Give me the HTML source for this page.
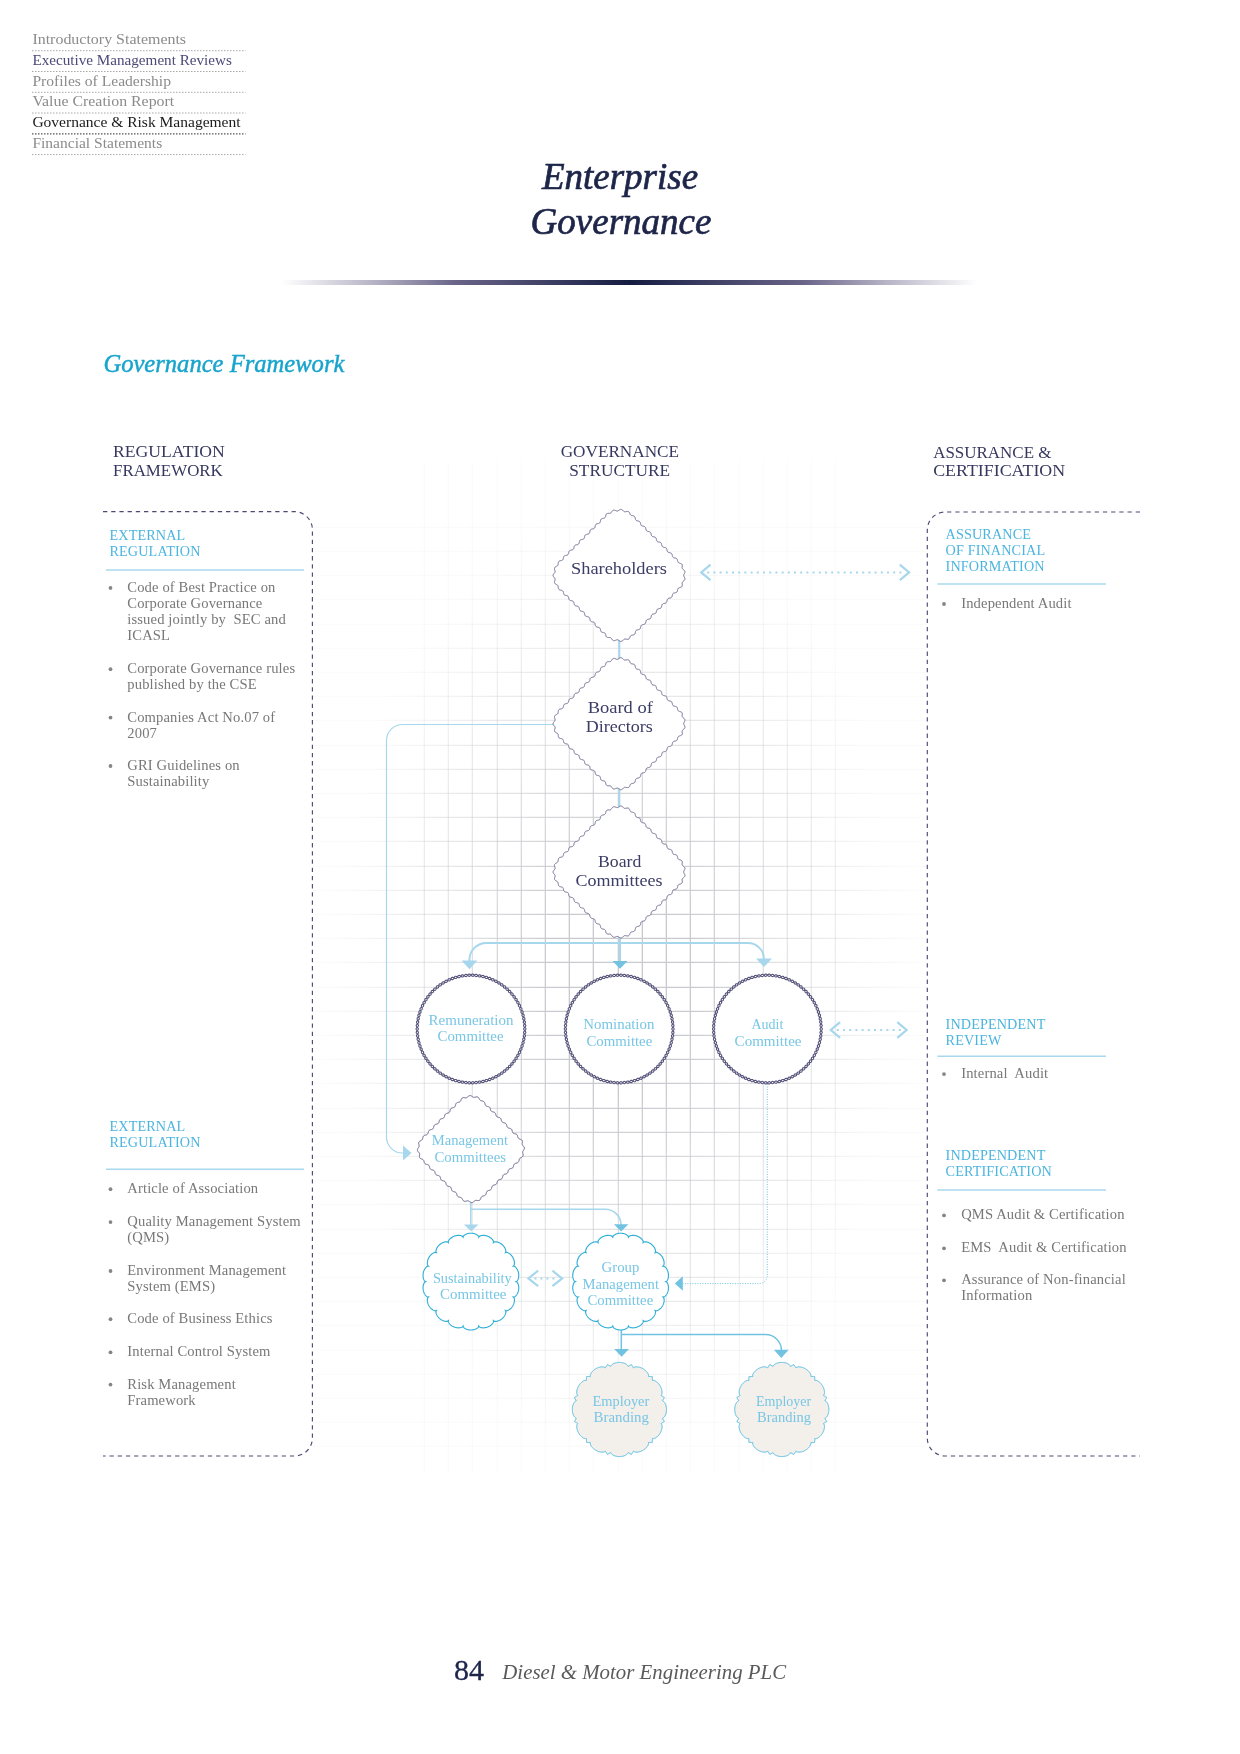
<!DOCTYPE html>
<html><head><meta charset="utf-8"><title>Enterprise Governance</title>
<style>
html,body{margin:0;padding:0;background:#fff;}
body{width:1240px;height:1754px;overflow:hidden;position:relative;}
svg{position:absolute;left:0;top:0;display:block;will-change:transform;}
text{font-family:"Liberation Serif",serif;white-space:pre;}
</style></head><body>
<svg width="1240" height="1754" viewBox="0 0 1240 1754">
<text x="32.4" y="44.4" textLength="153.7" lengthAdjust="spacingAndGlyphs" style="font-size:15px;fill:#8b8b8b;">Introductory Statements</text>
<line x1="32" y1="50.7" x2="245.5" y2="50.7" stroke="#a8a8a8" stroke-width="1" stroke-dasharray="1.5 1.5"/>
<text x="32.4" y="65" textLength="199.5" lengthAdjust="spacingAndGlyphs" style="font-size:15px;fill:#4b4a78;">Executive Management Reviews</text>
<line x1="32" y1="71.5" x2="245.5" y2="71.5" stroke="#a8a8a8" stroke-width="1" stroke-dasharray="1.5 1.5"/>
<text x="32.4" y="85.6" textLength="138.6" lengthAdjust="spacingAndGlyphs" style="font-size:15px;fill:#8b8b8b;">Profiles of Leadership</text>
<line x1="32" y1="92.3" x2="245.5" y2="92.3" stroke="#a8a8a8" stroke-width="1" stroke-dasharray="1.5 1.5"/>
<text x="32.4" y="106.2" textLength="141.8" lengthAdjust="spacingAndGlyphs" style="font-size:15px;fill:#8b8b8b;">Value Creation Report</text>
<line x1="32" y1="113" x2="245.5" y2="113" stroke="#a8a8a8" stroke-width="1" stroke-dasharray="1.5 1.5"/>
<text x="32.4" y="127" textLength="208.2" lengthAdjust="spacingAndGlyphs" style="font-size:15px;fill:#1b1b1b;">Governance &amp; Risk Management</text>
<line x1="32" y1="133.9" x2="245.5" y2="133.9" stroke="#2a2a2a" stroke-width="1" stroke-dasharray="1.5 1.5"/>
<text x="32.4" y="147.8" textLength="129.8" lengthAdjust="spacingAndGlyphs" style="font-size:15px;fill:#8b8b8b;">Financial Statements</text>
<line x1="32" y1="154.6" x2="245.5" y2="154.6" stroke="#a8a8a8" stroke-width="1" stroke-dasharray="1.5 1.5"/>
<text x="620" y="188.7" text-anchor="middle" style="font-size:37px;fill:#1d2549;font-style:italic;" stroke="#1d2549" stroke-width="0.7">Enterprise</text>
<text x="621" y="233.9" text-anchor="middle" style="font-size:37px;fill:#1d2549;font-style:italic;" stroke="#1d2549" stroke-width="0.7">Governance</text>
<defs><linearGradient id="rule" x1="282" x2="977" y1="0" y2="0" gradientUnits="userSpaceOnUse"><stop offset="0" stop-color="#4a4470" stop-opacity="0"/><stop offset="0.13" stop-color="#4a4470" stop-opacity="0.4"/><stop offset="0.25" stop-color="#433d6a" stop-opacity="0.8"/><stop offset="0.5" stop-color="#141c40" stop-opacity="1"/><stop offset="0.75" stop-color="#433d6a" stop-opacity="0.8"/><stop offset="0.87" stop-color="#4a4470" stop-opacity="0.4"/><stop offset="1" stop-color="#4a4470" stop-opacity="0"/></linearGradient></defs>
<rect x="282" y="280" width="695" height="5" fill="url(#rule)"/>
<text x="103.4" y="372" textLength="241" lengthAdjust="spacingAndGlyphs" style="font-size:24.6px;fill:#17a4cd;font-style:italic;" stroke="#17a4cd" stroke-width="0.45">Governance Framework</text>
<text x="113" y="457" textLength="111.8" lengthAdjust="spacingAndGlyphs" style="font-size:17.3px;fill:#36395f;">REGULATION</text>
<text x="113" y="475.6" textLength="109.8" lengthAdjust="spacingAndGlyphs" style="font-size:17.3px;fill:#36395f;">FRAMEWORK</text>
<text x="560.7" y="457" textLength="118.3" lengthAdjust="spacingAndGlyphs" style="font-size:17.3px;fill:#36395f;">GOVERNANCE</text>
<text x="569.2" y="475.6" textLength="101" lengthAdjust="spacingAndGlyphs" style="font-size:17.3px;fill:#36395f;">STRUCTURE</text>
<text x="933.2" y="457.5" textLength="118.3" lengthAdjust="spacingAndGlyphs" style="font-size:17.3px;fill:#36395f;">ASSURANCE &amp;</text>
<text x="933.2" y="476" textLength="132" lengthAdjust="spacingAndGlyphs" style="font-size:17.3px;fill:#36395f;">CERTIFICATION</text>
<defs>
<radialGradient id="gmh" cx="620" cy="980" r="1" gradientUnits="userSpaceOnUse" gradientTransform="translate(620 980) scale(300 480) translate(-620 -980)"><stop offset="0" stop-color="#fff" stop-opacity="1"/><stop offset="0.24" stop-color="#fff" stop-opacity="1"/><stop offset="0.37" stop-color="#fff" stop-opacity="0.8"/><stop offset="0.57" stop-color="#fff" stop-opacity="0.47"/><stop offset="0.68" stop-color="#fff" stop-opacity="0.4"/><stop offset="0.8" stop-color="#fff" stop-opacity="0.24"/><stop offset="0.9" stop-color="#fff" stop-opacity="0.14"/><stop offset="1.0" stop-color="#fff" stop-opacity="0.07"/></radialGradient>
<radialGradient id="gmv" cx="620" cy="980" r="1" gradientUnits="userSpaceOnUse" gradientTransform="translate(620 980) scale(300 480) translate(-620 -980)"><stop offset="0" stop-color="#fff" stop-opacity="1"/><stop offset="0.24" stop-color="#fff" stop-opacity="1"/><stop offset="0.37" stop-color="#fff" stop-opacity="0.8"/><stop offset="0.57" stop-color="#fff" stop-opacity="0.47"/><stop offset="0.68" stop-color="#fff" stop-opacity="0.4"/><stop offset="0.8" stop-color="#fff" stop-opacity="0.24"/><stop offset="0.9" stop-color="#fff" stop-opacity="0.14"/><stop offset="1.0" stop-color="#fff" stop-opacity="0.07"/></radialGradient>
<mask id="mh" maskUnits="userSpaceOnUse" x="0" y="0" width="1240" height="1754"><rect x="0" y="0" width="1240" height="1754" fill="url(#gmh)"/></mask>
<mask id="mv" maskUnits="userSpaceOnUse" x="0" y="0" width="1240" height="1754"><rect x="0" y="0" width="1240" height="1754" fill="url(#gmv)"/></mask>
</defs>
<path d="M313,527.4 H927 M313,551.4 H927 M313,575.4 H927 M313,599.4 H927 M313,624.4 H927 M313,648.4 H927 M313,672.4 H927 M313,696.4 H927 M313,720.4 H927 M313,745.4 H927 M313,769.4 H927 M313,793.4 H927 M313,817.4 H927 M313,841.4 H927 M313,866.4 H927 M313,890.4 H927 M313,914.4 H927 M313,938.4 H927 M313,962.4 H927 M313,987.4 H927 M313,1011.4 H927 M313,1035.4 H927 M313,1059.4 H927 M313,1083.4 H927 M313,1108.4 H927 M313,1132.4 H927 M313,1156.4 H927 M313,1180.4 H927 M313,1204.4 H927 M313,1229.4 H927 M313,1253.4 H927 M313,1277.4 H927 M313,1301.4 H927 M313,1325.4 H927 M313,1350.4 H927 M313,1374.4 H927 M313,1398.4 H927 M313,1422.4 H927 M313,1446.4 H927" stroke="#c9cacf" stroke-width="1.3" fill="none" mask="url(#mh)"/>
<path d="M424.35,462 V1472 M448.35,462 V1472 M472.35,462 V1472 M497.35,462 V1472 M521.35,462 V1472 M545.35,462 V1472 M569.35,462 V1472 M593.35,462 V1472 M618.35,462 V1472 M642.35,462 V1472 M666.35,462 V1472 M690.35,462 V1472 M714.35,462 V1472 M739.35,462 V1472 M763.35,462 V1472 M787.35,462 V1472 M811.35,462 V1472 M835.35,462 V1472" stroke="#c9cacf" stroke-width="1.3" fill="none" mask="url(#mv)"/>
<path d="M103,511.6 H294.4 A18,18 0 0 1 312.4,529.6 V1438 A18,18 0 0 1 294.4,1456 H103" fill="none" stroke="#4c4a72" stroke-width="1.15" stroke-dasharray="4.3 3.9"/>
<path d="M1140,512 H945.3 A18,18 0 0 0 927.3,530 V1438 A18,18 0 0 0 945.3,1456 H1140" fill="none" stroke="#4c4a72" stroke-width="1.15" stroke-dasharray="4.3 3.9"/>
<text x="109.5" y="539.7" style="font-size:14.2px;fill:#4cb5df;letter-spacing:0.12px;">EXTERNAL</text>
<text x="109.5" y="555.7" style="font-size:14.2px;fill:#4cb5df;letter-spacing:0.12px;">REGULATION</text>
<line x1="106" y1="570" x2="304" y2="570" stroke="#a9d9ee" stroke-width="1.6"/>
<circle cx="110.5" cy="587.9" r="1.9" fill="#858585"/>
<text x="127.3" y="591.9" style="font-size:14.6px;fill:#787878;letter-spacing:0.13px;">Code of Best Practice on</text>
<text x="127.3" y="607.9" style="font-size:14.6px;fill:#787878;letter-spacing:0.13px;">Corporate Governance</text>
<text x="127.3" y="623.9" style="font-size:14.6px;fill:#787878;letter-spacing:0.13px;">issued jointly by  SEC and</text>
<text x="127.3" y="639.9" style="font-size:14.6px;fill:#787878;letter-spacing:0.13px;">ICASL</text>
<circle cx="110.5" cy="669.2" r="1.9" fill="#858585"/>
<text x="127.3" y="673.2" style="font-size:14.6px;fill:#787878;letter-spacing:0.13px;">Corporate Governance rules</text>
<text x="127.3" y="689.2" style="font-size:14.6px;fill:#787878;letter-spacing:0.13px;">published by the CSE</text>
<circle cx="110.5" cy="717.6" r="1.9" fill="#858585"/>
<text x="127.3" y="721.6" style="font-size:14.6px;fill:#787878;letter-spacing:0.13px;">Companies Act No.07 of</text>
<text x="127.3" y="737.6" style="font-size:14.6px;fill:#787878;letter-spacing:0.13px;">2007</text>
<circle cx="110.5" cy="766" r="1.9" fill="#858585"/>
<text x="127.3" y="770" style="font-size:14.6px;fill:#787878;letter-spacing:0.13px;">GRI Guidelines on</text>
<text x="127.3" y="786" style="font-size:14.6px;fill:#787878;letter-spacing:0.13px;">Sustainability</text>
<text x="109.5" y="1131.4" style="font-size:14.2px;fill:#4cb5df;letter-spacing:0.12px;">EXTERNAL</text>
<text x="109.5" y="1147.4" style="font-size:14.2px;fill:#4cb5df;letter-spacing:0.12px;">REGULATION</text>
<line x1="106" y1="1169.3" x2="304" y2="1169.3" stroke="#a9d9ee" stroke-width="1.6"/>
<circle cx="110.5" cy="1189.2" r="1.9" fill="#858585"/>
<text x="127.3" y="1193.2" style="font-size:14.6px;fill:#787878;letter-spacing:0.13px;">Article of Association</text>
<circle cx="110.5" cy="1222.1" r="1.9" fill="#858585"/>
<text x="127.3" y="1226.1" style="font-size:14.6px;fill:#787878;letter-spacing:0.13px;">Quality Management System</text>
<text x="127.3" y="1242.1" style="font-size:14.6px;fill:#787878;letter-spacing:0.13px;">(QMS)</text>
<circle cx="110.5" cy="1271" r="1.9" fill="#858585"/>
<text x="127.3" y="1275" style="font-size:14.6px;fill:#787878;letter-spacing:0.13px;">Environment Management</text>
<text x="127.3" y="1291" style="font-size:14.6px;fill:#787878;letter-spacing:0.13px;">System (EMS)</text>
<circle cx="110.5" cy="1319.2" r="1.9" fill="#858585"/>
<text x="127.3" y="1323.2" style="font-size:14.6px;fill:#787878;letter-spacing:0.13px;">Code of Business Ethics</text>
<circle cx="110.5" cy="1352.3" r="1.9" fill="#858585"/>
<text x="127.3" y="1356.3" style="font-size:14.6px;fill:#787878;letter-spacing:0.13px;">Internal Control System</text>
<circle cx="110.5" cy="1384.6" r="1.9" fill="#858585"/>
<text x="127.3" y="1388.6" style="font-size:14.6px;fill:#787878;letter-spacing:0.13px;">Risk Management</text>
<text x="127.3" y="1404.6" style="font-size:14.6px;fill:#787878;letter-spacing:0.13px;">Framework</text>
<text x="945.6" y="538.8" style="font-size:14.2px;fill:#4cb5df;letter-spacing:0.12px;">ASSURANCE</text>
<text x="945.6" y="554.8" style="font-size:14.2px;fill:#4cb5df;letter-spacing:0.12px;">OF FINANCIAL</text>
<text x="945.6" y="570.8" style="font-size:14.2px;fill:#4cb5df;letter-spacing:0.12px;">INFORMATION</text>
<line x1="937.3" y1="584" x2="1106" y2="584" stroke="#a9d9ee" stroke-width="1.6"/>
<circle cx="944" cy="604" r="1.9" fill="#858585"/>
<text x="961.2" y="608" style="font-size:14.6px;fill:#787878;letter-spacing:0.13px;">Independent Audit</text>
<text x="945.6" y="1029.3" style="font-size:14.2px;fill:#4cb5df;letter-spacing:0.12px;">INDEPENDENT</text>
<text x="945.6" y="1045.3" style="font-size:14.2px;fill:#4cb5df;letter-spacing:0.12px;">REVIEW</text>
<line x1="937.3" y1="1056.2" x2="1106" y2="1056.2" stroke="#a9d9ee" stroke-width="1.6"/>
<circle cx="944" cy="1074.1" r="1.9" fill="#858585"/>
<text x="961.2" y="1078.1" style="font-size:14.6px;fill:#787878;letter-spacing:0.13px;">Internal  Audit</text>
<text x="945.6" y="1160.4" style="font-size:14.2px;fill:#4cb5df;letter-spacing:0.12px;">INDEPENDENT</text>
<text x="945.6" y="1176.4" style="font-size:14.2px;fill:#4cb5df;letter-spacing:0.12px;">CERTIFICATION</text>
<line x1="937.3" y1="1190" x2="1106" y2="1190" stroke="#a9d9ee" stroke-width="1.6"/>
<circle cx="944" cy="1215.4" r="1.9" fill="#858585"/>
<text x="961.2" y="1219.4" style="font-size:14.6px;fill:#787878;letter-spacing:0.13px;">QMS Audit &amp; Certification</text>
<circle cx="944" cy="1248.3" r="1.9" fill="#858585"/>
<text x="961.2" y="1252.3" style="font-size:14.6px;fill:#787878;letter-spacing:0.13px;">EMS  Audit &amp; Certification</text>
<circle cx="944" cy="1280.3" r="1.9" fill="#858585"/>
<text x="961.2" y="1284.3" style="font-size:14.6px;fill:#787878;letter-spacing:0.13px;">Assurance of Non-financial</text>
<text x="961.2" y="1300.3" style="font-size:14.6px;fill:#787878;letter-spacing:0.13px;">Information</text>
<path d="M619.3,640 V660 M619.3,788 V807" stroke="#a6d7ec" stroke-width="2" fill="none"/>
<path d="M553.5,724.5 H402.5 A16,16 0 0 0 386.5,740.5 V1137 A16,16 0 0 0 402.5,1153 H404" stroke="#a6d7ec" stroke-width="1.2" fill="none"/>
<polygon points="403,1145.6 411.5,1153 403,1160.5" fill="#a6d7ec"/>
<path d="M620,937 V961 M469.4,961 V959.9 A17,17 0 0 1 486.4,942.9 H747.9 A16,16 0 0 1 763.9,958.9 V961" stroke="#a6d7ec" stroke-width="2" fill="none"/>
<polygon points="461.6,960.5 477.4,960.5 469.5,969.2" fill="#a6d7ec"/>
<polygon points="612.5,961 627.5,961 620,968.8" fill="#72c3e1"/>
<polygon points="756,958.5 772,958.5 764,966.9" fill="#a6d7ec"/>
<path d="M470.8,1202 V1225 M470.8,1209.2 H605 A16,16 0 0 1 621.1,1225.2" stroke="#a6d7ec" stroke-width="1.5" fill="none"/>
<polygon points="463.9,1224.4 478.4,1224.4 471.1,1231.3" fill="#a6d7ec"/>
<polygon points="613.9,1224.2 628.4,1224.2 621.1,1231.5" fill="#72c3e1"/>
<path d="M621.3,1330 V1350 M621.3,1334.5 H765.5 A16,16 0 0 1 781.5,1350.5" stroke="#72c3e1" stroke-width="1.5" fill="none"/>
<polygon points="614.2,1349 629,1349 621.6,1356.8" fill="#72c3e1"/>
<polygon points="773.9,1349.8 788.7,1349.8 781.3,1357.9" fill="#72c3e1"/>
<path d="M767.3,1084 V1275.6 A8,8 0 0 1 759.3,1283.6 H682.6" stroke="#72c3e1" stroke-width="1" stroke-dasharray="1 1.5" fill="none"/>
<polygon points="682.8,1276.3 682.8,1290.8 674.8,1283.6" fill="#72c3e1"/>
<path d="M710.5,564.6 L701.2,572.4 L710.5,580.2 M899.8,564.6 L909.1,572.4 L899.8,580.2" stroke="#a6d7ec" stroke-width="2.2" fill="none"/>
<path d="M707.2,572.4 H904.1" stroke="#a6d7ec" stroke-width="2" stroke-dasharray="2 4.2" fill="none"/>
<path d="M840.1,1022.2 L830.8,1030 L840.1,1037.8 M897.3,1022.2 L906.6,1030 L897.3,1037.8" stroke="#a6d7ec" stroke-width="2.2" fill="none"/>
<path d="M836.8,1030 H901.6" stroke="#a6d7ec" stroke-width="2" stroke-dasharray="2 4.2" fill="none"/>
<path d="M538.1,1270.7 L528.4,1278.4 L538.1,1286.1 M552.4,1270.7 L562.1,1278.4 L552.4,1286.1" stroke="#a6d7ec" stroke-width="2.2" fill="none"/>
<path d="M534.4,1278.4 H557.1" stroke="#a6d7ec" stroke-width="2" stroke-dasharray="2 4" fill="none"/>
<path d="M632.64,515.67 L632.81,515.7 L632.98,515.74 L633.15,515.78 L633.32,515.82 L633.48,515.86 L633.64,515.91 L633.79,515.97 L633.94,516.03 L634.07,516.1 L634.21,516.17 L634.33,516.26 L634.44,516.35 L634.55,516.45 L634.65,516.56 L634.73,516.68 L634.81,516.81 L634.89,516.94 L634.95,517.08 L635.01,517.23 L635.06,517.39 L635.11,517.55 L635.15,517.71 L635.19,517.88 L635.23,518.05 L635.26,518.23 L635.3,518.4 L635.33,518.57 L635.37,518.74 L635.4,518.91 L635.45,519.08 L635.49,519.24 L635.55,519.39 L635.6,519.54 L635.67,519.68 L635.74,519.82 L635.82,519.95 L635.91,520.06 L636.01,520.17 L636.12,520.28 L636.23,520.37 L636.35,520.45 L636.48,520.53 L636.62,520.6 L636.77,520.66 L636.92,520.72 L637.08,520.76 L637.24,520.81 L637.41,520.85 L637.58,520.89 L637.75,520.92 L637.92,520.96 L638.1,520.99 L638.27,521.03 L638.44,521.06 L638.61,521.1 L638.77,521.15 L638.93,521.2 L639.08,521.25 L639.23,521.31 L639.36,521.38 L639.49,521.46 L639.62,521.54 L639.73,521.64 L639.84,521.74 L639.93,521.85 L640.02,521.97 L640.1,522.1 L640.18,522.23 L640.24,522.37 L640.3,522.52 L640.35,522.68 L640.4,522.84 L640.44,523 L640.48,523.17 L640.51,523.34 L640.55,523.52 L640.58,523.69 L640.62,523.86 L640.65,524.03 L640.69,524.2 L640.73,524.37 L640.78,524.53 L640.83,524.68 L640.89,524.83 L640.96,524.97 L641.03,525.11 L641.11,525.23 L641.2,525.35 L641.3,525.46 L641.4,525.56 L641.52,525.66 L641.64,525.74 L641.77,525.82 L641.91,525.89 L642.06,525.95 L642.21,526 L642.37,526.05 L642.53,526.1 L642.7,526.14 L642.87,526.17 L643.04,526.21 L643.21,526.24 L643.39,526.28 L643.56,526.31 L643.73,526.35 L643.9,526.39 L644.06,526.43 L644.22,526.48 L644.37,526.54 L644.51,526.6 L644.65,526.67 L644.78,526.75 L644.91,526.83 L645.02,526.93 L645.12,527.03 L645.22,527.14 L645.31,527.26 L645.39,527.38 L645.46,527.52 L645.53,527.66 L645.59,527.81 L645.64,527.97 L645.68,528.13 L645.73,528.29 L645.76,528.46 L645.8,528.63 L645.84,528.81 L645.87,528.98 L645.9,529.15 L645.94,529.32 L645.98,529.49 L646.02,529.66 L646.07,529.82 L646.12,529.97 L646.18,530.12 L646.25,530.26 L646.32,530.4 L646.4,530.52 L646.49,530.64 L646.59,530.75 L646.69,530.85 L646.81,530.95 L646.93,531.03 L647.06,531.11 L647.2,531.17 L647.35,531.24 L647.5,531.29 L647.66,531.34 L647.82,531.38 L647.99,531.42 L648.16,531.46 L648.33,531.5 L648.5,531.53 L648.68,531.56 L648.85,531.6 L649.02,531.64 L649.19,531.68 L649.35,531.72 L649.51,531.77 L649.66,531.83 L649.8,531.89 L649.94,531.96 L650.07,532.04 L650.19,532.12 L650.31,532.21 L650.41,532.32 L650.51,532.43 L650.6,532.55 L650.68,532.67 L650.75,532.81 L650.81,532.95 L650.87,533.1 L650.92,533.26 L650.97,533.42 L651.01,533.58 L651.05,533.75 L651.09,533.92 L651.12,534.1 L651.16,534.27 L651.19,534.44 L651.23,534.61 L651.27,534.78 L651.31,534.95 L651.36,535.11 L651.41,535.26 L651.47,535.41 L651.53,535.55 L651.61,535.69 L651.69,535.81 L651.78,535.93 L651.87,536.04 L651.98,536.14 L652.1,536.23 L652.22,536.32 L652.35,536.39 L652.49,536.46 L652.64,536.52 L652.79,536.58 L652.95,536.63 L653.11,536.67 L653.28,536.71 L653.45,536.75 L653.62,536.78 L653.79,536.82 L653.97,536.85 L654.14,536.89 L654.31,536.92 L654.48,536.96 L654.64,537.01 L654.8,537.06 L654.95,537.11 L655.09,537.18 L655.23,537.25 L655.36,537.32 L655.48,537.41 L655.6,537.5 L655.7,537.6 L655.8,537.72 L655.89,537.84 L655.97,537.96 L656.04,538.1 L656.1,538.24 L656.16,538.39 L656.21,538.55 L656.26,538.71 L656.3,538.87 L656.34,539.04 L656.37,539.21 L656.41,539.39 L656.44,539.56 L656.48,539.73 L656.51,539.9 L656.55,540.07 L656.6,540.24 L656.64,540.4 L656.7,540.55 L656.75,540.7 L656.82,540.84 L656.89,540.97 L656.98,541.1 L657.06,541.22 L657.16,541.33 L657.27,541.43 L657.38,541.52 L657.51,541.6 L657.64,541.68 L657.78,541.75 L657.93,541.81 L658.08,541.86 L658.24,541.91 L658.4,541.96 L658.57,542 L658.74,542.03 L658.91,542.07 L659.08,542.1 L659.26,542.14 L659.43,542.17 L659.6,542.21 L659.76,542.25 L659.93,542.3 L660.08,542.35 L660.24,542.4 L660.38,542.46 L660.52,542.53 L660.65,542.61 L660.77,542.7 L660.88,542.79 L660.99,542.89 L661.09,543 L661.17,543.12 L661.25,543.25 L661.33,543.39 L661.39,543.53 L661.45,543.68 L661.5,543.84 L661.55,544 L661.59,544.16 L661.63,544.33 L661.66,544.5 L661.7,544.68 L661.73,544.85 L661.76,545.02 L661.8,545.19 L661.84,545.36 L661.88,545.53 L661.93,545.69 L661.98,545.84 L662.04,545.99 L662.11,546.13 L662.18,546.26 L662.26,546.39 L662.35,546.51 L662.45,546.62 L662.56,546.72 L662.67,546.81 L662.8,546.89 L662.93,546.97 L663.07,547.04 L663.21,547.1 L663.37,547.15 L663.53,547.2 L663.69,547.24 L663.86,547.28 L664.03,547.32 L664.2,547.36 L664.37,547.39 L664.55,547.42 L664.72,547.46 L664.89,547.5 L665.05,547.54 L665.22,547.58 L665.37,547.63 L665.53,547.69 L665.67,547.75 L665.81,547.82 L665.94,547.9 L666.06,547.98 L666.17,548.08 L666.28,548.18 L666.37,548.29 L666.46,548.41 L666.54,548.54 L666.61,548.68 L666.68,548.82 L666.73,548.97 L666.79,549.12 L666.83,549.29 L666.87,549.45 L666.91,549.62 L666.95,549.79 L666.98,549.97 L667.02,550.14 L667.05,550.31 L667.09,550.48 L667.13,550.65 L667.17,550.81 L667.22,550.97 L667.27,551.13 L667.33,551.28 L667.4,551.42 L667.47,551.55 L667.55,551.68 L667.64,551.8 L667.74,551.9 L667.85,552.01 L667.96,552.1 L668.09,552.18 L668.22,552.26 L668.36,552.32 L668.5,552.38 L668.66,552.44 L668.82,552.49 L668.98,552.53 L669.15,552.57 L669.32,552.61 L669.49,552.64 L669.66,552.68 L669.84,552.71 L670.01,552.75 L670.18,552.78 L670.34,552.83 L670.51,552.87 L670.66,552.92 L670.81,552.98 L670.96,553.04 L671.1,553.11 L671.23,553.19 L671.35,553.27 L671.46,553.37 L671.57,553.47 L671.66,553.58 L671.75,553.7 L671.83,553.83 L671.9,553.96 L671.96,554.11 L672.02,554.26 L672.07,554.41 L672.12,554.58 L672.16,554.74 L672.2,554.91 L672.24,555.08 L672.27,555.25 L672.3,555.43 L672.34,555.6 L672.38,555.77 L672.41,555.94 L672.46,556.1 L672.5,556.26 L672.56,556.42 L672.62,556.57 L672.68,556.71 L672.76,556.84 L672.84,556.97 L672.93,557.08 L673.03,557.19 L673.13,557.29 L673.25,557.38 L673.37,557.47 L673.51,557.54 L673.65,557.61 L673.79,557.67 L673.95,557.73 L674.1,557.77 L674.27,557.82 L674.44,557.86 L674.61,557.9 L674.78,557.93 L674.95,557.96 L675.13,558 L675.3,558.03 L675.47,558.07 L675.63,558.11 L675.8,558.16 L675.95,558.21 L676.1,558.26 L676.25,558.33 L676.39,558.4 L676.52,558.48 L676.64,558.56 L676.75,558.66 L676.85,558.76 L676.95,558.87 L677.04,558.99 L677.12,559.12 L677.19,559.25 L677.25,559.4 L677.31,559.55 L677.36,559.7 L677.41,559.86 L677.45,560.03 L677.49,560.2 L677.52,560.37 L677.56,560.54 L677.59,560.72 L677.63,560.89 L677.66,561.06 L677.7,561.23 L677.74,561.39 L677.79,561.55 L677.85,561.71 L677.9,561.86 L677.97,562 L678.05,562.13 L678.13,562.26 L678.22,562.37 L678.32,562.48 L678.42,562.58 L678.53,562.67 L678.65,562.75 L678.78,562.82 L678.91,562.89 L679.05,562.95 L679.2,563.01 L679.35,563.07 L679.51,563.12 L679.67,563.17 L679.84,563.21 L680.01,563.26 L680.18,563.31 L680.35,563.37 L680.52,563.42 L680.68,563.48 L680.84,563.54 L681,563.61 L681.15,563.69 L681.29,563.77 L681.43,563.86 L681.56,563.95 L681.67,564.05 L681.78,564.17 L681.88,564.28 L681.97,564.41 L682.04,564.54 L682.1,564.69 L682.16,564.83 L682.2,564.99 L682.23,565.14 L682.25,565.31 L682.27,565.47 L682.27,565.65 L682.27,565.82 L682.26,565.99 L682.25,566.17 L682.24,566.35 L682.22,566.52 L682.2,566.7 L682.18,566.87 L682.17,567.04 L682.15,567.21 L682.14,567.37 L682.14,567.53 L682.14,567.68 L682.16,567.83 L682.18,567.98 L682.2,568.12 L682.24,568.26 L682.29,568.39 L682.35,568.52 L682.42,568.64 L682.5,568.76 L682.59,568.88 L682.68,568.99 L682.79,569.1 L682.9,569.21 L683.03,569.32 L683.15,569.43 L683.28,569.54 L683.42,569.65 L683.56,569.76 L683.69,569.87 L683.83,569.98 L683.96,570.1 L684.09,570.21 L684.22,570.33 L684.34,570.46 L684.45,570.58 L684.55,570.72 L684.64,570.85 L684.72,570.99 L684.79,571.13 L684.85,571.27 L684.89,571.42 L684.92,571.57 L684.94,571.72 L684.94,571.87 L684.93,572.03 L684.91,572.19 L684.88,572.35 L684.84,572.51 L684.79,572.67 L684.73,572.83 L684.66,572.99 L684.59,573.14 L684.51,573.3 L684.43,573.46 L684.34,573.61 L684.26,573.77 L684.18,573.92 L684.1,574.07 L684.02,574.22 L683.95,574.37 L683.89,574.51 L683.83,574.66 L683.78,574.8 L683.75,574.94 L683.72,575.09 L683.7,575.23 L683.7,575.37 L683.7,575.51 L683.72,575.65 L683.74,575.79 L683.78,575.93 L683.83,576.07 L683.88,576.22 L683.95,576.36 L684.02,576.51 L684.09,576.66 L684.17,576.81 L684.26,576.96 L684.34,577.12 L684.43,577.27 L684.51,577.43 L684.59,577.58 L684.66,577.74 L684.73,577.9 L684.79,578.06 L684.85,578.22 L684.89,578.38 L684.92,578.54 L684.94,578.7 L684.95,578.85 L684.95,579.01 L684.93,579.16 L684.9,579.31 L684.86,579.46 L684.81,579.6 L684.74,579.74 L684.66,579.88 L684.57,580.02 L684.47,580.15 L684.36,580.27 L684.24,580.4 L684.12,580.52 L683.99,580.64 L683.86,580.75 L683.72,580.87 L683.58,580.98 L683.45,581.09 L683.31,581.2 L683.18,581.31 L683.05,581.41 L682.93,581.52 L682.82,581.63 L682.71,581.75 L682.61,581.86 L682.52,581.98 L682.45,582.1 L682.38,582.22 L682.32,582.35 L682.27,582.48 L682.23,582.62 L682.2,582.76 L682.18,582.9 L682.17,583.05 L682.17,583.21 L682.17,583.37 L682.18,583.53 L682.19,583.7 L682.21,583.87 L682.22,584.04 L682.24,584.21 L682.26,584.39 L682.28,584.56 L682.29,584.74 L682.3,584.92 L682.3,585.09 L682.3,585.26 L682.29,585.43 L682.26,585.59 L682.23,585.75 L682.19,585.9 L682.14,586.05 L682.08,586.19 L682.01,586.33 L681.92,586.46 L681.82,586.58 L681.72,586.69 L681.6,586.79 L681.48,586.89 L681.34,586.98 L681.2,587.06 L681.05,587.14 L680.89,587.21 L680.73,587.27 L680.57,587.33 L680.4,587.39 L680.23,587.44 L680.06,587.49 L679.89,587.54 L679.73,587.59 L679.56,587.64 L679.4,587.69 L679.25,587.74 L679.1,587.8 L678.96,587.86 L678.83,587.93 L678.7,588.01 L678.58,588.09 L678.47,588.17 L678.37,588.27 L678.27,588.38 L678.18,588.49 L678.09,588.62 L678.02,588.75 L677.95,588.89 L677.89,589.04 L677.84,589.19 L677.79,589.35 L677.75,589.52 L677.71,589.68 L677.67,589.85 L677.63,590.03 L677.6,590.2 L677.57,590.37 L677.53,590.55 L677.49,590.71 L677.45,590.88 L677.41,591.04 L677.35,591.2 L677.3,591.35 L677.23,591.49 L677.16,591.63 L677.09,591.76 L677,591.88 L676.9,591.99 L676.8,592.1 L676.69,592.19 L676.57,592.28 L676.44,592.36 L676.3,592.43 L676.16,592.49 L676.01,592.55 L675.85,592.6 L675.69,592.64 L675.52,592.68 L675.35,592.72 L675.18,592.76 L675.01,592.79 L674.83,592.83 L674.66,592.86 L674.49,592.9 L674.32,592.94 L674.16,592.98 L674,593.03 L673.85,593.08 L673.7,593.14 L673.56,593.21 L673.43,593.28 L673.3,593.37 L673.18,593.46 L673.08,593.56 L672.98,593.67 L672.89,593.78 L672.8,593.91 L672.73,594.04 L672.66,594.18 L672.6,594.33 L672.55,594.48 L672.5,594.64 L672.46,594.81 L672.42,594.97 L672.38,595.14 L672.35,595.32 L672.31,595.49 L672.28,595.66 L672.24,595.84 L672.21,596 L672.16,596.17 L672.12,596.33 L672.07,596.49 L672.01,596.64 L671.95,596.78 L671.88,596.92 L671.8,597.05 L671.71,597.17 L671.62,597.28 L671.51,597.38 L671.4,597.48 L671.28,597.57 L671.15,597.64 L671.01,597.71 L670.87,597.78 L670.72,597.83 L670.56,597.88 L670.4,597.93 L670.23,597.97 L670.06,598.01 L669.89,598.04 L669.72,598.08 L669.54,598.11 L669.37,598.15 L669.2,598.18 L669.03,598.22 L668.87,598.27 L668.71,598.32 L668.56,598.37 L668.41,598.43 L668.27,598.5 L668.14,598.57 L668.01,598.65 L667.9,598.75 L667.79,598.85 L667.69,598.95 L667.6,599.07 L667.52,599.2 L667.44,599.33 L667.38,599.47 L667.32,599.62 L667.26,599.77 L667.21,599.93 L667.17,600.1 L667.13,600.26 L667.1,600.43 L667.06,600.61 L667.03,600.78 L666.99,600.95 L666.96,601.12 L666.92,601.29 L666.88,601.46 L666.83,601.62 L666.78,601.78 L666.72,601.93 L666.66,602.07 L666.59,602.21 L666.51,602.34 L666.42,602.46 L666.33,602.57 L666.22,602.67 L666.11,602.77 L665.99,602.85 L665.86,602.93 L665.72,603 L665.58,603.06 L665.43,603.12 L665.27,603.17 L665.11,603.22 L664.94,603.26 L664.77,603.3 L664.6,603.33 L664.43,603.37 L664.25,603.4 L664.08,603.43 L663.91,603.47 L663.74,603.51 L663.58,603.55 L663.42,603.6 L663.27,603.66 L663.12,603.72 L662.98,603.78 L662.85,603.86 L662.72,603.94 L662.61,604.03 L662.5,604.13 L662.4,604.24 L662.31,604.36 L662.23,604.48 L662.15,604.62 L662.09,604.76 L662.03,604.91 L661.98,605.06 L661.93,605.22 L661.88,605.38 L661.85,605.55 L661.81,605.72 L661.77,605.9 L661.74,606.07 L661.71,606.24 L661.67,606.41 L661.63,606.58 L661.59,606.75 L661.54,606.91 L661.49,607.07 L661.44,607.22 L661.37,607.36 L661.3,607.5 L661.22,607.63 L661.13,607.75 L661.04,607.86 L660.93,607.96 L660.82,608.05 L660.7,608.14 L660.57,608.22 L660.43,608.29 L660.29,608.35 L660.14,608.41 L659.98,608.46 L659.82,608.5 L659.65,608.54 L659.48,608.58 L659.31,608.62 L659.14,608.65 L658.96,608.69 L658.79,608.72 L658.62,608.76 L658.45,608.8 L658.29,608.84 L658.13,608.89 L657.98,608.94 L657.83,609 L657.69,609.07 L657.56,609.15 L657.44,609.23 L657.32,609.32 L657.21,609.42 L657.11,609.53 L657.02,609.65 L656.94,609.77 L656.87,609.91 L656.8,610.05 L656.74,610.2 L656.69,610.35 L656.64,610.51 L656.6,610.67 L656.56,610.84 L656.52,611.01 L656.49,611.19 L656.45,611.36 L656.42,611.53 L656.38,611.7 L656.34,611.87 L656.3,612.04 L656.26,612.2 L656.21,612.36 L656.15,612.51 L656.08,612.65 L656.01,612.79 L655.93,612.91 L655.85,613.03 L655.75,613.15 L655.65,613.25 L655.53,613.34 L655.41,613.43 L655.28,613.51 L655.14,613.58 L655,613.64 L654.85,613.7 L654.69,613.75 L654.53,613.79 L654.36,613.83 L654.19,613.87 L654.02,613.91 L653.85,613.94 L653.68,613.97 L653.5,614.01 L653.33,614.05 L653.16,614.09 L653,614.13 L652.84,614.18 L652.69,614.23 L652.54,614.29 L652.4,614.36 L652.27,614.44 L652.15,614.52 L652.03,614.61 L651.92,614.71 L651.83,614.82 L651.74,614.94 L651.65,615.06 L651.58,615.2 L651.51,615.34 L651.45,615.49 L651.4,615.64 L651.35,615.8 L651.31,615.96 L651.27,616.13 L651.23,616.3 L651.2,616.48 L651.17,616.65 L651.13,616.82 L651.1,616.99 L651.06,617.16 L651.02,617.33 L650.97,617.49 L650.92,617.65 L650.86,617.8 L650.8,617.94 L650.73,618.07 L650.65,618.2 L650.56,618.32 L650.46,618.43 L650.36,618.54 L650.24,618.63 L650.12,618.72 L649.99,618.79 L649.86,618.86 L649.71,618.93 L649.56,618.98 L649.4,619.03 L649.24,619.08 L649.07,619.12 L648.9,619.16 L648.73,619.19 L648.56,619.23 L648.39,619.26 L648.21,619.3 L648.04,619.33 L647.88,619.37 L647.71,619.42 L647.55,619.46 L647.4,619.52 L647.25,619.58 L647.11,619.65 L646.98,619.72 L646.86,619.81 L646.74,619.9 L646.64,620 L646.54,620.11 L646.45,620.23 L646.37,620.35 L646.29,620.49 L646.23,620.63 L646.17,620.77 L646.11,620.93 L646.07,621.09 L646.02,621.25 L645.98,621.42 L645.95,621.59 L645.91,621.77 L645.88,621.94 L645.84,622.11 L645.81,622.28 L645.77,622.45 L645.73,622.62 L645.68,622.78 L645.63,622.93 L645.57,623.08 L645.51,623.23 L645.44,623.36 L645.36,623.49 L645.27,623.61 L645.17,623.72 L645.07,623.82 L644.96,623.92 L644.83,624 L644.7,624.08 L644.57,624.15 L644.42,624.21 L644.27,624.27 L644.11,624.32 L643.95,624.37 L643.78,624.41 L643.61,624.44 L643.44,624.48 L643.27,624.51 L643.1,624.55 L642.92,624.58 L642.75,624.62 L642.59,624.66 L642.42,624.7 L642.26,624.75 L642.11,624.81 L641.96,624.87 L641.83,624.94 L641.69,625.01 L641.57,625.09 L641.45,625.19 L641.35,625.29 L641.25,625.4 L641.16,625.51 L641.08,625.64 L641,625.77 L640.94,625.92 L640.88,626.06 L640.83,626.22 L640.78,626.38 L640.74,626.54 L640.7,626.71 L640.66,626.88 L640.63,627.05 L640.59,627.23 L640.56,627.4 L640.52,627.57 L640.48,627.74 L640.44,627.91 L640.4,628.07 L640.34,628.22 L640.29,628.37 L640.22,628.52 L640.15,628.65 L640.07,628.78 L639.98,628.9 L639.89,629.01 L639.78,629.11 L639.67,629.21 L639.55,629.29 L639.42,629.37 L639.28,629.44 L639.13,629.5 L638.98,629.56 L638.82,629.61 L638.66,629.65 L638.49,629.69 L638.32,629.73 L638.15,629.77 L637.98,629.8 L637.81,629.83 L637.63,629.87 L637.46,629.91 L637.3,629.95 L637.13,629.99 L636.97,630.04 L636.82,630.09 L636.68,630.15 L636.54,630.22 L636.4,630.3 L636.28,630.38 L636.17,630.47 L636.06,630.58 L635.96,630.69 L635.87,630.8 L635.79,630.93 L635.72,631.06 L635.65,631.2 L635.59,631.35 L635.54,631.51 L635.49,631.67 L635.45,631.83 L635.41,632 L635.37,632.17 L635.34,632.34 L635.31,632.52 L635.27,632.69 L635.24,632.86 L635.2,633.03 L635.15,633.2 L635.11,633.36 L635.06,633.51 L635,633.66 L634.93,633.81 L634.86,633.94 L634.78,634.07 L634.69,634.19 L634.6,634.3 L634.49,634.4 L634.38,634.49 L634.26,634.58 L634.13,634.66 L633.99,634.73 L633.84,634.79 L633.69,634.84 L633.53,634.89 L633.37,634.94 L633.21,634.98 L633.04,635.02 L632.86,635.05 L632.69,635.09 L632.52,635.12 L632.34,635.15 L632.18,635.19 L632.01,635.22 L631.85,635.26 L631.69,635.3 L631.54,635.34 L631.39,635.39 L631.25,635.45 L631.12,635.51 L631,635.58 L630.88,635.66 L630.77,635.75 L630.66,635.84 L630.57,635.95 L630.48,636.06 L630.39,636.18 L630.31,636.31 L630.24,636.44 L630.17,636.59 L630.1,636.74 L630.03,636.89 L629.97,637.05 L629.9,637.21 L629.84,637.37 L629.77,637.54 L629.7,637.7 L629.63,637.86 L629.55,638.02 L629.47,638.17 L629.39,638.32 L629.3,638.46 L629.2,638.59 L629.1,638.72 L628.99,638.83 L628.87,638.94 L628.75,639.03 L628.62,639.11 L628.48,639.18 L628.34,639.24 L628.19,639.29 L628.04,639.32 L627.88,639.35 L627.72,639.36 L627.56,639.36 L627.39,639.36 L627.22,639.34 L627.04,639.32 L626.87,639.3 L626.7,639.27 L626.52,639.23 L626.35,639.2 L626.18,639.16 L626.01,639.13 L625.84,639.1 L625.68,639.07 L625.52,639.05 L625.36,639.03 L625.21,639.02 L625.06,639.02 L624.91,639.03 L624.77,639.04 L624.63,639.07 L624.49,639.11 L624.36,639.16 L624.23,639.22 L624.11,639.29 L623.98,639.37 L623.86,639.45 L623.74,639.55 L623.62,639.66 L623.5,639.77 L623.38,639.88 L623.25,640.01 L623.13,640.13 L623.01,640.25 L622.89,640.38 L622.76,640.5 L622.63,640.63 L622.5,640.74 L622.37,640.85 L622.23,640.96 L622.1,641.05 L621.95,641.14 L621.81,641.21 L621.67,641.28 L621.52,641.33 L621.37,641.37 L621.22,641.39 L621.07,641.4 L620.91,641.4 L620.76,641.39 L620.6,641.36 L620.45,641.33 L620.29,641.28 L620.14,641.22 L619.99,641.15 L619.83,641.07 L619.68,640.98 L619.53,640.89 L619.38,640.8 L619.23,640.7 L619.09,640.6 L618.94,640.5 L618.8,640.41 L618.66,640.31 L618.52,640.22 L618.38,640.14 L618.24,640.07 L618.1,640 L617.96,639.94 L617.83,639.89 L617.69,639.85 L617.55,639.82 L617.41,639.81 L617.27,639.8 L617.13,639.81 L616.98,639.82 L616.84,639.85 L616.69,639.88 L616.54,639.93 L616.39,639.98 L616.24,640.03 L616.08,640.1 L615.92,640.16 L615.76,640.23 L615.6,640.3 L615.44,640.37 L615.27,640.43 L615.11,640.5 L614.94,640.55 L614.78,640.6 L614.61,640.65 L614.45,640.68 L614.29,640.71 L614.13,640.72 L613.97,640.73 L613.81,640.72 L613.66,640.69 L613.51,640.66 L613.37,640.61 L613.22,640.55 L613.09,640.48 L612.95,640.4 L612.83,640.3 L612.7,640.2 L612.58,640.08 L612.47,639.96 L612.36,639.83 L612.25,639.69 L612.14,639.55 L612.04,639.4 L611.94,639.26 L611.85,639.11 L611.75,638.96 L611.66,638.82 L611.56,638.68 L611.47,638.54 L611.37,638.41 L611.27,638.29 L611.17,638.18 L611.06,638.07 L610.95,637.97 L610.84,637.88 L610.72,637.81 L610.6,637.74 L610.47,637.68 L610.34,637.63 L610.2,637.59 L610.06,637.56 L609.91,637.53 L609.75,637.51 L609.59,637.5 L609.43,637.5 L609.26,637.49 L609.09,637.49 L608.92,637.5 L608.74,637.5 L608.56,637.5 L608.39,637.5 L608.21,637.49 L608.04,637.48 L607.86,637.46 L607.69,637.44 L607.53,637.41 L607.37,637.37 L607.22,637.32 L607.07,637.26 L606.93,637.2 L606.8,637.12 L606.67,637.03 L606.56,636.93 L606.45,636.82 L606.35,636.7 L606.26,636.57 L606.18,636.43 L606.1,636.29 L606.04,636.14 L605.98,635.98 L605.93,635.82 L605.88,635.65 L605.84,635.48 L605.8,635.3 L605.76,635.13 L605.73,634.96 L605.7,634.79 L605.66,634.62 L605.62,634.45 L605.57,634.29 L605.52,634.13 L605.47,633.98 L605.41,633.83 L605.34,633.69 L605.26,633.56 L605.18,633.44 L605.08,633.32 L604.98,633.22 L604.87,633.12 L604.75,633.03 L604.63,632.95 L604.49,632.88 L604.35,632.81 L604.2,632.76 L604.05,632.7 L603.88,632.66 L603.72,632.61 L603.55,632.58 L603.38,632.54 L603.21,632.5 L603.03,632.47 L602.86,632.44 L602.69,632.4 L602.52,632.36 L602.36,632.32 L602.2,632.27 L602.04,632.22 L601.89,632.16 L601.75,632.1 L601.61,632.02 L601.49,631.94 L601.37,631.85 L601.26,631.76 L601.16,631.65 L601.06,631.54 L600.98,631.41 L600.9,631.28 L600.84,631.14 L600.77,631 L600.72,630.85 L600.67,630.69 L600.62,630.52 L600.58,630.36 L600.55,630.19 L600.51,630.01 L600.48,629.84 L600.44,629.67 L600.41,629.5 L600.37,629.33 L600.33,629.16 L600.29,629 L600.24,628.84 L600.18,628.69 L600.12,628.54 L600.05,628.4 L599.97,628.27 L599.89,628.15 L599.8,628.03 L599.69,627.93 L599.58,627.83 L599.46,627.74 L599.34,627.66 L599.2,627.59 L599.06,627.53 L598.91,627.47 L598.76,627.42 L598.6,627.37 L598.43,627.33 L598.26,627.29 L598.09,627.25 L597.92,627.22 L597.74,627.18 L597.57,627.15 L597.4,627.11 L597.23,627.07 L597.07,627.03 L596.91,626.98 L596.75,626.93 L596.6,626.87 L596.46,626.81 L596.33,626.74 L596.2,626.65 L596.08,626.57 L595.97,626.47 L595.87,626.36 L595.78,626.25 L595.69,626.12 L595.62,625.99 L595.55,625.85 L595.49,625.71 L595.43,625.56 L595.38,625.4 L595.34,625.23 L595.3,625.07 L595.26,624.9 L595.23,624.72 L595.19,624.55 L595.16,624.38 L595.12,624.21 L595.08,624.04 L595.04,623.87 L595,623.71 L594.95,623.55 L594.89,623.4 L594.83,623.25 L594.76,623.11 L594.69,622.98 L594.6,622.86 L594.51,622.75 L594.41,622.64 L594.3,622.54 L594.18,622.46 L594.05,622.38 L593.91,622.3 L593.77,622.24 L593.62,622.18 L593.47,622.13 L593.31,622.08 L593.14,622.04 L592.97,622 L592.8,621.97 L592.63,621.93 L592.45,621.9 L592.28,621.86 L592.11,621.83 L591.94,621.79 L591.78,621.74 L591.62,621.7 L591.46,621.64 L591.31,621.59 L591.17,621.52 L591.04,621.45 L590.91,621.37 L590.79,621.28 L590.68,621.18 L590.58,621.07 L590.49,620.96 L590.4,620.84 L590.33,620.7 L590.26,620.57 L590.2,620.42 L590.14,620.27 L590.1,620.11 L590.05,619.94 L590.01,619.78 L589.97,619.61 L589.94,619.44 L589.9,619.26 L589.87,619.09 L589.83,618.92 L589.8,618.75 L589.76,618.58 L589.71,618.42 L589.66,618.26 L589.61,618.11 L589.54,617.96 L589.48,617.82 L589.4,617.69 L589.31,617.57 L589.22,617.46 L589.12,617.35 L589.01,617.26 L588.89,617.17 L588.76,617.09 L588.62,617.02 L588.48,616.95 L588.33,616.89 L588.18,616.84 L588.02,616.79 L587.85,616.75 L587.68,616.71 L587.51,616.68 L587.34,616.64 L587.16,616.61 L586.99,616.58 L586.82,616.54 L586.65,616.5 L586.49,616.46 L586.33,616.41 L586.17,616.36 L586.02,616.3 L585.88,616.23 L585.75,616.16 L585.62,616.08 L585.5,615.99 L585.39,615.89 L585.29,615.78 L585.2,615.67 L585.12,615.55 L585.04,615.42 L584.97,615.28 L584.91,615.13 L584.86,614.98 L584.81,614.82 L584.76,614.66 L584.72,614.49 L584.69,614.32 L584.65,614.15 L584.62,613.97 L584.58,613.8 L584.55,613.63 L584.51,613.46 L584.47,613.29 L584.42,613.13 L584.37,612.97 L584.32,612.82 L584.26,612.67 L584.19,612.54 L584.11,612.41 L584.03,612.28 L583.93,612.17 L583.83,612.06 L583.72,611.97 L583.6,611.88 L583.47,611.8 L583.34,611.73 L583.19,611.66 L583.04,611.61 L582.89,611.55 L582.73,611.51 L582.56,611.47 L582.39,611.43 L582.22,611.39 L582.05,611.36 L581.87,611.32 L581.7,611.29 L581.53,611.25 L581.36,611.21 L581.2,611.17 L581.04,611.12 L580.88,611.07 L580.73,611.01 L580.59,610.95 L580.46,610.87 L580.33,610.79 L580.22,610.7 L580.11,610.6 L580.01,610.5 L579.91,610.38 L579.83,610.26 L579.75,610.13 L579.69,609.99 L579.62,609.84 L579.57,609.69 L579.52,609.53 L579.48,609.37 L579.44,609.2 L579.4,609.03 L579.36,608.86 L579.33,608.68 L579.3,608.51 L579.26,608.34 L579.22,608.17 L579.18,608 L579.14,607.84 L579.09,607.68 L579.03,607.53 L578.97,607.38 L578.9,607.25 L578.82,607.12 L578.74,606.99 L578.64,606.88 L578.54,606.78 L578.43,606.68 L578.31,606.59 L578.18,606.51 L578.05,606.44 L577.9,606.38 L577.75,606.32 L577.6,606.27 L577.44,606.22 L577.27,606.18 L577.1,606.14 L576.93,606.1 L576.76,606.07 L576.59,606.04 L576.41,606 L576.24,605.96 L576.07,605.93 L575.91,605.88 L575.75,605.84 L575.59,605.78 L575.45,605.72 L575.3,605.66 L575.17,605.58 L575.04,605.5 L574.93,605.41 L574.82,605.31 L574.72,605.21 L574.63,605.09 L574.54,604.97 L574.47,604.84 L574.4,604.7 L574.34,604.55 L574.28,604.4 L574.23,604.24 L574.19,604.08 L574.15,603.91 L574.11,603.74 L574.08,603.57 L574.04,603.39 L574.01,603.22 L573.97,603.05 L573.94,602.88 L573.9,602.71 L573.85,602.55 L573.8,602.39 L573.74,602.24 L573.68,602.1 L573.61,601.96 L573.53,601.83 L573.45,601.71 L573.35,601.59 L573.25,601.49 L573.14,601.39 L573.02,601.3 L572.89,601.22 L572.76,601.15 L572.61,601.09 L572.47,601.03 L572.31,600.98 L572.15,600.93 L571.98,600.89 L571.81,600.85 L571.64,600.82 L571.47,600.78 L571.3,600.75 L571.12,600.71 L570.95,600.68 L570.78,600.64 L570.62,600.6 L570.46,600.55 L570.3,600.5 L570.16,600.44 L570.02,600.37 L569.88,600.3 L569.76,600.21 L569.64,600.13 L569.53,600.03 L569.43,599.92 L569.34,599.8 L569.25,599.68 L569.18,599.55 L569.11,599.41 L569.05,599.26 L569,599.11 L568.95,598.95 L568.9,598.79 L568.86,598.62 L568.83,598.45 L568.79,598.28 L568.76,598.1 L568.72,597.93 L568.69,597.76 L568.65,597.59 L568.61,597.42 L568.56,597.26 L568.51,597.1 L568.46,596.95 L568.39,596.81 L568.32,596.67 L568.25,596.54 L568.16,596.42 L568.07,596.3 L567.96,596.2 L567.85,596.1 L567.73,596.02 L567.6,595.94 L567.47,595.87 L567.33,595.8 L567.18,595.74 L567.02,595.69 L566.86,595.65 L566.69,595.6 L566.52,595.57 L566.35,595.53 L566.18,595.5 L566.01,595.46 L565.83,595.43 L565.66,595.39 L565.49,595.35 L565.33,595.31 L565.17,595.26 L565.02,595.21 L564.87,595.15 L564.73,595.08 L564.59,595.01 L564.47,594.93 L564.35,594.84 L564.24,594.74 L564.14,594.63 L564.05,594.52 L563.97,594.39 L563.89,594.26 L563.82,594.12 L563.76,593.97 L563.71,593.82 L563.66,593.66 L563.62,593.5 L563.58,593.33 L563.54,593.16 L563.5,592.99 L563.47,592.81 L563.44,592.64 L563.4,592.47 L563.36,592.3 L563.32,592.13 L563.28,591.97 L563.23,591.81 L563.17,591.66 L563.11,591.52 L563.04,591.38 L562.96,591.25 L562.87,591.13 L562.78,591.02 L562.68,590.91 L562.56,590.82 L562.44,590.73 L562.32,590.65 L562.18,590.58 L562.04,590.51 L561.89,590.46 L561.73,590.41 L561.57,590.36 L561.4,590.32 L561.23,590.28 L561.06,590.24 L560.89,590.21 L560.72,590.18 L560.54,590.14 L560.37,590.1 L560.2,590.06 L560.04,590.02 L559.88,589.97 L559.73,589.92 L559.58,589.86 L559.44,589.79 L559.3,589.72 L559.18,589.64 L559.06,589.55 L558.95,589.45 L558.85,589.34 L558.76,589.22 L558.67,589.09 L558.59,588.95 L558.53,588.81 L558.47,588.65 L558.42,588.49 L558.38,588.33 L558.34,588.16 L558.31,587.99 L558.29,587.82 L558.27,587.64 L558.25,587.46 L558.23,587.29 L558.22,587.12 L558.2,586.94 L558.18,586.78 L558.16,586.61 L558.13,586.45 L558.1,586.3 L558.07,586.15 L558.02,586.01 L557.97,585.87 L557.91,585.74 L557.84,585.62 L557.76,585.5 L557.68,585.39 L557.58,585.29 L557.48,585.19 L557.36,585.09 L557.24,585 L557.11,584.91 L556.97,584.83 L556.83,584.75 L556.68,584.67 L556.53,584.59 L556.38,584.51 L556.22,584.42 L556.06,584.34 L555.91,584.26 L555.76,584.17 L555.61,584.08 L555.46,583.98 L555.33,583.88 L555.2,583.77 L555.08,583.66 L554.97,583.55 L554.87,583.43 L554.78,583.3 L554.7,583.17 L554.63,583.03 L554.58,582.88 L554.54,582.74 L554.51,582.58 L554.49,582.43 L554.49,582.27 L554.49,582.1 L554.51,581.94 L554.53,581.77 L554.56,581.6 L554.6,581.43 L554.65,581.26 L554.69,581.09 L554.74,580.92 L554.8,580.75 L554.85,580.59 L554.9,580.42 L554.95,580.26 L554.99,580.1 L555.03,579.94 L555.06,579.79 L555.08,579.64 L555.09,579.49 L555.1,579.34 L555.09,579.2 L555.07,579.06 L555.05,578.92 L555.01,578.79 L554.96,578.65 L554.9,578.52 L554.83,578.39 L554.75,578.26 L554.67,578.13 L554.57,578 L554.47,577.87 L554.37,577.74 L554.26,577.6 L554.14,577.47 L554.03,577.33 L553.92,577.2 L553.81,577.06 L553.7,576.92 L553.6,576.78 L553.5,576.64 L553.42,576.49 L553.34,576.34 L553.27,576.19 L553.21,576.04 L553.17,575.89 L553.13,575.74 L553.11,575.59 L553.1,575.44 L553.11,575.28 L553.13,575.13 L553.16,574.98 L553.21,574.83 L553.26,574.68 L553.33,574.53 L553.41,574.38 L553.49,574.24 L553.59,574.09 L553.69,573.95 L553.8,573.81 L553.91,573.67 L554.02,573.53 L554.13,573.4 L554.24,573.26 L554.35,573.13 L554.46,573 L554.56,572.87 L554.65,572.74 L554.74,572.61 L554.82,572.48 L554.89,572.35 L554.95,572.21 L555,572.08 L555.03,571.94 L555.06,571.8 L555.08,571.66 L555.08,571.52 L555.08,571.38 L555.07,571.23 L555.04,571.08 L555.01,570.92 L554.98,570.77 L554.93,570.61 L554.89,570.45 L554.84,570.28 L554.78,570.12 L554.73,569.95 L554.68,569.78 L554.63,569.61 L554.59,569.44 L554.55,569.27 L554.51,569.1 L554.49,568.93 L554.47,568.77 L554.47,568.6 L554.47,568.44 L554.49,568.29 L554.51,568.13 L554.55,567.98 L554.6,567.84 L554.67,567.7 L554.74,567.57 L554.83,567.44 L554.93,567.32 L555.04,567.2 L555.16,567.09 L555.29,566.98 L555.43,566.88 L555.57,566.78 L555.72,566.69 L555.87,566.6 L556.02,566.52 L556.18,566.43 L556.33,566.35 L556.49,566.27 L556.64,566.19 L556.79,566.11 L556.93,566.03 L557.07,565.94 L557.2,565.85 L557.32,565.76 L557.44,565.67 L557.54,565.57 L557.64,565.46 L557.73,565.35 L557.8,565.24 L557.87,565.11 L557.93,564.98 L557.99,564.85 L558.03,564.71 L558.07,564.56 L558.1,564.4 L558.12,564.25 L558.14,564.08 L558.16,563.91 L558.18,563.74 L558.19,563.57 L558.21,563.39 L558.23,563.22 L558.25,563.04 L558.27,562.87 L558.3,562.7 L558.33,562.53 L558.38,562.36 L558.42,562.2 L558.48,562.05 L558.55,561.9 L558.62,561.76 L558.71,561.63 L558.8,561.51 L558.9,561.4 L559.01,561.3 L559.13,561.21 L559.25,561.13 L559.39,561.05 L559.53,560.98 L559.67,560.92 L559.83,560.87 L559.99,560.82 L560.15,560.78 L560.32,560.74 L560.49,560.7 L560.66,560.67 L560.83,560.63 L561.01,560.6 L561.18,560.56 L561.35,560.53 L561.52,560.49 L561.68,560.44 L561.83,560.39 L561.98,560.33 L562.13,560.27 L562.26,560.2 L562.39,560.12 L562.51,560.03 L562.63,559.94 L562.73,559.83 L562.82,559.72 L562.91,559.6 L562.99,559.47 L563.06,559.33 L563.12,559.19 L563.18,559.04 L563.23,558.88 L563.28,558.72 L563.32,558.56 L563.36,558.39 L563.39,558.21 L563.43,558.04 L563.46,557.87 L563.49,557.7 L563.53,557.52 L563.57,557.36 L563.61,557.19 L563.66,557.03 L563.72,556.88 L563.78,556.73 L563.84,556.59 L563.92,556.46 L564,556.34 L564.09,556.22 L564.19,556.11 L564.3,556.01 L564.42,555.92 L564.54,555.84 L564.67,555.76 L564.81,555.7 L564.96,555.64 L565.12,555.58 L565.28,555.54 L565.44,555.49 L565.61,555.45 L565.78,555.42 L565.95,555.38 L566.12,555.35 L566.3,555.31 L566.47,555.28 L566.64,555.24 L566.8,555.2 L566.97,555.15 L567.12,555.1 L567.27,555.04 L567.42,554.98 L567.55,554.91 L567.68,554.83 L567.8,554.74 L567.91,554.65 L568.02,554.55 L568.11,554.43 L568.2,554.31 L568.28,554.18 L568.35,554.05 L568.41,553.9 L568.47,553.75 L568.52,553.59 L568.56,553.43 L568.6,553.27 L568.64,553.1 L568.68,552.92 L568.71,552.75 L568.75,552.58 L568.78,552.41 L568.82,552.23 L568.86,552.07 L568.9,551.9 L568.95,551.74 L569,551.59 L569.06,551.44 L569.13,551.3 L569.21,551.17 L569.29,551.05 L569.38,550.93 L569.48,550.82 L569.59,550.72 L569.71,550.63 L569.83,550.55 L569.96,550.48 L570.1,550.41 L570.25,550.35 L570.41,550.3 L570.57,550.25 L570.73,550.21 L570.9,550.17 L571.07,550.13 L571.24,550.09 L571.41,550.06 L571.59,550.03 L571.76,549.99 L571.93,549.95 L572.09,549.91 L572.26,549.87 L572.41,549.81 L572.56,549.76 L572.71,549.69 L572.84,549.62 L572.97,549.54 L573.09,549.46 L573.2,549.36 L573.31,549.26 L573.4,549.14 L573.49,549.02 L573.57,548.89 L573.64,548.76 L573.7,548.61 L573.75,548.46 L573.81,548.3 L573.85,548.14 L573.89,547.98 L573.93,547.81 L573.97,547.63 L574,547.46 L574.03,547.29 L574.07,547.12 L574.11,546.95 L574.15,546.78 L574.19,546.61 L574.24,546.45 L574.29,546.3 L574.35,546.15 L574.42,546.01 L574.49,545.88 L574.58,545.76 L574.67,545.64 L574.77,545.53 L574.88,545.44 L574.99,545.35 L575.12,545.26 L575.25,545.19 L575.39,545.12 L575.54,545.06 L575.69,545.01 L575.85,544.96 L576.02,544.92 L576.19,544.88 L576.36,544.84 L576.53,544.81 L576.7,544.77 L576.88,544.74 L577.05,544.7 L577.22,544.67 L577.38,544.62 L577.54,544.58 L577.7,544.53 L577.85,544.47 L577.99,544.41 L578.13,544.33 L578.26,544.26 L578.38,544.17 L578.49,544.07 L578.59,543.97 L578.69,543.86 L578.77,543.73 L578.85,543.6 L578.92,543.47 L578.99,543.32 L579.04,543.17 L579.09,543.02 L579.14,542.85 L579.18,542.69 L579.22,542.52 L579.25,542.35 L579.29,542.17 L579.32,542 L579.36,541.83 L579.39,541.66 L579.43,541.49 L579.48,541.32 L579.52,541.17 L579.58,541.01 L579.64,540.87 L579.71,540.73 L579.78,540.59 L579.86,540.47 L579.96,540.35 L580.06,540.25 L580.17,540.15 L580.28,540.06 L580.41,539.98 L580.54,539.9 L580.68,539.83 L580.83,539.78 L580.98,539.72 L581.14,539.67 L581.31,539.63 L581.48,539.59 L581.65,539.56 L581.82,539.52 L581.99,539.49 L582.17,539.45 L582.34,539.42 L582.51,539.38 L582.67,539.34 L582.83,539.29 L582.99,539.24 L583.14,539.18 L583.28,539.12 L583.42,539.05 L583.55,538.97 L583.67,538.88 L583.78,538.78 L583.88,538.68 L583.98,538.57 L584.06,538.45 L584.14,538.32 L584.21,538.18 L584.27,538.03 L584.33,537.88 L584.38,537.73 L584.42,537.56 L584.47,537.4 L584.5,537.23 L584.54,537.06 L584.57,536.88 L584.61,536.71 L584.64,536.54 L584.68,536.37 L584.72,536.2 L584.76,536.04 L584.81,535.88 L584.87,535.72 L584.93,535.58 L584.99,535.44 L585.07,535.3 L585.15,535.18 L585.24,535.07 L585.34,534.96 L585.45,534.86 L585.57,534.77 L585.7,534.69 L585.83,534.61 L585.97,534.55 L586.12,534.49 L586.27,534.44 L586.43,534.39 L586.6,534.34 L586.77,534.31 L586.94,534.27 L587.11,534.23 L587.28,534.2 L587.46,534.17 L587.63,534.13 L587.8,534.09 L587.96,534.05 L588.12,534 L588.28,533.95 L588.43,533.9 L588.57,533.83 L588.71,533.76 L588.84,533.68 L588.96,533.59 L589.07,533.5 L589.17,533.39 L589.26,533.28 L589.35,533.16 L589.43,533.03 L589.5,532.89 L589.56,532.74 L589.62,532.59 L589.67,532.44 L589.71,532.27 L589.75,532.11 L589.79,531.94 L589.83,531.77 L589.86,531.59 L589.89,531.42 L589.93,531.25 L589.97,531.08 L590.01,530.91 L590.05,530.75 L590.1,530.59 L590.15,530.43 L590.21,530.29 L590.28,530.15 L590.36,530.02 L590.44,529.89 L590.53,529.78 L590.63,529.67 L590.74,529.57 L590.86,529.48 L590.99,529.4 L591.12,529.33 L591.26,529.26 L591.41,529.2 L591.56,529.15 L591.72,529.1 L591.89,529.06 L592.06,529.02 L592.23,528.98 L592.4,528.95 L592.57,528.91 L592.75,528.88 L592.92,528.84 L593.09,528.8 L593.25,528.76 L593.41,528.72 L593.57,528.67 L593.72,528.61 L593.86,528.54 L594,528.47 L594.13,528.39 L594.24,528.3 L594.36,528.21 L594.46,528.1 L594.55,527.99 L594.64,527.87 L594.72,527.74 L594.79,527.6 L594.85,527.46 L594.9,527.3 L594.95,527.15 L595,526.98 L595.04,526.82 L595.08,526.65 L595.11,526.48 L595.15,526.3 L595.18,526.13 L595.22,525.96 L595.25,525.79 L595.29,525.62 L595.34,525.46 L595.39,525.3 L595.44,525.14 L595.5,525 L595.57,524.86 L595.65,524.73 L595.73,524.6 L595.82,524.49 L595.92,524.38 L596.03,524.28 L596.15,524.19 L596.27,524.11 L596.41,524.04 L596.55,523.97 L596.7,523.91 L596.85,523.86 L597.01,523.81 L597.18,523.77 L597.35,523.73 L597.52,523.7 L597.69,523.66 L597.86,523.63 L598.04,523.59 L598.21,523.56 L598.38,523.52 L598.54,523.48 L598.7,523.43 L598.86,523.38 L599.01,523.32 L599.15,523.26 L599.29,523.18 L599.41,523.1 L599.53,523.02 L599.64,522.92 L599.75,522.81 L599.84,522.7 L599.93,522.58 L600,522.45 L600.07,522.31 L600.14,522.17 L600.19,522.02 L600.24,521.86 L600.29,521.7 L600.33,521.53 L600.36,521.36 L600.4,521.19 L600.43,521.01 L600.47,520.84 L600.5,520.67 L600.54,520.5 L600.58,520.33 L600.62,520.17 L600.67,520.01 L600.73,519.86 L600.79,519.71 L600.86,519.57 L600.93,519.44 L601.02,519.31 L601.11,519.2 L601.21,519.09 L601.32,519 L601.44,518.91 L601.56,518.82 L601.7,518.75 L601.84,518.69 L601.99,518.63 L602.14,518.57 L602.3,518.53 L602.47,518.48 L602.63,518.44 L602.81,518.41 L602.98,518.37 L603.15,518.34 L603.32,518.3 L603.5,518.27 L603.67,518.23 L603.83,518.19 L603.99,518.14 L604.15,518.09 L604.3,518.03 L604.44,517.97 L604.58,517.9 L604.7,517.82 L604.82,517.73 L604.93,517.63 L605.04,517.53 L605.13,517.41 L605.21,517.29 L605.29,517.16 L605.36,517.02 L605.42,516.88 L605.48,516.73 L605.53,516.57 L605.57,516.41 L605.61,516.24 L605.65,516.07 L605.69,515.9 L605.72,515.72 L605.76,515.55 L605.79,515.38 L605.83,515.21 L605.88,515.04 L605.93,514.87 L605.99,514.72 L606.05,514.56 L606.13,514.42 L606.21,514.28 L606.3,514.15 L606.39,514.03 L606.5,513.92 L606.62,513.82 L606.74,513.73 L606.87,513.65 L607.01,513.58 L607.16,513.52 L607.31,513.47 L607.47,513.43 L607.63,513.4 L607.8,513.37 L607.97,513.36 L608.15,513.34 L608.32,513.34 L608.5,513.33 L608.68,513.33 L608.85,513.34 L609.03,513.34 L609.2,513.34 L609.37,513.33 L609.53,513.33 L609.69,513.32 L609.85,513.3 L610,513.27 L610.14,513.24 L610.28,513.2 L610.41,513.15 L610.54,513.09 L610.66,513.03 L610.78,512.95 L610.89,512.86 L611,512.76 L611.11,512.66 L611.21,512.54 L611.31,512.42 L611.41,512.29 L611.5,512.15 L611.6,512.01 L611.69,511.87 L611.79,511.72 L611.88,511.58 L611.98,511.43 L612.08,511.28 L612.19,511.14 L612.29,511 L612.4,510.87 L612.52,510.75 L612.64,510.63 L612.76,510.53 L612.89,510.43 L613.02,510.34 L613.16,510.27 L613.3,510.21 L613.44,510.16 L613.59,510.12 L613.74,510.1 L613.9,510.09 L614.06,510.09 L614.22,510.11 L614.38,510.13 L614.54,510.16 L614.71,510.21 L614.87,510.26 L615.04,510.31 L615.2,510.37 L615.37,510.44 L615.53,510.51 L615.69,510.58 L615.85,510.64 L616.01,510.71 L616.17,510.77 L616.32,510.83 L616.47,510.88 L616.62,510.92 L616.77,510.96 L616.92,510.98 L617.06,511 L617.2,511 L617.34,511 L617.48,510.98 L617.62,510.95 L617.76,510.92 L617.9,510.87 L618.04,510.81 L618.17,510.74 L618.31,510.67 L618.45,510.58 L618.59,510.5 L618.73,510.4 L618.88,510.31 L619.02,510.21 L619.17,510.11 L619.31,510.01 L619.46,509.91 L619.61,509.82 L619.76,509.74 L619.91,509.66 L620.07,509.59 L620.22,509.53 L620.38,509.47 L620.53,509.43 L620.69,509.41 L620.84,509.39 L620.99,509.39 L621.15,509.4 L621.3,509.42 L621.45,509.46 L621.6,509.51 L621.74,509.57 L621.88,509.65 L622.02,509.73 L622.16,509.83 L622.3,509.93 L622.43,510.04 L622.56,510.15 L622.69,510.28 L622.82,510.4 L622.94,510.52 L623.07,510.65 L623.19,510.77 L623.31,510.89 L623.43,511.01 L623.55,511.12 L623.67,511.23 L623.79,511.32 L623.92,511.41 L624.04,511.49 L624.17,511.56 L624.3,511.62 L624.43,511.67 L624.56,511.71 L624.7,511.74 L624.85,511.75 L624.99,511.76 L625.14,511.76 L625.29,511.75 L625.45,511.74 L625.61,511.71 L625.78,511.68 L625.94,511.65 L626.11,511.62 L626.28,511.58 L626.45,511.55 L626.63,511.51 L626.8,511.48 L626.98,511.45 L627.15,511.43 L627.32,511.42 L627.49,511.41 L627.65,511.41 L627.82,511.43 L627.97,511.45 L628.13,511.48 L628.28,511.53 L628.42,511.59 L628.56,511.65 L628.69,511.73 L628.81,511.83 L628.93,511.93 L629.04,512.04 L629.14,512.17 L629.24,512.3 L629.33,512.44 L629.42,512.59 L629.5,512.74 L629.57,512.9 L629.65,513.06 L629.72,513.22 L629.78,513.38 L629.85,513.55 L629.91,513.71 L629.98,513.86 L630.05,514.02 L630.11,514.17 L630.19,514.31 L630.26,514.45 L630.34,514.58 L630.43,514.7 L630.52,514.81 L630.61,514.91 L630.72,515.01 L630.83,515.1 L630.94,515.18 L631.07,515.25 L631.2,515.31 L631.34,515.37 L631.48,515.42 L631.64,515.46 L631.79,515.5 L631.95,515.54 L632.12,515.57 L632.29,515.6 L632.46,515.64Z" fill="#fff" stroke="#626088" stroke-width="1"/>
<path d="M632.64,663.97 L632.81,664 L632.98,664.04 L633.15,664.08 L633.32,664.12 L633.48,664.16 L633.64,664.21 L633.79,664.27 L633.94,664.33 L634.07,664.4 L634.21,664.47 L634.33,664.56 L634.44,664.65 L634.55,664.75 L634.65,664.86 L634.73,664.98 L634.81,665.11 L634.89,665.24 L634.95,665.38 L635.01,665.53 L635.06,665.69 L635.11,665.85 L635.15,666.01 L635.19,666.18 L635.23,666.35 L635.26,666.53 L635.3,666.7 L635.33,666.87 L635.37,667.04 L635.4,667.21 L635.45,667.38 L635.49,667.54 L635.55,667.69 L635.6,667.84 L635.67,667.98 L635.74,668.12 L635.82,668.25 L635.91,668.36 L636.01,668.47 L636.12,668.58 L636.23,668.67 L636.35,668.75 L636.48,668.83 L636.62,668.9 L636.77,668.96 L636.92,669.02 L637.08,669.06 L637.24,669.11 L637.41,669.15 L637.58,669.19 L637.75,669.22 L637.92,669.26 L638.1,669.29 L638.27,669.33 L638.44,669.36 L638.61,669.4 L638.77,669.45 L638.93,669.5 L639.08,669.55 L639.23,669.61 L639.36,669.68 L639.49,669.76 L639.62,669.84 L639.73,669.94 L639.84,670.04 L639.93,670.15 L640.02,670.27 L640.1,670.4 L640.18,670.53 L640.24,670.67 L640.3,670.82 L640.35,670.98 L640.4,671.14 L640.44,671.3 L640.48,671.47 L640.51,671.64 L640.55,671.82 L640.58,671.99 L640.62,672.16 L640.65,672.33 L640.69,672.5 L640.73,672.67 L640.78,672.83 L640.83,672.98 L640.89,673.13 L640.96,673.27 L641.03,673.41 L641.11,673.53 L641.2,673.65 L641.3,673.76 L641.4,673.86 L641.52,673.96 L641.64,674.04 L641.77,674.12 L641.91,674.19 L642.06,674.25 L642.21,674.3 L642.37,674.35 L642.53,674.4 L642.7,674.44 L642.87,674.47 L643.04,674.51 L643.21,674.54 L643.39,674.58 L643.56,674.61 L643.73,674.65 L643.9,674.69 L644.06,674.73 L644.22,674.78 L644.37,674.84 L644.51,674.9 L644.65,674.97 L644.78,675.05 L644.91,675.13 L645.02,675.23 L645.12,675.33 L645.22,675.44 L645.31,675.56 L645.39,675.68 L645.46,675.82 L645.53,675.96 L645.59,676.11 L645.64,676.27 L645.68,676.43 L645.73,676.59 L645.76,676.76 L645.8,676.93 L645.84,677.11 L645.87,677.28 L645.9,677.45 L645.94,677.62 L645.98,677.79 L646.02,677.96 L646.07,678.12 L646.12,678.27 L646.18,678.42 L646.25,678.56 L646.32,678.7 L646.4,678.82 L646.49,678.94 L646.59,679.05 L646.69,679.15 L646.81,679.25 L646.93,679.33 L647.06,679.41 L647.2,679.47 L647.35,679.54 L647.5,679.59 L647.66,679.64 L647.82,679.68 L647.99,679.72 L648.16,679.76 L648.33,679.8 L648.5,679.83 L648.68,679.86 L648.85,679.9 L649.02,679.94 L649.19,679.98 L649.35,680.02 L649.51,680.07 L649.66,680.13 L649.8,680.19 L649.94,680.26 L650.07,680.34 L650.19,680.42 L650.31,680.51 L650.41,680.62 L650.51,680.73 L650.6,680.85 L650.68,680.97 L650.75,681.11 L650.81,681.25 L650.87,681.4 L650.92,681.56 L650.97,681.72 L651.01,681.88 L651.05,682.05 L651.09,682.22 L651.12,682.4 L651.16,682.57 L651.19,682.74 L651.23,682.91 L651.27,683.08 L651.31,683.25 L651.36,683.41 L651.41,683.56 L651.47,683.71 L651.53,683.85 L651.61,683.99 L651.69,684.11 L651.78,684.23 L651.87,684.34 L651.98,684.44 L652.1,684.53 L652.22,684.62 L652.35,684.69 L652.49,684.76 L652.64,684.82 L652.79,684.88 L652.95,684.93 L653.11,684.97 L653.28,685.01 L653.45,685.05 L653.62,685.08 L653.79,685.12 L653.97,685.15 L654.14,685.19 L654.31,685.22 L654.48,685.26 L654.64,685.31 L654.8,685.36 L654.95,685.41 L655.09,685.48 L655.23,685.55 L655.36,685.62 L655.48,685.71 L655.6,685.8 L655.7,685.9 L655.8,686.02 L655.89,686.14 L655.97,686.26 L656.04,686.4 L656.1,686.54 L656.16,686.69 L656.21,686.85 L656.26,687.01 L656.3,687.17 L656.34,687.34 L656.37,687.51 L656.41,687.69 L656.44,687.86 L656.48,688.03 L656.51,688.2 L656.55,688.37 L656.6,688.54 L656.64,688.7 L656.7,688.85 L656.75,689 L656.82,689.14 L656.89,689.27 L656.98,689.4 L657.06,689.52 L657.16,689.63 L657.27,689.73 L657.38,689.82 L657.51,689.9 L657.64,689.98 L657.78,690.05 L657.93,690.11 L658.08,690.16 L658.24,690.21 L658.4,690.26 L658.57,690.3 L658.74,690.33 L658.91,690.37 L659.08,690.4 L659.26,690.44 L659.43,690.47 L659.6,690.51 L659.76,690.55 L659.93,690.6 L660.08,690.65 L660.24,690.7 L660.38,690.76 L660.52,690.83 L660.65,690.91 L660.77,691 L660.88,691.09 L660.99,691.19 L661.09,691.3 L661.17,691.42 L661.25,691.55 L661.33,691.69 L661.39,691.83 L661.45,691.98 L661.5,692.14 L661.55,692.3 L661.59,692.46 L661.63,692.63 L661.66,692.8 L661.7,692.98 L661.73,693.15 L661.76,693.32 L661.8,693.49 L661.84,693.66 L661.88,693.83 L661.93,693.99 L661.98,694.14 L662.04,694.29 L662.11,694.43 L662.18,694.56 L662.26,694.69 L662.35,694.81 L662.45,694.92 L662.56,695.02 L662.67,695.11 L662.8,695.19 L662.93,695.27 L663.07,695.34 L663.21,695.4 L663.37,695.45 L663.53,695.5 L663.69,695.54 L663.86,695.58 L664.03,695.62 L664.2,695.66 L664.37,695.69 L664.55,695.72 L664.72,695.76 L664.89,695.8 L665.05,695.84 L665.22,695.88 L665.37,695.93 L665.53,695.99 L665.67,696.05 L665.81,696.12 L665.94,696.2 L666.06,696.28 L666.17,696.38 L666.28,696.48 L666.37,696.59 L666.46,696.71 L666.54,696.84 L666.61,696.98 L666.68,697.12 L666.73,697.27 L666.79,697.42 L666.83,697.59 L666.87,697.75 L666.91,697.92 L666.95,698.09 L666.98,698.27 L667.02,698.44 L667.05,698.61 L667.09,698.78 L667.13,698.95 L667.17,699.11 L667.22,699.27 L667.27,699.43 L667.33,699.58 L667.4,699.72 L667.47,699.85 L667.55,699.98 L667.64,700.1 L667.74,700.2 L667.85,700.31 L667.96,700.4 L668.09,700.48 L668.22,700.56 L668.36,700.62 L668.5,700.68 L668.66,700.74 L668.82,700.79 L668.98,700.83 L669.15,700.87 L669.32,700.91 L669.49,700.94 L669.66,700.98 L669.84,701.01 L670.01,701.05 L670.18,701.08 L670.34,701.13 L670.51,701.17 L670.66,701.22 L670.81,701.28 L670.96,701.34 L671.1,701.41 L671.23,701.49 L671.35,701.57 L671.46,701.67 L671.57,701.77 L671.66,701.88 L671.75,702 L671.83,702.13 L671.9,702.26 L671.96,702.41 L672.02,702.56 L672.07,702.71 L672.12,702.88 L672.16,703.04 L672.2,703.21 L672.24,703.38 L672.27,703.55 L672.3,703.73 L672.34,703.9 L672.38,704.07 L672.41,704.24 L672.46,704.4 L672.5,704.56 L672.56,704.72 L672.62,704.87 L672.68,705.01 L672.76,705.14 L672.84,705.27 L672.93,705.38 L673.03,705.49 L673.13,705.59 L673.25,705.68 L673.37,705.77 L673.51,705.84 L673.65,705.91 L673.79,705.97 L673.95,706.03 L674.1,706.07 L674.27,706.12 L674.44,706.16 L674.61,706.2 L674.78,706.23 L674.95,706.26 L675.13,706.3 L675.3,706.33 L675.47,706.37 L675.63,706.41 L675.8,706.46 L675.95,706.51 L676.1,706.56 L676.25,706.63 L676.39,706.7 L676.52,706.78 L676.64,706.86 L676.75,706.96 L676.85,707.06 L676.95,707.17 L677.04,707.29 L677.12,707.42 L677.19,707.55 L677.25,707.7 L677.31,707.85 L677.36,708 L677.41,708.16 L677.45,708.33 L677.49,708.5 L677.52,708.67 L677.56,708.84 L677.59,709.02 L677.63,709.19 L677.66,709.36 L677.7,709.53 L677.74,709.69 L677.79,709.85 L677.85,710.01 L677.9,710.16 L677.97,710.3 L678.05,710.43 L678.13,710.56 L678.22,710.67 L678.32,710.78 L678.42,710.88 L678.53,710.97 L678.65,711.05 L678.78,711.12 L678.91,711.19 L679.05,711.25 L679.2,711.31 L679.35,711.37 L679.51,711.42 L679.67,711.47 L679.84,711.51 L680.01,711.56 L680.18,711.61 L680.35,711.67 L680.52,711.72 L680.68,711.78 L680.84,711.84 L681,711.91 L681.15,711.99 L681.29,712.07 L681.43,712.16 L681.56,712.25 L681.67,712.35 L681.78,712.47 L681.88,712.58 L681.97,712.71 L682.04,712.84 L682.1,712.99 L682.16,713.13 L682.2,713.29 L682.23,713.44 L682.25,713.61 L682.27,713.77 L682.27,713.95 L682.27,714.12 L682.26,714.29 L682.25,714.47 L682.24,714.65 L682.22,714.82 L682.2,715 L682.18,715.17 L682.17,715.34 L682.15,715.51 L682.14,715.67 L682.14,715.83 L682.14,715.98 L682.16,716.13 L682.18,716.28 L682.2,716.42 L682.24,716.56 L682.29,716.69 L682.35,716.82 L682.42,716.94 L682.5,717.06 L682.59,717.18 L682.68,717.29 L682.79,717.4 L682.9,717.51 L683.03,717.62 L683.15,717.73 L683.28,717.84 L683.42,717.95 L683.56,718.06 L683.69,718.17 L683.83,718.28 L683.96,718.4 L684.09,718.51 L684.22,718.63 L684.34,718.76 L684.45,718.88 L684.55,719.02 L684.64,719.15 L684.72,719.29 L684.79,719.43 L684.85,719.57 L684.89,719.72 L684.92,719.87 L684.94,720.02 L684.94,720.17 L684.93,720.33 L684.91,720.49 L684.88,720.65 L684.84,720.81 L684.79,720.97 L684.73,721.13 L684.66,721.29 L684.59,721.44 L684.51,721.6 L684.43,721.76 L684.34,721.91 L684.26,722.07 L684.18,722.22 L684.1,722.37 L684.02,722.52 L683.95,722.67 L683.89,722.81 L683.83,722.96 L683.78,723.1 L683.75,723.24 L683.72,723.39 L683.7,723.53 L683.7,723.67 L683.7,723.81 L683.72,723.95 L683.74,724.09 L683.78,724.23 L683.83,724.37 L683.88,724.52 L683.95,724.66 L684.02,724.81 L684.09,724.96 L684.17,725.11 L684.26,725.26 L684.34,725.42 L684.43,725.57 L684.51,725.73 L684.59,725.88 L684.66,726.04 L684.73,726.2 L684.79,726.36 L684.85,726.52 L684.89,726.68 L684.92,726.84 L684.94,727 L684.95,727.15 L684.95,727.31 L684.93,727.46 L684.9,727.61 L684.86,727.76 L684.81,727.9 L684.74,728.04 L684.66,728.18 L684.57,728.32 L684.47,728.45 L684.36,728.57 L684.24,728.7 L684.12,728.82 L683.99,728.94 L683.86,729.05 L683.72,729.17 L683.58,729.28 L683.45,729.39 L683.31,729.5 L683.18,729.61 L683.05,729.71 L682.93,729.82 L682.82,729.93 L682.71,730.05 L682.61,730.16 L682.52,730.28 L682.45,730.4 L682.38,730.52 L682.32,730.65 L682.27,730.78 L682.23,730.92 L682.2,731.06 L682.18,731.2 L682.17,731.35 L682.17,731.51 L682.17,731.67 L682.18,731.83 L682.19,732 L682.21,732.17 L682.22,732.34 L682.24,732.51 L682.26,732.69 L682.28,732.86 L682.29,733.04 L682.3,733.22 L682.3,733.39 L682.3,733.56 L682.29,733.73 L682.26,733.89 L682.23,734.05 L682.19,734.2 L682.14,734.35 L682.08,734.49 L682.01,734.63 L681.92,734.76 L681.82,734.88 L681.72,734.99 L681.6,735.09 L681.48,735.19 L681.34,735.28 L681.2,735.36 L681.05,735.44 L680.89,735.51 L680.73,735.57 L680.57,735.63 L680.4,735.69 L680.23,735.74 L680.06,735.79 L679.89,735.84 L679.73,735.89 L679.56,735.94 L679.4,735.99 L679.25,736.04 L679.1,736.1 L678.96,736.16 L678.83,736.23 L678.7,736.31 L678.58,736.39 L678.47,736.47 L678.37,736.57 L678.27,736.68 L678.18,736.79 L678.09,736.92 L678.02,737.05 L677.95,737.19 L677.89,737.34 L677.84,737.49 L677.79,737.65 L677.75,737.82 L677.71,737.98 L677.67,738.15 L677.63,738.33 L677.6,738.5 L677.57,738.67 L677.53,738.85 L677.49,739.01 L677.45,739.18 L677.41,739.34 L677.35,739.5 L677.3,739.65 L677.23,739.79 L677.16,739.93 L677.09,740.06 L677,740.18 L676.9,740.29 L676.8,740.4 L676.69,740.49 L676.57,740.58 L676.44,740.66 L676.3,740.73 L676.16,740.79 L676.01,740.85 L675.85,740.9 L675.69,740.94 L675.52,740.98 L675.35,741.02 L675.18,741.06 L675.01,741.09 L674.83,741.13 L674.66,741.16 L674.49,741.2 L674.32,741.24 L674.16,741.28 L674,741.33 L673.85,741.38 L673.7,741.44 L673.56,741.51 L673.43,741.58 L673.3,741.67 L673.18,741.76 L673.08,741.86 L672.98,741.97 L672.89,742.08 L672.8,742.21 L672.73,742.34 L672.66,742.48 L672.6,742.63 L672.55,742.78 L672.5,742.94 L672.46,743.11 L672.42,743.27 L672.38,743.44 L672.35,743.62 L672.31,743.79 L672.28,743.96 L672.24,744.14 L672.21,744.3 L672.16,744.47 L672.12,744.63 L672.07,744.79 L672.01,744.94 L671.95,745.08 L671.88,745.22 L671.8,745.35 L671.71,745.47 L671.62,745.58 L671.51,745.68 L671.4,745.78 L671.28,745.87 L671.15,745.94 L671.01,746.01 L670.87,746.08 L670.72,746.13 L670.56,746.18 L670.4,746.23 L670.23,746.27 L670.06,746.31 L669.89,746.34 L669.72,746.38 L669.54,746.41 L669.37,746.45 L669.2,746.48 L669.03,746.52 L668.87,746.57 L668.71,746.62 L668.56,746.67 L668.41,746.73 L668.27,746.8 L668.14,746.87 L668.01,746.95 L667.9,747.05 L667.79,747.15 L667.69,747.25 L667.6,747.37 L667.52,747.5 L667.44,747.63 L667.38,747.77 L667.32,747.92 L667.26,748.07 L667.21,748.23 L667.17,748.4 L667.13,748.56 L667.1,748.73 L667.06,748.91 L667.03,749.08 L666.99,749.25 L666.96,749.42 L666.92,749.59 L666.88,749.76 L666.83,749.92 L666.78,750.08 L666.72,750.23 L666.66,750.37 L666.59,750.51 L666.51,750.64 L666.42,750.76 L666.33,750.87 L666.22,750.97 L666.11,751.07 L665.99,751.15 L665.86,751.23 L665.72,751.3 L665.58,751.36 L665.43,751.42 L665.27,751.47 L665.11,751.52 L664.94,751.56 L664.77,751.6 L664.6,751.63 L664.43,751.67 L664.25,751.7 L664.08,751.73 L663.91,751.77 L663.74,751.81 L663.58,751.85 L663.42,751.9 L663.27,751.96 L663.12,752.02 L662.98,752.08 L662.85,752.16 L662.72,752.24 L662.61,752.33 L662.5,752.43 L662.4,752.54 L662.31,752.66 L662.23,752.78 L662.15,752.92 L662.09,753.06 L662.03,753.21 L661.98,753.36 L661.93,753.52 L661.88,753.68 L661.85,753.85 L661.81,754.02 L661.77,754.2 L661.74,754.37 L661.71,754.54 L661.67,754.71 L661.63,754.88 L661.59,755.05 L661.54,755.21 L661.49,755.37 L661.44,755.52 L661.37,755.66 L661.3,755.8 L661.22,755.93 L661.13,756.05 L661.04,756.16 L660.93,756.26 L660.82,756.35 L660.7,756.44 L660.57,756.52 L660.43,756.59 L660.29,756.65 L660.14,756.71 L659.98,756.76 L659.82,756.8 L659.65,756.84 L659.48,756.88 L659.31,756.92 L659.14,756.95 L658.96,756.99 L658.79,757.02 L658.62,757.06 L658.45,757.1 L658.29,757.14 L658.13,757.19 L657.98,757.24 L657.83,757.3 L657.69,757.37 L657.56,757.45 L657.44,757.53 L657.32,757.62 L657.21,757.72 L657.11,757.83 L657.02,757.95 L656.94,758.07 L656.87,758.21 L656.8,758.35 L656.74,758.5 L656.69,758.65 L656.64,758.81 L656.6,758.97 L656.56,759.14 L656.52,759.31 L656.49,759.49 L656.45,759.66 L656.42,759.83 L656.38,760 L656.34,760.17 L656.3,760.34 L656.26,760.5 L656.21,760.66 L656.15,760.81 L656.08,760.95 L656.01,761.09 L655.93,761.21 L655.85,761.33 L655.75,761.45 L655.65,761.55 L655.53,761.64 L655.41,761.73 L655.28,761.81 L655.14,761.88 L655,761.94 L654.85,762 L654.69,762.05 L654.53,762.09 L654.36,762.13 L654.19,762.17 L654.02,762.21 L653.85,762.24 L653.68,762.27 L653.5,762.31 L653.33,762.35 L653.16,762.39 L653,762.43 L652.84,762.48 L652.69,762.53 L652.54,762.59 L652.4,762.66 L652.27,762.74 L652.15,762.82 L652.03,762.91 L651.92,763.01 L651.83,763.12 L651.74,763.24 L651.65,763.36 L651.58,763.5 L651.51,763.64 L651.45,763.79 L651.4,763.94 L651.35,764.1 L651.31,764.26 L651.27,764.43 L651.23,764.6 L651.2,764.78 L651.17,764.95 L651.13,765.12 L651.1,765.29 L651.06,765.46 L651.02,765.63 L650.97,765.79 L650.92,765.95 L650.86,766.1 L650.8,766.24 L650.73,766.37 L650.65,766.5 L650.56,766.62 L650.46,766.73 L650.36,766.84 L650.24,766.93 L650.12,767.02 L649.99,767.09 L649.86,767.16 L649.71,767.23 L649.56,767.28 L649.4,767.33 L649.24,767.38 L649.07,767.42 L648.9,767.46 L648.73,767.49 L648.56,767.53 L648.39,767.56 L648.21,767.6 L648.04,767.63 L647.88,767.67 L647.71,767.72 L647.55,767.76 L647.4,767.82 L647.25,767.88 L647.11,767.95 L646.98,768.02 L646.86,768.11 L646.74,768.2 L646.64,768.3 L646.54,768.41 L646.45,768.53 L646.37,768.65 L646.29,768.79 L646.23,768.93 L646.17,769.07 L646.11,769.23 L646.07,769.39 L646.02,769.55 L645.98,769.72 L645.95,769.89 L645.91,770.07 L645.88,770.24 L645.84,770.41 L645.81,770.58 L645.77,770.75 L645.73,770.92 L645.68,771.08 L645.63,771.23 L645.57,771.38 L645.51,771.53 L645.44,771.66 L645.36,771.79 L645.27,771.91 L645.17,772.02 L645.07,772.12 L644.96,772.22 L644.83,772.3 L644.7,772.38 L644.57,772.45 L644.42,772.51 L644.27,772.57 L644.11,772.62 L643.95,772.67 L643.78,772.71 L643.61,772.74 L643.44,772.78 L643.27,772.81 L643.1,772.85 L642.92,772.88 L642.75,772.92 L642.59,772.96 L642.42,773 L642.26,773.05 L642.11,773.11 L641.96,773.17 L641.83,773.24 L641.69,773.31 L641.57,773.39 L641.45,773.49 L641.35,773.59 L641.25,773.7 L641.16,773.81 L641.08,773.94 L641,774.07 L640.94,774.22 L640.88,774.36 L640.83,774.52 L640.78,774.68 L640.74,774.84 L640.7,775.01 L640.66,775.18 L640.63,775.35 L640.59,775.53 L640.56,775.7 L640.52,775.87 L640.48,776.04 L640.44,776.21 L640.4,776.37 L640.34,776.52 L640.29,776.67 L640.22,776.82 L640.15,776.95 L640.07,777.08 L639.98,777.2 L639.89,777.31 L639.78,777.41 L639.67,777.51 L639.55,777.59 L639.42,777.67 L639.28,777.74 L639.13,777.8 L638.98,777.86 L638.82,777.91 L638.66,777.95 L638.49,777.99 L638.32,778.03 L638.15,778.07 L637.98,778.1 L637.81,778.13 L637.63,778.17 L637.46,778.21 L637.3,778.25 L637.13,778.29 L636.97,778.34 L636.82,778.39 L636.68,778.45 L636.54,778.52 L636.4,778.6 L636.28,778.68 L636.17,778.77 L636.06,778.88 L635.96,778.99 L635.87,779.1 L635.79,779.23 L635.72,779.36 L635.65,779.5 L635.59,779.65 L635.54,779.81 L635.49,779.97 L635.45,780.13 L635.41,780.3 L635.37,780.47 L635.34,780.64 L635.31,780.82 L635.27,780.99 L635.24,781.16 L635.2,781.33 L635.15,781.5 L635.11,781.66 L635.06,781.81 L635,781.96 L634.93,782.11 L634.86,782.24 L634.78,782.37 L634.69,782.49 L634.6,782.6 L634.49,782.7 L634.38,782.79 L634.26,782.88 L634.13,782.96 L633.99,783.03 L633.84,783.09 L633.69,783.14 L633.53,783.19 L633.37,783.24 L633.21,783.28 L633.04,783.32 L632.86,783.35 L632.69,783.39 L632.52,783.42 L632.34,783.45 L632.18,783.49 L632.01,783.52 L631.85,783.56 L631.69,783.6 L631.54,783.64 L631.39,783.69 L631.25,783.75 L631.12,783.81 L631,783.88 L630.88,783.96 L630.77,784.05 L630.66,784.14 L630.57,784.25 L630.48,784.36 L630.39,784.48 L630.31,784.61 L630.24,784.74 L630.17,784.89 L630.1,785.04 L630.03,785.19 L629.97,785.35 L629.9,785.51 L629.84,785.67 L629.77,785.84 L629.7,786 L629.63,786.16 L629.55,786.32 L629.47,786.47 L629.39,786.62 L629.3,786.76 L629.2,786.89 L629.1,787.02 L628.99,787.13 L628.87,787.24 L628.75,787.33 L628.62,787.41 L628.48,787.48 L628.34,787.54 L628.19,787.59 L628.04,787.62 L627.88,787.65 L627.72,787.66 L627.56,787.66 L627.39,787.66 L627.22,787.64 L627.04,787.62 L626.87,787.6 L626.7,787.57 L626.52,787.53 L626.35,787.5 L626.18,787.46 L626.01,787.43 L625.84,787.4 L625.68,787.37 L625.52,787.35 L625.36,787.33 L625.21,787.32 L625.06,787.32 L624.91,787.33 L624.77,787.34 L624.63,787.37 L624.49,787.41 L624.36,787.46 L624.23,787.52 L624.11,787.59 L623.98,787.67 L623.86,787.75 L623.74,787.85 L623.62,787.96 L623.5,788.07 L623.38,788.18 L623.25,788.31 L623.13,788.43 L623.01,788.55 L622.89,788.68 L622.76,788.8 L622.63,788.93 L622.5,789.04 L622.37,789.15 L622.23,789.26 L622.1,789.35 L621.95,789.44 L621.81,789.51 L621.67,789.58 L621.52,789.63 L621.37,789.67 L621.22,789.69 L621.07,789.7 L620.91,789.7 L620.76,789.69 L620.6,789.66 L620.45,789.63 L620.29,789.58 L620.14,789.52 L619.99,789.45 L619.83,789.37 L619.68,789.28 L619.53,789.19 L619.38,789.1 L619.23,789 L619.09,788.9 L618.94,788.8 L618.8,788.71 L618.66,788.61 L618.52,788.52 L618.38,788.44 L618.24,788.37 L618.1,788.3 L617.96,788.24 L617.83,788.19 L617.69,788.15 L617.55,788.12 L617.41,788.11 L617.27,788.1 L617.13,788.11 L616.98,788.12 L616.84,788.15 L616.69,788.18 L616.54,788.23 L616.39,788.28 L616.24,788.33 L616.08,788.4 L615.92,788.46 L615.76,788.53 L615.6,788.6 L615.44,788.67 L615.27,788.73 L615.11,788.8 L614.94,788.85 L614.78,788.9 L614.61,788.95 L614.45,788.98 L614.29,789.01 L614.13,789.02 L613.97,789.03 L613.81,789.02 L613.66,788.99 L613.51,788.96 L613.37,788.91 L613.22,788.85 L613.09,788.78 L612.95,788.7 L612.83,788.6 L612.7,788.5 L612.58,788.38 L612.47,788.26 L612.36,788.13 L612.25,787.99 L612.14,787.85 L612.04,787.7 L611.94,787.56 L611.85,787.41 L611.75,787.26 L611.66,787.12 L611.56,786.98 L611.47,786.84 L611.37,786.71 L611.27,786.59 L611.17,786.48 L611.06,786.37 L610.95,786.27 L610.84,786.18 L610.72,786.11 L610.6,786.04 L610.47,785.98 L610.34,785.93 L610.2,785.89 L610.06,785.86 L609.91,785.83 L609.75,785.81 L609.59,785.8 L609.43,785.8 L609.26,785.79 L609.09,785.79 L608.92,785.8 L608.74,785.8 L608.56,785.8 L608.39,785.8 L608.21,785.79 L608.04,785.78 L607.86,785.76 L607.69,785.74 L607.53,785.71 L607.37,785.67 L607.22,785.62 L607.07,785.56 L606.93,785.5 L606.8,785.42 L606.67,785.33 L606.56,785.23 L606.45,785.12 L606.35,785 L606.26,784.87 L606.18,784.73 L606.1,784.59 L606.04,784.44 L605.98,784.28 L605.93,784.12 L605.88,783.95 L605.84,783.78 L605.8,783.6 L605.76,783.43 L605.73,783.26 L605.7,783.09 L605.66,782.92 L605.62,782.75 L605.57,782.59 L605.52,782.43 L605.47,782.28 L605.41,782.13 L605.34,781.99 L605.26,781.86 L605.18,781.74 L605.08,781.62 L604.98,781.52 L604.87,781.42 L604.75,781.33 L604.63,781.25 L604.49,781.18 L604.35,781.11 L604.2,781.06 L604.05,781 L603.88,780.96 L603.72,780.91 L603.55,780.88 L603.38,780.84 L603.21,780.8 L603.03,780.77 L602.86,780.74 L602.69,780.7 L602.52,780.66 L602.36,780.62 L602.2,780.57 L602.04,780.52 L601.89,780.46 L601.75,780.4 L601.61,780.32 L601.49,780.24 L601.37,780.15 L601.26,780.06 L601.16,779.95 L601.06,779.84 L600.98,779.71 L600.9,779.58 L600.84,779.44 L600.77,779.3 L600.72,779.15 L600.67,778.99 L600.62,778.82 L600.58,778.66 L600.55,778.49 L600.51,778.31 L600.48,778.14 L600.44,777.97 L600.41,777.8 L600.37,777.63 L600.33,777.46 L600.29,777.3 L600.24,777.14 L600.18,776.99 L600.12,776.84 L600.05,776.7 L599.97,776.57 L599.89,776.45 L599.8,776.33 L599.69,776.23 L599.58,776.13 L599.46,776.04 L599.34,775.96 L599.2,775.89 L599.06,775.83 L598.91,775.77 L598.76,775.72 L598.6,775.67 L598.43,775.63 L598.26,775.59 L598.09,775.55 L597.92,775.52 L597.74,775.48 L597.57,775.45 L597.4,775.41 L597.23,775.37 L597.07,775.33 L596.91,775.28 L596.75,775.23 L596.6,775.17 L596.46,775.11 L596.33,775.04 L596.2,774.95 L596.08,774.87 L595.97,774.77 L595.87,774.66 L595.78,774.55 L595.69,774.42 L595.62,774.29 L595.55,774.15 L595.49,774.01 L595.43,773.86 L595.38,773.7 L595.34,773.53 L595.3,773.37 L595.26,773.2 L595.23,773.02 L595.19,772.85 L595.16,772.68 L595.12,772.51 L595.08,772.34 L595.04,772.17 L595,772.01 L594.95,771.85 L594.89,771.7 L594.83,771.55 L594.76,771.41 L594.69,771.28 L594.6,771.16 L594.51,771.05 L594.41,770.94 L594.3,770.84 L594.18,770.76 L594.05,770.68 L593.91,770.6 L593.77,770.54 L593.62,770.48 L593.47,770.43 L593.31,770.38 L593.14,770.34 L592.97,770.3 L592.8,770.27 L592.63,770.23 L592.45,770.2 L592.28,770.16 L592.11,770.13 L591.94,770.09 L591.78,770.04 L591.62,770 L591.46,769.94 L591.31,769.89 L591.17,769.82 L591.04,769.75 L590.91,769.67 L590.79,769.58 L590.68,769.48 L590.58,769.37 L590.49,769.26 L590.4,769.14 L590.33,769 L590.26,768.87 L590.2,768.72 L590.14,768.57 L590.1,768.41 L590.05,768.24 L590.01,768.08 L589.97,767.91 L589.94,767.74 L589.9,767.56 L589.87,767.39 L589.83,767.22 L589.8,767.05 L589.76,766.88 L589.71,766.72 L589.66,766.56 L589.61,766.41 L589.54,766.26 L589.48,766.12 L589.4,765.99 L589.31,765.87 L589.22,765.76 L589.12,765.65 L589.01,765.56 L588.89,765.47 L588.76,765.39 L588.62,765.32 L588.48,765.25 L588.33,765.19 L588.18,765.14 L588.02,765.09 L587.85,765.05 L587.68,765.01 L587.51,764.98 L587.34,764.94 L587.16,764.91 L586.99,764.88 L586.82,764.84 L586.65,764.8 L586.49,764.76 L586.33,764.71 L586.17,764.66 L586.02,764.6 L585.88,764.53 L585.75,764.46 L585.62,764.38 L585.5,764.29 L585.39,764.19 L585.29,764.08 L585.2,763.97 L585.12,763.85 L585.04,763.72 L584.97,763.58 L584.91,763.43 L584.86,763.28 L584.81,763.12 L584.76,762.96 L584.72,762.79 L584.69,762.62 L584.65,762.45 L584.62,762.27 L584.58,762.1 L584.55,761.93 L584.51,761.76 L584.47,761.59 L584.42,761.43 L584.37,761.27 L584.32,761.12 L584.26,760.97 L584.19,760.84 L584.11,760.71 L584.03,760.58 L583.93,760.47 L583.83,760.36 L583.72,760.27 L583.6,760.18 L583.47,760.1 L583.34,760.03 L583.19,759.96 L583.04,759.91 L582.89,759.85 L582.73,759.81 L582.56,759.77 L582.39,759.73 L582.22,759.69 L582.05,759.66 L581.87,759.62 L581.7,759.59 L581.53,759.55 L581.36,759.51 L581.2,759.47 L581.04,759.42 L580.88,759.37 L580.73,759.31 L580.59,759.25 L580.46,759.17 L580.33,759.09 L580.22,759 L580.11,758.9 L580.01,758.8 L579.91,758.68 L579.83,758.56 L579.75,758.43 L579.69,758.29 L579.62,758.14 L579.57,757.99 L579.52,757.83 L579.48,757.67 L579.44,757.5 L579.4,757.33 L579.36,757.16 L579.33,756.98 L579.3,756.81 L579.26,756.64 L579.22,756.47 L579.18,756.3 L579.14,756.14 L579.09,755.98 L579.03,755.83 L578.97,755.68 L578.9,755.55 L578.82,755.42 L578.74,755.29 L578.64,755.18 L578.54,755.08 L578.43,754.98 L578.31,754.89 L578.18,754.81 L578.05,754.74 L577.9,754.68 L577.75,754.62 L577.6,754.57 L577.44,754.52 L577.27,754.48 L577.1,754.44 L576.93,754.4 L576.76,754.37 L576.59,754.34 L576.41,754.3 L576.24,754.26 L576.07,754.23 L575.91,754.18 L575.75,754.14 L575.59,754.08 L575.45,754.02 L575.3,753.96 L575.17,753.88 L575.04,753.8 L574.93,753.71 L574.82,753.61 L574.72,753.51 L574.63,753.39 L574.54,753.27 L574.47,753.14 L574.4,753 L574.34,752.85 L574.28,752.7 L574.23,752.54 L574.19,752.38 L574.15,752.21 L574.11,752.04 L574.08,751.87 L574.04,751.69 L574.01,751.52 L573.97,751.35 L573.94,751.18 L573.9,751.01 L573.85,750.85 L573.8,750.69 L573.74,750.54 L573.68,750.4 L573.61,750.26 L573.53,750.13 L573.45,750.01 L573.35,749.89 L573.25,749.79 L573.14,749.69 L573.02,749.6 L572.89,749.52 L572.76,749.45 L572.61,749.39 L572.47,749.33 L572.31,749.28 L572.15,749.23 L571.98,749.19 L571.81,749.15 L571.64,749.12 L571.47,749.08 L571.3,749.05 L571.12,749.01 L570.95,748.98 L570.78,748.94 L570.62,748.9 L570.46,748.85 L570.3,748.8 L570.16,748.74 L570.02,748.67 L569.88,748.6 L569.76,748.51 L569.64,748.43 L569.53,748.33 L569.43,748.22 L569.34,748.1 L569.25,747.98 L569.18,747.85 L569.11,747.71 L569.05,747.56 L569,747.41 L568.95,747.25 L568.9,747.09 L568.86,746.92 L568.83,746.75 L568.79,746.58 L568.76,746.4 L568.72,746.23 L568.69,746.06 L568.65,745.89 L568.61,745.72 L568.56,745.56 L568.51,745.4 L568.46,745.25 L568.39,745.11 L568.32,744.97 L568.25,744.84 L568.16,744.72 L568.07,744.6 L567.96,744.5 L567.85,744.4 L567.73,744.32 L567.6,744.24 L567.47,744.17 L567.33,744.1 L567.18,744.04 L567.02,743.99 L566.86,743.95 L566.69,743.9 L566.52,743.87 L566.35,743.83 L566.18,743.8 L566.01,743.76 L565.83,743.73 L565.66,743.69 L565.49,743.65 L565.33,743.61 L565.17,743.56 L565.02,743.51 L564.87,743.45 L564.73,743.38 L564.59,743.31 L564.47,743.23 L564.35,743.14 L564.24,743.04 L564.14,742.93 L564.05,742.82 L563.97,742.69 L563.89,742.56 L563.82,742.42 L563.76,742.27 L563.71,742.12 L563.66,741.96 L563.62,741.8 L563.58,741.63 L563.54,741.46 L563.5,741.29 L563.47,741.11 L563.44,740.94 L563.4,740.77 L563.36,740.6 L563.32,740.43 L563.28,740.27 L563.23,740.11 L563.17,739.96 L563.11,739.82 L563.04,739.68 L562.96,739.55 L562.87,739.43 L562.78,739.32 L562.68,739.21 L562.56,739.12 L562.44,739.03 L562.32,738.95 L562.18,738.88 L562.04,738.81 L561.89,738.76 L561.73,738.71 L561.57,738.66 L561.4,738.62 L561.23,738.58 L561.06,738.54 L560.89,738.51 L560.72,738.48 L560.54,738.44 L560.37,738.4 L560.2,738.36 L560.04,738.32 L559.88,738.27 L559.73,738.22 L559.58,738.16 L559.44,738.09 L559.3,738.02 L559.18,737.94 L559.06,737.85 L558.95,737.75 L558.85,737.64 L558.76,737.52 L558.67,737.39 L558.59,737.25 L558.53,737.11 L558.47,736.95 L558.42,736.79 L558.38,736.63 L558.34,736.46 L558.31,736.29 L558.29,736.12 L558.27,735.94 L558.25,735.76 L558.23,735.59 L558.22,735.42 L558.2,735.24 L558.18,735.08 L558.16,734.91 L558.13,734.75 L558.1,734.6 L558.07,734.45 L558.02,734.31 L557.97,734.17 L557.91,734.04 L557.84,733.92 L557.76,733.8 L557.68,733.69 L557.58,733.59 L557.48,733.49 L557.36,733.39 L557.24,733.3 L557.11,733.21 L556.97,733.13 L556.83,733.05 L556.68,732.97 L556.53,732.89 L556.38,732.81 L556.22,732.72 L556.06,732.64 L555.91,732.56 L555.76,732.47 L555.61,732.38 L555.46,732.28 L555.33,732.18 L555.2,732.07 L555.08,731.96 L554.97,731.85 L554.87,731.73 L554.78,731.6 L554.7,731.47 L554.63,731.33 L554.58,731.18 L554.54,731.04 L554.51,730.88 L554.49,730.73 L554.49,730.57 L554.49,730.4 L554.51,730.24 L554.53,730.07 L554.56,729.9 L554.6,729.73 L554.65,729.56 L554.69,729.39 L554.74,729.22 L554.8,729.05 L554.85,728.89 L554.9,728.72 L554.95,728.56 L554.99,728.4 L555.03,728.24 L555.06,728.09 L555.08,727.94 L555.09,727.79 L555.1,727.64 L555.09,727.5 L555.07,727.36 L555.05,727.22 L555.01,727.09 L554.96,726.95 L554.9,726.82 L554.83,726.69 L554.75,726.56 L554.67,726.43 L554.57,726.3 L554.47,726.17 L554.37,726.04 L554.26,725.9 L554.14,725.77 L554.03,725.63 L553.92,725.5 L553.81,725.36 L553.7,725.22 L553.6,725.08 L553.5,724.94 L553.42,724.79 L553.34,724.64 L553.27,724.49 L553.21,724.34 L553.17,724.19 L553.13,724.04 L553.11,723.89 L553.1,723.74 L553.11,723.58 L553.13,723.43 L553.16,723.28 L553.21,723.13 L553.26,722.98 L553.33,722.83 L553.41,722.68 L553.49,722.54 L553.59,722.39 L553.69,722.25 L553.8,722.11 L553.91,721.97 L554.02,721.83 L554.13,721.7 L554.24,721.56 L554.35,721.43 L554.46,721.3 L554.56,721.17 L554.65,721.04 L554.74,720.91 L554.82,720.78 L554.89,720.65 L554.95,720.51 L555,720.38 L555.03,720.24 L555.06,720.1 L555.08,719.96 L555.08,719.82 L555.08,719.68 L555.07,719.53 L555.04,719.38 L555.01,719.22 L554.98,719.07 L554.93,718.91 L554.89,718.75 L554.84,718.58 L554.78,718.42 L554.73,718.25 L554.68,718.08 L554.63,717.91 L554.59,717.74 L554.55,717.57 L554.51,717.4 L554.49,717.23 L554.47,717.07 L554.47,716.9 L554.47,716.74 L554.49,716.59 L554.51,716.43 L554.55,716.28 L554.6,716.14 L554.67,716 L554.74,715.87 L554.83,715.74 L554.93,715.62 L555.04,715.5 L555.16,715.39 L555.29,715.28 L555.43,715.18 L555.57,715.08 L555.72,714.99 L555.87,714.9 L556.02,714.82 L556.18,714.73 L556.33,714.65 L556.49,714.57 L556.64,714.49 L556.79,714.41 L556.93,714.33 L557.07,714.24 L557.2,714.15 L557.32,714.06 L557.44,713.97 L557.54,713.87 L557.64,713.76 L557.73,713.65 L557.8,713.54 L557.87,713.41 L557.93,713.28 L557.99,713.15 L558.03,713.01 L558.07,712.86 L558.1,712.7 L558.12,712.55 L558.14,712.38 L558.16,712.21 L558.18,712.04 L558.19,711.87 L558.21,711.69 L558.23,711.52 L558.25,711.34 L558.27,711.17 L558.3,711 L558.33,710.83 L558.38,710.66 L558.42,710.5 L558.48,710.35 L558.55,710.2 L558.62,710.06 L558.71,709.93 L558.8,709.81 L558.9,709.7 L559.01,709.6 L559.13,709.51 L559.25,709.43 L559.39,709.35 L559.53,709.28 L559.67,709.22 L559.83,709.17 L559.99,709.12 L560.15,709.08 L560.32,709.04 L560.49,709 L560.66,708.97 L560.83,708.93 L561.01,708.9 L561.18,708.86 L561.35,708.83 L561.52,708.79 L561.68,708.74 L561.83,708.69 L561.98,708.63 L562.13,708.57 L562.26,708.5 L562.39,708.42 L562.51,708.33 L562.63,708.24 L562.73,708.13 L562.82,708.02 L562.91,707.9 L562.99,707.77 L563.06,707.63 L563.12,707.49 L563.18,707.34 L563.23,707.18 L563.28,707.02 L563.32,706.86 L563.36,706.69 L563.39,706.51 L563.43,706.34 L563.46,706.17 L563.49,706 L563.53,705.82 L563.57,705.66 L563.61,705.49 L563.66,705.33 L563.72,705.18 L563.78,705.03 L563.84,704.89 L563.92,704.76 L564,704.64 L564.09,704.52 L564.19,704.41 L564.3,704.31 L564.42,704.22 L564.54,704.14 L564.67,704.06 L564.81,704 L564.96,703.94 L565.12,703.88 L565.28,703.84 L565.44,703.79 L565.61,703.75 L565.78,703.72 L565.95,703.68 L566.12,703.65 L566.3,703.61 L566.47,703.58 L566.64,703.54 L566.8,703.5 L566.97,703.45 L567.12,703.4 L567.27,703.34 L567.42,703.28 L567.55,703.21 L567.68,703.13 L567.8,703.04 L567.91,702.95 L568.02,702.85 L568.11,702.73 L568.2,702.61 L568.28,702.48 L568.35,702.35 L568.41,702.2 L568.47,702.05 L568.52,701.89 L568.56,701.73 L568.6,701.57 L568.64,701.4 L568.68,701.22 L568.71,701.05 L568.75,700.88 L568.78,700.71 L568.82,700.53 L568.86,700.37 L568.9,700.2 L568.95,700.04 L569,699.89 L569.06,699.74 L569.13,699.6 L569.21,699.47 L569.29,699.35 L569.38,699.23 L569.48,699.12 L569.59,699.02 L569.71,698.93 L569.83,698.85 L569.96,698.78 L570.1,698.71 L570.25,698.65 L570.41,698.6 L570.57,698.55 L570.73,698.51 L570.9,698.47 L571.07,698.43 L571.24,698.39 L571.41,698.36 L571.59,698.33 L571.76,698.29 L571.93,698.25 L572.09,698.21 L572.26,698.17 L572.41,698.11 L572.56,698.06 L572.71,697.99 L572.84,697.92 L572.97,697.84 L573.09,697.76 L573.2,697.66 L573.31,697.56 L573.4,697.44 L573.49,697.32 L573.57,697.19 L573.64,697.06 L573.7,696.91 L573.75,696.76 L573.81,696.6 L573.85,696.44 L573.89,696.28 L573.93,696.11 L573.97,695.93 L574,695.76 L574.03,695.59 L574.07,695.42 L574.11,695.25 L574.15,695.08 L574.19,694.91 L574.24,694.75 L574.29,694.6 L574.35,694.45 L574.42,694.31 L574.49,694.18 L574.58,694.06 L574.67,693.94 L574.77,693.83 L574.88,693.74 L574.99,693.65 L575.12,693.56 L575.25,693.49 L575.39,693.42 L575.54,693.36 L575.69,693.31 L575.85,693.26 L576.02,693.22 L576.19,693.18 L576.36,693.14 L576.53,693.11 L576.7,693.07 L576.88,693.04 L577.05,693 L577.22,692.97 L577.38,692.92 L577.54,692.88 L577.7,692.83 L577.85,692.77 L577.99,692.71 L578.13,692.63 L578.26,692.56 L578.38,692.47 L578.49,692.37 L578.59,692.27 L578.69,692.16 L578.77,692.03 L578.85,691.9 L578.92,691.77 L578.99,691.62 L579.04,691.47 L579.09,691.32 L579.14,691.15 L579.18,690.99 L579.22,690.82 L579.25,690.65 L579.29,690.47 L579.32,690.3 L579.36,690.13 L579.39,689.96 L579.43,689.79 L579.48,689.62 L579.52,689.47 L579.58,689.31 L579.64,689.17 L579.71,689.03 L579.78,688.89 L579.86,688.77 L579.96,688.65 L580.06,688.55 L580.17,688.45 L580.28,688.36 L580.41,688.28 L580.54,688.2 L580.68,688.13 L580.83,688.08 L580.98,688.02 L581.14,687.97 L581.31,687.93 L581.48,687.89 L581.65,687.86 L581.82,687.82 L581.99,687.79 L582.17,687.75 L582.34,687.72 L582.51,687.68 L582.67,687.64 L582.83,687.59 L582.99,687.54 L583.14,687.48 L583.28,687.42 L583.42,687.35 L583.55,687.27 L583.67,687.18 L583.78,687.08 L583.88,686.98 L583.98,686.87 L584.06,686.75 L584.14,686.62 L584.21,686.48 L584.27,686.33 L584.33,686.18 L584.38,686.03 L584.42,685.86 L584.47,685.7 L584.5,685.53 L584.54,685.36 L584.57,685.18 L584.61,685.01 L584.64,684.84 L584.68,684.67 L584.72,684.5 L584.76,684.34 L584.81,684.18 L584.87,684.02 L584.93,683.88 L584.99,683.74 L585.07,683.6 L585.15,683.48 L585.24,683.37 L585.34,683.26 L585.45,683.16 L585.57,683.07 L585.7,682.99 L585.83,682.91 L585.97,682.85 L586.12,682.79 L586.27,682.74 L586.43,682.69 L586.6,682.64 L586.77,682.61 L586.94,682.57 L587.11,682.53 L587.28,682.5 L587.46,682.47 L587.63,682.43 L587.8,682.39 L587.96,682.35 L588.12,682.3 L588.28,682.25 L588.43,682.2 L588.57,682.13 L588.71,682.06 L588.84,681.98 L588.96,681.89 L589.07,681.8 L589.17,681.69 L589.26,681.58 L589.35,681.46 L589.43,681.33 L589.5,681.19 L589.56,681.04 L589.62,680.89 L589.67,680.74 L589.71,680.57 L589.75,680.41 L589.79,680.24 L589.83,680.07 L589.86,679.89 L589.89,679.72 L589.93,679.55 L589.97,679.38 L590.01,679.21 L590.05,679.05 L590.1,678.89 L590.15,678.73 L590.21,678.59 L590.28,678.45 L590.36,678.32 L590.44,678.19 L590.53,678.08 L590.63,677.97 L590.74,677.87 L590.86,677.78 L590.99,677.7 L591.12,677.63 L591.26,677.56 L591.41,677.5 L591.56,677.45 L591.72,677.4 L591.89,677.36 L592.06,677.32 L592.23,677.28 L592.4,677.25 L592.57,677.21 L592.75,677.18 L592.92,677.14 L593.09,677.1 L593.25,677.06 L593.41,677.02 L593.57,676.97 L593.72,676.91 L593.86,676.84 L594,676.77 L594.13,676.69 L594.24,676.6 L594.36,676.51 L594.46,676.4 L594.55,676.29 L594.64,676.17 L594.72,676.04 L594.79,675.9 L594.85,675.76 L594.9,675.6 L594.95,675.45 L595,675.28 L595.04,675.12 L595.08,674.95 L595.11,674.78 L595.15,674.6 L595.18,674.43 L595.22,674.26 L595.25,674.09 L595.29,673.92 L595.34,673.76 L595.39,673.6 L595.44,673.44 L595.5,673.3 L595.57,673.16 L595.65,673.03 L595.73,672.9 L595.82,672.79 L595.92,672.68 L596.03,672.58 L596.15,672.49 L596.27,672.41 L596.41,672.34 L596.55,672.27 L596.7,672.21 L596.85,672.16 L597.01,672.11 L597.18,672.07 L597.35,672.03 L597.52,672 L597.69,671.96 L597.86,671.93 L598.04,671.89 L598.21,671.86 L598.38,671.82 L598.54,671.78 L598.7,671.73 L598.86,671.68 L599.01,671.62 L599.15,671.56 L599.29,671.48 L599.41,671.4 L599.53,671.32 L599.64,671.22 L599.75,671.11 L599.84,671 L599.93,670.88 L600,670.75 L600.07,670.61 L600.14,670.47 L600.19,670.32 L600.24,670.16 L600.29,670 L600.33,669.83 L600.36,669.66 L600.4,669.49 L600.43,669.31 L600.47,669.14 L600.5,668.97 L600.54,668.8 L600.58,668.63 L600.62,668.47 L600.67,668.31 L600.73,668.16 L600.79,668.01 L600.86,667.87 L600.93,667.74 L601.02,667.61 L601.11,667.5 L601.21,667.39 L601.32,667.3 L601.44,667.21 L601.56,667.12 L601.7,667.05 L601.84,666.99 L601.99,666.93 L602.14,666.87 L602.3,666.83 L602.47,666.78 L602.63,666.74 L602.81,666.71 L602.98,666.67 L603.15,666.64 L603.32,666.6 L603.5,666.57 L603.67,666.53 L603.83,666.49 L603.99,666.44 L604.15,666.39 L604.3,666.33 L604.44,666.27 L604.58,666.2 L604.7,666.12 L604.82,666.03 L604.93,665.93 L605.04,665.83 L605.13,665.71 L605.21,665.59 L605.29,665.46 L605.36,665.32 L605.42,665.18 L605.48,665.03 L605.53,664.87 L605.57,664.71 L605.61,664.54 L605.65,664.37 L605.69,664.2 L605.72,664.02 L605.76,663.85 L605.79,663.68 L605.83,663.51 L605.88,663.34 L605.93,663.17 L605.99,663.02 L606.05,662.86 L606.13,662.72 L606.21,662.58 L606.3,662.45 L606.39,662.33 L606.5,662.22 L606.62,662.12 L606.74,662.03 L606.87,661.95 L607.01,661.88 L607.16,661.82 L607.31,661.77 L607.47,661.73 L607.63,661.7 L607.8,661.67 L607.97,661.66 L608.15,661.64 L608.32,661.64 L608.5,661.63 L608.68,661.63 L608.85,661.64 L609.03,661.64 L609.2,661.64 L609.37,661.63 L609.53,661.63 L609.69,661.62 L609.85,661.6 L610,661.57 L610.14,661.54 L610.28,661.5 L610.41,661.45 L610.54,661.39 L610.66,661.33 L610.78,661.25 L610.89,661.16 L611,661.06 L611.11,660.96 L611.21,660.84 L611.31,660.72 L611.41,660.59 L611.5,660.45 L611.6,660.31 L611.69,660.17 L611.79,660.02 L611.88,659.88 L611.98,659.73 L612.08,659.58 L612.19,659.44 L612.29,659.3 L612.4,659.17 L612.52,659.05 L612.64,658.93 L612.76,658.83 L612.89,658.73 L613.02,658.64 L613.16,658.57 L613.3,658.51 L613.44,658.46 L613.59,658.42 L613.74,658.4 L613.9,658.39 L614.06,658.39 L614.22,658.41 L614.38,658.43 L614.54,658.46 L614.71,658.51 L614.87,658.56 L615.04,658.61 L615.2,658.67 L615.37,658.74 L615.53,658.81 L615.69,658.88 L615.85,658.94 L616.01,659.01 L616.17,659.07 L616.32,659.13 L616.47,659.18 L616.62,659.22 L616.77,659.26 L616.92,659.28 L617.06,659.3 L617.2,659.3 L617.34,659.3 L617.48,659.28 L617.62,659.25 L617.76,659.22 L617.9,659.17 L618.04,659.11 L618.17,659.04 L618.31,658.97 L618.45,658.88 L618.59,658.8 L618.73,658.7 L618.88,658.61 L619.02,658.51 L619.17,658.41 L619.31,658.31 L619.46,658.21 L619.61,658.12 L619.76,658.04 L619.91,657.96 L620.07,657.89 L620.22,657.83 L620.38,657.77 L620.53,657.73 L620.69,657.71 L620.84,657.69 L620.99,657.69 L621.15,657.7 L621.3,657.72 L621.45,657.76 L621.6,657.81 L621.74,657.87 L621.88,657.95 L622.02,658.03 L622.16,658.13 L622.3,658.23 L622.43,658.34 L622.56,658.45 L622.69,658.58 L622.82,658.7 L622.94,658.82 L623.07,658.95 L623.19,659.07 L623.31,659.19 L623.43,659.31 L623.55,659.42 L623.67,659.53 L623.79,659.62 L623.92,659.71 L624.04,659.79 L624.17,659.86 L624.3,659.92 L624.43,659.97 L624.56,660.01 L624.7,660.04 L624.85,660.05 L624.99,660.06 L625.14,660.06 L625.29,660.05 L625.45,660.04 L625.61,660.01 L625.78,659.98 L625.94,659.95 L626.11,659.92 L626.28,659.88 L626.45,659.85 L626.63,659.81 L626.8,659.78 L626.98,659.75 L627.15,659.73 L627.32,659.72 L627.49,659.71 L627.65,659.71 L627.82,659.73 L627.97,659.75 L628.13,659.78 L628.28,659.83 L628.42,659.89 L628.56,659.95 L628.69,660.03 L628.81,660.13 L628.93,660.23 L629.04,660.34 L629.14,660.47 L629.24,660.6 L629.33,660.74 L629.42,660.89 L629.5,661.04 L629.57,661.2 L629.65,661.36 L629.72,661.52 L629.78,661.68 L629.85,661.85 L629.91,662.01 L629.98,662.16 L630.05,662.32 L630.11,662.47 L630.19,662.61 L630.26,662.75 L630.34,662.88 L630.43,663 L630.52,663.11 L630.61,663.21 L630.72,663.31 L630.83,663.4 L630.94,663.48 L631.07,663.55 L631.2,663.61 L631.34,663.67 L631.48,663.72 L631.64,663.76 L631.79,663.8 L631.95,663.84 L632.12,663.87 L632.29,663.9 L632.46,663.94Z" fill="#fff" stroke="#626088" stroke-width="1"/>
<path d="M632.64,812.27 L632.81,812.3 L632.98,812.34 L633.15,812.38 L633.32,812.42 L633.48,812.46 L633.64,812.51 L633.79,812.57 L633.94,812.63 L634.07,812.7 L634.21,812.77 L634.33,812.86 L634.44,812.95 L634.55,813.05 L634.65,813.16 L634.73,813.28 L634.81,813.41 L634.89,813.54 L634.95,813.68 L635.01,813.83 L635.06,813.99 L635.11,814.15 L635.15,814.31 L635.19,814.48 L635.23,814.65 L635.26,814.83 L635.3,815 L635.33,815.17 L635.37,815.34 L635.4,815.51 L635.45,815.68 L635.49,815.84 L635.55,815.99 L635.6,816.14 L635.67,816.28 L635.74,816.42 L635.82,816.55 L635.91,816.66 L636.01,816.77 L636.12,816.88 L636.23,816.97 L636.35,817.05 L636.48,817.13 L636.62,817.2 L636.77,817.26 L636.92,817.32 L637.08,817.36 L637.24,817.41 L637.41,817.45 L637.58,817.49 L637.75,817.52 L637.92,817.56 L638.1,817.59 L638.27,817.63 L638.44,817.66 L638.61,817.7 L638.77,817.75 L638.93,817.8 L639.08,817.85 L639.23,817.91 L639.36,817.98 L639.49,818.06 L639.62,818.14 L639.73,818.24 L639.84,818.34 L639.93,818.45 L640.02,818.57 L640.1,818.7 L640.18,818.83 L640.24,818.97 L640.3,819.12 L640.35,819.28 L640.4,819.44 L640.44,819.6 L640.48,819.77 L640.51,819.94 L640.55,820.12 L640.58,820.29 L640.62,820.46 L640.65,820.63 L640.69,820.8 L640.73,820.97 L640.78,821.13 L640.83,821.28 L640.89,821.43 L640.96,821.57 L641.03,821.71 L641.11,821.83 L641.2,821.95 L641.3,822.06 L641.4,822.16 L641.52,822.26 L641.64,822.34 L641.77,822.42 L641.91,822.49 L642.06,822.55 L642.21,822.6 L642.37,822.65 L642.53,822.7 L642.7,822.74 L642.87,822.77 L643.04,822.81 L643.21,822.84 L643.39,822.88 L643.56,822.91 L643.73,822.95 L643.9,822.99 L644.06,823.03 L644.22,823.08 L644.37,823.14 L644.51,823.2 L644.65,823.27 L644.78,823.35 L644.91,823.43 L645.02,823.53 L645.12,823.63 L645.22,823.74 L645.31,823.86 L645.39,823.98 L645.46,824.12 L645.53,824.26 L645.59,824.41 L645.64,824.57 L645.68,824.73 L645.73,824.89 L645.76,825.06 L645.8,825.23 L645.84,825.41 L645.87,825.58 L645.9,825.75 L645.94,825.92 L645.98,826.09 L646.02,826.26 L646.07,826.42 L646.12,826.57 L646.18,826.72 L646.25,826.86 L646.32,827 L646.4,827.12 L646.49,827.24 L646.59,827.35 L646.69,827.45 L646.81,827.55 L646.93,827.63 L647.06,827.71 L647.2,827.77 L647.35,827.84 L647.5,827.89 L647.66,827.94 L647.82,827.98 L647.99,828.02 L648.16,828.06 L648.33,828.1 L648.5,828.13 L648.68,828.16 L648.85,828.2 L649.02,828.24 L649.19,828.28 L649.35,828.32 L649.51,828.37 L649.66,828.43 L649.8,828.49 L649.94,828.56 L650.07,828.64 L650.19,828.72 L650.31,828.81 L650.41,828.92 L650.51,829.03 L650.6,829.15 L650.68,829.27 L650.75,829.41 L650.81,829.55 L650.87,829.7 L650.92,829.86 L650.97,830.02 L651.01,830.18 L651.05,830.35 L651.09,830.52 L651.12,830.7 L651.16,830.87 L651.19,831.04 L651.23,831.21 L651.27,831.38 L651.31,831.55 L651.36,831.71 L651.41,831.86 L651.47,832.01 L651.53,832.15 L651.61,832.29 L651.69,832.41 L651.78,832.53 L651.87,832.64 L651.98,832.74 L652.1,832.83 L652.22,832.92 L652.35,832.99 L652.49,833.06 L652.64,833.12 L652.79,833.18 L652.95,833.23 L653.11,833.27 L653.28,833.31 L653.45,833.35 L653.62,833.38 L653.79,833.42 L653.97,833.45 L654.14,833.49 L654.31,833.52 L654.48,833.56 L654.64,833.61 L654.8,833.66 L654.95,833.71 L655.09,833.78 L655.23,833.85 L655.36,833.92 L655.48,834.01 L655.6,834.1 L655.7,834.2 L655.8,834.32 L655.89,834.44 L655.97,834.56 L656.04,834.7 L656.1,834.84 L656.16,834.99 L656.21,835.15 L656.26,835.31 L656.3,835.47 L656.34,835.64 L656.37,835.81 L656.41,835.99 L656.44,836.16 L656.48,836.33 L656.51,836.5 L656.55,836.67 L656.6,836.84 L656.64,837 L656.7,837.15 L656.75,837.3 L656.82,837.44 L656.89,837.57 L656.98,837.7 L657.06,837.82 L657.16,837.93 L657.27,838.03 L657.38,838.12 L657.51,838.2 L657.64,838.28 L657.78,838.35 L657.93,838.41 L658.08,838.46 L658.24,838.51 L658.4,838.56 L658.57,838.6 L658.74,838.63 L658.91,838.67 L659.08,838.7 L659.26,838.74 L659.43,838.77 L659.6,838.81 L659.76,838.85 L659.93,838.9 L660.08,838.95 L660.24,839 L660.38,839.06 L660.52,839.13 L660.65,839.21 L660.77,839.3 L660.88,839.39 L660.99,839.49 L661.09,839.6 L661.17,839.72 L661.25,839.85 L661.33,839.99 L661.39,840.13 L661.45,840.28 L661.5,840.44 L661.55,840.6 L661.59,840.76 L661.63,840.93 L661.66,841.1 L661.7,841.28 L661.73,841.45 L661.76,841.62 L661.8,841.79 L661.84,841.96 L661.88,842.13 L661.93,842.29 L661.98,842.44 L662.04,842.59 L662.11,842.73 L662.18,842.86 L662.26,842.99 L662.35,843.11 L662.45,843.22 L662.56,843.32 L662.67,843.41 L662.8,843.49 L662.93,843.57 L663.07,843.64 L663.21,843.7 L663.37,843.75 L663.53,843.8 L663.69,843.84 L663.86,843.88 L664.03,843.92 L664.2,843.96 L664.37,843.99 L664.55,844.02 L664.72,844.06 L664.89,844.1 L665.05,844.14 L665.22,844.18 L665.37,844.23 L665.53,844.29 L665.67,844.35 L665.81,844.42 L665.94,844.5 L666.06,844.58 L666.17,844.68 L666.28,844.78 L666.37,844.89 L666.46,845.01 L666.54,845.14 L666.61,845.28 L666.68,845.42 L666.73,845.57 L666.79,845.72 L666.83,845.89 L666.87,846.05 L666.91,846.22 L666.95,846.39 L666.98,846.57 L667.02,846.74 L667.05,846.91 L667.09,847.08 L667.13,847.25 L667.17,847.41 L667.22,847.57 L667.27,847.73 L667.33,847.88 L667.4,848.02 L667.47,848.15 L667.55,848.28 L667.64,848.4 L667.74,848.5 L667.85,848.61 L667.96,848.7 L668.09,848.78 L668.22,848.86 L668.36,848.92 L668.5,848.98 L668.66,849.04 L668.82,849.09 L668.98,849.13 L669.15,849.17 L669.32,849.21 L669.49,849.24 L669.66,849.28 L669.84,849.31 L670.01,849.35 L670.18,849.38 L670.34,849.43 L670.51,849.47 L670.66,849.52 L670.81,849.58 L670.96,849.64 L671.1,849.71 L671.23,849.79 L671.35,849.87 L671.46,849.97 L671.57,850.07 L671.66,850.18 L671.75,850.3 L671.83,850.43 L671.9,850.56 L671.96,850.71 L672.02,850.86 L672.07,851.01 L672.12,851.18 L672.16,851.34 L672.2,851.51 L672.24,851.68 L672.27,851.85 L672.3,852.03 L672.34,852.2 L672.38,852.37 L672.41,852.54 L672.46,852.7 L672.5,852.86 L672.56,853.02 L672.62,853.17 L672.68,853.31 L672.76,853.44 L672.84,853.57 L672.93,853.68 L673.03,853.79 L673.13,853.89 L673.25,853.98 L673.37,854.07 L673.51,854.14 L673.65,854.21 L673.79,854.27 L673.95,854.33 L674.1,854.37 L674.27,854.42 L674.44,854.46 L674.61,854.5 L674.78,854.53 L674.95,854.56 L675.13,854.6 L675.3,854.63 L675.47,854.67 L675.63,854.71 L675.8,854.76 L675.95,854.81 L676.1,854.86 L676.25,854.93 L676.39,855 L676.52,855.08 L676.64,855.16 L676.75,855.26 L676.85,855.36 L676.95,855.47 L677.04,855.59 L677.12,855.72 L677.19,855.85 L677.25,856 L677.31,856.15 L677.36,856.3 L677.41,856.46 L677.45,856.63 L677.49,856.8 L677.52,856.97 L677.56,857.14 L677.59,857.32 L677.63,857.49 L677.66,857.66 L677.7,857.83 L677.74,857.99 L677.79,858.15 L677.85,858.31 L677.9,858.46 L677.97,858.6 L678.05,858.73 L678.13,858.86 L678.22,858.97 L678.32,859.08 L678.42,859.18 L678.53,859.27 L678.65,859.35 L678.78,859.42 L678.91,859.49 L679.05,859.55 L679.2,859.61 L679.35,859.67 L679.51,859.72 L679.67,859.77 L679.84,859.81 L680.01,859.86 L680.18,859.91 L680.35,859.97 L680.52,860.02 L680.68,860.08 L680.84,860.14 L681,860.21 L681.15,860.29 L681.29,860.37 L681.43,860.46 L681.56,860.55 L681.67,860.65 L681.78,860.77 L681.88,860.88 L681.97,861.01 L682.04,861.14 L682.1,861.29 L682.16,861.43 L682.2,861.59 L682.23,861.74 L682.25,861.91 L682.27,862.07 L682.27,862.25 L682.27,862.42 L682.26,862.59 L682.25,862.77 L682.24,862.95 L682.22,863.12 L682.2,863.3 L682.18,863.47 L682.17,863.64 L682.15,863.81 L682.14,863.97 L682.14,864.13 L682.14,864.28 L682.16,864.43 L682.18,864.58 L682.2,864.72 L682.24,864.86 L682.29,864.99 L682.35,865.12 L682.42,865.24 L682.5,865.36 L682.59,865.48 L682.68,865.59 L682.79,865.7 L682.9,865.81 L683.03,865.92 L683.15,866.03 L683.28,866.14 L683.42,866.25 L683.56,866.36 L683.69,866.47 L683.83,866.58 L683.96,866.7 L684.09,866.81 L684.22,866.93 L684.34,867.06 L684.45,867.18 L684.55,867.32 L684.64,867.45 L684.72,867.59 L684.79,867.73 L684.85,867.87 L684.89,868.02 L684.92,868.17 L684.94,868.32 L684.94,868.47 L684.93,868.63 L684.91,868.79 L684.88,868.95 L684.84,869.11 L684.79,869.27 L684.73,869.43 L684.66,869.59 L684.59,869.74 L684.51,869.9 L684.43,870.06 L684.34,870.21 L684.26,870.37 L684.18,870.52 L684.1,870.67 L684.02,870.82 L683.95,870.97 L683.89,871.11 L683.83,871.26 L683.78,871.4 L683.75,871.54 L683.72,871.69 L683.7,871.83 L683.7,871.97 L683.7,872.11 L683.72,872.25 L683.74,872.39 L683.78,872.53 L683.83,872.67 L683.88,872.82 L683.95,872.96 L684.02,873.11 L684.09,873.26 L684.17,873.41 L684.26,873.56 L684.34,873.72 L684.43,873.87 L684.51,874.03 L684.59,874.18 L684.66,874.34 L684.73,874.5 L684.79,874.66 L684.85,874.82 L684.89,874.98 L684.92,875.14 L684.94,875.3 L684.95,875.45 L684.95,875.61 L684.93,875.76 L684.9,875.91 L684.86,876.06 L684.81,876.2 L684.74,876.34 L684.66,876.48 L684.57,876.62 L684.47,876.75 L684.36,876.87 L684.24,877 L684.12,877.12 L683.99,877.24 L683.86,877.35 L683.72,877.47 L683.58,877.58 L683.45,877.69 L683.31,877.8 L683.18,877.91 L683.05,878.01 L682.93,878.12 L682.82,878.23 L682.71,878.35 L682.61,878.46 L682.52,878.58 L682.45,878.7 L682.38,878.82 L682.32,878.95 L682.27,879.08 L682.23,879.22 L682.2,879.36 L682.18,879.5 L682.17,879.65 L682.17,879.81 L682.17,879.97 L682.18,880.13 L682.19,880.3 L682.21,880.47 L682.22,880.64 L682.24,880.81 L682.26,880.99 L682.28,881.16 L682.29,881.34 L682.3,881.52 L682.3,881.69 L682.3,881.86 L682.29,882.03 L682.26,882.19 L682.23,882.35 L682.19,882.5 L682.14,882.65 L682.08,882.79 L682.01,882.93 L681.92,883.06 L681.82,883.18 L681.72,883.29 L681.6,883.39 L681.48,883.49 L681.34,883.58 L681.2,883.66 L681.05,883.74 L680.89,883.81 L680.73,883.87 L680.57,883.93 L680.4,883.99 L680.23,884.04 L680.06,884.09 L679.89,884.14 L679.73,884.19 L679.56,884.24 L679.4,884.29 L679.25,884.34 L679.1,884.4 L678.96,884.46 L678.83,884.53 L678.7,884.61 L678.58,884.69 L678.47,884.77 L678.37,884.87 L678.27,884.98 L678.18,885.09 L678.09,885.22 L678.02,885.35 L677.95,885.49 L677.89,885.64 L677.84,885.79 L677.79,885.95 L677.75,886.12 L677.71,886.28 L677.67,886.45 L677.63,886.63 L677.6,886.8 L677.57,886.97 L677.53,887.15 L677.49,887.31 L677.45,887.48 L677.41,887.64 L677.35,887.8 L677.3,887.95 L677.23,888.09 L677.16,888.23 L677.09,888.36 L677,888.48 L676.9,888.59 L676.8,888.7 L676.69,888.79 L676.57,888.88 L676.44,888.96 L676.3,889.03 L676.16,889.09 L676.01,889.15 L675.85,889.2 L675.69,889.24 L675.52,889.28 L675.35,889.32 L675.18,889.36 L675.01,889.39 L674.83,889.43 L674.66,889.46 L674.49,889.5 L674.32,889.54 L674.16,889.58 L674,889.63 L673.85,889.68 L673.7,889.74 L673.56,889.81 L673.43,889.88 L673.3,889.97 L673.18,890.06 L673.08,890.16 L672.98,890.27 L672.89,890.38 L672.8,890.51 L672.73,890.64 L672.66,890.78 L672.6,890.93 L672.55,891.08 L672.5,891.24 L672.46,891.41 L672.42,891.57 L672.38,891.74 L672.35,891.92 L672.31,892.09 L672.28,892.26 L672.24,892.44 L672.21,892.6 L672.16,892.77 L672.12,892.93 L672.07,893.09 L672.01,893.24 L671.95,893.38 L671.88,893.52 L671.8,893.65 L671.71,893.77 L671.62,893.88 L671.51,893.98 L671.4,894.08 L671.28,894.17 L671.15,894.24 L671.01,894.31 L670.87,894.38 L670.72,894.43 L670.56,894.48 L670.4,894.53 L670.23,894.57 L670.06,894.61 L669.89,894.64 L669.72,894.68 L669.54,894.71 L669.37,894.75 L669.2,894.78 L669.03,894.82 L668.87,894.87 L668.71,894.92 L668.56,894.97 L668.41,895.03 L668.27,895.1 L668.14,895.17 L668.01,895.25 L667.9,895.35 L667.79,895.45 L667.69,895.55 L667.6,895.67 L667.52,895.8 L667.44,895.93 L667.38,896.07 L667.32,896.22 L667.26,896.37 L667.21,896.53 L667.17,896.7 L667.13,896.86 L667.1,897.03 L667.06,897.21 L667.03,897.38 L666.99,897.55 L666.96,897.72 L666.92,897.89 L666.88,898.06 L666.83,898.22 L666.78,898.38 L666.72,898.53 L666.66,898.67 L666.59,898.81 L666.51,898.94 L666.42,899.06 L666.33,899.17 L666.22,899.27 L666.11,899.37 L665.99,899.45 L665.86,899.53 L665.72,899.6 L665.58,899.66 L665.43,899.72 L665.27,899.77 L665.11,899.82 L664.94,899.86 L664.77,899.9 L664.6,899.93 L664.43,899.97 L664.25,900 L664.08,900.03 L663.91,900.07 L663.74,900.11 L663.58,900.15 L663.42,900.2 L663.27,900.26 L663.12,900.32 L662.98,900.38 L662.85,900.46 L662.72,900.54 L662.61,900.63 L662.5,900.73 L662.4,900.84 L662.31,900.96 L662.23,901.08 L662.15,901.22 L662.09,901.36 L662.03,901.51 L661.98,901.66 L661.93,901.82 L661.88,901.98 L661.85,902.15 L661.81,902.32 L661.77,902.5 L661.74,902.67 L661.71,902.84 L661.67,903.01 L661.63,903.18 L661.59,903.35 L661.54,903.51 L661.49,903.67 L661.44,903.82 L661.37,903.96 L661.3,904.1 L661.22,904.23 L661.13,904.35 L661.04,904.46 L660.93,904.56 L660.82,904.65 L660.7,904.74 L660.57,904.82 L660.43,904.89 L660.29,904.95 L660.14,905.01 L659.98,905.06 L659.82,905.1 L659.65,905.14 L659.48,905.18 L659.31,905.22 L659.14,905.25 L658.96,905.29 L658.79,905.32 L658.62,905.36 L658.45,905.4 L658.29,905.44 L658.13,905.49 L657.98,905.54 L657.83,905.6 L657.69,905.67 L657.56,905.75 L657.44,905.83 L657.32,905.92 L657.21,906.02 L657.11,906.13 L657.02,906.25 L656.94,906.37 L656.87,906.51 L656.8,906.65 L656.74,906.8 L656.69,906.95 L656.64,907.11 L656.6,907.27 L656.56,907.44 L656.52,907.61 L656.49,907.79 L656.45,907.96 L656.42,908.13 L656.38,908.3 L656.34,908.47 L656.3,908.64 L656.26,908.8 L656.21,908.96 L656.15,909.11 L656.08,909.25 L656.01,909.39 L655.93,909.51 L655.85,909.63 L655.75,909.75 L655.65,909.85 L655.53,909.94 L655.41,910.03 L655.28,910.11 L655.14,910.18 L655,910.24 L654.85,910.3 L654.69,910.35 L654.53,910.39 L654.36,910.43 L654.19,910.47 L654.02,910.51 L653.85,910.54 L653.68,910.57 L653.5,910.61 L653.33,910.65 L653.16,910.69 L653,910.73 L652.84,910.78 L652.69,910.83 L652.54,910.89 L652.4,910.96 L652.27,911.04 L652.15,911.12 L652.03,911.21 L651.92,911.31 L651.83,911.42 L651.74,911.54 L651.65,911.66 L651.58,911.8 L651.51,911.94 L651.45,912.09 L651.4,912.24 L651.35,912.4 L651.31,912.56 L651.27,912.73 L651.23,912.9 L651.2,913.08 L651.17,913.25 L651.13,913.42 L651.1,913.59 L651.06,913.76 L651.02,913.93 L650.97,914.09 L650.92,914.25 L650.86,914.4 L650.8,914.54 L650.73,914.67 L650.65,914.8 L650.56,914.92 L650.46,915.03 L650.36,915.14 L650.24,915.23 L650.12,915.32 L649.99,915.39 L649.86,915.46 L649.71,915.53 L649.56,915.58 L649.4,915.63 L649.24,915.68 L649.07,915.72 L648.9,915.76 L648.73,915.79 L648.56,915.83 L648.39,915.86 L648.21,915.9 L648.04,915.93 L647.88,915.97 L647.71,916.02 L647.55,916.06 L647.4,916.12 L647.25,916.18 L647.11,916.25 L646.98,916.32 L646.86,916.41 L646.74,916.5 L646.64,916.6 L646.54,916.71 L646.45,916.83 L646.37,916.95 L646.29,917.09 L646.23,917.23 L646.17,917.37 L646.11,917.53 L646.07,917.69 L646.02,917.85 L645.98,918.02 L645.95,918.19 L645.91,918.37 L645.88,918.54 L645.84,918.71 L645.81,918.88 L645.77,919.05 L645.73,919.22 L645.68,919.38 L645.63,919.53 L645.57,919.68 L645.51,919.83 L645.44,919.96 L645.36,920.09 L645.27,920.21 L645.17,920.32 L645.07,920.42 L644.96,920.52 L644.83,920.6 L644.7,920.68 L644.57,920.75 L644.42,920.81 L644.27,920.87 L644.11,920.92 L643.95,920.97 L643.78,921.01 L643.61,921.04 L643.44,921.08 L643.27,921.11 L643.1,921.15 L642.92,921.18 L642.75,921.22 L642.59,921.26 L642.42,921.3 L642.26,921.35 L642.11,921.41 L641.96,921.47 L641.83,921.54 L641.69,921.61 L641.57,921.69 L641.45,921.79 L641.35,921.89 L641.25,922 L641.16,922.11 L641.08,922.24 L641,922.37 L640.94,922.52 L640.88,922.66 L640.83,922.82 L640.78,922.98 L640.74,923.14 L640.7,923.31 L640.66,923.48 L640.63,923.65 L640.59,923.83 L640.56,924 L640.52,924.17 L640.48,924.34 L640.44,924.51 L640.4,924.67 L640.34,924.82 L640.29,924.97 L640.22,925.12 L640.15,925.25 L640.07,925.38 L639.98,925.5 L639.89,925.61 L639.78,925.71 L639.67,925.81 L639.55,925.89 L639.42,925.97 L639.28,926.04 L639.13,926.1 L638.98,926.16 L638.82,926.21 L638.66,926.25 L638.49,926.29 L638.32,926.33 L638.15,926.37 L637.98,926.4 L637.81,926.43 L637.63,926.47 L637.46,926.51 L637.3,926.55 L637.13,926.59 L636.97,926.64 L636.82,926.69 L636.68,926.75 L636.54,926.82 L636.4,926.9 L636.28,926.98 L636.17,927.07 L636.06,927.18 L635.96,927.29 L635.87,927.4 L635.79,927.53 L635.72,927.66 L635.65,927.8 L635.59,927.95 L635.54,928.11 L635.49,928.27 L635.45,928.43 L635.41,928.6 L635.37,928.77 L635.34,928.94 L635.31,929.12 L635.27,929.29 L635.24,929.46 L635.2,929.63 L635.15,929.8 L635.11,929.96 L635.06,930.11 L635,930.26 L634.93,930.41 L634.86,930.54 L634.78,930.67 L634.69,930.79 L634.6,930.9 L634.49,931 L634.38,931.09 L634.26,931.18 L634.13,931.26 L633.99,931.33 L633.84,931.39 L633.69,931.44 L633.53,931.49 L633.37,931.54 L633.21,931.58 L633.04,931.62 L632.86,931.65 L632.69,931.69 L632.52,931.72 L632.34,931.75 L632.18,931.79 L632.01,931.82 L631.85,931.86 L631.69,931.9 L631.54,931.94 L631.39,931.99 L631.25,932.05 L631.12,932.11 L631,932.18 L630.88,932.26 L630.77,932.35 L630.66,932.44 L630.57,932.55 L630.48,932.66 L630.39,932.78 L630.31,932.91 L630.24,933.04 L630.17,933.19 L630.1,933.34 L630.03,933.49 L629.97,933.65 L629.9,933.81 L629.84,933.97 L629.77,934.14 L629.7,934.3 L629.63,934.46 L629.55,934.62 L629.47,934.77 L629.39,934.92 L629.3,935.06 L629.2,935.19 L629.1,935.32 L628.99,935.43 L628.87,935.54 L628.75,935.63 L628.62,935.71 L628.48,935.78 L628.34,935.84 L628.19,935.89 L628.04,935.92 L627.88,935.95 L627.72,935.96 L627.56,935.96 L627.39,935.96 L627.22,935.94 L627.04,935.92 L626.87,935.9 L626.7,935.87 L626.52,935.83 L626.35,935.8 L626.18,935.76 L626.01,935.73 L625.84,935.7 L625.68,935.67 L625.52,935.65 L625.36,935.63 L625.21,935.62 L625.06,935.62 L624.91,935.63 L624.77,935.64 L624.63,935.67 L624.49,935.71 L624.36,935.76 L624.23,935.82 L624.11,935.89 L623.98,935.97 L623.86,936.05 L623.74,936.15 L623.62,936.26 L623.5,936.37 L623.38,936.48 L623.25,936.61 L623.13,936.73 L623.01,936.85 L622.89,936.98 L622.76,937.1 L622.63,937.23 L622.5,937.34 L622.37,937.45 L622.23,937.56 L622.1,937.65 L621.95,937.74 L621.81,937.81 L621.67,937.88 L621.52,937.93 L621.37,937.97 L621.22,937.99 L621.07,938 L620.91,938 L620.76,937.99 L620.6,937.96 L620.45,937.93 L620.29,937.88 L620.14,937.82 L619.99,937.75 L619.83,937.67 L619.68,937.58 L619.53,937.49 L619.38,937.4 L619.23,937.3 L619.09,937.2 L618.94,937.1 L618.8,937.01 L618.66,936.91 L618.52,936.82 L618.38,936.74 L618.24,936.67 L618.1,936.6 L617.96,936.54 L617.83,936.49 L617.69,936.45 L617.55,936.42 L617.41,936.41 L617.27,936.4 L617.13,936.41 L616.98,936.42 L616.84,936.45 L616.69,936.48 L616.54,936.53 L616.39,936.58 L616.24,936.63 L616.08,936.7 L615.92,936.76 L615.76,936.83 L615.6,936.9 L615.44,936.97 L615.27,937.03 L615.11,937.1 L614.94,937.15 L614.78,937.2 L614.61,937.25 L614.45,937.28 L614.29,937.31 L614.13,937.32 L613.97,937.33 L613.81,937.32 L613.66,937.29 L613.51,937.26 L613.37,937.21 L613.22,937.15 L613.09,937.08 L612.95,937 L612.83,936.9 L612.7,936.8 L612.58,936.68 L612.47,936.56 L612.36,936.43 L612.25,936.29 L612.14,936.15 L612.04,936 L611.94,935.86 L611.85,935.71 L611.75,935.56 L611.66,935.42 L611.56,935.28 L611.47,935.14 L611.37,935.01 L611.27,934.89 L611.17,934.78 L611.06,934.67 L610.95,934.57 L610.84,934.48 L610.72,934.41 L610.6,934.34 L610.47,934.28 L610.34,934.23 L610.2,934.19 L610.06,934.16 L609.91,934.13 L609.75,934.11 L609.59,934.1 L609.43,934.1 L609.26,934.09 L609.09,934.09 L608.92,934.1 L608.74,934.1 L608.56,934.1 L608.39,934.1 L608.21,934.09 L608.04,934.08 L607.86,934.06 L607.69,934.04 L607.53,934.01 L607.37,933.97 L607.22,933.92 L607.07,933.86 L606.93,933.8 L606.8,933.72 L606.67,933.63 L606.56,933.53 L606.45,933.42 L606.35,933.3 L606.26,933.17 L606.18,933.03 L606.1,932.89 L606.04,932.74 L605.98,932.58 L605.93,932.42 L605.88,932.25 L605.84,932.08 L605.8,931.9 L605.76,931.73 L605.73,931.56 L605.7,931.39 L605.66,931.22 L605.62,931.05 L605.57,930.89 L605.52,930.73 L605.47,930.58 L605.41,930.43 L605.34,930.29 L605.26,930.16 L605.18,930.04 L605.08,929.92 L604.98,929.82 L604.87,929.72 L604.75,929.63 L604.63,929.55 L604.49,929.48 L604.35,929.41 L604.2,929.36 L604.05,929.3 L603.88,929.26 L603.72,929.21 L603.55,929.18 L603.38,929.14 L603.21,929.1 L603.03,929.07 L602.86,929.04 L602.69,929 L602.52,928.96 L602.36,928.92 L602.2,928.87 L602.04,928.82 L601.89,928.76 L601.75,928.7 L601.61,928.62 L601.49,928.54 L601.37,928.45 L601.26,928.36 L601.16,928.25 L601.06,928.14 L600.98,928.01 L600.9,927.88 L600.84,927.74 L600.77,927.6 L600.72,927.45 L600.67,927.29 L600.62,927.12 L600.58,926.96 L600.55,926.79 L600.51,926.61 L600.48,926.44 L600.44,926.27 L600.41,926.1 L600.37,925.93 L600.33,925.76 L600.29,925.6 L600.24,925.44 L600.18,925.29 L600.12,925.14 L600.05,925 L599.97,924.87 L599.89,924.75 L599.8,924.63 L599.69,924.53 L599.58,924.43 L599.46,924.34 L599.34,924.26 L599.2,924.19 L599.06,924.13 L598.91,924.07 L598.76,924.02 L598.6,923.97 L598.43,923.93 L598.26,923.89 L598.09,923.85 L597.92,923.82 L597.74,923.78 L597.57,923.75 L597.4,923.71 L597.23,923.67 L597.07,923.63 L596.91,923.58 L596.75,923.53 L596.6,923.47 L596.46,923.41 L596.33,923.34 L596.2,923.25 L596.08,923.17 L595.97,923.07 L595.87,922.96 L595.78,922.85 L595.69,922.72 L595.62,922.59 L595.55,922.45 L595.49,922.31 L595.43,922.16 L595.38,922 L595.34,921.83 L595.3,921.67 L595.26,921.5 L595.23,921.32 L595.19,921.15 L595.16,920.98 L595.12,920.81 L595.08,920.64 L595.04,920.47 L595,920.31 L594.95,920.15 L594.89,920 L594.83,919.85 L594.76,919.71 L594.69,919.58 L594.6,919.46 L594.51,919.35 L594.41,919.24 L594.3,919.14 L594.18,919.06 L594.05,918.98 L593.91,918.9 L593.77,918.84 L593.62,918.78 L593.47,918.73 L593.31,918.68 L593.14,918.64 L592.97,918.6 L592.8,918.57 L592.63,918.53 L592.45,918.5 L592.28,918.46 L592.11,918.43 L591.94,918.39 L591.78,918.34 L591.62,918.3 L591.46,918.24 L591.31,918.19 L591.17,918.12 L591.04,918.05 L590.91,917.97 L590.79,917.88 L590.68,917.78 L590.58,917.67 L590.49,917.56 L590.4,917.44 L590.33,917.3 L590.26,917.17 L590.2,917.02 L590.14,916.87 L590.1,916.71 L590.05,916.54 L590.01,916.38 L589.97,916.21 L589.94,916.04 L589.9,915.86 L589.87,915.69 L589.83,915.52 L589.8,915.35 L589.76,915.18 L589.71,915.02 L589.66,914.86 L589.61,914.71 L589.54,914.56 L589.48,914.42 L589.4,914.29 L589.31,914.17 L589.22,914.06 L589.12,913.95 L589.01,913.86 L588.89,913.77 L588.76,913.69 L588.62,913.62 L588.48,913.55 L588.33,913.49 L588.18,913.44 L588.02,913.39 L587.85,913.35 L587.68,913.31 L587.51,913.28 L587.34,913.24 L587.16,913.21 L586.99,913.18 L586.82,913.14 L586.65,913.1 L586.49,913.06 L586.33,913.01 L586.17,912.96 L586.02,912.9 L585.88,912.83 L585.75,912.76 L585.62,912.68 L585.5,912.59 L585.39,912.49 L585.29,912.38 L585.2,912.27 L585.12,912.15 L585.04,912.02 L584.97,911.88 L584.91,911.73 L584.86,911.58 L584.81,911.42 L584.76,911.26 L584.72,911.09 L584.69,910.92 L584.65,910.75 L584.62,910.57 L584.58,910.4 L584.55,910.23 L584.51,910.06 L584.47,909.89 L584.42,909.73 L584.37,909.57 L584.32,909.42 L584.26,909.27 L584.19,909.14 L584.11,909.01 L584.03,908.88 L583.93,908.77 L583.83,908.66 L583.72,908.57 L583.6,908.48 L583.47,908.4 L583.34,908.33 L583.19,908.26 L583.04,908.21 L582.89,908.15 L582.73,908.11 L582.56,908.07 L582.39,908.03 L582.22,907.99 L582.05,907.96 L581.87,907.92 L581.7,907.89 L581.53,907.85 L581.36,907.81 L581.2,907.77 L581.04,907.72 L580.88,907.67 L580.73,907.61 L580.59,907.55 L580.46,907.47 L580.33,907.39 L580.22,907.3 L580.11,907.2 L580.01,907.1 L579.91,906.98 L579.83,906.86 L579.75,906.73 L579.69,906.59 L579.62,906.44 L579.57,906.29 L579.52,906.13 L579.48,905.97 L579.44,905.8 L579.4,905.63 L579.36,905.46 L579.33,905.28 L579.3,905.11 L579.26,904.94 L579.22,904.77 L579.18,904.6 L579.14,904.44 L579.09,904.28 L579.03,904.13 L578.97,903.98 L578.9,903.85 L578.82,903.72 L578.74,903.59 L578.64,903.48 L578.54,903.38 L578.43,903.28 L578.31,903.19 L578.18,903.11 L578.05,903.04 L577.9,902.98 L577.75,902.92 L577.6,902.87 L577.44,902.82 L577.27,902.78 L577.1,902.74 L576.93,902.7 L576.76,902.67 L576.59,902.64 L576.41,902.6 L576.24,902.56 L576.07,902.53 L575.91,902.48 L575.75,902.44 L575.59,902.38 L575.45,902.32 L575.3,902.26 L575.17,902.18 L575.04,902.1 L574.93,902.01 L574.82,901.91 L574.72,901.81 L574.63,901.69 L574.54,901.57 L574.47,901.44 L574.4,901.3 L574.34,901.15 L574.28,901 L574.23,900.84 L574.19,900.68 L574.15,900.51 L574.11,900.34 L574.08,900.17 L574.04,899.99 L574.01,899.82 L573.97,899.65 L573.94,899.48 L573.9,899.31 L573.85,899.15 L573.8,898.99 L573.74,898.84 L573.68,898.7 L573.61,898.56 L573.53,898.43 L573.45,898.31 L573.35,898.19 L573.25,898.09 L573.14,897.99 L573.02,897.9 L572.89,897.82 L572.76,897.75 L572.61,897.69 L572.47,897.63 L572.31,897.58 L572.15,897.53 L571.98,897.49 L571.81,897.45 L571.64,897.42 L571.47,897.38 L571.3,897.35 L571.12,897.31 L570.95,897.28 L570.78,897.24 L570.62,897.2 L570.46,897.15 L570.3,897.1 L570.16,897.04 L570.02,896.97 L569.88,896.9 L569.76,896.81 L569.64,896.73 L569.53,896.63 L569.43,896.52 L569.34,896.4 L569.25,896.28 L569.18,896.15 L569.11,896.01 L569.05,895.86 L569,895.71 L568.95,895.55 L568.9,895.39 L568.86,895.22 L568.83,895.05 L568.79,894.88 L568.76,894.7 L568.72,894.53 L568.69,894.36 L568.65,894.19 L568.61,894.02 L568.56,893.86 L568.51,893.7 L568.46,893.55 L568.39,893.41 L568.32,893.27 L568.25,893.14 L568.16,893.02 L568.07,892.9 L567.96,892.8 L567.85,892.7 L567.73,892.62 L567.6,892.54 L567.47,892.47 L567.33,892.4 L567.18,892.34 L567.02,892.29 L566.86,892.25 L566.69,892.2 L566.52,892.17 L566.35,892.13 L566.18,892.1 L566.01,892.06 L565.83,892.03 L565.66,891.99 L565.49,891.95 L565.33,891.91 L565.17,891.86 L565.02,891.81 L564.87,891.75 L564.73,891.68 L564.59,891.61 L564.47,891.53 L564.35,891.44 L564.24,891.34 L564.14,891.23 L564.05,891.12 L563.97,890.99 L563.89,890.86 L563.82,890.72 L563.76,890.57 L563.71,890.42 L563.66,890.26 L563.62,890.1 L563.58,889.93 L563.54,889.76 L563.5,889.59 L563.47,889.41 L563.44,889.24 L563.4,889.07 L563.36,888.9 L563.32,888.73 L563.28,888.57 L563.23,888.41 L563.17,888.26 L563.11,888.12 L563.04,887.98 L562.96,887.85 L562.87,887.73 L562.78,887.62 L562.68,887.51 L562.56,887.42 L562.44,887.33 L562.32,887.25 L562.18,887.18 L562.04,887.11 L561.89,887.06 L561.73,887.01 L561.57,886.96 L561.4,886.92 L561.23,886.88 L561.06,886.84 L560.89,886.81 L560.72,886.78 L560.54,886.74 L560.37,886.7 L560.2,886.66 L560.04,886.62 L559.88,886.57 L559.73,886.52 L559.58,886.46 L559.44,886.39 L559.3,886.32 L559.18,886.24 L559.06,886.15 L558.95,886.05 L558.85,885.94 L558.76,885.82 L558.67,885.69 L558.59,885.55 L558.53,885.41 L558.47,885.25 L558.42,885.09 L558.38,884.93 L558.34,884.76 L558.31,884.59 L558.29,884.42 L558.27,884.24 L558.25,884.06 L558.23,883.89 L558.22,883.72 L558.2,883.54 L558.18,883.38 L558.16,883.21 L558.13,883.05 L558.1,882.9 L558.07,882.75 L558.02,882.61 L557.97,882.47 L557.91,882.34 L557.84,882.22 L557.76,882.1 L557.68,881.99 L557.58,881.89 L557.48,881.79 L557.36,881.69 L557.24,881.6 L557.11,881.51 L556.97,881.43 L556.83,881.35 L556.68,881.27 L556.53,881.19 L556.38,881.11 L556.22,881.02 L556.06,880.94 L555.91,880.86 L555.76,880.77 L555.61,880.68 L555.46,880.58 L555.33,880.48 L555.2,880.37 L555.08,880.26 L554.97,880.15 L554.87,880.03 L554.78,879.9 L554.7,879.77 L554.63,879.63 L554.58,879.48 L554.54,879.34 L554.51,879.18 L554.49,879.03 L554.49,878.87 L554.49,878.7 L554.51,878.54 L554.53,878.37 L554.56,878.2 L554.6,878.03 L554.65,877.86 L554.69,877.69 L554.74,877.52 L554.8,877.35 L554.85,877.19 L554.9,877.02 L554.95,876.86 L554.99,876.7 L555.03,876.54 L555.06,876.39 L555.08,876.24 L555.09,876.09 L555.1,875.94 L555.09,875.8 L555.07,875.66 L555.05,875.52 L555.01,875.39 L554.96,875.25 L554.9,875.12 L554.83,874.99 L554.75,874.86 L554.67,874.73 L554.57,874.6 L554.47,874.47 L554.37,874.34 L554.26,874.2 L554.14,874.07 L554.03,873.93 L553.92,873.8 L553.81,873.66 L553.7,873.52 L553.6,873.38 L553.5,873.24 L553.42,873.09 L553.34,872.94 L553.27,872.79 L553.21,872.64 L553.17,872.49 L553.13,872.34 L553.11,872.19 L553.1,872.04 L553.11,871.88 L553.13,871.73 L553.16,871.58 L553.21,871.43 L553.26,871.28 L553.33,871.13 L553.41,870.98 L553.49,870.84 L553.59,870.69 L553.69,870.55 L553.8,870.41 L553.91,870.27 L554.02,870.13 L554.13,870 L554.24,869.86 L554.35,869.73 L554.46,869.6 L554.56,869.47 L554.65,869.34 L554.74,869.21 L554.82,869.08 L554.89,868.95 L554.95,868.81 L555,868.68 L555.03,868.54 L555.06,868.4 L555.08,868.26 L555.08,868.12 L555.08,867.98 L555.07,867.83 L555.04,867.68 L555.01,867.52 L554.98,867.37 L554.93,867.21 L554.89,867.05 L554.84,866.88 L554.78,866.72 L554.73,866.55 L554.68,866.38 L554.63,866.21 L554.59,866.04 L554.55,865.87 L554.51,865.7 L554.49,865.53 L554.47,865.37 L554.47,865.2 L554.47,865.04 L554.49,864.89 L554.51,864.73 L554.55,864.58 L554.6,864.44 L554.67,864.3 L554.74,864.17 L554.83,864.04 L554.93,863.92 L555.04,863.8 L555.16,863.69 L555.29,863.58 L555.43,863.48 L555.57,863.38 L555.72,863.29 L555.87,863.2 L556.02,863.12 L556.18,863.03 L556.33,862.95 L556.49,862.87 L556.64,862.79 L556.79,862.71 L556.93,862.63 L557.07,862.54 L557.2,862.45 L557.32,862.36 L557.44,862.27 L557.54,862.17 L557.64,862.06 L557.73,861.95 L557.8,861.84 L557.87,861.71 L557.93,861.58 L557.99,861.45 L558.03,861.31 L558.07,861.16 L558.1,861 L558.12,860.85 L558.14,860.68 L558.16,860.51 L558.18,860.34 L558.19,860.17 L558.21,859.99 L558.23,859.82 L558.25,859.64 L558.27,859.47 L558.3,859.3 L558.33,859.13 L558.38,858.96 L558.42,858.8 L558.48,858.65 L558.55,858.5 L558.62,858.36 L558.71,858.23 L558.8,858.11 L558.9,858 L559.01,857.9 L559.13,857.81 L559.25,857.73 L559.39,857.65 L559.53,857.58 L559.67,857.52 L559.83,857.47 L559.99,857.42 L560.15,857.38 L560.32,857.34 L560.49,857.3 L560.66,857.27 L560.83,857.23 L561.01,857.2 L561.18,857.16 L561.35,857.13 L561.52,857.09 L561.68,857.04 L561.83,856.99 L561.98,856.93 L562.13,856.87 L562.26,856.8 L562.39,856.72 L562.51,856.63 L562.63,856.54 L562.73,856.43 L562.82,856.32 L562.91,856.2 L562.99,856.07 L563.06,855.93 L563.12,855.79 L563.18,855.64 L563.23,855.48 L563.28,855.32 L563.32,855.16 L563.36,854.99 L563.39,854.81 L563.43,854.64 L563.46,854.47 L563.49,854.3 L563.53,854.12 L563.57,853.96 L563.61,853.79 L563.66,853.63 L563.72,853.48 L563.78,853.33 L563.84,853.19 L563.92,853.06 L564,852.94 L564.09,852.82 L564.19,852.71 L564.3,852.61 L564.42,852.52 L564.54,852.44 L564.67,852.36 L564.81,852.3 L564.96,852.24 L565.12,852.18 L565.28,852.14 L565.44,852.09 L565.61,852.05 L565.78,852.02 L565.95,851.98 L566.12,851.95 L566.3,851.91 L566.47,851.88 L566.64,851.84 L566.8,851.8 L566.97,851.75 L567.12,851.7 L567.27,851.64 L567.42,851.58 L567.55,851.51 L567.68,851.43 L567.8,851.34 L567.91,851.25 L568.02,851.15 L568.11,851.03 L568.2,850.91 L568.28,850.78 L568.35,850.65 L568.41,850.5 L568.47,850.35 L568.52,850.19 L568.56,850.03 L568.6,849.87 L568.64,849.7 L568.68,849.52 L568.71,849.35 L568.75,849.18 L568.78,849.01 L568.82,848.83 L568.86,848.67 L568.9,848.5 L568.95,848.34 L569,848.19 L569.06,848.04 L569.13,847.9 L569.21,847.77 L569.29,847.65 L569.38,847.53 L569.48,847.42 L569.59,847.32 L569.71,847.23 L569.83,847.15 L569.96,847.08 L570.1,847.01 L570.25,846.95 L570.41,846.9 L570.57,846.85 L570.73,846.81 L570.9,846.77 L571.07,846.73 L571.24,846.69 L571.41,846.66 L571.59,846.63 L571.76,846.59 L571.93,846.55 L572.09,846.51 L572.26,846.47 L572.41,846.41 L572.56,846.36 L572.71,846.29 L572.84,846.22 L572.97,846.14 L573.09,846.06 L573.2,845.96 L573.31,845.86 L573.4,845.74 L573.49,845.62 L573.57,845.49 L573.64,845.36 L573.7,845.21 L573.75,845.06 L573.81,844.9 L573.85,844.74 L573.89,844.58 L573.93,844.41 L573.97,844.23 L574,844.06 L574.03,843.89 L574.07,843.72 L574.11,843.55 L574.15,843.38 L574.19,843.21 L574.24,843.05 L574.29,842.9 L574.35,842.75 L574.42,842.61 L574.49,842.48 L574.58,842.36 L574.67,842.24 L574.77,842.13 L574.88,842.04 L574.99,841.95 L575.12,841.86 L575.25,841.79 L575.39,841.72 L575.54,841.66 L575.69,841.61 L575.85,841.56 L576.02,841.52 L576.19,841.48 L576.36,841.44 L576.53,841.41 L576.7,841.37 L576.88,841.34 L577.05,841.3 L577.22,841.27 L577.38,841.22 L577.54,841.18 L577.7,841.13 L577.85,841.07 L577.99,841.01 L578.13,840.93 L578.26,840.86 L578.38,840.77 L578.49,840.67 L578.59,840.57 L578.69,840.46 L578.77,840.33 L578.85,840.2 L578.92,840.07 L578.99,839.92 L579.04,839.77 L579.09,839.62 L579.14,839.45 L579.18,839.29 L579.22,839.12 L579.25,838.95 L579.29,838.77 L579.32,838.6 L579.36,838.43 L579.39,838.26 L579.43,838.09 L579.48,837.92 L579.52,837.77 L579.58,837.61 L579.64,837.47 L579.71,837.33 L579.78,837.19 L579.86,837.07 L579.96,836.95 L580.06,836.85 L580.17,836.75 L580.28,836.66 L580.41,836.58 L580.54,836.5 L580.68,836.43 L580.83,836.38 L580.98,836.32 L581.14,836.27 L581.31,836.23 L581.48,836.19 L581.65,836.16 L581.82,836.12 L581.99,836.09 L582.17,836.05 L582.34,836.02 L582.51,835.98 L582.67,835.94 L582.83,835.89 L582.99,835.84 L583.14,835.78 L583.28,835.72 L583.42,835.65 L583.55,835.57 L583.67,835.48 L583.78,835.38 L583.88,835.28 L583.98,835.17 L584.06,835.05 L584.14,834.92 L584.21,834.78 L584.27,834.63 L584.33,834.48 L584.38,834.33 L584.42,834.16 L584.47,834 L584.5,833.83 L584.54,833.66 L584.57,833.48 L584.61,833.31 L584.64,833.14 L584.68,832.97 L584.72,832.8 L584.76,832.64 L584.81,832.48 L584.87,832.32 L584.93,832.18 L584.99,832.04 L585.07,831.9 L585.15,831.78 L585.24,831.67 L585.34,831.56 L585.45,831.46 L585.57,831.37 L585.7,831.29 L585.83,831.21 L585.97,831.15 L586.12,831.09 L586.27,831.04 L586.43,830.99 L586.6,830.94 L586.77,830.91 L586.94,830.87 L587.11,830.83 L587.28,830.8 L587.46,830.77 L587.63,830.73 L587.8,830.69 L587.96,830.65 L588.12,830.6 L588.28,830.55 L588.43,830.5 L588.57,830.43 L588.71,830.36 L588.84,830.28 L588.96,830.19 L589.07,830.1 L589.17,829.99 L589.26,829.88 L589.35,829.76 L589.43,829.63 L589.5,829.49 L589.56,829.34 L589.62,829.19 L589.67,829.04 L589.71,828.87 L589.75,828.71 L589.79,828.54 L589.83,828.37 L589.86,828.19 L589.89,828.02 L589.93,827.85 L589.97,827.68 L590.01,827.51 L590.05,827.35 L590.1,827.19 L590.15,827.03 L590.21,826.89 L590.28,826.75 L590.36,826.62 L590.44,826.49 L590.53,826.38 L590.63,826.27 L590.74,826.17 L590.86,826.08 L590.99,826 L591.12,825.93 L591.26,825.86 L591.41,825.8 L591.56,825.75 L591.72,825.7 L591.89,825.66 L592.06,825.62 L592.23,825.58 L592.4,825.55 L592.57,825.51 L592.75,825.48 L592.92,825.44 L593.09,825.4 L593.25,825.36 L593.41,825.32 L593.57,825.27 L593.72,825.21 L593.86,825.14 L594,825.07 L594.13,824.99 L594.24,824.9 L594.36,824.81 L594.46,824.7 L594.55,824.59 L594.64,824.47 L594.72,824.34 L594.79,824.2 L594.85,824.06 L594.9,823.9 L594.95,823.75 L595,823.58 L595.04,823.42 L595.08,823.25 L595.11,823.08 L595.15,822.9 L595.18,822.73 L595.22,822.56 L595.25,822.39 L595.29,822.22 L595.34,822.06 L595.39,821.9 L595.44,821.74 L595.5,821.6 L595.57,821.46 L595.65,821.33 L595.73,821.2 L595.82,821.09 L595.92,820.98 L596.03,820.88 L596.15,820.79 L596.27,820.71 L596.41,820.64 L596.55,820.57 L596.7,820.51 L596.85,820.46 L597.01,820.41 L597.18,820.37 L597.35,820.33 L597.52,820.3 L597.69,820.26 L597.86,820.23 L598.04,820.19 L598.21,820.16 L598.38,820.12 L598.54,820.08 L598.7,820.03 L598.86,819.98 L599.01,819.92 L599.15,819.86 L599.29,819.78 L599.41,819.7 L599.53,819.62 L599.64,819.52 L599.75,819.41 L599.84,819.3 L599.93,819.18 L600,819.05 L600.07,818.91 L600.14,818.77 L600.19,818.62 L600.24,818.46 L600.29,818.3 L600.33,818.13 L600.36,817.96 L600.4,817.79 L600.43,817.61 L600.47,817.44 L600.5,817.27 L600.54,817.1 L600.58,816.93 L600.62,816.77 L600.67,816.61 L600.73,816.46 L600.79,816.31 L600.86,816.17 L600.93,816.04 L601.02,815.91 L601.11,815.8 L601.21,815.69 L601.32,815.6 L601.44,815.51 L601.56,815.42 L601.7,815.35 L601.84,815.29 L601.99,815.23 L602.14,815.17 L602.3,815.13 L602.47,815.08 L602.63,815.04 L602.81,815.01 L602.98,814.97 L603.15,814.94 L603.32,814.9 L603.5,814.87 L603.67,814.83 L603.83,814.79 L603.99,814.74 L604.15,814.69 L604.3,814.63 L604.44,814.57 L604.58,814.5 L604.7,814.42 L604.82,814.33 L604.93,814.23 L605.04,814.13 L605.13,814.01 L605.21,813.89 L605.29,813.76 L605.36,813.62 L605.42,813.48 L605.48,813.33 L605.53,813.17 L605.57,813.01 L605.61,812.84 L605.65,812.67 L605.69,812.5 L605.72,812.32 L605.76,812.15 L605.79,811.98 L605.83,811.81 L605.88,811.64 L605.93,811.47 L605.99,811.32 L606.05,811.16 L606.13,811.02 L606.21,810.88 L606.3,810.75 L606.39,810.63 L606.5,810.52 L606.62,810.42 L606.74,810.33 L606.87,810.25 L607.01,810.18 L607.16,810.12 L607.31,810.07 L607.47,810.03 L607.63,810 L607.8,809.97 L607.97,809.96 L608.15,809.94 L608.32,809.94 L608.5,809.93 L608.68,809.93 L608.85,809.94 L609.03,809.94 L609.2,809.94 L609.37,809.93 L609.53,809.93 L609.69,809.92 L609.85,809.9 L610,809.87 L610.14,809.84 L610.28,809.8 L610.41,809.75 L610.54,809.69 L610.66,809.63 L610.78,809.55 L610.89,809.46 L611,809.36 L611.11,809.26 L611.21,809.14 L611.31,809.02 L611.41,808.89 L611.5,808.75 L611.6,808.61 L611.69,808.47 L611.79,808.32 L611.88,808.18 L611.98,808.03 L612.08,807.88 L612.19,807.74 L612.29,807.6 L612.4,807.47 L612.52,807.35 L612.64,807.23 L612.76,807.13 L612.89,807.03 L613.02,806.94 L613.16,806.87 L613.3,806.81 L613.44,806.76 L613.59,806.72 L613.74,806.7 L613.9,806.69 L614.06,806.69 L614.22,806.71 L614.38,806.73 L614.54,806.76 L614.71,806.81 L614.87,806.86 L615.04,806.91 L615.2,806.97 L615.37,807.04 L615.53,807.11 L615.69,807.18 L615.85,807.24 L616.01,807.31 L616.17,807.37 L616.32,807.43 L616.47,807.48 L616.62,807.52 L616.77,807.56 L616.92,807.58 L617.06,807.6 L617.2,807.6 L617.34,807.6 L617.48,807.58 L617.62,807.55 L617.76,807.52 L617.9,807.47 L618.04,807.41 L618.17,807.34 L618.31,807.27 L618.45,807.18 L618.59,807.1 L618.73,807 L618.88,806.91 L619.02,806.81 L619.17,806.71 L619.31,806.61 L619.46,806.51 L619.61,806.42 L619.76,806.34 L619.91,806.26 L620.07,806.19 L620.22,806.13 L620.38,806.07 L620.53,806.03 L620.69,806.01 L620.84,805.99 L620.99,805.99 L621.15,806 L621.3,806.02 L621.45,806.06 L621.6,806.11 L621.74,806.17 L621.88,806.25 L622.02,806.33 L622.16,806.43 L622.3,806.53 L622.43,806.64 L622.56,806.75 L622.69,806.88 L622.82,807 L622.94,807.12 L623.07,807.25 L623.19,807.37 L623.31,807.49 L623.43,807.61 L623.55,807.72 L623.67,807.83 L623.79,807.92 L623.92,808.01 L624.04,808.09 L624.17,808.16 L624.3,808.22 L624.43,808.27 L624.56,808.31 L624.7,808.34 L624.85,808.35 L624.99,808.36 L625.14,808.36 L625.29,808.35 L625.45,808.34 L625.61,808.31 L625.78,808.28 L625.94,808.25 L626.11,808.22 L626.28,808.18 L626.45,808.15 L626.63,808.11 L626.8,808.08 L626.98,808.05 L627.15,808.03 L627.32,808.02 L627.49,808.01 L627.65,808.01 L627.82,808.03 L627.97,808.05 L628.13,808.08 L628.28,808.13 L628.42,808.19 L628.56,808.25 L628.69,808.33 L628.81,808.43 L628.93,808.53 L629.04,808.64 L629.14,808.77 L629.24,808.9 L629.33,809.04 L629.42,809.19 L629.5,809.34 L629.57,809.5 L629.65,809.66 L629.72,809.82 L629.78,809.98 L629.85,810.15 L629.91,810.31 L629.98,810.46 L630.05,810.62 L630.11,810.77 L630.19,810.91 L630.26,811.05 L630.34,811.18 L630.43,811.3 L630.52,811.41 L630.61,811.51 L630.72,811.61 L630.83,811.7 L630.94,811.78 L631.07,811.85 L631.2,811.91 L631.34,811.97 L631.48,812.02 L631.64,812.06 L631.79,812.1 L631.95,812.14 L632.12,812.17 L632.29,812.2 L632.46,812.24Z" fill="#fff" stroke="#626088" stroke-width="1"/>
<path d="M482.21,1100.99 L482.37,1101.03 L482.53,1101.07 L482.69,1101.11 L482.84,1101.15 L483,1101.2 L483.14,1101.25 L483.29,1101.3 L483.43,1101.36 L483.56,1101.43 L483.69,1101.5 L483.81,1101.58 L483.92,1101.66 L484.03,1101.75 L484.13,1101.85 L484.23,1101.95 L484.31,1102.06 L484.39,1102.18 L484.47,1102.31 L484.54,1102.44 L484.6,1102.57 L484.66,1102.71 L484.71,1102.86 L484.76,1103.01 L484.8,1103.16 L484.84,1103.32 L484.88,1103.48 L484.92,1103.64 L484.96,1103.8 L485,1103.96 L485.04,1104.12 L485.08,1104.27 L485.13,1104.43 L485.18,1104.58 L485.23,1104.72 L485.29,1104.86 L485.35,1105 L485.42,1105.13 L485.49,1105.25 L485.57,1105.37 L485.66,1105.48 L485.75,1105.59 L485.85,1105.69 L485.96,1105.78 L486.07,1105.86 L486.2,1105.94 L486.32,1106.01 L486.46,1106.07 L486.6,1106.13 L486.74,1106.19 L486.89,1106.24 L487.04,1106.28 L487.19,1106.33 L487.35,1106.37 L487.51,1106.41 L487.67,1106.45 L487.83,1106.49 L487.99,1106.52 L488.15,1106.57 L488.3,1106.61 L488.45,1106.66 L488.6,1106.71 L488.75,1106.76 L488.88,1106.82 L489.02,1106.89 L489.15,1106.96 L489.27,1107.03 L489.38,1107.12 L489.49,1107.21 L489.59,1107.31 L489.68,1107.41 L489.77,1107.52 L489.85,1107.64 L489.93,1107.76 L489.99,1107.89 L490.06,1108.03 L490.11,1108.17 L490.16,1108.32 L490.21,1108.47 L490.26,1108.62 L490.3,1108.78 L490.34,1108.94 L490.38,1109.1 L490.42,1109.25 L490.46,1109.41 L490.5,1109.57 L490.54,1109.73 L490.58,1109.88 L490.63,1110.03 L490.69,1110.18 L490.74,1110.32 L490.8,1110.46 L490.87,1110.59 L490.95,1110.71 L491.03,1110.83 L491.11,1110.94 L491.21,1111.04 L491.31,1111.14 L491.42,1111.23 L491.53,1111.32 L491.65,1111.39 L491.78,1111.46 L491.91,1111.53 L492.05,1111.59 L492.2,1111.64 L492.34,1111.69 L492.5,1111.74 L492.65,1111.78 L492.81,1111.83 L492.97,1111.86 L493.13,1111.9 L493.29,1111.94 L493.45,1111.98 L493.6,1112.02 L493.76,1112.07 L493.91,1112.11 L494.06,1112.16 L494.2,1112.22 L494.34,1112.28 L494.47,1112.34 L494.6,1112.41 L494.72,1112.49 L494.84,1112.57 L494.95,1112.66 L495.05,1112.76 L495.14,1112.87 L495.23,1112.98 L495.31,1113.1 L495.38,1113.22 L495.45,1113.35 L495.51,1113.49 L495.57,1113.63 L495.62,1113.77 L495.67,1113.92 L495.71,1114.08 L495.76,1114.23 L495.8,1114.39 L495.84,1114.55 L495.88,1114.71 L495.91,1114.87 L495.95,1115.03 L496,1115.19 L496.04,1115.34 L496.09,1115.49 L496.14,1115.64 L496.2,1115.78 L496.26,1115.91 L496.33,1116.04 L496.4,1116.17 L496.48,1116.29 L496.57,1116.4 L496.67,1116.5 L496.77,1116.6 L496.87,1116.69 L496.99,1116.77 L497.11,1116.85 L497.24,1116.92 L497.37,1116.99 L497.51,1117.05 L497.65,1117.1 L497.8,1117.15 L497.95,1117.2 L498.11,1117.24 L498.27,1117.28 L498.42,1117.32 L498.58,1117.36 L498.74,1117.4 L498.9,1117.44 L499.06,1117.48 L499.21,1117.52 L499.37,1117.57 L499.52,1117.62 L499.66,1117.67 L499.8,1117.73 L499.93,1117.8 L500.06,1117.87 L500.18,1117.95 L500.29,1118.03 L500.4,1118.12 L500.5,1118.22 L500.6,1118.32 L500.68,1118.43 L500.76,1118.55 L500.84,1118.68 L500.91,1118.81 L500.97,1118.94 L501.03,1119.09 L501.08,1119.23 L501.13,1119.38 L501.17,1119.53 L501.21,1119.69 L501.25,1119.85 L501.29,1120.01 L501.33,1120.17 L501.37,1120.33 L501.41,1120.49 L501.45,1120.64 L501.5,1120.8 L501.55,1120.95 L501.6,1121.09 L501.66,1121.23 L501.72,1121.37 L501.79,1121.5 L501.86,1121.62 L501.94,1121.74 L502.03,1121.85 L502.12,1121.96 L502.22,1122.06 L502.33,1122.15 L502.45,1122.23 L502.57,1122.31 L502.69,1122.38 L502.83,1122.44 L502.97,1122.5 L503.11,1122.56 L503.26,1122.61 L503.41,1122.65 L503.57,1122.7 L503.72,1122.74 L503.88,1122.78 L504.04,1122.82 L504.2,1122.86 L504.36,1122.9 L504.52,1122.94 L504.67,1122.98 L504.82,1123.03 L504.97,1123.08 L505.12,1123.13 L505.25,1123.19 L505.39,1123.26 L505.52,1123.33 L505.64,1123.4 L505.75,1123.49 L505.86,1123.58 L505.96,1123.68 L506.05,1123.78 L506.14,1123.89 L506.22,1124.01 L506.3,1124.13 L506.36,1124.26 L506.43,1124.4 L506.48,1124.54 L506.54,1124.69 L506.58,1124.84 L506.63,1124.99 L506.67,1125.15 L506.71,1125.31 L506.75,1125.47 L506.79,1125.63 L506.83,1125.78 L506.87,1125.94 L506.91,1126.1 L506.96,1126.25 L507,1126.4 L507.06,1126.55 L507.11,1126.69 L507.17,1126.83 L507.24,1126.96 L507.32,1127.08 L507.4,1127.2 L507.48,1127.31 L507.58,1127.41 L507.68,1127.51 L507.79,1127.6 L507.9,1127.69 L508.02,1127.76 L508.15,1127.83 L508.28,1127.9 L508.42,1127.96 L508.57,1128.01 L508.71,1128.06 L508.87,1128.11 L509.02,1128.15 L509.18,1128.2 L509.34,1128.24 L509.5,1128.27 L509.66,1128.31 L509.82,1128.35 L509.97,1128.39 L510.13,1128.44 L510.28,1128.48 L510.43,1128.53 L510.57,1128.59 L510.71,1128.65 L510.84,1128.71 L510.97,1128.78 L511.09,1128.86 L511.21,1128.94 L511.32,1129.04 L511.42,1129.13 L511.51,1129.24 L511.6,1129.35 L511.68,1129.47 L511.75,1129.59 L511.82,1129.72 L511.88,1129.86 L511.94,1130 L511.99,1130.14 L512.04,1130.29 L512.09,1130.45 L512.13,1130.6 L512.17,1130.76 L512.21,1130.92 L512.25,1131.08 L512.28,1131.24 L512.32,1131.4 L512.37,1131.56 L512.41,1131.71 L512.46,1131.86 L512.51,1132.01 L512.57,1132.15 L512.63,1132.28 L512.7,1132.41 L512.77,1132.54 L512.85,1132.66 L512.94,1132.77 L513.04,1132.87 L513.14,1132.97 L513.24,1133.06 L513.36,1133.14 L513.48,1133.22 L513.61,1133.29 L513.74,1133.36 L513.88,1133.42 L514.02,1133.47 L514.17,1133.52 L514.32,1133.57 L514.48,1133.61 L514.64,1133.65 L514.79,1133.69 L514.95,1133.73 L515.11,1133.77 L515.27,1133.81 L515.43,1133.85 L515.59,1133.89 L515.74,1133.94 L515.89,1133.99 L516.03,1134.04 L516.17,1134.1 L516.3,1134.17 L516.43,1134.24 L516.55,1134.32 L516.66,1134.4 L516.77,1134.49 L516.87,1134.59 L516.97,1134.69 L517.05,1134.81 L517.14,1134.92 L517.21,1135.05 L517.28,1135.18 L517.34,1135.31 L517.4,1135.46 L517.45,1135.6 L517.5,1135.75 L517.54,1135.91 L517.58,1136.06 L517.62,1136.22 L517.66,1136.38 L517.7,1136.54 L517.74,1136.7 L517.78,1136.86 L517.82,1137.01 L517.87,1137.17 L517.92,1137.32 L517.97,1137.46 L518.03,1137.6 L518.09,1137.74 L518.16,1137.87 L518.23,1137.99 L518.31,1138.11 L518.4,1138.22 L518.49,1138.33 L518.59,1138.42 L518.69,1138.51 L518.8,1138.59 L518.91,1138.67 L519.03,1138.74 L519.16,1138.81 L519.29,1138.87 L519.43,1138.93 L519.57,1138.99 L519.71,1139.05 L519.86,1139.1 L520.01,1139.16 L520.17,1139.21 L520.32,1139.27 L520.47,1139.33 L520.63,1139.39 L520.78,1139.46 L520.93,1139.53 L521.07,1139.6 L521.21,1139.68 L521.34,1139.76 L521.47,1139.85 L521.59,1139.94 L521.71,1140.04 L521.81,1140.15 L521.91,1140.26 L522,1140.38 L522.07,1140.51 L522.14,1140.64 L522.2,1140.77 L522.25,1140.91 L522.29,1141.06 L522.32,1141.21 L522.34,1141.36 L522.36,1141.52 L522.36,1141.67 L522.36,1141.84 L522.36,1142 L522.35,1142.16 L522.33,1142.32 L522.31,1142.49 L522.29,1142.65 L522.27,1142.81 L522.25,1142.97 L522.23,1143.13 L522.21,1143.29 L522.19,1143.44 L522.18,1143.59 L522.17,1143.74 L522.17,1143.89 L522.17,1144.03 L522.18,1144.17 L522.2,1144.3 L522.22,1144.43 L522.26,1144.56 L522.3,1144.69 L522.35,1144.82 L522.41,1144.94 L522.47,1145.06 L522.55,1145.18 L522.63,1145.3 L522.71,1145.42 L522.81,1145.53 L522.9,1145.65 L523.01,1145.77 L523.11,1145.89 L523.22,1146.01 L523.33,1146.13 L523.44,1146.25 L523.55,1146.37 L523.66,1146.5 L523.76,1146.62 L523.86,1146.75 L523.95,1146.89 L524.04,1147.02 L524.12,1147.16 L524.19,1147.29 L524.26,1147.43 L524.31,1147.57 L524.35,1147.72 L524.39,1147.86 L524.41,1148.01 L524.42,1148.15 L524.42,1148.3 L524.41,1148.45 L524.39,1148.6 L524.36,1148.74 L524.31,1148.89 L524.26,1149.04 L524.2,1149.18 L524.14,1149.33 L524.06,1149.47 L523.98,1149.61 L523.89,1149.75 L523.81,1149.89 L523.71,1150.02 L523.62,1150.16 L523.52,1150.29 L523.43,1150.42 L523.34,1150.55 L523.25,1150.68 L523.16,1150.81 L523.08,1150.94 L523,1151.07 L522.93,1151.19 L522.87,1151.32 L522.82,1151.45 L522.77,1151.58 L522.73,1151.7 L522.7,1151.83 L522.68,1151.97 L522.66,1152.1 L522.66,1152.24 L522.66,1152.37 L522.67,1152.51 L522.69,1152.66 L522.71,1152.8 L522.74,1152.95 L522.77,1153.1 L522.81,1153.25 L522.85,1153.4 L522.89,1153.56 L522.93,1153.72 L522.97,1153.88 L523.01,1154.04 L523.04,1154.2 L523.07,1154.36 L523.1,1154.52 L523.12,1154.68 L523.14,1154.84 L523.15,1154.99 L523.15,1155.15 L523.14,1155.3 L523.12,1155.45 L523.09,1155.6 L523.06,1155.74 L523.01,1155.88 L522.95,1156.02 L522.88,1156.15 L522.8,1156.28 L522.72,1156.4 L522.62,1156.51 L522.52,1156.62 L522.4,1156.73 L522.28,1156.83 L522.16,1156.92 L522.02,1157.02 L521.89,1157.1 L521.75,1157.19 L521.6,1157.27 L521.46,1157.35 L521.31,1157.42 L521.17,1157.5 L521.02,1157.57 L520.88,1157.64 L520.74,1157.71 L520.6,1157.79 L520.47,1157.86 L520.35,1157.94 L520.23,1158.02 L520.11,1158.11 L520,1158.19 L519.9,1158.28 L519.81,1158.38 L519.72,1158.48 L519.64,1158.59 L519.56,1158.7 L519.5,1158.82 L519.43,1158.94 L519.38,1159.07 L519.33,1159.2 L519.28,1159.34 L519.24,1159.49 L519.2,1159.63 L519.16,1159.78 L519.12,1159.94 L519.08,1160.1 L519.05,1160.25 L519.01,1160.41 L518.97,1160.57 L518.93,1160.73 L518.89,1160.89 L518.85,1161.04 L518.8,1161.2 L518.75,1161.34 L518.7,1161.49 L518.64,1161.63 L518.57,1161.76 L518.5,1161.89 L518.42,1162.01 L518.34,1162.12 L518.25,1162.23 L518.15,1162.33 L518.05,1162.43 L517.94,1162.51 L517.82,1162.59 L517.69,1162.67 L517.56,1162.74 L517.43,1162.8 L517.29,1162.86 L517.14,1162.91 L516.99,1162.96 L516.84,1163 L516.68,1163.04 L516.52,1163.08 L516.36,1163.12 L516.2,1163.16 L516.04,1163.2 L515.88,1163.24 L515.73,1163.28 L515.57,1163.33 L515.42,1163.38 L515.28,1163.43 L515.14,1163.49 L515,1163.55 L514.87,1163.62 L514.75,1163.69 L514.63,1163.77 L514.52,1163.86 L514.41,1163.95 L514.31,1164.05 L514.22,1164.16 L514.14,1164.27 L514.06,1164.4 L513.99,1164.52 L513.93,1164.66 L513.87,1164.8 L513.81,1164.94 L513.76,1165.09 L513.72,1165.24 L513.67,1165.39 L513.63,1165.55 L513.59,1165.71 L513.55,1165.87 L513.51,1166.03 L513.48,1166.19 L513.43,1166.35 L513.39,1166.5 L513.34,1166.65 L513.29,1166.8 L513.24,1166.95 L513.18,1167.08 L513.11,1167.22 L513.04,1167.35 L512.97,1167.47 L512.88,1167.58 L512.79,1167.69 L512.69,1167.79 L512.59,1167.88 L512.48,1167.97 L512.36,1168.05 L512.24,1168.13 L512.11,1168.19 L511.97,1168.26 L511.83,1168.31 L511.68,1168.36 L511.53,1168.41 L511.38,1168.46 L511.22,1168.5 L511.06,1168.54 L510.9,1168.58 L510.75,1168.62 L510.59,1168.66 L510.43,1168.7 L510.27,1168.74 L510.12,1168.78 L509.97,1168.83 L509.82,1168.89 L509.68,1168.94 L509.54,1169 L509.41,1169.07 L509.29,1169.15 L509.17,1169.23 L509.06,1169.31 L508.96,1169.41 L508.86,1169.51 L508.77,1169.62 L508.68,1169.73 L508.61,1169.85 L508.54,1169.98 L508.47,1170.11 L508.41,1170.25 L508.36,1170.4 L508.31,1170.54 L508.26,1170.7 L508.22,1170.85 L508.17,1171.01 L508.14,1171.17 L508.1,1171.33 L508.06,1171.49 L508.02,1171.65 L507.98,1171.8 L507.93,1171.96 L507.89,1172.11 L507.84,1172.26 L507.78,1172.4 L507.72,1172.54 L507.66,1172.67 L507.59,1172.8 L507.51,1172.92 L507.43,1173.04 L507.34,1173.15 L507.24,1173.25 L507.13,1173.34 L507.02,1173.43 L506.9,1173.51 L506.78,1173.58 L506.65,1173.65 L506.51,1173.71 L506.37,1173.77 L506.23,1173.82 L506.08,1173.87 L505.92,1173.91 L505.77,1173.96 L505.61,1174 L505.45,1174.04 L505.29,1174.08 L505.13,1174.11 L504.97,1174.15 L504.81,1174.2 L504.66,1174.24 L504.51,1174.29 L504.36,1174.34 L504.22,1174.4 L504.09,1174.46 L503.96,1174.53 L503.83,1174.6 L503.71,1174.68 L503.6,1174.77 L503.5,1174.87 L503.4,1174.97 L503.31,1175.07 L503.23,1175.19 L503.15,1175.31 L503.08,1175.44 L503.01,1175.57 L502.95,1175.71 L502.9,1175.85 L502.85,1176 L502.8,1176.15 L502.76,1176.31 L502.72,1176.47 L502.68,1176.62 L502.64,1176.78 L502.6,1176.94 L502.56,1177.1 L502.52,1177.26 L502.48,1177.41 L502.43,1177.57 L502.38,1177.72 L502.33,1177.86 L502.27,1178 L502.2,1178.13 L502.13,1178.26 L502.05,1178.38 L501.97,1178.49 L501.88,1178.6 L501.78,1178.7 L501.68,1178.8 L501.57,1178.88 L501.45,1178.96 L501.32,1179.04 L501.19,1179.11 L501.06,1179.17 L500.91,1179.23 L500.77,1179.28 L500.62,1179.33 L500.47,1179.37 L500.31,1179.41 L500.15,1179.45 L499.99,1179.49 L499.83,1179.53 L499.67,1179.57 L499.51,1179.61 L499.36,1179.65 L499.2,1179.7 L499.05,1179.75 L498.91,1179.8 L498.77,1179.86 L498.63,1179.92 L498.5,1179.99 L498.38,1180.06 L498.26,1180.14 L498.15,1180.23 L498.04,1180.32 L497.94,1180.42 L497.85,1180.53 L497.77,1180.65 L497.69,1180.77 L497.62,1180.89 L497.56,1181.03 L497.5,1181.17 L497.44,1181.31 L497.39,1181.46 L497.35,1181.61 L497.3,1181.77 L497.26,1181.92 L497.22,1182.08 L497.18,1182.24 L497.14,1182.4 L497.1,1182.56 L497.06,1182.72 L497.02,1182.87 L496.97,1183.02 L496.92,1183.17 L496.87,1183.32 L496.81,1183.45 L496.74,1183.59 L496.67,1183.72 L496.6,1183.84 L496.51,1183.95 L496.42,1184.06 L496.32,1184.16 L496.22,1184.25 L496.11,1184.34 L495.99,1184.42 L495.87,1184.5 L495.74,1184.56 L495.6,1184.63 L495.46,1184.68 L495.31,1184.74 L495.16,1184.78 L495.01,1184.83 L494.85,1184.87 L494.69,1184.91 L494.53,1184.95 L494.37,1184.99 L494.22,1185.03 L494.06,1185.07 L493.9,1185.11 L493.75,1185.16 L493.6,1185.2 L493.45,1185.26 L493.31,1185.31 L493.17,1185.37 L493.04,1185.44 L492.92,1185.52 L492.8,1185.6 L492.69,1185.68 L492.59,1185.78 L492.49,1185.88 L492.4,1185.99 L492.31,1186.1 L492.24,1186.22 L492.17,1186.35 L492.1,1186.48 L492.04,1186.62 L491.99,1186.77 L491.94,1186.91 L491.89,1187.07 L491.85,1187.22 L491.8,1187.38 L491.76,1187.54 L491.73,1187.7 L491.69,1187.86 L491.65,1188.02 L491.61,1188.17 L491.56,1188.33 L491.52,1188.48 L491.47,1188.63 L491.41,1188.77 L491.35,1188.91 L491.29,1189.04 L491.22,1189.17 L491.14,1189.29 L491.06,1189.41 L490.96,1189.52 L490.87,1189.62 L490.76,1189.71 L490.65,1189.8 L490.53,1189.88 L490.41,1189.95 L490.28,1190.02 L490.14,1190.08 L490,1190.14 L489.86,1190.19 L489.71,1190.24 L489.55,1190.29 L489.4,1190.33 L489.24,1190.37 L489.08,1190.41 L488.92,1190.45 L488.76,1190.48 L488.6,1190.52 L488.44,1190.57 L488.29,1190.61 L488.14,1190.66 L487.99,1190.71 L487.85,1190.77 L487.72,1190.83 L487.59,1190.9 L487.46,1190.97 L487.34,1191.05 L487.23,1191.14 L487.13,1191.24 L487.03,1191.34 L486.94,1191.44 L486.86,1191.56 L486.78,1191.68 L486.71,1191.81 L486.64,1191.94 L486.58,1192.08 L486.53,1192.22 L486.48,1192.37 L486.43,1192.52 L486.39,1192.68 L486.35,1192.84 L486.31,1192.99 L486.27,1193.15 L486.23,1193.31 L486.19,1193.47 L486.15,1193.63 L486.11,1193.79 L486.06,1193.94 L486.01,1194.09 L485.96,1194.23 L485.9,1194.37 L485.83,1194.5 L485.76,1194.63 L485.68,1194.75 L485.6,1194.86 L485.51,1194.97 L485.41,1195.07 L485.31,1195.17 L485.19,1195.25 L485.08,1195.34 L484.95,1195.41 L484.82,1195.48 L484.69,1195.54 L484.54,1195.6 L484.4,1195.65 L484.25,1195.7 L484.09,1195.74 L483.94,1195.78 L483.78,1195.82 L483.62,1195.86 L483.46,1195.9 L483.3,1195.94 L483.14,1195.98 L482.99,1196.02 L482.83,1196.07 L482.68,1196.12 L482.54,1196.17 L482.4,1196.23 L482.26,1196.29 L482.13,1196.36 L482.01,1196.43 L481.89,1196.51 L481.78,1196.6 L481.67,1196.69 L481.58,1196.79 L481.49,1196.89 L481.41,1197 L481.33,1197.11 L481.26,1197.23 L481.19,1197.36 L481.13,1197.49 L481.07,1197.63 L481.01,1197.77 L480.95,1197.91 L480.9,1198.06 L480.84,1198.21 L480.79,1198.37 L480.73,1198.52 L480.67,1198.67 L480.61,1198.83 L480.54,1198.98 L480.47,1199.13 L480.4,1199.27 L480.32,1199.41 L480.24,1199.54 L480.15,1199.67 L480.06,1199.79 L479.96,1199.91 L479.85,1200.01 L479.74,1200.11 L479.62,1200.2 L479.49,1200.27 L479.36,1200.34 L479.23,1200.4 L479.09,1200.45 L478.94,1200.49 L478.79,1200.52 L478.64,1200.54 L478.48,1200.56 L478.33,1200.56 L478.16,1200.56 L478,1200.56 L477.84,1200.55 L477.68,1200.53 L477.51,1200.51 L477.35,1200.49 L477.19,1200.47 L477.03,1200.45 L476.87,1200.43 L476.71,1200.41 L476.56,1200.39 L476.41,1200.38 L476.26,1200.37 L476.11,1200.37 L475.97,1200.37 L475.83,1200.38 L475.7,1200.4 L475.57,1200.42 L475.44,1200.46 L475.31,1200.5 L475.18,1200.55 L475.06,1200.61 L474.94,1200.67 L474.82,1200.75 L474.7,1200.83 L474.58,1200.91 L474.47,1201.01 L474.35,1201.1 L474.23,1201.21 L474.11,1201.31 L473.99,1201.42 L473.87,1201.53 L473.75,1201.64 L473.63,1201.75 L473.5,1201.86 L473.38,1201.96 L473.25,1202.06 L473.11,1202.15 L472.98,1202.24 L472.84,1202.32 L472.71,1202.39 L472.57,1202.46 L472.43,1202.51 L472.28,1202.55 L472.14,1202.59 L471.99,1202.61 L471.85,1202.62 L471.7,1202.62 L471.55,1202.61 L471.4,1202.59 L471.26,1202.56 L471.11,1202.51 L470.96,1202.46 L470.82,1202.4 L470.67,1202.34 L470.53,1202.26 L470.39,1202.18 L470.25,1202.09 L470.11,1202.01 L469.98,1201.91 L469.84,1201.82 L469.71,1201.72 L469.58,1201.63 L469.45,1201.54 L469.32,1201.45 L469.19,1201.36 L469.06,1201.28 L468.93,1201.2 L468.81,1201.13 L468.68,1201.07 L468.55,1201.02 L468.42,1200.97 L468.3,1200.93 L468.17,1200.9 L468.03,1200.88 L467.9,1200.86 L467.76,1200.86 L467.63,1200.86 L467.49,1200.87 L467.34,1200.89 L467.2,1200.91 L467.05,1200.94 L466.9,1200.97 L466.75,1201.01 L466.6,1201.05 L466.44,1201.09 L466.28,1201.13 L466.12,1201.17 L465.96,1201.21 L465.8,1201.24 L465.64,1201.27 L465.48,1201.3 L465.32,1201.32 L465.16,1201.34 L465.01,1201.35 L464.85,1201.35 L464.7,1201.34 L464.55,1201.32 L464.4,1201.29 L464.26,1201.26 L464.12,1201.21 L463.98,1201.15 L463.85,1201.08 L463.72,1201 L463.6,1200.92 L463.49,1200.82 L463.38,1200.72 L463.27,1200.6 L463.17,1200.48 L463.08,1200.36 L462.98,1200.22 L462.9,1200.09 L462.81,1199.95 L462.73,1199.8 L462.65,1199.66 L462.58,1199.51 L462.5,1199.37 L462.43,1199.22 L462.36,1199.08 L462.29,1198.94 L462.21,1198.8 L462.14,1198.67 L462.06,1198.55 L461.98,1198.43 L461.89,1198.31 L461.81,1198.2 L461.72,1198.1 L461.62,1198.01 L461.52,1197.92 L461.41,1197.84 L461.3,1197.76 L461.18,1197.7 L461.06,1197.63 L460.93,1197.58 L460.8,1197.53 L460.66,1197.48 L460.51,1197.44 L460.37,1197.4 L460.22,1197.36 L460.06,1197.32 L459.9,1197.28 L459.75,1197.25 L459.59,1197.21 L459.43,1197.17 L459.27,1197.13 L459.11,1197.09 L458.96,1197.05 L458.8,1197 L458.66,1196.95 L458.51,1196.9 L458.37,1196.84 L458.24,1196.77 L458.11,1196.7 L457.99,1196.62 L457.88,1196.54 L457.77,1196.45 L457.67,1196.35 L457.57,1196.25 L457.49,1196.14 L457.41,1196.02 L457.33,1195.89 L457.26,1195.76 L457.2,1195.63 L457.14,1195.49 L457.09,1195.34 L457.04,1195.19 L457,1195.04 L456.96,1194.88 L456.92,1194.72 L456.88,1194.56 L456.84,1194.4 L456.8,1194.24 L456.76,1194.08 L456.72,1193.93 L456.67,1193.77 L456.62,1193.62 L456.57,1193.48 L456.51,1193.34 L456.45,1193.2 L456.38,1193.07 L456.31,1192.95 L456.23,1192.83 L456.14,1192.72 L456.05,1192.61 L455.95,1192.51 L455.84,1192.42 L455.73,1192.34 L455.6,1192.26 L455.48,1192.19 L455.34,1192.13 L455.2,1192.07 L455.06,1192.01 L454.91,1191.96 L454.76,1191.92 L454.61,1191.87 L454.45,1191.83 L454.29,1191.79 L454.13,1191.75 L453.97,1191.71 L453.81,1191.68 L453.65,1191.63 L453.5,1191.59 L453.35,1191.54 L453.2,1191.49 L453.05,1191.44 L452.92,1191.38 L452.78,1191.31 L452.65,1191.24 L452.53,1191.17 L452.42,1191.08 L452.31,1190.99 L452.21,1190.89 L452.12,1190.79 L452.03,1190.68 L451.95,1190.56 L451.87,1190.44 L451.81,1190.31 L451.74,1190.17 L451.69,1190.03 L451.64,1189.88 L451.59,1189.73 L451.54,1189.58 L451.5,1189.42 L451.46,1189.26 L451.42,1189.1 L451.38,1188.95 L451.34,1188.79 L451.3,1188.63 L451.26,1188.47 L451.22,1188.32 L451.17,1188.17 L451.11,1188.02 L451.06,1187.88 L451,1187.74 L450.93,1187.61 L450.85,1187.49 L450.77,1187.37 L450.69,1187.26 L450.59,1187.16 L450.49,1187.06 L450.38,1186.97 L450.27,1186.88 L450.15,1186.81 L450.02,1186.74 L449.89,1186.67 L449.75,1186.61 L449.6,1186.56 L449.46,1186.51 L449.3,1186.46 L449.15,1186.42 L448.99,1186.37 L448.83,1186.34 L448.67,1186.3 L448.51,1186.26 L448.35,1186.22 L448.2,1186.18 L448.04,1186.13 L447.89,1186.09 L447.74,1186.04 L447.6,1185.98 L447.46,1185.92 L447.33,1185.86 L447.2,1185.79 L447.08,1185.71 L446.96,1185.63 L446.85,1185.54 L446.75,1185.44 L446.66,1185.33 L446.57,1185.22 L446.49,1185.1 L446.42,1184.98 L446.35,1184.85 L446.29,1184.71 L446.23,1184.57 L446.18,1184.43 L446.13,1184.28 L446.09,1184.12 L446.04,1183.97 L446,1183.81 L445.96,1183.65 L445.92,1183.49 L445.89,1183.33 L445.85,1183.17 L445.8,1183.01 L445.76,1182.86 L445.71,1182.71 L445.66,1182.56 L445.6,1182.42 L445.54,1182.29 L445.47,1182.16 L445.4,1182.03 L445.32,1181.91 L445.23,1181.8 L445.13,1181.7 L445.03,1181.6 L444.93,1181.51 L444.81,1181.43 L444.69,1181.35 L444.56,1181.28 L444.43,1181.21 L444.29,1181.15 L444.15,1181.1 L444,1181.05 L443.85,1181 L443.69,1180.96 L443.53,1180.92 L443.38,1180.88 L443.22,1180.84 L443.06,1180.8 L442.9,1180.76 L442.74,1180.72 L442.59,1180.68 L442.43,1180.63 L442.28,1180.58 L442.14,1180.53 L442,1180.47 L441.87,1180.4 L441.74,1180.33 L441.62,1180.25 L441.51,1180.17 L441.4,1180.08 L441.3,1179.98 L441.2,1179.88 L441.12,1179.77 L441.04,1179.65 L440.96,1179.52 L440.89,1179.39 L440.83,1179.26 L440.77,1179.11 L440.72,1178.97 L440.67,1178.82 L440.63,1178.67 L440.59,1178.51 L440.55,1178.35 L440.51,1178.19 L440.47,1178.03 L440.43,1177.87 L440.39,1177.71 L440.35,1177.56 L440.3,1177.4 L440.25,1177.25 L440.2,1177.11 L440.14,1176.97 L440.08,1176.83 L440.01,1176.7 L439.94,1176.58 L439.86,1176.46 L439.77,1176.35 L439.68,1176.24 L439.58,1176.14 L439.47,1176.05 L439.35,1175.97 L439.23,1175.89 L439.11,1175.82 L438.97,1175.76 L438.83,1175.7 L438.69,1175.64 L438.54,1175.59 L438.39,1175.55 L438.23,1175.5 L438.08,1175.46 L437.92,1175.42 L437.76,1175.38 L437.6,1175.34 L437.44,1175.3 L437.28,1175.26 L437.13,1175.22 L436.98,1175.17 L436.83,1175.12 L436.68,1175.07 L436.55,1175.01 L436.41,1174.94 L436.28,1174.87 L436.16,1174.8 L436.05,1174.71 L435.94,1174.62 L435.84,1174.52 L435.75,1174.42 L435.66,1174.31 L435.58,1174.19 L435.5,1174.07 L435.44,1173.94 L435.37,1173.8 L435.32,1173.66 L435.26,1173.51 L435.22,1173.36 L435.17,1173.21 L435.13,1173.05 L435.09,1172.89 L435.05,1172.73 L435.01,1172.57 L434.97,1172.42 L434.93,1172.26 L434.89,1172.1 L434.84,1171.95 L434.8,1171.8 L434.74,1171.65 L434.69,1171.51 L434.63,1171.37 L434.56,1171.24 L434.48,1171.12 L434.4,1171 L434.32,1170.89 L434.22,1170.79 L434.12,1170.69 L434.01,1170.6 L433.9,1170.51 L433.78,1170.44 L433.65,1170.37 L433.52,1170.3 L433.38,1170.24 L433.23,1170.19 L433.09,1170.14 L432.93,1170.09 L432.78,1170.05 L432.62,1170 L432.46,1169.96 L432.3,1169.93 L432.14,1169.89 L431.98,1169.85 L431.83,1169.81 L431.67,1169.76 L431.52,1169.72 L431.37,1169.67 L431.23,1169.61 L431.09,1169.55 L430.96,1169.49 L430.83,1169.42 L430.71,1169.34 L430.59,1169.26 L430.48,1169.16 L430.38,1169.07 L430.29,1168.96 L430.2,1168.85 L430.12,1168.73 L430.05,1168.61 L429.98,1168.48 L429.92,1168.34 L429.86,1168.2 L429.81,1168.06 L429.76,1167.91 L429.71,1167.75 L429.67,1167.6 L429.63,1167.44 L429.59,1167.28 L429.55,1167.12 L429.52,1166.96 L429.48,1166.8 L429.43,1166.64 L429.39,1166.49 L429.34,1166.34 L429.29,1166.19 L429.23,1166.05 L429.17,1165.92 L429.1,1165.79 L429.03,1165.66 L428.95,1165.54 L428.86,1165.43 L428.76,1165.33 L428.66,1165.23 L428.56,1165.14 L428.44,1165.06 L428.32,1164.98 L428.19,1164.91 L428.06,1164.84 L427.92,1164.78 L427.78,1164.73 L427.63,1164.68 L427.48,1164.63 L427.32,1164.59 L427.16,1164.55 L427.01,1164.51 L426.85,1164.47 L426.69,1164.43 L426.53,1164.39 L426.37,1164.35 L426.21,1164.31 L426.06,1164.26 L425.91,1164.21 L425.77,1164.16 L425.63,1164.1 L425.5,1164.03 L425.37,1163.96 L425.25,1163.88 L425.14,1163.8 L425.03,1163.71 L424.93,1163.61 L424.83,1163.51 L424.75,1163.39 L424.66,1163.28 L424.59,1163.15 L424.52,1163.02 L424.46,1162.89 L424.4,1162.74 L424.35,1162.6 L424.3,1162.45 L424.26,1162.29 L424.22,1162.14 L424.18,1161.98 L424.14,1161.82 L424.1,1161.66 L424.06,1161.5 L424.02,1161.34 L423.98,1161.19 L423.93,1161.03 L423.88,1160.88 L423.83,1160.74 L423.77,1160.6 L423.71,1160.46 L423.64,1160.33 L423.57,1160.21 L423.49,1160.09 L423.4,1159.98 L423.31,1159.87 L423.21,1159.78 L423.11,1159.69 L423,1159.61 L422.89,1159.53 L422.77,1159.46 L422.64,1159.39 L422.51,1159.33 L422.37,1159.27 L422.23,1159.21 L422.09,1159.15 L421.94,1159.1 L421.79,1159.04 L421.63,1158.99 L421.48,1158.93 L421.33,1158.87 L421.17,1158.81 L421.02,1158.74 L420.87,1158.67 L420.73,1158.6 L420.59,1158.52 L420.46,1158.44 L420.33,1158.35 L420.21,1158.26 L420.09,1158.16 L419.99,1158.05 L419.89,1157.94 L419.8,1157.82 L419.73,1157.69 L419.66,1157.56 L419.6,1157.43 L419.55,1157.29 L419.51,1157.14 L419.48,1156.99 L419.46,1156.84 L419.44,1156.68 L419.44,1156.53 L419.44,1156.36 L419.44,1156.2 L419.45,1156.04 L419.47,1155.88 L419.49,1155.71 L419.51,1155.55 L419.53,1155.39 L419.55,1155.23 L419.57,1155.07 L419.59,1154.91 L419.61,1154.76 L419.62,1154.61 L419.63,1154.46 L419.63,1154.31 L419.63,1154.17 L419.62,1154.03 L419.6,1153.9 L419.58,1153.77 L419.54,1153.64 L419.5,1153.51 L419.45,1153.38 L419.39,1153.26 L419.33,1153.14 L419.25,1153.02 L419.17,1152.9 L419.09,1152.78 L418.99,1152.67 L418.9,1152.55 L418.79,1152.43 L418.69,1152.31 L418.58,1152.19 L418.47,1152.07 L418.36,1151.95 L418.25,1151.83 L418.14,1151.7 L418.04,1151.58 L417.94,1151.45 L417.85,1151.31 L417.76,1151.18 L417.68,1151.04 L417.61,1150.91 L417.54,1150.77 L417.49,1150.63 L417.45,1150.48 L417.41,1150.34 L417.39,1150.19 L417.38,1150.05 L417.38,1149.9 L417.39,1149.75 L417.41,1149.6 L417.44,1149.46 L417.49,1149.31 L417.54,1149.16 L417.6,1149.02 L417.66,1148.87 L417.74,1148.73 L417.82,1148.59 L417.91,1148.45 L417.99,1148.31 L418.09,1148.18 L418.18,1148.04 L418.28,1147.91 L418.37,1147.78 L418.46,1147.65 L418.55,1147.52 L418.64,1147.39 L418.72,1147.26 L418.8,1147.13 L418.87,1147.01 L418.93,1146.88 L418.98,1146.75 L419.03,1146.62 L419.07,1146.5 L419.1,1146.37 L419.12,1146.23 L419.14,1146.1 L419.14,1145.96 L419.14,1145.83 L419.13,1145.69 L419.11,1145.54 L419.09,1145.4 L419.06,1145.25 L419.03,1145.1 L418.99,1144.95 L418.95,1144.8 L418.91,1144.64 L418.87,1144.48 L418.83,1144.32 L418.79,1144.16 L418.76,1144 L418.73,1143.84 L418.7,1143.68 L418.68,1143.52 L418.66,1143.36 L418.65,1143.21 L418.65,1143.05 L418.66,1142.9 L418.68,1142.75 L418.71,1142.6 L418.74,1142.46 L418.79,1142.32 L418.85,1142.18 L418.92,1142.05 L419,1141.92 L419.08,1141.8 L419.18,1141.69 L419.28,1141.58 L419.4,1141.47 L419.52,1141.37 L419.64,1141.28 L419.78,1141.18 L419.91,1141.1 L420.05,1141.01 L420.2,1140.93 L420.34,1140.85 L420.49,1140.78 L420.63,1140.7 L420.78,1140.63 L420.92,1140.56 L421.06,1140.49 L421.2,1140.41 L421.33,1140.34 L421.45,1140.26 L421.57,1140.18 L421.69,1140.09 L421.8,1140.01 L421.9,1139.92 L421.99,1139.82 L422.08,1139.72 L422.16,1139.61 L422.24,1139.5 L422.3,1139.38 L422.37,1139.26 L422.42,1139.13 L422.47,1139 L422.52,1138.86 L422.56,1138.71 L422.6,1138.57 L422.64,1138.42 L422.68,1138.26 L422.72,1138.1 L422.75,1137.95 L422.79,1137.79 L422.83,1137.63 L422.87,1137.47 L422.91,1137.31 L422.95,1137.16 L423,1137 L423.05,1136.86 L423.1,1136.71 L423.16,1136.57 L423.23,1136.44 L423.3,1136.31 L423.38,1136.19 L423.46,1136.08 L423.55,1135.97 L423.65,1135.87 L423.75,1135.77 L423.86,1135.69 L423.98,1135.61 L424.11,1135.53 L424.24,1135.46 L424.37,1135.4 L424.51,1135.34 L424.66,1135.29 L424.81,1135.24 L424.96,1135.2 L425.12,1135.16 L425.28,1135.12 L425.44,1135.08 L425.6,1135.04 L425.76,1135 L425.92,1134.96 L426.07,1134.92 L426.23,1134.87 L426.38,1134.82 L426.52,1134.77 L426.66,1134.71 L426.8,1134.65 L426.93,1134.58 L427.05,1134.51 L427.17,1134.43 L427.28,1134.34 L427.39,1134.25 L427.49,1134.15 L427.58,1134.04 L427.66,1133.93 L427.74,1133.8 L427.81,1133.68 L427.87,1133.54 L427.93,1133.4 L427.99,1133.26 L428.04,1133.11 L428.08,1132.96 L428.13,1132.81 L428.17,1132.65 L428.21,1132.49 L428.25,1132.33 L428.29,1132.17 L428.32,1132.01 L428.37,1131.85 L428.41,1131.7 L428.46,1131.55 L428.51,1131.4 L428.56,1131.25 L428.62,1131.12 L428.69,1130.98 L428.76,1130.85 L428.83,1130.73 L428.92,1130.62 L429.01,1130.51 L429.11,1130.41 L429.21,1130.32 L429.32,1130.23 L429.44,1130.15 L429.56,1130.07 L429.69,1130.01 L429.83,1129.94 L429.97,1129.89 L430.12,1129.84 L430.27,1129.79 L430.42,1129.74 L430.58,1129.7 L430.74,1129.66 L430.9,1129.62 L431.05,1129.58 L431.21,1129.54 L431.37,1129.5 L431.53,1129.46 L431.68,1129.42 L431.83,1129.37 L431.98,1129.31 L432.12,1129.26 L432.26,1129.2 L432.39,1129.13 L432.51,1129.05 L432.63,1128.97 L432.74,1128.89 L432.84,1128.79 L432.94,1128.69 L433.03,1128.58 L433.12,1128.47 L433.19,1128.35 L433.26,1128.22 L433.33,1128.09 L433.39,1127.95 L433.44,1127.8 L433.49,1127.66 L433.54,1127.5 L433.58,1127.35 L433.63,1127.19 L433.66,1127.03 L433.7,1126.87 L433.74,1126.71 L433.78,1126.55 L433.82,1126.4 L433.87,1126.24 L433.91,1126.09 L433.96,1125.94 L434.02,1125.8 L434.08,1125.66 L434.14,1125.53 L434.21,1125.4 L434.29,1125.28 L434.37,1125.16 L434.46,1125.05 L434.56,1124.95 L434.67,1124.86 L434.78,1124.77 L434.9,1124.69 L435.02,1124.62 L435.15,1124.55 L435.29,1124.49 L435.43,1124.43 L435.57,1124.38 L435.72,1124.33 L435.88,1124.29 L436.03,1124.24 L436.19,1124.2 L436.35,1124.16 L436.51,1124.12 L436.67,1124.09 L436.83,1124.05 L436.99,1124 L437.14,1123.96 L437.29,1123.91 L437.44,1123.86 L437.58,1123.8 L437.71,1123.74 L437.84,1123.67 L437.97,1123.6 L438.09,1123.52 L438.2,1123.43 L438.3,1123.33 L438.4,1123.23 L438.49,1123.13 L438.57,1123.01 L438.65,1122.89 L438.72,1122.76 L438.79,1122.63 L438.85,1122.49 L438.9,1122.35 L438.95,1122.2 L439,1122.05 L439.04,1121.89 L439.08,1121.73 L439.12,1121.58 L439.16,1121.42 L439.2,1121.26 L439.24,1121.1 L439.28,1120.94 L439.32,1120.79 L439.37,1120.63 L439.42,1120.48 L439.47,1120.34 L439.53,1120.2 L439.6,1120.07 L439.67,1119.94 L439.75,1119.82 L439.83,1119.71 L439.92,1119.6 L440.02,1119.5 L440.12,1119.4 L440.23,1119.32 L440.35,1119.24 L440.48,1119.16 L440.61,1119.09 L440.74,1119.03 L440.89,1118.97 L441.03,1118.92 L441.18,1118.87 L441.33,1118.83 L441.49,1118.79 L441.65,1118.75 L441.81,1118.71 L441.97,1118.67 L442.13,1118.63 L442.29,1118.59 L442.44,1118.55 L442.6,1118.5 L442.75,1118.45 L442.89,1118.4 L443.03,1118.34 L443.17,1118.28 L443.3,1118.21 L443.42,1118.14 L443.54,1118.06 L443.65,1117.97 L443.76,1117.88 L443.86,1117.78 L443.95,1117.67 L444.03,1117.55 L444.11,1117.43 L444.18,1117.31 L444.24,1117.17 L444.3,1117.03 L444.36,1116.89 L444.41,1116.74 L444.45,1116.59 L444.5,1116.43 L444.54,1116.28 L444.58,1116.12 L444.62,1115.96 L444.66,1115.8 L444.7,1115.64 L444.74,1115.48 L444.78,1115.33 L444.83,1115.18 L444.88,1115.03 L444.93,1114.88 L444.99,1114.75 L445.06,1114.61 L445.13,1114.48 L445.2,1114.36 L445.29,1114.25 L445.38,1114.14 L445.48,1114.04 L445.58,1113.95 L445.69,1113.86 L445.81,1113.78 L445.93,1113.7 L446.06,1113.64 L446.2,1113.57 L446.34,1113.52 L446.49,1113.46 L446.64,1113.42 L446.79,1113.37 L446.95,1113.33 L447.11,1113.29 L447.27,1113.25 L447.43,1113.21 L447.58,1113.17 L447.74,1113.13 L447.9,1113.09 L448.05,1113.04 L448.2,1113 L448.35,1112.94 L448.49,1112.89 L448.63,1112.83 L448.76,1112.76 L448.88,1112.68 L449,1112.6 L449.11,1112.52 L449.21,1112.42 L449.31,1112.32 L449.4,1112.21 L449.49,1112.1 L449.56,1111.98 L449.63,1111.85 L449.7,1111.72 L449.76,1111.58 L449.81,1111.43 L449.86,1111.29 L449.91,1111.13 L449.95,1110.98 L450,1110.82 L450.04,1110.66 L450.07,1110.5 L450.11,1110.34 L450.15,1110.18 L450.19,1110.03 L450.24,1109.87 L450.28,1109.72 L450.33,1109.57 L450.39,1109.43 L450.45,1109.29 L450.51,1109.16 L450.58,1109.03 L450.66,1108.91 L450.74,1108.79 L450.84,1108.68 L450.93,1108.58 L451.04,1108.49 L451.15,1108.4 L451.27,1108.32 L451.39,1108.25 L451.52,1108.18 L451.66,1108.12 L451.8,1108.06 L451.94,1108.01 L452.09,1107.96 L452.25,1107.91 L452.4,1107.87 L452.56,1107.83 L452.72,1107.79 L452.88,1107.75 L453.04,1107.72 L453.2,1107.68 L453.36,1107.63 L453.51,1107.59 L453.66,1107.54 L453.81,1107.49 L453.95,1107.43 L454.08,1107.37 L454.21,1107.3 L454.34,1107.23 L454.46,1107.15 L454.57,1107.06 L454.67,1106.96 L454.77,1106.86 L454.86,1106.76 L454.94,1106.64 L455.02,1106.52 L455.09,1106.39 L455.16,1106.26 L455.22,1106.12 L455.27,1105.98 L455.32,1105.83 L455.37,1105.68 L455.41,1105.52 L455.45,1105.36 L455.49,1105.21 L455.53,1105.05 L455.57,1104.89 L455.61,1104.73 L455.65,1104.57 L455.69,1104.41 L455.74,1104.26 L455.79,1104.11 L455.84,1103.97 L455.9,1103.83 L455.97,1103.7 L456.04,1103.57 L456.12,1103.45 L456.2,1103.34 L456.29,1103.23 L456.39,1103.13 L456.49,1103.03 L456.61,1102.95 L456.72,1102.86 L456.85,1102.79 L456.98,1102.72 L457.11,1102.66 L457.26,1102.6 L457.4,1102.55 L457.55,1102.5 L457.71,1102.46 L457.86,1102.42 L458.02,1102.38 L458.18,1102.34 L458.34,1102.3 L458.5,1102.26 L458.66,1102.22 L458.81,1102.18 L458.97,1102.13 L459.12,1102.08 L459.26,1102.03 L459.4,1101.97 L459.54,1101.91 L459.67,1101.84 L459.79,1101.77 L459.91,1101.69 L460.02,1101.6 L460.13,1101.51 L460.22,1101.41 L460.31,1101.31 L460.39,1101.2 L460.47,1101.09 L460.54,1100.97 L460.61,1100.84 L460.67,1100.71 L460.73,1100.57 L460.79,1100.43 L460.85,1100.29 L460.9,1100.14 L460.96,1099.99 L461.01,1099.83 L461.07,1099.68 L461.13,1099.53 L461.19,1099.37 L461.26,1099.22 L461.33,1099.07 L461.4,1098.93 L461.48,1098.79 L461.56,1098.66 L461.65,1098.53 L461.74,1098.41 L461.84,1098.29 L461.95,1098.19 L462.06,1098.09 L462.18,1098 L462.31,1097.93 L462.44,1097.86 L462.57,1097.8 L462.71,1097.75 L462.86,1097.71 L463.01,1097.68 L463.16,1097.66 L463.32,1097.64 L463.47,1097.64 L463.64,1097.64 L463.8,1097.64 L463.96,1097.65 L464.12,1097.67 L464.29,1097.69 L464.45,1097.71 L464.61,1097.73 L464.77,1097.75 L464.93,1097.77 L465.09,1097.79 L465.24,1097.81 L465.39,1097.82 L465.54,1097.83 L465.69,1097.83 L465.83,1097.83 L465.97,1097.82 L466.1,1097.8 L466.23,1097.78 L466.36,1097.74 L466.49,1097.7 L466.62,1097.65 L466.74,1097.59 L466.86,1097.53 L466.98,1097.45 L467.1,1097.37 L467.22,1097.29 L467.33,1097.19 L467.45,1097.1 L467.57,1096.99 L467.69,1096.89 L467.81,1096.78 L467.93,1096.67 L468.05,1096.56 L468.17,1096.45 L468.3,1096.34 L468.42,1096.24 L468.55,1096.14 L468.69,1096.05 L468.82,1095.96 L468.96,1095.88 L469.09,1095.81 L469.23,1095.74 L469.37,1095.69 L469.52,1095.65 L469.66,1095.61 L469.81,1095.59 L469.95,1095.58 L470.1,1095.58 L470.25,1095.59 L470.4,1095.61 L470.54,1095.64 L470.69,1095.69 L470.84,1095.74 L470.98,1095.8 L471.13,1095.86 L471.27,1095.94 L471.41,1096.02 L471.55,1096.11 L471.69,1096.19 L471.82,1096.29 L471.96,1096.38 L472.09,1096.48 L472.22,1096.57 L472.35,1096.66 L472.48,1096.75 L472.61,1096.84 L472.74,1096.92 L472.87,1097 L472.99,1097.07 L473.12,1097.13 L473.25,1097.18 L473.38,1097.23 L473.5,1097.27 L473.63,1097.3 L473.77,1097.32 L473.9,1097.34 L474.04,1097.34 L474.17,1097.34 L474.31,1097.33 L474.46,1097.31 L474.6,1097.29 L474.75,1097.26 L474.9,1097.23 L475.05,1097.19 L475.2,1097.15 L475.36,1097.11 L475.52,1097.07 L475.68,1097.03 L475.84,1096.99 L476,1096.96 L476.16,1096.93 L476.32,1096.9 L476.48,1096.88 L476.64,1096.86 L476.79,1096.85 L476.95,1096.85 L477.1,1096.86 L477.25,1096.88 L477.4,1096.91 L477.54,1096.94 L477.68,1096.99 L477.82,1097.05 L477.95,1097.12 L478.08,1097.2 L478.2,1097.28 L478.31,1097.38 L478.42,1097.48 L478.53,1097.6 L478.63,1097.72 L478.72,1097.84 L478.82,1097.98 L478.9,1098.11 L478.99,1098.25 L479.07,1098.4 L479.15,1098.54 L479.22,1098.69 L479.3,1098.83 L479.37,1098.98 L479.44,1099.12 L479.51,1099.26 L479.59,1099.4 L479.66,1099.53 L479.74,1099.65 L479.82,1099.77 L479.91,1099.89 L479.99,1100 L480.08,1100.1 L480.18,1100.19 L480.28,1100.28 L480.39,1100.36 L480.5,1100.44 L480.62,1100.5 L480.74,1100.57 L480.87,1100.62 L481,1100.67 L481.14,1100.72 L481.29,1100.76 L481.43,1100.8 L481.58,1100.84 L481.74,1100.88 L481.9,1100.92 L482.05,1100.95Z" fill="#fff" stroke="#57557c" stroke-width="1"/>
<circle cx="471" cy="1029" r="55" fill="#fff"/>
<path d="M471,975.2 L471.47,974.73 L471.95,974.34 L472.44,974.12 L472.92,974.09 L473.39,974.28 L473.85,974.65 L474.29,975.13 L474.73,975.65 L475.16,976.11 L475.6,976.44 L476.05,976.59 L476.51,976.54 L477,976.3 L477.52,975.93 L478.04,975.51 L478.57,975.12 L479.09,974.84 L479.59,974.74 L480.06,974.84 L480.5,975.15 L480.89,975.61 L481.27,976.17 L481.63,976.73 L482.01,977.21 L482.41,977.55 L482.85,977.69 L483.33,977.64 L483.86,977.42 L484.42,977.1 L485,976.75 L485.57,976.45 L486.11,976.29 L486.61,976.31 L487.04,976.54 L487.41,976.95 L487.73,977.5 L488.03,978.1 L488.32,978.69 L488.64,979.18 L489.01,979.51 L489.45,979.65 L489.96,979.61 L490.53,979.42 L491.14,979.15 L491.76,978.89 L492.35,978.7 L492.89,978.66 L493.35,978.81 L493.72,979.14 L494.02,979.64 L494.25,980.25 L494.46,980.89 L494.69,981.49 L494.96,981.98 L495.31,982.3 L495.76,982.44 L496.29,982.42 L496.9,982.27 L497.55,982.08 L498.19,981.91 L498.78,981.84 L499.29,981.92 L499.69,982.17 L499.99,982.61 L500.19,983.18 L500.33,983.83 L500.46,984.49 L500.62,985.08 L500.86,985.56 L501.2,985.87 L501.66,986.02 L502.23,986.02 L502.87,985.94 L503.53,985.83 L504.18,985.76 L504.75,985.8 L505.21,986 L505.53,986.36 L505.73,986.86 L505.83,987.49 L505.88,988.16 L505.93,988.82 L506.04,989.4 L506.25,989.85 L506.59,990.16 L507.07,990.32 L507.66,990.37 L508.32,990.36 L508.99,990.34 L509.62,990.38 L510.14,990.54 L510.53,990.83 L510.76,991.27 L510.85,991.84 L510.85,992.49 L510.8,993.16 L510.78,993.8 L510.84,994.36 L511.04,994.8 L511.39,995.11 L511.88,995.3 L512.49,995.4 L513.16,995.47 L513.82,995.55 L514.41,995.69 L514.86,995.95 L515.15,996.33 L515.28,996.83 L515.26,997.43 L515.15,998.08 L515.02,998.74 L514.94,999.36 L514.97,999.9 L515.16,1000.32 L515.51,1000.64 L516.02,1000.87 L516.64,1001.03 L517.3,1001.18 L517.93,1001.36 L518.45,1001.6 L518.82,1001.94 L519.01,1002.39 L519.01,1002.93 L518.88,1003.54 L518.68,1004.18 L518.47,1004.81 L518.34,1005.4 L518.35,1005.9 L518.54,1006.33 L518.91,1006.66 L519.42,1006.93 L520.04,1007.17 L520.67,1007.4 L521.25,1007.67 L521.69,1008.01 L521.95,1008.42 L522.01,1008.91 L521.9,1009.46 L521.66,1010.06 L521.37,1010.67 L521.1,1011.26 L520.94,1011.81 L520.94,1012.29 L521.13,1012.71 L521.5,1013.08 L522.02,1013.4 L522.61,1013.71 L523.2,1014.03 L523.7,1014.39 L524.04,1014.79 L524.18,1015.25 L524.13,1015.75 L523.9,1016.3 L523.56,1016.87 L523.19,1017.43 L522.87,1017.97 L522.69,1018.48 L522.68,1018.95 L522.88,1019.38 L523.25,1019.79 L523.76,1020.17 L524.32,1020.56 L524.84,1020.95 L525.24,1021.38 L525.47,1021.83 L525.49,1022.31 L525.31,1022.81 L524.97,1023.33 L524.54,1023.84 L524.11,1024.35 L523.76,1024.85 L523.57,1025.32 L523.56,1025.79 L523.76,1026.23 L524.13,1026.68 L524.61,1027.13 L525.11,1027.58 L525.55,1028.05 L525.84,1028.52 L525.95,1029 L525.84,1029.48 L525.55,1029.95 L525.11,1030.42 L524.61,1030.87 L524.13,1031.32 L523.76,1031.77 L523.56,1032.21 L523.57,1032.68 L523.76,1033.15 L524.11,1033.65 L524.54,1034.16 L524.97,1034.67 L525.31,1035.19 L525.49,1035.69 L525.47,1036.17 L525.24,1036.62 L524.84,1037.05 L524.32,1037.44 L523.76,1037.83 L523.25,1038.21 L522.88,1038.62 L522.68,1039.05 L522.69,1039.52 L522.87,1040.03 L523.19,1040.57 L523.56,1041.13 L523.9,1041.7 L524.13,1042.25 L524.18,1042.75 L524.04,1043.21 L523.7,1043.61 L523.2,1043.97 L522.61,1044.29 L522.02,1044.6 L521.5,1044.92 L521.13,1045.29 L520.94,1045.71 L520.94,1046.19 L521.1,1046.74 L521.37,1047.33 L521.66,1047.94 L521.9,1048.54 L522.01,1049.09 L521.95,1049.58 L521.69,1049.99 L521.25,1050.33 L520.67,1050.6 L520.04,1050.83 L519.42,1051.07 L518.91,1051.34 L518.54,1051.67 L518.35,1052.1 L518.34,1052.6 L518.47,1053.19 L518.68,1053.82 L518.88,1054.46 L519.01,1055.07 L519.01,1055.61 L518.82,1056.06 L518.45,1056.4 L517.93,1056.64 L517.3,1056.82 L516.64,1056.97 L516.02,1057.13 L515.51,1057.36 L515.16,1057.68 L514.97,1058.1 L514.94,1058.64 L515.02,1059.26 L515.15,1059.92 L515.26,1060.57 L515.28,1061.17 L515.15,1061.67 L514.86,1062.05 L514.41,1062.31 L513.82,1062.45 L513.16,1062.53 L512.49,1062.6 L511.88,1062.7 L511.39,1062.89 L511.04,1063.2 L510.84,1063.64 L510.78,1064.2 L510.8,1064.84 L510.85,1065.51 L510.85,1066.16 L510.76,1066.73 L510.53,1067.17 L510.14,1067.46 L509.62,1067.62 L508.99,1067.66 L508.32,1067.64 L507.66,1067.63 L507.07,1067.68 L506.59,1067.84 L506.25,1068.15 L506.04,1068.6 L505.93,1069.18 L505.88,1069.84 L505.83,1070.51 L505.73,1071.14 L505.53,1071.64 L505.21,1072 L504.75,1072.2 L504.18,1072.24 L503.53,1072.17 L502.87,1072.06 L502.23,1071.98 L501.66,1071.98 L501.2,1072.13 L500.86,1072.44 L500.62,1072.92 L500.46,1073.51 L500.33,1074.17 L500.19,1074.82 L499.99,1075.39 L499.69,1075.83 L499.29,1076.08 L498.78,1076.16 L498.19,1076.09 L497.55,1075.92 L496.9,1075.73 L496.29,1075.58 L495.76,1075.56 L495.31,1075.7 L494.96,1076.02 L494.69,1076.51 L494.46,1077.11 L494.25,1077.75 L494.02,1078.36 L493.72,1078.86 L493.35,1079.19 L492.89,1079.34 L492.35,1079.3 L491.76,1079.11 L491.14,1078.85 L490.53,1078.58 L489.96,1078.39 L489.45,1078.35 L489.01,1078.49 L488.64,1078.82 L488.32,1079.31 L488.03,1079.9 L487.73,1080.5 L487.41,1081.05 L487.04,1081.46 L486.61,1081.69 L486.11,1081.71 L485.57,1081.55 L485,1081.25 L484.42,1080.9 L483.86,1080.58 L483.33,1080.36 L482.85,1080.31 L482.41,1080.45 L482.01,1080.79 L481.63,1081.27 L481.27,1081.83 L480.89,1082.39 L480.5,1082.85 L480.06,1083.16 L479.59,1083.26 L479.09,1083.16 L478.57,1082.88 L478.04,1082.49 L477.52,1082.07 L477,1081.7 L476.51,1081.46 L476.05,1081.41 L475.6,1081.56 L475.16,1081.89 L474.73,1082.35 L474.29,1082.87 L473.85,1083.35 L473.39,1083.72 L472.92,1083.91 L472.44,1083.88 L471.95,1083.66 L471.47,1083.27 L471,1082.8 L470.53,1082.32 L470.08,1081.92 L469.62,1081.68 L469.16,1081.63 L468.7,1081.78 L468.22,1082.1 L467.73,1082.53 L467.22,1082.99 L466.72,1083.38 L466.22,1083.63 L465.73,1083.7 L465.27,1083.55 L464.82,1083.21 L464.4,1082.73 L464,1082.19 L463.6,1081.67 L463.19,1081.26 L462.76,1081.02 L462.3,1080.97 L461.81,1081.12 L461.29,1081.41 L460.74,1081.79 L460.18,1082.17 L459.64,1082.46 L459.12,1082.6 L458.64,1082.53 L458.21,1082.27 L457.83,1081.83 L457.48,1081.27 L457.15,1080.68 L456.82,1080.14 L456.46,1079.72 L456.05,1079.48 L455.58,1079.44 L455.06,1079.57 L454.48,1079.83 L453.89,1080.14 L453.29,1080.43 L452.72,1080.61 L452.21,1080.62 L451.77,1080.44 L451.4,1080.06 L451.09,1079.53 L450.83,1078.92 L450.58,1078.3 L450.31,1077.75 L449.98,1077.34 L449.58,1077.1 L449.1,1077.05 L448.54,1077.16 L447.93,1077.37 L447.29,1077.61 L446.68,1077.79 L446.11,1077.85 L445.63,1077.74 L445.24,1077.44 L444.95,1076.98 L444.74,1076.38 L444.56,1075.73 L444.39,1075.09 L444.17,1074.55 L443.87,1074.15 L443.47,1073.92 L442.97,1073.86 L442.38,1073.93 L441.73,1074.07 L441.07,1074.21 L440.45,1074.29 L439.91,1074.23 L439.48,1074.01 L439.18,1073.61 L438.98,1073.07 L438.86,1072.43 L438.78,1071.76 L438.67,1071.13 L438.5,1070.59 L438.22,1070.21 L437.82,1069.98 L437.29,1069.89 L436.67,1069.91 L436,1069.98 L435.34,1070.02 L434.74,1069.99 L434.25,1069.82 L433.89,1069.49 L433.68,1069.02 L433.59,1068.42 L433.57,1067.76 L433.57,1067.09 L433.53,1066.47 L433.4,1065.95 L433.12,1065.58 L432.71,1065.34 L432.16,1065.22 L431.52,1065.18 L430.84,1065.16 L430.19,1065.1 L429.64,1064.96 L429.22,1064.68 L428.96,1064.28 L428.85,1063.74 L428.87,1063.12 L428.95,1062.45 L429.03,1061.79 L429.04,1061.2 L428.93,1060.7 L428.66,1060.33 L428.23,1060.08 L427.66,1059.91 L427.01,1059.8 L426.35,1059.69 L425.74,1059.53 L425.24,1059.28 L424.92,1058.93 L424.77,1058.45 L424.77,1057.88 L424.9,1057.25 L425.07,1056.6 L425.22,1055.97 L425.27,1055.4 L425.17,1054.93 L424.9,1054.56 L424.45,1054.27 L423.88,1054.06 L423.23,1053.87 L422.6,1053.66 L422.05,1053.41 L421.64,1053.07 L421.42,1052.65 L421.39,1052.13 L421.51,1051.55 L421.74,1050.93 L422,1050.31 L422.2,1049.71 L422.28,1049.18 L422.18,1048.72 L421.9,1048.34 L421.45,1048.02 L420.88,1047.74 L420.26,1047.47 L419.67,1047.18 L419.2,1046.84 L418.9,1046.43 L418.79,1045.96 L418.88,1045.43 L419.12,1044.86 L419.44,1044.27 L419.77,1043.69 L420.01,1043.14 L420.11,1042.64 L420.01,1042.19 L419.72,1041.78 L419.27,1041.42 L418.72,1041.07 L418.14,1040.72 L417.62,1040.35 L417.25,1039.94 L417.06,1039.48 L417.08,1038.99 L417.29,1038.47 L417.63,1037.93 L418.04,1037.39 L418.42,1036.86 L418.69,1036.35 L418.79,1035.87 L418.69,1035.42 L418.4,1034.99 L417.96,1034.57 L417.44,1034.16 L416.92,1033.73 L416.49,1033.29 L416.23,1032.83 L416.17,1032.35 L416.31,1031.87 L416.63,1031.37 L417.07,1030.88 L417.54,1030.4 L417.96,1029.93 L418.25,1029.46 L418.35,1029 L418.25,1028.54 L417.96,1028.07 L417.54,1027.6 L417.07,1027.12 L416.63,1026.63 L416.31,1026.13 L416.17,1025.65 L416.23,1025.17 L416.49,1024.71 L416.92,1024.27 L417.44,1023.84 L417.96,1023.43 L418.4,1023.01 L418.69,1022.58 L418.79,1022.13 L418.69,1021.65 L418.42,1021.14 L418.04,1020.61 L417.63,1020.07 L417.29,1019.53 L417.08,1019.01 L417.06,1018.52 L417.25,1018.06 L417.62,1017.65 L418.14,1017.28 L418.72,1016.93 L419.27,1016.58 L419.72,1016.22 L420.01,1015.81 L420.11,1015.36 L420.01,1014.86 L419.77,1014.31 L419.44,1013.73 L419.12,1013.14 L418.88,1012.57 L418.79,1012.04 L418.9,1011.57 L419.2,1011.16 L419.67,1010.82 L420.26,1010.53 L420.88,1010.26 L421.45,1009.98 L421.9,1009.66 L422.18,1009.28 L422.28,1008.82 L422.2,1008.29 L422,1007.69 L421.74,1007.07 L421.51,1006.45 L421.39,1005.87 L421.42,1005.35 L421.64,1004.93 L422.05,1004.59 L422.6,1004.34 L423.23,1004.13 L423.88,1003.94 L424.45,1003.73 L424.9,1003.44 L425.17,1003.07 L425.27,1002.6 L425.22,1002.03 L425.07,1001.4 L424.9,1000.75 L424.77,1000.12 L424.77,999.55 L424.92,999.07 L425.24,998.72 L425.74,998.47 L426.35,998.31 L427.01,998.2 L427.66,998.09 L428.23,997.92 L428.66,997.67 L428.93,997.3 L429.04,996.8 L429.03,996.21 L428.95,995.55 L428.87,994.88 L428.85,994.26 L428.96,993.72 L429.22,993.32 L429.64,993.04 L430.19,992.9 L430.84,992.84 L431.52,992.82 L432.16,992.78 L432.71,992.66 L433.12,992.42 L433.4,992.05 L433.53,991.53 L433.57,990.91 L433.57,990.24 L433.59,989.58 L433.68,988.98 L433.89,988.51 L434.25,988.18 L434.74,988.01 L435.34,987.98 L436,988.02 L436.67,988.09 L437.29,988.11 L437.82,988.02 L438.22,987.79 L438.5,987.41 L438.67,986.87 L438.78,986.24 L438.86,985.57 L438.98,984.93 L439.18,984.39 L439.48,983.99 L439.91,983.77 L440.45,983.71 L441.07,983.79 L441.73,983.93 L442.38,984.07 L442.97,984.14 L443.47,984.08 L443.87,983.85 L444.17,983.45 L444.39,982.91 L444.56,982.27 L444.74,981.62 L444.95,981.02 L445.24,980.56 L445.63,980.26 L446.11,980.15 L446.68,980.21 L447.29,980.39 L447.93,980.63 L448.54,980.84 L449.1,980.95 L449.58,980.9 L449.98,980.66 L450.31,980.25 L450.58,979.7 L450.83,979.08 L451.09,978.47 L451.4,977.94 L451.77,977.56 L452.21,977.38 L452.72,977.39 L453.29,977.57 L453.89,977.86 L454.48,978.17 L455.06,978.43 L455.58,978.56 L456.05,978.52 L456.46,978.28 L456.82,977.86 L457.15,977.32 L457.48,976.73 L457.83,976.17 L458.21,975.73 L458.64,975.47 L459.12,975.4 L459.64,975.54 L460.18,975.83 L460.74,976.21 L461.29,976.59 L461.81,976.88 L462.3,977.03 L462.76,976.98 L463.19,976.74 L463.6,976.33 L464,975.81 L464.4,975.27 L464.82,974.79 L465.27,974.45 L465.73,974.3 L466.22,974.37 L466.72,974.62 L467.22,975.01 L467.73,975.47 L468.22,975.9 L468.7,976.22 L469.16,976.37 L469.62,976.32 L470.08,976.08 L470.53,975.68Z" fill="none" stroke="#55537a" stroke-width="1.1"/>
<path d="M471,975.2 L471.47,975.68 L471.92,976.08 L472.38,976.32 L472.84,976.37 L473.3,976.22 L473.78,975.9 L474.27,975.47 L474.78,975.01 L475.28,974.62 L475.78,974.37 L476.27,974.3 L476.73,974.45 L477.18,974.79 L477.6,975.27 L478,975.81 L478.4,976.33 L478.81,976.74 L479.24,976.98 L479.7,977.03 L480.19,976.88 L480.71,976.59 L481.26,976.21 L481.82,975.83 L482.36,975.54 L482.88,975.4 L483.36,975.47 L483.79,975.73 L484.17,976.17 L484.52,976.73 L484.85,977.32 L485.18,977.86 L485.54,978.28 L485.95,978.52 L486.42,978.56 L486.94,978.43 L487.52,978.17 L488.11,977.86 L488.71,977.57 L489.28,977.39 L489.79,977.38 L490.23,977.56 L490.6,977.94 L490.91,978.47 L491.17,979.08 L491.42,979.7 L491.69,980.25 L492.02,980.66 L492.42,980.9 L492.9,980.95 L493.46,980.84 L494.07,980.63 L494.71,980.39 L495.32,980.21 L495.89,980.15 L496.37,980.26 L496.76,980.56 L497.05,981.02 L497.26,981.62 L497.44,982.27 L497.61,982.91 L497.83,983.45 L498.13,983.85 L498.53,984.08 L499.03,984.14 L499.62,984.07 L500.27,983.93 L500.93,983.79 L501.55,983.71 L502.09,983.77 L502.52,983.99 L502.82,984.39 L503.02,984.93 L503.14,985.57 L503.22,986.24 L503.33,986.87 L503.5,987.41 L503.78,987.79 L504.18,988.02 L504.71,988.11 L505.33,988.09 L506,988.02 L506.66,987.98 L507.26,988.01 L507.75,988.18 L508.11,988.51 L508.32,988.98 L508.41,989.58 L508.43,990.24 L508.43,990.91 L508.47,991.53 L508.6,992.05 L508.88,992.42 L509.29,992.66 L509.84,992.78 L510.48,992.82 L511.16,992.84 L511.81,992.9 L512.36,993.04 L512.78,993.32 L513.04,993.72 L513.15,994.26 L513.13,994.88 L513.05,995.55 L512.97,996.21 L512.96,996.8 L513.07,997.3 L513.34,997.67 L513.77,997.92 L514.34,998.09 L514.99,998.2 L515.65,998.31 L516.26,998.47 L516.76,998.72 L517.08,999.07 L517.23,999.55 L517.23,1000.12 L517.1,1000.75 L516.93,1001.4 L516.78,1002.03 L516.73,1002.6 L516.83,1003.07 L517.1,1003.44 L517.55,1003.73 L518.12,1003.94 L518.77,1004.13 L519.4,1004.34 L519.95,1004.59 L520.36,1004.93 L520.58,1005.35 L520.61,1005.87 L520.49,1006.45 L520.26,1007.07 L520,1007.69 L519.8,1008.29 L519.72,1008.82 L519.82,1009.28 L520.1,1009.66 L520.55,1009.98 L521.12,1010.26 L521.74,1010.53 L522.33,1010.82 L522.8,1011.16 L523.1,1011.57 L523.21,1012.04 L523.12,1012.57 L522.88,1013.14 L522.56,1013.73 L522.23,1014.31 L521.99,1014.86 L521.89,1015.36 L521.99,1015.81 L522.28,1016.22 L522.73,1016.58 L523.28,1016.93 L523.86,1017.28 L524.38,1017.65 L524.75,1018.06 L524.94,1018.52 L524.92,1019.01 L524.71,1019.53 L524.37,1020.07 L523.96,1020.61 L523.58,1021.14 L523.31,1021.65 L523.21,1022.13 L523.31,1022.58 L523.6,1023.01 L524.04,1023.43 L524.56,1023.84 L525.08,1024.27 L525.51,1024.71 L525.77,1025.17 L525.83,1025.65 L525.69,1026.13 L525.37,1026.63 L524.93,1027.12 L524.46,1027.6 L524.04,1028.07 L523.75,1028.54 L523.65,1029 L523.75,1029.46 L524.04,1029.93 L524.46,1030.4 L524.93,1030.88 L525.37,1031.37 L525.69,1031.87 L525.83,1032.35 L525.77,1032.83 L525.51,1033.29 L525.08,1033.73 L524.56,1034.16 L524.04,1034.57 L523.6,1034.99 L523.31,1035.42 L523.21,1035.87 L523.31,1036.35 L523.58,1036.86 L523.96,1037.39 L524.37,1037.93 L524.71,1038.47 L524.92,1038.99 L524.94,1039.48 L524.75,1039.94 L524.38,1040.35 L523.86,1040.72 L523.28,1041.07 L522.73,1041.42 L522.28,1041.78 L521.99,1042.19 L521.89,1042.64 L521.99,1043.14 L522.23,1043.69 L522.56,1044.27 L522.88,1044.86 L523.12,1045.43 L523.21,1045.96 L523.1,1046.43 L522.8,1046.84 L522.33,1047.18 L521.74,1047.47 L521.12,1047.74 L520.55,1048.02 L520.1,1048.34 L519.82,1048.72 L519.72,1049.18 L519.8,1049.71 L520,1050.31 L520.26,1050.93 L520.49,1051.55 L520.61,1052.13 L520.58,1052.65 L520.36,1053.07 L519.95,1053.41 L519.4,1053.66 L518.77,1053.87 L518.12,1054.06 L517.55,1054.27 L517.1,1054.56 L516.83,1054.93 L516.73,1055.4 L516.78,1055.97 L516.93,1056.6 L517.1,1057.25 L517.23,1057.88 L517.23,1058.45 L517.08,1058.93 L516.76,1059.28 L516.26,1059.53 L515.65,1059.69 L514.99,1059.8 L514.34,1059.91 L513.77,1060.08 L513.34,1060.33 L513.07,1060.7 L512.96,1061.2 L512.97,1061.79 L513.05,1062.45 L513.13,1063.12 L513.15,1063.74 L513.04,1064.28 L512.78,1064.68 L512.36,1064.96 L511.81,1065.1 L511.16,1065.16 L510.48,1065.18 L509.84,1065.22 L509.29,1065.34 L508.88,1065.58 L508.6,1065.95 L508.47,1066.47 L508.43,1067.09 L508.43,1067.76 L508.41,1068.42 L508.32,1069.02 L508.11,1069.49 L507.75,1069.82 L507.26,1069.99 L506.66,1070.02 L506,1069.98 L505.33,1069.91 L504.71,1069.89 L504.18,1069.98 L503.78,1070.21 L503.5,1070.59 L503.33,1071.13 L503.22,1071.76 L503.14,1072.43 L503.02,1073.07 L502.82,1073.61 L502.52,1074.01 L502.09,1074.23 L501.55,1074.29 L500.93,1074.21 L500.27,1074.07 L499.62,1073.93 L499.03,1073.86 L498.53,1073.92 L498.13,1074.15 L497.83,1074.55 L497.61,1075.09 L497.44,1075.73 L497.26,1076.38 L497.05,1076.98 L496.76,1077.44 L496.37,1077.74 L495.89,1077.85 L495.32,1077.79 L494.71,1077.61 L494.07,1077.37 L493.46,1077.16 L492.9,1077.05 L492.42,1077.1 L492.02,1077.34 L491.69,1077.75 L491.42,1078.3 L491.17,1078.92 L490.91,1079.53 L490.6,1080.06 L490.23,1080.44 L489.79,1080.62 L489.28,1080.61 L488.71,1080.43 L488.11,1080.14 L487.52,1079.83 L486.94,1079.57 L486.42,1079.44 L485.95,1079.48 L485.54,1079.72 L485.18,1080.14 L484.85,1080.68 L484.52,1081.27 L484.17,1081.83 L483.79,1082.27 L483.36,1082.53 L482.88,1082.6 L482.36,1082.46 L481.82,1082.17 L481.26,1081.79 L480.71,1081.41 L480.19,1081.12 L479.7,1080.97 L479.24,1081.02 L478.81,1081.26 L478.4,1081.67 L478,1082.19 L477.6,1082.73 L477.18,1083.21 L476.73,1083.55 L476.27,1083.7 L475.78,1083.63 L475.28,1083.38 L474.78,1082.99 L474.27,1082.53 L473.78,1082.1 L473.3,1081.78 L472.84,1081.63 L472.38,1081.68 L471.92,1081.92 L471.47,1082.32 L471,1082.8 L470.53,1083.27 L470.05,1083.66 L469.56,1083.88 L469.08,1083.91 L468.61,1083.72 L468.15,1083.35 L467.71,1082.87 L467.27,1082.35 L466.84,1081.89 L466.4,1081.56 L465.95,1081.41 L465.49,1081.46 L465,1081.7 L464.48,1082.07 L463.96,1082.49 L463.43,1082.88 L462.91,1083.16 L462.41,1083.26 L461.94,1083.16 L461.5,1082.85 L461.11,1082.39 L460.73,1081.83 L460.37,1081.27 L459.99,1080.79 L459.59,1080.45 L459.15,1080.31 L458.67,1080.36 L458.14,1080.58 L457.58,1080.9 L457,1081.25 L456.43,1081.55 L455.89,1081.71 L455.39,1081.69 L454.96,1081.46 L454.59,1081.05 L454.27,1080.5 L453.97,1079.9 L453.68,1079.31 L453.36,1078.82 L452.99,1078.49 L452.55,1078.35 L452.04,1078.39 L451.47,1078.58 L450.86,1078.85 L450.24,1079.11 L449.65,1079.3 L449.11,1079.34 L448.65,1079.19 L448.28,1078.86 L447.98,1078.36 L447.75,1077.75 L447.54,1077.11 L447.31,1076.51 L447.04,1076.02 L446.69,1075.7 L446.24,1075.56 L445.71,1075.58 L445.1,1075.73 L444.45,1075.92 L443.81,1076.09 L443.22,1076.16 L442.71,1076.08 L442.31,1075.83 L442.01,1075.39 L441.81,1074.82 L441.67,1074.17 L441.54,1073.51 L441.38,1072.92 L441.14,1072.44 L440.8,1072.13 L440.34,1071.98 L439.77,1071.98 L439.13,1072.06 L438.47,1072.17 L437.82,1072.24 L437.25,1072.2 L436.79,1072 L436.47,1071.64 L436.27,1071.14 L436.17,1070.51 L436.12,1069.84 L436.07,1069.18 L435.96,1068.6 L435.75,1068.15 L435.41,1067.84 L434.93,1067.68 L434.34,1067.63 L433.68,1067.64 L433.01,1067.66 L432.38,1067.62 L431.86,1067.46 L431.47,1067.17 L431.24,1066.73 L431.15,1066.16 L431.15,1065.51 L431.2,1064.84 L431.22,1064.2 L431.16,1063.64 L430.96,1063.2 L430.61,1062.89 L430.12,1062.7 L429.51,1062.6 L428.84,1062.53 L428.18,1062.45 L427.59,1062.31 L427.14,1062.05 L426.85,1061.67 L426.72,1061.17 L426.74,1060.57 L426.85,1059.92 L426.98,1059.26 L427.06,1058.64 L427.03,1058.1 L426.84,1057.68 L426.49,1057.36 L425.98,1057.13 L425.36,1056.97 L424.7,1056.82 L424.07,1056.64 L423.55,1056.4 L423.18,1056.06 L422.99,1055.61 L422.99,1055.07 L423.12,1054.46 L423.32,1053.82 L423.53,1053.19 L423.66,1052.6 L423.65,1052.1 L423.46,1051.67 L423.09,1051.34 L422.58,1051.07 L421.96,1050.83 L421.33,1050.6 L420.75,1050.33 L420.31,1049.99 L420.05,1049.58 L419.99,1049.09 L420.1,1048.54 L420.34,1047.94 L420.63,1047.33 L420.9,1046.74 L421.06,1046.19 L421.06,1045.71 L420.87,1045.29 L420.5,1044.92 L419.98,1044.6 L419.39,1044.29 L418.8,1043.97 L418.3,1043.61 L417.96,1043.21 L417.82,1042.75 L417.87,1042.25 L418.1,1041.7 L418.44,1041.13 L418.81,1040.57 L419.13,1040.03 L419.31,1039.52 L419.32,1039.05 L419.12,1038.62 L418.75,1038.21 L418.24,1037.83 L417.68,1037.44 L417.16,1037.05 L416.76,1036.62 L416.53,1036.17 L416.51,1035.69 L416.69,1035.19 L417.03,1034.67 L417.46,1034.16 L417.89,1033.65 L418.24,1033.15 L418.43,1032.68 L418.44,1032.21 L418.24,1031.77 L417.87,1031.32 L417.39,1030.87 L416.89,1030.42 L416.45,1029.95 L416.16,1029.48 L416.05,1029 L416.16,1028.52 L416.45,1028.05 L416.89,1027.58 L417.39,1027.13 L417.87,1026.68 L418.24,1026.23 L418.44,1025.79 L418.43,1025.32 L418.24,1024.85 L417.89,1024.35 L417.46,1023.84 L417.03,1023.33 L416.69,1022.81 L416.51,1022.31 L416.53,1021.83 L416.76,1021.38 L417.16,1020.95 L417.68,1020.56 L418.24,1020.17 L418.75,1019.79 L419.12,1019.38 L419.32,1018.95 L419.31,1018.48 L419.13,1017.97 L418.81,1017.43 L418.44,1016.87 L418.1,1016.3 L417.87,1015.75 L417.82,1015.25 L417.96,1014.79 L418.3,1014.39 L418.8,1014.03 L419.39,1013.71 L419.98,1013.4 L420.5,1013.08 L420.87,1012.71 L421.06,1012.29 L421.06,1011.81 L420.9,1011.26 L420.63,1010.67 L420.34,1010.06 L420.1,1009.46 L419.99,1008.91 L420.05,1008.42 L420.31,1008.01 L420.75,1007.67 L421.33,1007.4 L421.96,1007.17 L422.58,1006.93 L423.09,1006.66 L423.46,1006.33 L423.65,1005.9 L423.66,1005.4 L423.53,1004.81 L423.32,1004.18 L423.12,1003.54 L422.99,1002.93 L422.99,1002.39 L423.18,1001.94 L423.55,1001.6 L424.07,1001.36 L424.7,1001.18 L425.36,1001.03 L425.98,1000.87 L426.49,1000.64 L426.84,1000.32 L427.03,999.9 L427.06,999.36 L426.98,998.74 L426.85,998.08 L426.74,997.43 L426.72,996.83 L426.85,996.33 L427.14,995.95 L427.59,995.69 L428.18,995.55 L428.84,995.47 L429.51,995.4 L430.12,995.3 L430.61,995.11 L430.96,994.8 L431.16,994.36 L431.22,993.8 L431.2,993.16 L431.15,992.49 L431.15,991.84 L431.24,991.27 L431.47,990.83 L431.86,990.54 L432.38,990.38 L433.01,990.34 L433.68,990.36 L434.34,990.37 L434.93,990.32 L435.41,990.16 L435.75,989.85 L435.96,989.4 L436.07,988.82 L436.12,988.16 L436.17,987.49 L436.27,986.86 L436.47,986.36 L436.79,986 L437.25,985.8 L437.82,985.76 L438.47,985.83 L439.13,985.94 L439.77,986.02 L440.34,986.02 L440.8,985.87 L441.14,985.56 L441.38,985.08 L441.54,984.49 L441.67,983.83 L441.81,983.18 L442.01,982.61 L442.31,982.17 L442.71,981.92 L443.22,981.84 L443.81,981.91 L444.45,982.08 L445.1,982.27 L445.71,982.42 L446.24,982.44 L446.69,982.3 L447.04,981.98 L447.31,981.49 L447.54,980.89 L447.75,980.25 L447.98,979.64 L448.28,979.14 L448.65,978.81 L449.11,978.66 L449.65,978.7 L450.24,978.89 L450.86,979.15 L451.47,979.42 L452.04,979.61 L452.55,979.65 L452.99,979.51 L453.36,979.18 L453.68,978.69 L453.97,978.1 L454.27,977.5 L454.59,976.95 L454.96,976.54 L455.39,976.31 L455.89,976.29 L456.43,976.45 L457,976.75 L457.58,977.1 L458.14,977.42 L458.67,977.64 L459.15,977.69 L459.59,977.55 L459.99,977.21 L460.37,976.73 L460.73,976.17 L461.11,975.61 L461.5,975.15 L461.94,974.84 L462.41,974.74 L462.91,974.84 L463.43,975.12 L463.96,975.51 L464.48,975.93 L465,976.3 L465.49,976.54 L465.95,976.59 L466.4,976.44 L466.84,976.11 L467.27,975.65 L467.71,975.13 L468.15,974.65 L468.61,974.28 L469.08,974.09 L469.56,974.12 L470.05,974.34 L470.53,974.73Z" fill="none" stroke="#55537a" stroke-width="1.1"/>
<circle cx="619.2" cy="1029" r="55" fill="#fff"/>
<path d="M619.2,975.2 L619.67,974.73 L620.15,974.34 L620.64,974.12 L621.12,974.09 L621.59,974.28 L622.05,974.65 L622.49,975.13 L622.93,975.65 L623.36,976.11 L623.8,976.44 L624.25,976.59 L624.71,976.54 L625.2,976.3 L625.72,975.93 L626.24,975.51 L626.77,975.12 L627.29,974.84 L627.79,974.74 L628.26,974.84 L628.7,975.15 L629.09,975.61 L629.47,976.17 L629.83,976.73 L630.21,977.21 L630.61,977.55 L631.05,977.69 L631.53,977.64 L632.06,977.42 L632.62,977.1 L633.2,976.75 L633.77,976.45 L634.31,976.29 L634.81,976.31 L635.24,976.54 L635.61,976.95 L635.93,977.5 L636.23,978.1 L636.52,978.69 L636.84,979.18 L637.21,979.51 L637.65,979.65 L638.16,979.61 L638.73,979.42 L639.34,979.15 L639.96,978.89 L640.55,978.7 L641.09,978.66 L641.55,978.81 L641.92,979.14 L642.22,979.64 L642.45,980.25 L642.66,980.89 L642.89,981.49 L643.16,981.98 L643.51,982.3 L643.96,982.44 L644.49,982.42 L645.1,982.27 L645.75,982.08 L646.39,981.91 L646.98,981.84 L647.49,981.92 L647.89,982.17 L648.19,982.61 L648.39,983.18 L648.53,983.83 L648.66,984.49 L648.82,985.08 L649.06,985.56 L649.4,985.87 L649.86,986.02 L650.43,986.02 L651.07,985.94 L651.73,985.83 L652.38,985.76 L652.95,985.8 L653.41,986 L653.73,986.36 L653.93,986.86 L654.03,987.49 L654.08,988.16 L654.13,988.82 L654.24,989.4 L654.45,989.85 L654.79,990.16 L655.27,990.32 L655.86,990.37 L656.52,990.36 L657.19,990.34 L657.82,990.38 L658.34,990.54 L658.73,990.83 L658.96,991.27 L659.05,991.84 L659.05,992.49 L659,993.16 L658.98,993.8 L659.04,994.36 L659.24,994.8 L659.59,995.11 L660.08,995.3 L660.69,995.4 L661.36,995.47 L662.02,995.55 L662.61,995.69 L663.06,995.95 L663.35,996.33 L663.48,996.83 L663.46,997.43 L663.35,998.08 L663.22,998.74 L663.14,999.36 L663.17,999.9 L663.36,1000.32 L663.71,1000.64 L664.22,1000.87 L664.84,1001.03 L665.5,1001.18 L666.13,1001.36 L666.65,1001.6 L667.02,1001.94 L667.21,1002.39 L667.21,1002.93 L667.08,1003.54 L666.88,1004.18 L666.67,1004.81 L666.54,1005.4 L666.55,1005.9 L666.74,1006.33 L667.11,1006.66 L667.62,1006.93 L668.24,1007.17 L668.87,1007.4 L669.45,1007.67 L669.89,1008.01 L670.15,1008.42 L670.21,1008.91 L670.1,1009.46 L669.86,1010.06 L669.57,1010.67 L669.3,1011.26 L669.14,1011.81 L669.14,1012.29 L669.33,1012.71 L669.7,1013.08 L670.22,1013.4 L670.81,1013.71 L671.4,1014.03 L671.9,1014.39 L672.24,1014.79 L672.38,1015.25 L672.33,1015.75 L672.1,1016.3 L671.76,1016.87 L671.39,1017.43 L671.07,1017.97 L670.89,1018.48 L670.88,1018.95 L671.08,1019.38 L671.45,1019.79 L671.96,1020.17 L672.52,1020.56 L673.04,1020.95 L673.44,1021.38 L673.67,1021.83 L673.69,1022.31 L673.51,1022.81 L673.17,1023.33 L672.74,1023.84 L672.31,1024.35 L671.96,1024.85 L671.77,1025.32 L671.76,1025.79 L671.96,1026.23 L672.33,1026.68 L672.81,1027.13 L673.31,1027.58 L673.75,1028.05 L674.04,1028.52 L674.15,1029 L674.04,1029.48 L673.75,1029.95 L673.31,1030.42 L672.81,1030.87 L672.33,1031.32 L671.96,1031.77 L671.76,1032.21 L671.77,1032.68 L671.96,1033.15 L672.31,1033.65 L672.74,1034.16 L673.17,1034.67 L673.51,1035.19 L673.69,1035.69 L673.67,1036.17 L673.44,1036.62 L673.04,1037.05 L672.52,1037.44 L671.96,1037.83 L671.45,1038.21 L671.08,1038.62 L670.88,1039.05 L670.89,1039.52 L671.07,1040.03 L671.39,1040.57 L671.76,1041.13 L672.1,1041.7 L672.33,1042.25 L672.38,1042.75 L672.24,1043.21 L671.9,1043.61 L671.4,1043.97 L670.81,1044.29 L670.22,1044.6 L669.7,1044.92 L669.33,1045.29 L669.14,1045.71 L669.14,1046.19 L669.3,1046.74 L669.57,1047.33 L669.86,1047.94 L670.1,1048.54 L670.21,1049.09 L670.15,1049.58 L669.89,1049.99 L669.45,1050.33 L668.87,1050.6 L668.24,1050.83 L667.62,1051.07 L667.11,1051.34 L666.74,1051.67 L666.55,1052.1 L666.54,1052.6 L666.67,1053.19 L666.88,1053.82 L667.08,1054.46 L667.21,1055.07 L667.21,1055.61 L667.02,1056.06 L666.65,1056.4 L666.13,1056.64 L665.5,1056.82 L664.84,1056.97 L664.22,1057.13 L663.71,1057.36 L663.36,1057.68 L663.17,1058.1 L663.14,1058.64 L663.22,1059.26 L663.35,1059.92 L663.46,1060.57 L663.48,1061.17 L663.35,1061.67 L663.06,1062.05 L662.61,1062.31 L662.02,1062.45 L661.36,1062.53 L660.69,1062.6 L660.08,1062.7 L659.59,1062.89 L659.24,1063.2 L659.04,1063.64 L658.98,1064.2 L659,1064.84 L659.05,1065.51 L659.05,1066.16 L658.96,1066.73 L658.73,1067.17 L658.34,1067.46 L657.82,1067.62 L657.19,1067.66 L656.52,1067.64 L655.86,1067.63 L655.27,1067.68 L654.79,1067.84 L654.45,1068.15 L654.24,1068.6 L654.13,1069.18 L654.08,1069.84 L654.03,1070.51 L653.93,1071.14 L653.73,1071.64 L653.41,1072 L652.95,1072.2 L652.38,1072.24 L651.73,1072.17 L651.07,1072.06 L650.43,1071.98 L649.86,1071.98 L649.4,1072.13 L649.06,1072.44 L648.82,1072.92 L648.66,1073.51 L648.53,1074.17 L648.39,1074.82 L648.19,1075.39 L647.89,1075.83 L647.49,1076.08 L646.98,1076.16 L646.39,1076.09 L645.75,1075.92 L645.1,1075.73 L644.49,1075.58 L643.96,1075.56 L643.51,1075.7 L643.16,1076.02 L642.89,1076.51 L642.66,1077.11 L642.45,1077.75 L642.22,1078.36 L641.92,1078.86 L641.55,1079.19 L641.09,1079.34 L640.55,1079.3 L639.96,1079.11 L639.34,1078.85 L638.73,1078.58 L638.16,1078.39 L637.65,1078.35 L637.21,1078.49 L636.84,1078.82 L636.52,1079.31 L636.23,1079.9 L635.93,1080.5 L635.61,1081.05 L635.24,1081.46 L634.81,1081.69 L634.31,1081.71 L633.77,1081.55 L633.2,1081.25 L632.62,1080.9 L632.06,1080.58 L631.53,1080.36 L631.05,1080.31 L630.61,1080.45 L630.21,1080.79 L629.83,1081.27 L629.47,1081.83 L629.09,1082.39 L628.7,1082.85 L628.26,1083.16 L627.79,1083.26 L627.29,1083.16 L626.77,1082.88 L626.24,1082.49 L625.72,1082.07 L625.2,1081.7 L624.71,1081.46 L624.25,1081.41 L623.8,1081.56 L623.36,1081.89 L622.93,1082.35 L622.49,1082.87 L622.05,1083.35 L621.59,1083.72 L621.12,1083.91 L620.64,1083.88 L620.15,1083.66 L619.67,1083.27 L619.2,1082.8 L618.73,1082.32 L618.28,1081.92 L617.82,1081.68 L617.36,1081.63 L616.9,1081.78 L616.42,1082.1 L615.93,1082.53 L615.42,1082.99 L614.92,1083.38 L614.42,1083.63 L613.93,1083.7 L613.47,1083.55 L613.02,1083.21 L612.6,1082.73 L612.2,1082.19 L611.8,1081.67 L611.39,1081.26 L610.96,1081.02 L610.5,1080.97 L610.01,1081.12 L609.49,1081.41 L608.94,1081.79 L608.38,1082.17 L607.84,1082.46 L607.32,1082.6 L606.84,1082.53 L606.41,1082.27 L606.03,1081.83 L605.68,1081.27 L605.35,1080.68 L605.02,1080.14 L604.66,1079.72 L604.25,1079.48 L603.78,1079.44 L603.26,1079.57 L602.68,1079.83 L602.09,1080.14 L601.49,1080.43 L600.92,1080.61 L600.41,1080.62 L599.97,1080.44 L599.6,1080.06 L599.29,1079.53 L599.03,1078.92 L598.78,1078.3 L598.51,1077.75 L598.18,1077.34 L597.78,1077.1 L597.3,1077.05 L596.74,1077.16 L596.13,1077.37 L595.49,1077.61 L594.88,1077.79 L594.31,1077.85 L593.83,1077.74 L593.44,1077.44 L593.15,1076.98 L592.94,1076.38 L592.76,1075.73 L592.59,1075.09 L592.37,1074.55 L592.07,1074.15 L591.67,1073.92 L591.17,1073.86 L590.58,1073.93 L589.93,1074.07 L589.27,1074.21 L588.65,1074.29 L588.11,1074.23 L587.68,1074.01 L587.38,1073.61 L587.18,1073.07 L587.06,1072.43 L586.98,1071.76 L586.87,1071.13 L586.7,1070.59 L586.42,1070.21 L586.02,1069.98 L585.49,1069.89 L584.87,1069.91 L584.2,1069.98 L583.54,1070.02 L582.94,1069.99 L582.45,1069.82 L582.09,1069.49 L581.88,1069.02 L581.79,1068.42 L581.77,1067.76 L581.77,1067.09 L581.73,1066.47 L581.6,1065.95 L581.32,1065.58 L580.91,1065.34 L580.36,1065.22 L579.72,1065.18 L579.04,1065.16 L578.39,1065.1 L577.84,1064.96 L577.42,1064.68 L577.16,1064.28 L577.05,1063.74 L577.07,1063.12 L577.15,1062.45 L577.23,1061.79 L577.24,1061.2 L577.13,1060.7 L576.86,1060.33 L576.43,1060.08 L575.86,1059.91 L575.21,1059.8 L574.55,1059.69 L573.94,1059.53 L573.44,1059.28 L573.12,1058.93 L572.97,1058.45 L572.97,1057.88 L573.1,1057.25 L573.27,1056.6 L573.42,1055.97 L573.47,1055.4 L573.37,1054.93 L573.1,1054.56 L572.65,1054.27 L572.08,1054.06 L571.43,1053.87 L570.8,1053.66 L570.25,1053.41 L569.84,1053.07 L569.62,1052.65 L569.59,1052.13 L569.71,1051.55 L569.94,1050.93 L570.2,1050.31 L570.4,1049.71 L570.48,1049.18 L570.38,1048.72 L570.1,1048.34 L569.65,1048.02 L569.08,1047.74 L568.46,1047.47 L567.87,1047.18 L567.4,1046.84 L567.1,1046.43 L566.99,1045.96 L567.08,1045.43 L567.32,1044.86 L567.64,1044.27 L567.97,1043.69 L568.21,1043.14 L568.31,1042.64 L568.21,1042.19 L567.92,1041.78 L567.47,1041.42 L566.92,1041.07 L566.34,1040.72 L565.82,1040.35 L565.45,1039.94 L565.26,1039.48 L565.28,1038.99 L565.49,1038.47 L565.83,1037.93 L566.24,1037.39 L566.62,1036.86 L566.89,1036.35 L566.99,1035.87 L566.89,1035.42 L566.6,1034.99 L566.16,1034.57 L565.64,1034.16 L565.12,1033.73 L564.69,1033.29 L564.43,1032.83 L564.37,1032.35 L564.51,1031.87 L564.83,1031.37 L565.27,1030.88 L565.74,1030.4 L566.16,1029.93 L566.45,1029.46 L566.55,1029 L566.45,1028.54 L566.16,1028.07 L565.74,1027.6 L565.27,1027.12 L564.83,1026.63 L564.51,1026.13 L564.37,1025.65 L564.43,1025.17 L564.69,1024.71 L565.12,1024.27 L565.64,1023.84 L566.16,1023.43 L566.6,1023.01 L566.89,1022.58 L566.99,1022.13 L566.89,1021.65 L566.62,1021.14 L566.24,1020.61 L565.83,1020.07 L565.49,1019.53 L565.28,1019.01 L565.26,1018.52 L565.45,1018.06 L565.82,1017.65 L566.34,1017.28 L566.92,1016.93 L567.47,1016.58 L567.92,1016.22 L568.21,1015.81 L568.31,1015.36 L568.21,1014.86 L567.97,1014.31 L567.64,1013.73 L567.32,1013.14 L567.08,1012.57 L566.99,1012.04 L567.1,1011.57 L567.4,1011.16 L567.87,1010.82 L568.46,1010.53 L569.08,1010.26 L569.65,1009.98 L570.1,1009.66 L570.38,1009.28 L570.48,1008.82 L570.4,1008.29 L570.2,1007.69 L569.94,1007.07 L569.71,1006.45 L569.59,1005.87 L569.62,1005.35 L569.84,1004.93 L570.25,1004.59 L570.8,1004.34 L571.43,1004.13 L572.08,1003.94 L572.65,1003.73 L573.1,1003.44 L573.37,1003.07 L573.47,1002.6 L573.42,1002.03 L573.27,1001.4 L573.1,1000.75 L572.97,1000.12 L572.97,999.55 L573.12,999.07 L573.44,998.72 L573.94,998.47 L574.55,998.31 L575.21,998.2 L575.86,998.09 L576.43,997.92 L576.86,997.67 L577.13,997.3 L577.24,996.8 L577.23,996.21 L577.15,995.55 L577.07,994.88 L577.05,994.26 L577.16,993.72 L577.42,993.32 L577.84,993.04 L578.39,992.9 L579.04,992.84 L579.72,992.82 L580.36,992.78 L580.91,992.66 L581.32,992.42 L581.6,992.05 L581.73,991.53 L581.77,990.91 L581.77,990.24 L581.79,989.58 L581.88,988.98 L582.09,988.51 L582.45,988.18 L582.94,988.01 L583.54,987.98 L584.2,988.02 L584.87,988.09 L585.49,988.11 L586.02,988.02 L586.42,987.79 L586.7,987.41 L586.87,986.87 L586.98,986.24 L587.06,985.57 L587.18,984.93 L587.38,984.39 L587.68,983.99 L588.11,983.77 L588.65,983.71 L589.27,983.79 L589.93,983.93 L590.58,984.07 L591.17,984.14 L591.67,984.08 L592.07,983.85 L592.37,983.45 L592.59,982.91 L592.76,982.27 L592.94,981.62 L593.15,981.02 L593.44,980.56 L593.83,980.26 L594.31,980.15 L594.88,980.21 L595.49,980.39 L596.13,980.63 L596.74,980.84 L597.3,980.95 L597.78,980.9 L598.18,980.66 L598.51,980.25 L598.78,979.7 L599.03,979.08 L599.29,978.47 L599.6,977.94 L599.97,977.56 L600.41,977.38 L600.92,977.39 L601.49,977.57 L602.09,977.86 L602.68,978.17 L603.26,978.43 L603.78,978.56 L604.25,978.52 L604.66,978.28 L605.02,977.86 L605.35,977.32 L605.68,976.73 L606.03,976.17 L606.41,975.73 L606.84,975.47 L607.32,975.4 L607.84,975.54 L608.38,975.83 L608.94,976.21 L609.49,976.59 L610.01,976.88 L610.5,977.03 L610.96,976.98 L611.39,976.74 L611.8,976.33 L612.2,975.81 L612.6,975.27 L613.02,974.79 L613.47,974.45 L613.93,974.3 L614.42,974.37 L614.92,974.62 L615.42,975.01 L615.93,975.47 L616.42,975.9 L616.9,976.22 L617.36,976.37 L617.82,976.32 L618.28,976.08 L618.73,975.68Z" fill="none" stroke="#55537a" stroke-width="1.1"/>
<path d="M619.2,975.2 L619.67,975.68 L620.12,976.08 L620.58,976.32 L621.04,976.37 L621.5,976.22 L621.98,975.9 L622.47,975.47 L622.98,975.01 L623.48,974.62 L623.98,974.37 L624.47,974.3 L624.93,974.45 L625.38,974.79 L625.8,975.27 L626.2,975.81 L626.6,976.33 L627.01,976.74 L627.44,976.98 L627.9,977.03 L628.39,976.88 L628.91,976.59 L629.46,976.21 L630.02,975.83 L630.56,975.54 L631.08,975.4 L631.56,975.47 L631.99,975.73 L632.37,976.17 L632.72,976.73 L633.05,977.32 L633.38,977.86 L633.74,978.28 L634.15,978.52 L634.62,978.56 L635.14,978.43 L635.72,978.17 L636.31,977.86 L636.91,977.57 L637.48,977.39 L637.99,977.38 L638.43,977.56 L638.8,977.94 L639.11,978.47 L639.37,979.08 L639.62,979.7 L639.89,980.25 L640.22,980.66 L640.62,980.9 L641.1,980.95 L641.66,980.84 L642.27,980.63 L642.91,980.39 L643.52,980.21 L644.09,980.15 L644.57,980.26 L644.96,980.56 L645.25,981.02 L645.46,981.62 L645.64,982.27 L645.81,982.91 L646.03,983.45 L646.33,983.85 L646.73,984.08 L647.23,984.14 L647.82,984.07 L648.47,983.93 L649.13,983.79 L649.75,983.71 L650.29,983.77 L650.72,983.99 L651.02,984.39 L651.22,984.93 L651.34,985.57 L651.42,986.24 L651.53,986.87 L651.7,987.41 L651.98,987.79 L652.38,988.02 L652.91,988.11 L653.53,988.09 L654.2,988.02 L654.86,987.98 L655.46,988.01 L655.95,988.18 L656.31,988.51 L656.52,988.98 L656.61,989.58 L656.63,990.24 L656.63,990.91 L656.67,991.53 L656.8,992.05 L657.08,992.42 L657.49,992.66 L658.04,992.78 L658.68,992.82 L659.36,992.84 L660.01,992.9 L660.56,993.04 L660.98,993.32 L661.24,993.72 L661.35,994.26 L661.33,994.88 L661.25,995.55 L661.17,996.21 L661.16,996.8 L661.27,997.3 L661.54,997.67 L661.97,997.92 L662.54,998.09 L663.19,998.2 L663.85,998.31 L664.46,998.47 L664.96,998.72 L665.28,999.07 L665.43,999.55 L665.43,1000.12 L665.3,1000.75 L665.13,1001.4 L664.98,1002.03 L664.93,1002.6 L665.03,1003.07 L665.3,1003.44 L665.75,1003.73 L666.32,1003.94 L666.97,1004.13 L667.6,1004.34 L668.15,1004.59 L668.56,1004.93 L668.78,1005.35 L668.81,1005.87 L668.69,1006.45 L668.46,1007.07 L668.2,1007.69 L668,1008.29 L667.92,1008.82 L668.02,1009.28 L668.3,1009.66 L668.75,1009.98 L669.32,1010.26 L669.94,1010.53 L670.53,1010.82 L671,1011.16 L671.3,1011.57 L671.41,1012.04 L671.32,1012.57 L671.08,1013.14 L670.76,1013.73 L670.43,1014.31 L670.19,1014.86 L670.09,1015.36 L670.19,1015.81 L670.48,1016.22 L670.93,1016.58 L671.48,1016.93 L672.06,1017.28 L672.58,1017.65 L672.95,1018.06 L673.14,1018.52 L673.12,1019.01 L672.91,1019.53 L672.57,1020.07 L672.16,1020.61 L671.78,1021.14 L671.51,1021.65 L671.41,1022.13 L671.51,1022.58 L671.8,1023.01 L672.24,1023.43 L672.76,1023.84 L673.28,1024.27 L673.71,1024.71 L673.97,1025.17 L674.03,1025.65 L673.89,1026.13 L673.57,1026.63 L673.13,1027.12 L672.66,1027.6 L672.24,1028.07 L671.95,1028.54 L671.85,1029 L671.95,1029.46 L672.24,1029.93 L672.66,1030.4 L673.13,1030.88 L673.57,1031.37 L673.89,1031.87 L674.03,1032.35 L673.97,1032.83 L673.71,1033.29 L673.28,1033.73 L672.76,1034.16 L672.24,1034.57 L671.8,1034.99 L671.51,1035.42 L671.41,1035.87 L671.51,1036.35 L671.78,1036.86 L672.16,1037.39 L672.57,1037.93 L672.91,1038.47 L673.12,1038.99 L673.14,1039.48 L672.95,1039.94 L672.58,1040.35 L672.06,1040.72 L671.48,1041.07 L670.93,1041.42 L670.48,1041.78 L670.19,1042.19 L670.09,1042.64 L670.19,1043.14 L670.43,1043.69 L670.76,1044.27 L671.08,1044.86 L671.32,1045.43 L671.41,1045.96 L671.3,1046.43 L671,1046.84 L670.53,1047.18 L669.94,1047.47 L669.32,1047.74 L668.75,1048.02 L668.3,1048.34 L668.02,1048.72 L667.92,1049.18 L668,1049.71 L668.2,1050.31 L668.46,1050.93 L668.69,1051.55 L668.81,1052.13 L668.78,1052.65 L668.56,1053.07 L668.15,1053.41 L667.6,1053.66 L666.97,1053.87 L666.32,1054.06 L665.75,1054.27 L665.3,1054.56 L665.03,1054.93 L664.93,1055.4 L664.98,1055.97 L665.13,1056.6 L665.3,1057.25 L665.43,1057.88 L665.43,1058.45 L665.28,1058.93 L664.96,1059.28 L664.46,1059.53 L663.85,1059.69 L663.19,1059.8 L662.54,1059.91 L661.97,1060.08 L661.54,1060.33 L661.27,1060.7 L661.16,1061.2 L661.17,1061.79 L661.25,1062.45 L661.33,1063.12 L661.35,1063.74 L661.24,1064.28 L660.98,1064.68 L660.56,1064.96 L660.01,1065.1 L659.36,1065.16 L658.68,1065.18 L658.04,1065.22 L657.49,1065.34 L657.08,1065.58 L656.8,1065.95 L656.67,1066.47 L656.63,1067.09 L656.63,1067.76 L656.61,1068.42 L656.52,1069.02 L656.31,1069.49 L655.95,1069.82 L655.46,1069.99 L654.86,1070.02 L654.2,1069.98 L653.53,1069.91 L652.91,1069.89 L652.38,1069.98 L651.98,1070.21 L651.7,1070.59 L651.53,1071.13 L651.42,1071.76 L651.34,1072.43 L651.22,1073.07 L651.02,1073.61 L650.72,1074.01 L650.29,1074.23 L649.75,1074.29 L649.13,1074.21 L648.47,1074.07 L647.82,1073.93 L647.23,1073.86 L646.73,1073.92 L646.33,1074.15 L646.03,1074.55 L645.81,1075.09 L645.64,1075.73 L645.46,1076.38 L645.25,1076.98 L644.96,1077.44 L644.57,1077.74 L644.09,1077.85 L643.52,1077.79 L642.91,1077.61 L642.27,1077.37 L641.66,1077.16 L641.1,1077.05 L640.62,1077.1 L640.22,1077.34 L639.89,1077.75 L639.62,1078.3 L639.37,1078.92 L639.11,1079.53 L638.8,1080.06 L638.43,1080.44 L637.99,1080.62 L637.48,1080.61 L636.91,1080.43 L636.31,1080.14 L635.72,1079.83 L635.14,1079.57 L634.62,1079.44 L634.15,1079.48 L633.74,1079.72 L633.38,1080.14 L633.05,1080.68 L632.72,1081.27 L632.37,1081.83 L631.99,1082.27 L631.56,1082.53 L631.08,1082.6 L630.56,1082.46 L630.02,1082.17 L629.46,1081.79 L628.91,1081.41 L628.39,1081.12 L627.9,1080.97 L627.44,1081.02 L627.01,1081.26 L626.6,1081.67 L626.2,1082.19 L625.8,1082.73 L625.38,1083.21 L624.93,1083.55 L624.47,1083.7 L623.98,1083.63 L623.48,1083.38 L622.98,1082.99 L622.47,1082.53 L621.98,1082.1 L621.5,1081.78 L621.04,1081.63 L620.58,1081.68 L620.12,1081.92 L619.67,1082.32 L619.2,1082.8 L618.73,1083.27 L618.25,1083.66 L617.76,1083.88 L617.28,1083.91 L616.81,1083.72 L616.35,1083.35 L615.91,1082.87 L615.47,1082.35 L615.04,1081.89 L614.6,1081.56 L614.15,1081.41 L613.69,1081.46 L613.2,1081.7 L612.68,1082.07 L612.16,1082.49 L611.63,1082.88 L611.11,1083.16 L610.61,1083.26 L610.14,1083.16 L609.7,1082.85 L609.31,1082.39 L608.93,1081.83 L608.57,1081.27 L608.19,1080.79 L607.79,1080.45 L607.35,1080.31 L606.87,1080.36 L606.34,1080.58 L605.78,1080.9 L605.2,1081.25 L604.63,1081.55 L604.09,1081.71 L603.59,1081.69 L603.16,1081.46 L602.79,1081.05 L602.47,1080.5 L602.17,1079.9 L601.88,1079.31 L601.56,1078.82 L601.19,1078.49 L600.75,1078.35 L600.24,1078.39 L599.67,1078.58 L599.06,1078.85 L598.44,1079.11 L597.85,1079.3 L597.31,1079.34 L596.85,1079.19 L596.48,1078.86 L596.18,1078.36 L595.95,1077.75 L595.74,1077.11 L595.51,1076.51 L595.24,1076.02 L594.89,1075.7 L594.44,1075.56 L593.91,1075.58 L593.3,1075.73 L592.65,1075.92 L592.01,1076.09 L591.42,1076.16 L590.91,1076.08 L590.51,1075.83 L590.21,1075.39 L590.01,1074.82 L589.87,1074.17 L589.74,1073.51 L589.58,1072.92 L589.34,1072.44 L589,1072.13 L588.54,1071.98 L587.97,1071.98 L587.33,1072.06 L586.67,1072.17 L586.02,1072.24 L585.45,1072.2 L584.99,1072 L584.67,1071.64 L584.47,1071.14 L584.37,1070.51 L584.32,1069.84 L584.27,1069.18 L584.16,1068.6 L583.95,1068.15 L583.61,1067.84 L583.13,1067.68 L582.54,1067.63 L581.88,1067.64 L581.21,1067.66 L580.58,1067.62 L580.06,1067.46 L579.67,1067.17 L579.44,1066.73 L579.35,1066.16 L579.35,1065.51 L579.4,1064.84 L579.42,1064.2 L579.36,1063.64 L579.16,1063.2 L578.81,1062.89 L578.32,1062.7 L577.71,1062.6 L577.04,1062.53 L576.38,1062.45 L575.79,1062.31 L575.34,1062.05 L575.05,1061.67 L574.92,1061.17 L574.94,1060.57 L575.05,1059.92 L575.18,1059.26 L575.26,1058.64 L575.23,1058.1 L575.04,1057.68 L574.69,1057.36 L574.18,1057.13 L573.56,1056.97 L572.9,1056.82 L572.27,1056.64 L571.75,1056.4 L571.38,1056.06 L571.19,1055.61 L571.19,1055.07 L571.32,1054.46 L571.52,1053.82 L571.73,1053.19 L571.86,1052.6 L571.85,1052.1 L571.66,1051.67 L571.29,1051.34 L570.78,1051.07 L570.16,1050.83 L569.53,1050.6 L568.95,1050.33 L568.51,1049.99 L568.25,1049.58 L568.19,1049.09 L568.3,1048.54 L568.54,1047.94 L568.83,1047.33 L569.1,1046.74 L569.26,1046.19 L569.26,1045.71 L569.07,1045.29 L568.7,1044.92 L568.18,1044.6 L567.59,1044.29 L567,1043.97 L566.5,1043.61 L566.16,1043.21 L566.02,1042.75 L566.07,1042.25 L566.3,1041.7 L566.64,1041.13 L567.01,1040.57 L567.33,1040.03 L567.51,1039.52 L567.52,1039.05 L567.32,1038.62 L566.95,1038.21 L566.44,1037.83 L565.88,1037.44 L565.36,1037.05 L564.96,1036.62 L564.73,1036.17 L564.71,1035.69 L564.89,1035.19 L565.23,1034.67 L565.66,1034.16 L566.09,1033.65 L566.44,1033.15 L566.63,1032.68 L566.64,1032.21 L566.44,1031.77 L566.07,1031.32 L565.59,1030.87 L565.09,1030.42 L564.65,1029.95 L564.36,1029.48 L564.25,1029 L564.36,1028.52 L564.65,1028.05 L565.09,1027.58 L565.59,1027.13 L566.07,1026.68 L566.44,1026.23 L566.64,1025.79 L566.63,1025.32 L566.44,1024.85 L566.09,1024.35 L565.66,1023.84 L565.23,1023.33 L564.89,1022.81 L564.71,1022.31 L564.73,1021.83 L564.96,1021.38 L565.36,1020.95 L565.88,1020.56 L566.44,1020.17 L566.95,1019.79 L567.32,1019.38 L567.52,1018.95 L567.51,1018.48 L567.33,1017.97 L567.01,1017.43 L566.64,1016.87 L566.3,1016.3 L566.07,1015.75 L566.02,1015.25 L566.16,1014.79 L566.5,1014.39 L567,1014.03 L567.59,1013.71 L568.18,1013.4 L568.7,1013.08 L569.07,1012.71 L569.26,1012.29 L569.26,1011.81 L569.1,1011.26 L568.83,1010.67 L568.54,1010.06 L568.3,1009.46 L568.19,1008.91 L568.25,1008.42 L568.51,1008.01 L568.95,1007.67 L569.53,1007.4 L570.16,1007.17 L570.78,1006.93 L571.29,1006.66 L571.66,1006.33 L571.85,1005.9 L571.86,1005.4 L571.73,1004.81 L571.52,1004.18 L571.32,1003.54 L571.19,1002.93 L571.19,1002.39 L571.38,1001.94 L571.75,1001.6 L572.27,1001.36 L572.9,1001.18 L573.56,1001.03 L574.18,1000.87 L574.69,1000.64 L575.04,1000.32 L575.23,999.9 L575.26,999.36 L575.18,998.74 L575.05,998.08 L574.94,997.43 L574.92,996.83 L575.05,996.33 L575.34,995.95 L575.79,995.69 L576.38,995.55 L577.04,995.47 L577.71,995.4 L578.32,995.3 L578.81,995.11 L579.16,994.8 L579.36,994.36 L579.42,993.8 L579.4,993.16 L579.35,992.49 L579.35,991.84 L579.44,991.27 L579.67,990.83 L580.06,990.54 L580.58,990.38 L581.21,990.34 L581.88,990.36 L582.54,990.37 L583.13,990.32 L583.61,990.16 L583.95,989.85 L584.16,989.4 L584.27,988.82 L584.32,988.16 L584.37,987.49 L584.47,986.86 L584.67,986.36 L584.99,986 L585.45,985.8 L586.02,985.76 L586.67,985.83 L587.33,985.94 L587.97,986.02 L588.54,986.02 L589,985.87 L589.34,985.56 L589.58,985.08 L589.74,984.49 L589.87,983.83 L590.01,983.18 L590.21,982.61 L590.51,982.17 L590.91,981.92 L591.42,981.84 L592.01,981.91 L592.65,982.08 L593.3,982.27 L593.91,982.42 L594.44,982.44 L594.89,982.3 L595.24,981.98 L595.51,981.49 L595.74,980.89 L595.95,980.25 L596.18,979.64 L596.48,979.14 L596.85,978.81 L597.31,978.66 L597.85,978.7 L598.44,978.89 L599.06,979.15 L599.67,979.42 L600.24,979.61 L600.75,979.65 L601.19,979.51 L601.56,979.18 L601.88,978.69 L602.17,978.1 L602.47,977.5 L602.79,976.95 L603.16,976.54 L603.59,976.31 L604.09,976.29 L604.63,976.45 L605.2,976.75 L605.78,977.1 L606.34,977.42 L606.87,977.64 L607.35,977.69 L607.79,977.55 L608.19,977.21 L608.57,976.73 L608.93,976.17 L609.31,975.61 L609.7,975.15 L610.14,974.84 L610.61,974.74 L611.11,974.84 L611.63,975.12 L612.16,975.51 L612.68,975.93 L613.2,976.3 L613.69,976.54 L614.15,976.59 L614.6,976.44 L615.04,976.11 L615.47,975.65 L615.91,975.13 L616.35,974.65 L616.81,974.28 L617.28,974.09 L617.76,974.12 L618.25,974.34 L618.73,974.73Z" fill="none" stroke="#55537a" stroke-width="1.1"/>
<circle cx="767.4" cy="1029" r="55" fill="#fff"/>
<path d="M767.4,975.2 L767.87,974.73 L768.35,974.34 L768.84,974.12 L769.32,974.09 L769.79,974.28 L770.25,974.65 L770.69,975.13 L771.13,975.65 L771.56,976.11 L772,976.44 L772.45,976.59 L772.91,976.54 L773.4,976.3 L773.92,975.93 L774.44,975.51 L774.97,975.12 L775.49,974.84 L775.99,974.74 L776.46,974.84 L776.9,975.15 L777.29,975.61 L777.67,976.17 L778.03,976.73 L778.41,977.21 L778.81,977.55 L779.25,977.69 L779.73,977.64 L780.26,977.42 L780.82,977.1 L781.4,976.75 L781.97,976.45 L782.51,976.29 L783.01,976.31 L783.44,976.54 L783.81,976.95 L784.13,977.5 L784.43,978.1 L784.72,978.69 L785.04,979.18 L785.41,979.51 L785.85,979.65 L786.36,979.61 L786.93,979.42 L787.54,979.15 L788.16,978.89 L788.75,978.7 L789.29,978.66 L789.75,978.81 L790.12,979.14 L790.42,979.64 L790.65,980.25 L790.86,980.89 L791.09,981.49 L791.36,981.98 L791.71,982.3 L792.16,982.44 L792.69,982.42 L793.3,982.27 L793.95,982.08 L794.59,981.91 L795.18,981.84 L795.69,981.92 L796.09,982.17 L796.39,982.61 L796.59,983.18 L796.73,983.83 L796.86,984.49 L797.02,985.08 L797.26,985.56 L797.6,985.87 L798.06,986.02 L798.63,986.02 L799.27,985.94 L799.93,985.83 L800.58,985.76 L801.15,985.8 L801.61,986 L801.93,986.36 L802.13,986.86 L802.23,987.49 L802.28,988.16 L802.33,988.82 L802.44,989.4 L802.65,989.85 L802.99,990.16 L803.47,990.32 L804.06,990.37 L804.72,990.36 L805.39,990.34 L806.02,990.38 L806.54,990.54 L806.93,990.83 L807.16,991.27 L807.25,991.84 L807.25,992.49 L807.2,993.16 L807.18,993.8 L807.24,994.36 L807.44,994.8 L807.79,995.11 L808.28,995.3 L808.89,995.4 L809.56,995.47 L810.22,995.55 L810.81,995.69 L811.26,995.95 L811.55,996.33 L811.68,996.83 L811.66,997.43 L811.55,998.08 L811.42,998.74 L811.34,999.36 L811.37,999.9 L811.56,1000.32 L811.91,1000.64 L812.42,1000.87 L813.04,1001.03 L813.7,1001.18 L814.33,1001.36 L814.85,1001.6 L815.22,1001.94 L815.41,1002.39 L815.41,1002.93 L815.28,1003.54 L815.08,1004.18 L814.87,1004.81 L814.74,1005.4 L814.75,1005.9 L814.94,1006.33 L815.31,1006.66 L815.82,1006.93 L816.44,1007.17 L817.07,1007.4 L817.65,1007.67 L818.09,1008.01 L818.35,1008.42 L818.41,1008.91 L818.3,1009.46 L818.06,1010.06 L817.77,1010.67 L817.5,1011.26 L817.34,1011.81 L817.34,1012.29 L817.53,1012.71 L817.9,1013.08 L818.42,1013.4 L819.01,1013.71 L819.6,1014.03 L820.1,1014.39 L820.44,1014.79 L820.58,1015.25 L820.53,1015.75 L820.3,1016.3 L819.96,1016.87 L819.59,1017.43 L819.27,1017.97 L819.09,1018.48 L819.08,1018.95 L819.28,1019.38 L819.65,1019.79 L820.16,1020.17 L820.72,1020.56 L821.24,1020.95 L821.64,1021.38 L821.87,1021.83 L821.89,1022.31 L821.71,1022.81 L821.37,1023.33 L820.94,1023.84 L820.51,1024.35 L820.16,1024.85 L819.97,1025.32 L819.96,1025.79 L820.16,1026.23 L820.53,1026.68 L821.01,1027.13 L821.51,1027.58 L821.95,1028.05 L822.24,1028.52 L822.35,1029 L822.24,1029.48 L821.95,1029.95 L821.51,1030.42 L821.01,1030.87 L820.53,1031.32 L820.16,1031.77 L819.96,1032.21 L819.97,1032.68 L820.16,1033.15 L820.51,1033.65 L820.94,1034.16 L821.37,1034.67 L821.71,1035.19 L821.89,1035.69 L821.87,1036.17 L821.64,1036.62 L821.24,1037.05 L820.72,1037.44 L820.16,1037.83 L819.65,1038.21 L819.28,1038.62 L819.08,1039.05 L819.09,1039.52 L819.27,1040.03 L819.59,1040.57 L819.96,1041.13 L820.3,1041.7 L820.53,1042.25 L820.58,1042.75 L820.44,1043.21 L820.1,1043.61 L819.6,1043.97 L819.01,1044.29 L818.42,1044.6 L817.9,1044.92 L817.53,1045.29 L817.34,1045.71 L817.34,1046.19 L817.5,1046.74 L817.77,1047.33 L818.06,1047.94 L818.3,1048.54 L818.41,1049.09 L818.35,1049.58 L818.09,1049.99 L817.65,1050.33 L817.07,1050.6 L816.44,1050.83 L815.82,1051.07 L815.31,1051.34 L814.94,1051.67 L814.75,1052.1 L814.74,1052.6 L814.87,1053.19 L815.08,1053.82 L815.28,1054.46 L815.41,1055.07 L815.41,1055.61 L815.22,1056.06 L814.85,1056.4 L814.33,1056.64 L813.7,1056.82 L813.04,1056.97 L812.42,1057.13 L811.91,1057.36 L811.56,1057.68 L811.37,1058.1 L811.34,1058.64 L811.42,1059.26 L811.55,1059.92 L811.66,1060.57 L811.68,1061.17 L811.55,1061.67 L811.26,1062.05 L810.81,1062.31 L810.22,1062.45 L809.56,1062.53 L808.89,1062.6 L808.28,1062.7 L807.79,1062.89 L807.44,1063.2 L807.24,1063.64 L807.18,1064.2 L807.2,1064.84 L807.25,1065.51 L807.25,1066.16 L807.16,1066.73 L806.93,1067.17 L806.54,1067.46 L806.02,1067.62 L805.39,1067.66 L804.72,1067.64 L804.06,1067.63 L803.47,1067.68 L802.99,1067.84 L802.65,1068.15 L802.44,1068.6 L802.33,1069.18 L802.28,1069.84 L802.23,1070.51 L802.13,1071.14 L801.93,1071.64 L801.61,1072 L801.15,1072.2 L800.58,1072.24 L799.93,1072.17 L799.27,1072.06 L798.63,1071.98 L798.06,1071.98 L797.6,1072.13 L797.26,1072.44 L797.02,1072.92 L796.86,1073.51 L796.73,1074.17 L796.59,1074.82 L796.39,1075.39 L796.09,1075.83 L795.69,1076.08 L795.18,1076.16 L794.59,1076.09 L793.95,1075.92 L793.3,1075.73 L792.69,1075.58 L792.16,1075.56 L791.71,1075.7 L791.36,1076.02 L791.09,1076.51 L790.86,1077.11 L790.65,1077.75 L790.42,1078.36 L790.12,1078.86 L789.75,1079.19 L789.29,1079.34 L788.75,1079.3 L788.16,1079.11 L787.54,1078.85 L786.93,1078.58 L786.36,1078.39 L785.85,1078.35 L785.41,1078.49 L785.04,1078.82 L784.72,1079.31 L784.43,1079.9 L784.13,1080.5 L783.81,1081.05 L783.44,1081.46 L783.01,1081.69 L782.51,1081.71 L781.97,1081.55 L781.4,1081.25 L780.82,1080.9 L780.26,1080.58 L779.73,1080.36 L779.25,1080.31 L778.81,1080.45 L778.41,1080.79 L778.03,1081.27 L777.67,1081.83 L777.29,1082.39 L776.9,1082.85 L776.46,1083.16 L775.99,1083.26 L775.49,1083.16 L774.97,1082.88 L774.44,1082.49 L773.92,1082.07 L773.4,1081.7 L772.91,1081.46 L772.45,1081.41 L772,1081.56 L771.56,1081.89 L771.13,1082.35 L770.69,1082.87 L770.25,1083.35 L769.79,1083.72 L769.32,1083.91 L768.84,1083.88 L768.35,1083.66 L767.87,1083.27 L767.4,1082.8 L766.93,1082.32 L766.48,1081.92 L766.02,1081.68 L765.56,1081.63 L765.1,1081.78 L764.62,1082.1 L764.13,1082.53 L763.62,1082.99 L763.12,1083.38 L762.62,1083.63 L762.13,1083.7 L761.67,1083.55 L761.22,1083.21 L760.8,1082.73 L760.4,1082.19 L760,1081.67 L759.59,1081.26 L759.16,1081.02 L758.7,1080.97 L758.21,1081.12 L757.69,1081.41 L757.14,1081.79 L756.58,1082.17 L756.04,1082.46 L755.52,1082.6 L755.04,1082.53 L754.61,1082.27 L754.23,1081.83 L753.88,1081.27 L753.55,1080.68 L753.22,1080.14 L752.86,1079.72 L752.45,1079.48 L751.98,1079.44 L751.46,1079.57 L750.88,1079.83 L750.29,1080.14 L749.69,1080.43 L749.12,1080.61 L748.61,1080.62 L748.17,1080.44 L747.8,1080.06 L747.49,1079.53 L747.23,1078.92 L746.98,1078.3 L746.71,1077.75 L746.38,1077.34 L745.98,1077.1 L745.5,1077.05 L744.94,1077.16 L744.33,1077.37 L743.69,1077.61 L743.08,1077.79 L742.51,1077.85 L742.03,1077.74 L741.64,1077.44 L741.35,1076.98 L741.14,1076.38 L740.96,1075.73 L740.79,1075.09 L740.57,1074.55 L740.27,1074.15 L739.87,1073.92 L739.37,1073.86 L738.78,1073.93 L738.13,1074.07 L737.47,1074.21 L736.85,1074.29 L736.31,1074.23 L735.88,1074.01 L735.58,1073.61 L735.38,1073.07 L735.26,1072.43 L735.18,1071.76 L735.07,1071.13 L734.9,1070.59 L734.62,1070.21 L734.22,1069.98 L733.69,1069.89 L733.07,1069.91 L732.4,1069.98 L731.74,1070.02 L731.14,1069.99 L730.65,1069.82 L730.29,1069.49 L730.08,1069.02 L729.99,1068.42 L729.97,1067.76 L729.97,1067.09 L729.93,1066.47 L729.8,1065.95 L729.52,1065.58 L729.11,1065.34 L728.56,1065.22 L727.92,1065.18 L727.24,1065.16 L726.59,1065.1 L726.04,1064.96 L725.62,1064.68 L725.36,1064.28 L725.25,1063.74 L725.27,1063.12 L725.35,1062.45 L725.43,1061.79 L725.44,1061.2 L725.33,1060.7 L725.06,1060.33 L724.63,1060.08 L724.06,1059.91 L723.41,1059.8 L722.75,1059.69 L722.14,1059.53 L721.64,1059.28 L721.32,1058.93 L721.17,1058.45 L721.17,1057.88 L721.3,1057.25 L721.47,1056.6 L721.62,1055.97 L721.67,1055.4 L721.57,1054.93 L721.3,1054.56 L720.85,1054.27 L720.28,1054.06 L719.63,1053.87 L719,1053.66 L718.45,1053.41 L718.04,1053.07 L717.82,1052.65 L717.79,1052.13 L717.91,1051.55 L718.14,1050.93 L718.4,1050.31 L718.6,1049.71 L718.68,1049.18 L718.58,1048.72 L718.3,1048.34 L717.85,1048.02 L717.28,1047.74 L716.66,1047.47 L716.07,1047.18 L715.6,1046.84 L715.3,1046.43 L715.19,1045.96 L715.28,1045.43 L715.52,1044.86 L715.84,1044.27 L716.17,1043.69 L716.41,1043.14 L716.51,1042.64 L716.41,1042.19 L716.12,1041.78 L715.67,1041.42 L715.12,1041.07 L714.54,1040.72 L714.02,1040.35 L713.65,1039.94 L713.46,1039.48 L713.48,1038.99 L713.69,1038.47 L714.03,1037.93 L714.44,1037.39 L714.82,1036.86 L715.09,1036.35 L715.19,1035.87 L715.09,1035.42 L714.8,1034.99 L714.36,1034.57 L713.84,1034.16 L713.32,1033.73 L712.89,1033.29 L712.63,1032.83 L712.57,1032.35 L712.71,1031.87 L713.03,1031.37 L713.47,1030.88 L713.94,1030.4 L714.36,1029.93 L714.65,1029.46 L714.75,1029 L714.65,1028.54 L714.36,1028.07 L713.94,1027.6 L713.47,1027.12 L713.03,1026.63 L712.71,1026.13 L712.57,1025.65 L712.63,1025.17 L712.89,1024.71 L713.32,1024.27 L713.84,1023.84 L714.36,1023.43 L714.8,1023.01 L715.09,1022.58 L715.19,1022.13 L715.09,1021.65 L714.82,1021.14 L714.44,1020.61 L714.03,1020.07 L713.69,1019.53 L713.48,1019.01 L713.46,1018.52 L713.65,1018.06 L714.02,1017.65 L714.54,1017.28 L715.12,1016.93 L715.67,1016.58 L716.12,1016.22 L716.41,1015.81 L716.51,1015.36 L716.41,1014.86 L716.17,1014.31 L715.84,1013.73 L715.52,1013.14 L715.28,1012.57 L715.19,1012.04 L715.3,1011.57 L715.6,1011.16 L716.07,1010.82 L716.66,1010.53 L717.28,1010.26 L717.85,1009.98 L718.3,1009.66 L718.58,1009.28 L718.68,1008.82 L718.6,1008.29 L718.4,1007.69 L718.14,1007.07 L717.91,1006.45 L717.79,1005.87 L717.82,1005.35 L718.04,1004.93 L718.45,1004.59 L719,1004.34 L719.63,1004.13 L720.28,1003.94 L720.85,1003.73 L721.3,1003.44 L721.57,1003.07 L721.67,1002.6 L721.62,1002.03 L721.47,1001.4 L721.3,1000.75 L721.17,1000.12 L721.17,999.55 L721.32,999.07 L721.64,998.72 L722.14,998.47 L722.75,998.31 L723.41,998.2 L724.06,998.09 L724.63,997.92 L725.06,997.67 L725.33,997.3 L725.44,996.8 L725.43,996.21 L725.35,995.55 L725.27,994.88 L725.25,994.26 L725.36,993.72 L725.62,993.32 L726.04,993.04 L726.59,992.9 L727.24,992.84 L727.92,992.82 L728.56,992.78 L729.11,992.66 L729.52,992.42 L729.8,992.05 L729.93,991.53 L729.97,990.91 L729.97,990.24 L729.99,989.58 L730.08,988.98 L730.29,988.51 L730.65,988.18 L731.14,988.01 L731.74,987.98 L732.4,988.02 L733.07,988.09 L733.69,988.11 L734.22,988.02 L734.62,987.79 L734.9,987.41 L735.07,986.87 L735.18,986.24 L735.26,985.57 L735.38,984.93 L735.58,984.39 L735.88,983.99 L736.31,983.77 L736.85,983.71 L737.47,983.79 L738.13,983.93 L738.78,984.07 L739.37,984.14 L739.87,984.08 L740.27,983.85 L740.57,983.45 L740.79,982.91 L740.96,982.27 L741.14,981.62 L741.35,981.02 L741.64,980.56 L742.03,980.26 L742.51,980.15 L743.08,980.21 L743.69,980.39 L744.33,980.63 L744.94,980.84 L745.5,980.95 L745.98,980.9 L746.38,980.66 L746.71,980.25 L746.98,979.7 L747.23,979.08 L747.49,978.47 L747.8,977.94 L748.17,977.56 L748.61,977.38 L749.12,977.39 L749.69,977.57 L750.29,977.86 L750.88,978.17 L751.46,978.43 L751.98,978.56 L752.45,978.52 L752.86,978.28 L753.22,977.86 L753.55,977.32 L753.88,976.73 L754.23,976.17 L754.61,975.73 L755.04,975.47 L755.52,975.4 L756.04,975.54 L756.58,975.83 L757.14,976.21 L757.69,976.59 L758.21,976.88 L758.7,977.03 L759.16,976.98 L759.59,976.74 L760,976.33 L760.4,975.81 L760.8,975.27 L761.22,974.79 L761.67,974.45 L762.13,974.3 L762.62,974.37 L763.12,974.62 L763.62,975.01 L764.13,975.47 L764.62,975.9 L765.1,976.22 L765.56,976.37 L766.02,976.32 L766.48,976.08 L766.93,975.68Z" fill="none" stroke="#55537a" stroke-width="1.1"/>
<path d="M767.4,975.2 L767.87,975.68 L768.32,976.08 L768.78,976.32 L769.24,976.37 L769.7,976.22 L770.18,975.9 L770.67,975.47 L771.18,975.01 L771.68,974.62 L772.18,974.37 L772.67,974.3 L773.13,974.45 L773.58,974.79 L774,975.27 L774.4,975.81 L774.8,976.33 L775.21,976.74 L775.64,976.98 L776.1,977.03 L776.59,976.88 L777.11,976.59 L777.66,976.21 L778.22,975.83 L778.76,975.54 L779.28,975.4 L779.76,975.47 L780.19,975.73 L780.57,976.17 L780.92,976.73 L781.25,977.32 L781.58,977.86 L781.94,978.28 L782.35,978.52 L782.82,978.56 L783.34,978.43 L783.92,978.17 L784.51,977.86 L785.11,977.57 L785.68,977.39 L786.19,977.38 L786.63,977.56 L787,977.94 L787.31,978.47 L787.57,979.08 L787.82,979.7 L788.09,980.25 L788.42,980.66 L788.82,980.9 L789.3,980.95 L789.86,980.84 L790.47,980.63 L791.11,980.39 L791.72,980.21 L792.29,980.15 L792.77,980.26 L793.16,980.56 L793.45,981.02 L793.66,981.62 L793.84,982.27 L794.01,982.91 L794.23,983.45 L794.53,983.85 L794.93,984.08 L795.43,984.14 L796.02,984.07 L796.67,983.93 L797.33,983.79 L797.95,983.71 L798.49,983.77 L798.92,983.99 L799.22,984.39 L799.42,984.93 L799.54,985.57 L799.62,986.24 L799.73,986.87 L799.9,987.41 L800.18,987.79 L800.58,988.02 L801.11,988.11 L801.73,988.09 L802.4,988.02 L803.06,987.98 L803.66,988.01 L804.15,988.18 L804.51,988.51 L804.72,988.98 L804.81,989.58 L804.83,990.24 L804.83,990.91 L804.87,991.53 L805,992.05 L805.28,992.42 L805.69,992.66 L806.24,992.78 L806.88,992.82 L807.56,992.84 L808.21,992.9 L808.76,993.04 L809.18,993.32 L809.44,993.72 L809.55,994.26 L809.53,994.88 L809.45,995.55 L809.37,996.21 L809.36,996.8 L809.47,997.3 L809.74,997.67 L810.17,997.92 L810.74,998.09 L811.39,998.2 L812.05,998.31 L812.66,998.47 L813.16,998.72 L813.48,999.07 L813.63,999.55 L813.63,1000.12 L813.5,1000.75 L813.33,1001.4 L813.18,1002.03 L813.13,1002.6 L813.23,1003.07 L813.5,1003.44 L813.95,1003.73 L814.52,1003.94 L815.17,1004.13 L815.8,1004.34 L816.35,1004.59 L816.76,1004.93 L816.98,1005.35 L817.01,1005.87 L816.89,1006.45 L816.66,1007.07 L816.4,1007.69 L816.2,1008.29 L816.12,1008.82 L816.22,1009.28 L816.5,1009.66 L816.95,1009.98 L817.52,1010.26 L818.14,1010.53 L818.73,1010.82 L819.2,1011.16 L819.5,1011.57 L819.61,1012.04 L819.52,1012.57 L819.28,1013.14 L818.96,1013.73 L818.63,1014.31 L818.39,1014.86 L818.29,1015.36 L818.39,1015.81 L818.68,1016.22 L819.13,1016.58 L819.68,1016.93 L820.26,1017.28 L820.78,1017.65 L821.15,1018.06 L821.34,1018.52 L821.32,1019.01 L821.11,1019.53 L820.77,1020.07 L820.36,1020.61 L819.98,1021.14 L819.71,1021.65 L819.61,1022.13 L819.71,1022.58 L820,1023.01 L820.44,1023.43 L820.96,1023.84 L821.48,1024.27 L821.91,1024.71 L822.17,1025.17 L822.23,1025.65 L822.09,1026.13 L821.77,1026.63 L821.33,1027.12 L820.86,1027.6 L820.44,1028.07 L820.15,1028.54 L820.05,1029 L820.15,1029.46 L820.44,1029.93 L820.86,1030.4 L821.33,1030.88 L821.77,1031.37 L822.09,1031.87 L822.23,1032.35 L822.17,1032.83 L821.91,1033.29 L821.48,1033.73 L820.96,1034.16 L820.44,1034.57 L820,1034.99 L819.71,1035.42 L819.61,1035.87 L819.71,1036.35 L819.98,1036.86 L820.36,1037.39 L820.77,1037.93 L821.11,1038.47 L821.32,1038.99 L821.34,1039.48 L821.15,1039.94 L820.78,1040.35 L820.26,1040.72 L819.68,1041.07 L819.13,1041.42 L818.68,1041.78 L818.39,1042.19 L818.29,1042.64 L818.39,1043.14 L818.63,1043.69 L818.96,1044.27 L819.28,1044.86 L819.52,1045.43 L819.61,1045.96 L819.5,1046.43 L819.2,1046.84 L818.73,1047.18 L818.14,1047.47 L817.52,1047.74 L816.95,1048.02 L816.5,1048.34 L816.22,1048.72 L816.12,1049.18 L816.2,1049.71 L816.4,1050.31 L816.66,1050.93 L816.89,1051.55 L817.01,1052.13 L816.98,1052.65 L816.76,1053.07 L816.35,1053.41 L815.8,1053.66 L815.17,1053.87 L814.52,1054.06 L813.95,1054.27 L813.5,1054.56 L813.23,1054.93 L813.13,1055.4 L813.18,1055.97 L813.33,1056.6 L813.5,1057.25 L813.63,1057.88 L813.63,1058.45 L813.48,1058.93 L813.16,1059.28 L812.66,1059.53 L812.05,1059.69 L811.39,1059.8 L810.74,1059.91 L810.17,1060.08 L809.74,1060.33 L809.47,1060.7 L809.36,1061.2 L809.37,1061.79 L809.45,1062.45 L809.53,1063.12 L809.55,1063.74 L809.44,1064.28 L809.18,1064.68 L808.76,1064.96 L808.21,1065.1 L807.56,1065.16 L806.88,1065.18 L806.24,1065.22 L805.69,1065.34 L805.28,1065.58 L805,1065.95 L804.87,1066.47 L804.83,1067.09 L804.83,1067.76 L804.81,1068.42 L804.72,1069.02 L804.51,1069.49 L804.15,1069.82 L803.66,1069.99 L803.06,1070.02 L802.4,1069.98 L801.73,1069.91 L801.11,1069.89 L800.58,1069.98 L800.18,1070.21 L799.9,1070.59 L799.73,1071.13 L799.62,1071.76 L799.54,1072.43 L799.42,1073.07 L799.22,1073.61 L798.92,1074.01 L798.49,1074.23 L797.95,1074.29 L797.33,1074.21 L796.67,1074.07 L796.02,1073.93 L795.43,1073.86 L794.93,1073.92 L794.53,1074.15 L794.23,1074.55 L794.01,1075.09 L793.84,1075.73 L793.66,1076.38 L793.45,1076.98 L793.16,1077.44 L792.77,1077.74 L792.29,1077.85 L791.72,1077.79 L791.11,1077.61 L790.47,1077.37 L789.86,1077.16 L789.3,1077.05 L788.82,1077.1 L788.42,1077.34 L788.09,1077.75 L787.82,1078.3 L787.57,1078.92 L787.31,1079.53 L787,1080.06 L786.63,1080.44 L786.19,1080.62 L785.68,1080.61 L785.11,1080.43 L784.51,1080.14 L783.92,1079.83 L783.34,1079.57 L782.82,1079.44 L782.35,1079.48 L781.94,1079.72 L781.58,1080.14 L781.25,1080.68 L780.92,1081.27 L780.57,1081.83 L780.19,1082.27 L779.76,1082.53 L779.28,1082.6 L778.76,1082.46 L778.22,1082.17 L777.66,1081.79 L777.11,1081.41 L776.59,1081.12 L776.1,1080.97 L775.64,1081.02 L775.21,1081.26 L774.8,1081.67 L774.4,1082.19 L774,1082.73 L773.58,1083.21 L773.13,1083.55 L772.67,1083.7 L772.18,1083.63 L771.68,1083.38 L771.18,1082.99 L770.67,1082.53 L770.18,1082.1 L769.7,1081.78 L769.24,1081.63 L768.78,1081.68 L768.32,1081.92 L767.87,1082.32 L767.4,1082.8 L766.93,1083.27 L766.45,1083.66 L765.96,1083.88 L765.48,1083.91 L765.01,1083.72 L764.55,1083.35 L764.11,1082.87 L763.67,1082.35 L763.24,1081.89 L762.8,1081.56 L762.35,1081.41 L761.89,1081.46 L761.4,1081.7 L760.88,1082.07 L760.36,1082.49 L759.83,1082.88 L759.31,1083.16 L758.81,1083.26 L758.34,1083.16 L757.9,1082.85 L757.51,1082.39 L757.13,1081.83 L756.77,1081.27 L756.39,1080.79 L755.99,1080.45 L755.55,1080.31 L755.07,1080.36 L754.54,1080.58 L753.98,1080.9 L753.4,1081.25 L752.83,1081.55 L752.29,1081.71 L751.79,1081.69 L751.36,1081.46 L750.99,1081.05 L750.67,1080.5 L750.37,1079.9 L750.08,1079.31 L749.76,1078.82 L749.39,1078.49 L748.95,1078.35 L748.44,1078.39 L747.87,1078.58 L747.26,1078.85 L746.64,1079.11 L746.05,1079.3 L745.51,1079.34 L745.05,1079.19 L744.68,1078.86 L744.38,1078.36 L744.15,1077.75 L743.94,1077.11 L743.71,1076.51 L743.44,1076.02 L743.09,1075.7 L742.64,1075.56 L742.11,1075.58 L741.5,1075.73 L740.85,1075.92 L740.21,1076.09 L739.62,1076.16 L739.11,1076.08 L738.71,1075.83 L738.41,1075.39 L738.21,1074.82 L738.07,1074.17 L737.94,1073.51 L737.78,1072.92 L737.54,1072.44 L737.2,1072.13 L736.74,1071.98 L736.17,1071.98 L735.53,1072.06 L734.87,1072.17 L734.22,1072.24 L733.65,1072.2 L733.19,1072 L732.87,1071.64 L732.67,1071.14 L732.57,1070.51 L732.52,1069.84 L732.47,1069.18 L732.36,1068.6 L732.15,1068.15 L731.81,1067.84 L731.33,1067.68 L730.74,1067.63 L730.08,1067.64 L729.41,1067.66 L728.78,1067.62 L728.26,1067.46 L727.87,1067.17 L727.64,1066.73 L727.55,1066.16 L727.55,1065.51 L727.6,1064.84 L727.62,1064.2 L727.56,1063.64 L727.36,1063.2 L727.01,1062.89 L726.52,1062.7 L725.91,1062.6 L725.24,1062.53 L724.58,1062.45 L723.99,1062.31 L723.54,1062.05 L723.25,1061.67 L723.12,1061.17 L723.14,1060.57 L723.25,1059.92 L723.38,1059.26 L723.46,1058.64 L723.43,1058.1 L723.24,1057.68 L722.89,1057.36 L722.38,1057.13 L721.76,1056.97 L721.1,1056.82 L720.47,1056.64 L719.95,1056.4 L719.58,1056.06 L719.39,1055.61 L719.39,1055.07 L719.52,1054.46 L719.72,1053.82 L719.93,1053.19 L720.06,1052.6 L720.05,1052.1 L719.86,1051.67 L719.49,1051.34 L718.98,1051.07 L718.36,1050.83 L717.73,1050.6 L717.15,1050.33 L716.71,1049.99 L716.45,1049.58 L716.39,1049.09 L716.5,1048.54 L716.74,1047.94 L717.03,1047.33 L717.3,1046.74 L717.46,1046.19 L717.46,1045.71 L717.27,1045.29 L716.9,1044.92 L716.38,1044.6 L715.79,1044.29 L715.2,1043.97 L714.7,1043.61 L714.36,1043.21 L714.22,1042.75 L714.27,1042.25 L714.5,1041.7 L714.84,1041.13 L715.21,1040.57 L715.53,1040.03 L715.71,1039.52 L715.72,1039.05 L715.52,1038.62 L715.15,1038.21 L714.64,1037.83 L714.08,1037.44 L713.56,1037.05 L713.16,1036.62 L712.93,1036.17 L712.91,1035.69 L713.09,1035.19 L713.43,1034.67 L713.86,1034.16 L714.29,1033.65 L714.64,1033.15 L714.83,1032.68 L714.84,1032.21 L714.64,1031.77 L714.27,1031.32 L713.79,1030.87 L713.29,1030.42 L712.85,1029.95 L712.56,1029.48 L712.45,1029 L712.56,1028.52 L712.85,1028.05 L713.29,1027.58 L713.79,1027.13 L714.27,1026.68 L714.64,1026.23 L714.84,1025.79 L714.83,1025.32 L714.64,1024.85 L714.29,1024.35 L713.86,1023.84 L713.43,1023.33 L713.09,1022.81 L712.91,1022.31 L712.93,1021.83 L713.16,1021.38 L713.56,1020.95 L714.08,1020.56 L714.64,1020.17 L715.15,1019.79 L715.52,1019.38 L715.72,1018.95 L715.71,1018.48 L715.53,1017.97 L715.21,1017.43 L714.84,1016.87 L714.5,1016.3 L714.27,1015.75 L714.22,1015.25 L714.36,1014.79 L714.7,1014.39 L715.2,1014.03 L715.79,1013.71 L716.38,1013.4 L716.9,1013.08 L717.27,1012.71 L717.46,1012.29 L717.46,1011.81 L717.3,1011.26 L717.03,1010.67 L716.74,1010.06 L716.5,1009.46 L716.39,1008.91 L716.45,1008.42 L716.71,1008.01 L717.15,1007.67 L717.73,1007.4 L718.36,1007.17 L718.98,1006.93 L719.49,1006.66 L719.86,1006.33 L720.05,1005.9 L720.06,1005.4 L719.93,1004.81 L719.72,1004.18 L719.52,1003.54 L719.39,1002.93 L719.39,1002.39 L719.58,1001.94 L719.95,1001.6 L720.47,1001.36 L721.1,1001.18 L721.76,1001.03 L722.38,1000.87 L722.89,1000.64 L723.24,1000.32 L723.43,999.9 L723.46,999.36 L723.38,998.74 L723.25,998.08 L723.14,997.43 L723.12,996.83 L723.25,996.33 L723.54,995.95 L723.99,995.69 L724.58,995.55 L725.24,995.47 L725.91,995.4 L726.52,995.3 L727.01,995.11 L727.36,994.8 L727.56,994.36 L727.62,993.8 L727.6,993.16 L727.55,992.49 L727.55,991.84 L727.64,991.27 L727.87,990.83 L728.26,990.54 L728.78,990.38 L729.41,990.34 L730.08,990.36 L730.74,990.37 L731.33,990.32 L731.81,990.16 L732.15,989.85 L732.36,989.4 L732.47,988.82 L732.52,988.16 L732.57,987.49 L732.67,986.86 L732.87,986.36 L733.19,986 L733.65,985.8 L734.22,985.76 L734.87,985.83 L735.53,985.94 L736.17,986.02 L736.74,986.02 L737.2,985.87 L737.54,985.56 L737.78,985.08 L737.94,984.49 L738.07,983.83 L738.21,983.18 L738.41,982.61 L738.71,982.17 L739.11,981.92 L739.62,981.84 L740.21,981.91 L740.85,982.08 L741.5,982.27 L742.11,982.42 L742.64,982.44 L743.09,982.3 L743.44,981.98 L743.71,981.49 L743.94,980.89 L744.15,980.25 L744.38,979.64 L744.68,979.14 L745.05,978.81 L745.51,978.66 L746.05,978.7 L746.64,978.89 L747.26,979.15 L747.87,979.42 L748.44,979.61 L748.95,979.65 L749.39,979.51 L749.76,979.18 L750.08,978.69 L750.37,978.1 L750.67,977.5 L750.99,976.95 L751.36,976.54 L751.79,976.31 L752.29,976.29 L752.83,976.45 L753.4,976.75 L753.98,977.1 L754.54,977.42 L755.07,977.64 L755.55,977.69 L755.99,977.55 L756.39,977.21 L756.77,976.73 L757.13,976.17 L757.51,975.61 L757.9,975.15 L758.34,974.84 L758.81,974.74 L759.31,974.84 L759.83,975.12 L760.36,975.51 L760.88,975.93 L761.4,976.3 L761.89,976.54 L762.35,976.59 L762.8,976.44 L763.24,976.11 L763.67,975.65 L764.11,975.13 L764.55,974.65 L765.01,974.28 L765.48,974.09 L765.96,974.12 L766.45,974.34 L766.93,974.73Z" fill="none" stroke="#55537a" stroke-width="1.1"/>
<path d="M470.9,1233.2 L471.32,1233.21 L471.74,1233.23 L472.17,1233.26 L472.59,1233.31 L473.01,1233.38 L473.42,1233.46 L473.84,1233.55 L474.25,1233.66 L474.66,1233.78 L475.07,1233.92 L475.48,1234.08 L475.88,1234.25 L476.27,1234.45 L476.66,1234.66 L477.05,1234.9 L477.43,1235.17 L477.79,1235.47 L478.15,1235.83 L478.48,1236.28 L478.71,1237.28 L479.27,1236.42 L479.74,1236.11 L480.2,1235.89 L480.65,1235.73 L481.1,1235.61 L481.54,1235.52 L481.98,1235.45 L482.42,1235.41 L482.85,1235.38 L483.29,1235.37 L483.72,1235.38 L484.15,1235.4 L484.57,1235.44 L485,1235.5 L485.41,1235.57 L485.83,1235.65 L486.24,1235.75 L486.65,1235.86 L487.05,1235.98 L487.45,1236.12 L487.85,1236.27 L488.24,1236.43 L488.62,1236.61 L489,1236.8 L489.37,1237.01 L489.74,1237.22 L490.1,1237.45 L490.45,1237.7 L490.79,1237.95 L491.13,1238.22 L491.45,1238.51 L491.77,1238.81 L492.08,1239.13 L492.37,1239.46 L492.65,1239.82 L492.91,1240.2 L493.16,1240.61 L493.37,1241.07 L493.53,1241.61 L493.4,1242.63 L494.22,1242.01 L494.77,1241.87 L495.27,1241.83 L495.75,1241.83 L496.21,1241.87 L496.66,1241.94 L497.09,1242.03 L497.52,1242.13 L497.94,1242.26 L498.35,1242.4 L498.75,1242.55 L499.15,1242.72 L499.53,1242.9 L499.91,1243.1 L500.28,1243.31 L500.65,1243.53 L501,1243.76 L501.35,1244 L501.68,1244.26 L502.01,1244.52 L502.33,1244.8 L502.64,1245.09 L502.94,1245.39 L503.23,1245.69 L503.51,1246.01 L503.78,1246.34 L504.04,1246.68 L504.28,1247.03 L504.52,1247.39 L504.74,1247.76 L504.95,1248.14 L505.15,1248.53 L505.32,1248.93 L505.49,1249.35 L505.63,1249.78 L505.75,1250.22 L505.83,1250.69 L505.88,1251.2 L505.84,1251.76 L505.37,1252.67 L506.36,1252.37 L506.92,1252.43 L507.4,1252.56 L507.85,1252.73 L508.27,1252.93 L508.67,1253.14 L509.05,1253.37 L509.41,1253.62 L509.77,1253.88 L510.1,1254.15 L510.43,1254.43 L510.74,1254.73 L511.04,1255.03 L511.33,1255.34 L511.61,1255.67 L511.87,1256 L512.13,1256.34 L512.37,1256.68 L512.6,1257.04 L512.82,1257.4 L513.02,1257.77 L513.21,1258.15 L513.39,1258.53 L513.56,1258.92 L513.71,1259.31 L513.85,1259.71 L513.98,1260.12 L514.09,1260.53 L514.19,1260.95 L514.28,1261.37 L514.34,1261.8 L514.39,1262.24 L514.42,1262.68 L514.43,1263.12 L514.42,1263.57 L514.38,1264.03 L514.3,1264.51 L514.17,1264.99 L513.94,1265.51 L513.19,1266.21 L514.22,1266.26 L514.72,1266.51 L515.13,1266.8 L515.5,1267.11 L515.82,1267.44 L516.12,1267.77 L516.4,1268.12 L516.66,1268.48 L516.9,1268.84 L517.13,1269.21 L517.34,1269.59 L517.53,1269.97 L517.71,1270.36 L517.87,1270.76 L518.02,1271.15 L518.16,1271.55 L518.28,1271.96 L518.39,1272.37 L518.48,1272.78 L518.56,1273.2 L518.63,1273.61 L518.68,1274.03 L518.72,1274.45 L518.75,1274.88 L518.76,1275.3 L518.75,1275.72 L518.73,1276.15 L518.69,1276.58 L518.64,1277 L518.58,1277.43 L518.49,1277.85 L518.39,1278.28 L518.27,1278.7 L518.13,1279.12 L517.96,1279.55 L517.76,1279.96 L517.53,1280.38 L517.24,1280.79 L516.85,1281.2 L515.9,1281.6 L516.85,1282 L517.24,1282.41 L517.53,1282.82 L517.76,1283.24 L517.96,1283.65 L518.13,1284.08 L518.27,1284.5 L518.39,1284.92 L518.49,1285.35 L518.58,1285.77 L518.64,1286.2 L518.69,1286.62 L518.73,1287.05 L518.75,1287.48 L518.76,1287.9 L518.75,1288.32 L518.72,1288.75 L518.68,1289.17 L518.63,1289.59 L518.56,1290 L518.48,1290.42 L518.39,1290.83 L518.28,1291.24 L518.16,1291.65 L518.02,1292.05 L517.87,1292.44 L517.71,1292.84 L517.53,1293.23 L517.34,1293.61 L517.13,1293.99 L516.9,1294.36 L516.66,1294.72 L516.4,1295.08 L516.12,1295.43 L515.82,1295.76 L515.5,1296.09 L515.13,1296.4 L514.72,1296.69 L514.22,1296.94 L513.19,1296.99 L513.94,1297.69 L514.17,1298.21 L514.3,1298.69 L514.38,1299.17 L514.42,1299.63 L514.43,1300.08 L514.42,1300.52 L514.39,1300.96 L514.34,1301.4 L514.28,1301.83 L514.19,1302.25 L514.09,1302.67 L513.98,1303.08 L513.85,1303.49 L513.71,1303.89 L513.56,1304.28 L513.39,1304.67 L513.21,1305.05 L513.02,1305.43 L512.82,1305.8 L512.6,1306.16 L512.37,1306.52 L512.13,1306.86 L511.87,1307.2 L511.61,1307.53 L511.33,1307.86 L511.04,1308.17 L510.74,1308.47 L510.43,1308.77 L510.1,1309.05 L509.77,1309.32 L509.41,1309.58 L509.05,1309.83 L508.67,1310.06 L508.27,1310.27 L507.85,1310.47 L507.4,1310.64 L506.92,1310.77 L506.36,1310.83 L505.37,1310.53 L505.84,1311.44 L505.88,1312 L505.83,1312.51 L505.75,1312.98 L505.63,1313.42 L505.49,1313.85 L505.32,1314.27 L505.15,1314.67 L504.95,1315.06 L504.74,1315.44 L504.52,1315.81 L504.28,1316.17 L504.04,1316.52 L503.78,1316.86 L503.51,1317.19 L503.23,1317.51 L502.94,1317.81 L502.64,1318.11 L502.33,1318.4 L502.01,1318.68 L501.68,1318.94 L501.35,1319.2 L501,1319.44 L500.65,1319.67 L500.28,1319.89 L499.91,1320.1 L499.53,1320.3 L499.15,1320.48 L498.75,1320.65 L498.35,1320.8 L497.94,1320.94 L497.52,1321.07 L497.09,1321.17 L496.66,1321.26 L496.21,1321.33 L495.75,1321.37 L495.27,1321.37 L494.77,1321.33 L494.22,1321.19 L493.4,1320.57 L493.53,1321.59 L493.37,1322.13 L493.16,1322.59 L492.91,1323 L492.65,1323.38 L492.37,1323.74 L492.08,1324.07 L491.77,1324.39 L491.45,1324.69 L491.13,1324.98 L490.79,1325.25 L490.45,1325.5 L490.1,1325.75 L489.74,1325.98 L489.37,1326.19 L489,1326.4 L488.62,1326.59 L488.24,1326.77 L487.85,1326.93 L487.45,1327.08 L487.05,1327.22 L486.65,1327.34 L486.24,1327.45 L485.83,1327.55 L485.41,1327.63 L485,1327.7 L484.57,1327.76 L484.15,1327.8 L483.72,1327.82 L483.29,1327.83 L482.85,1327.82 L482.42,1327.79 L481.98,1327.75 L481.54,1327.68 L481.1,1327.59 L480.65,1327.47 L480.2,1327.31 L479.74,1327.09 L479.27,1326.78 L478.71,1325.92 L478.48,1326.92 L478.15,1327.37 L477.79,1327.73 L477.43,1328.03 L477.05,1328.3 L476.66,1328.54 L476.27,1328.75 L475.88,1328.95 L475.48,1329.12 L475.07,1329.28 L474.66,1329.42 L474.25,1329.54 L473.84,1329.65 L473.42,1329.74 L473.01,1329.82 L472.59,1329.89 L472.17,1329.94 L471.74,1329.97 L471.32,1329.99 L470.9,1330 L470.48,1329.99 L470.06,1329.97 L469.63,1329.94 L469.21,1329.89 L468.79,1329.82 L468.38,1329.74 L467.96,1329.65 L467.55,1329.54 L467.14,1329.42 L466.73,1329.28 L466.32,1329.12 L465.92,1328.95 L465.53,1328.75 L465.14,1328.54 L464.75,1328.3 L464.37,1328.03 L464.01,1327.73 L463.65,1327.37 L463.32,1326.92 L463.09,1325.92 L462.53,1326.78 L462.06,1327.09 L461.6,1327.31 L461.15,1327.47 L460.7,1327.59 L460.26,1327.68 L459.82,1327.75 L459.38,1327.79 L458.95,1327.82 L458.51,1327.83 L458.08,1327.82 L457.65,1327.8 L457.23,1327.76 L456.8,1327.7 L456.39,1327.63 L455.97,1327.55 L455.56,1327.45 L455.15,1327.34 L454.75,1327.22 L454.35,1327.08 L453.95,1326.93 L453.56,1326.77 L453.18,1326.59 L452.8,1326.4 L452.43,1326.19 L452.06,1325.98 L451.7,1325.75 L451.35,1325.5 L451.01,1325.25 L450.67,1324.98 L450.35,1324.69 L450.03,1324.39 L449.72,1324.07 L449.43,1323.74 L449.15,1323.38 L448.89,1323 L448.64,1322.59 L448.43,1322.13 L448.27,1321.59 L448.4,1320.57 L447.58,1321.19 L447.03,1321.33 L446.53,1321.37 L446.05,1321.37 L445.59,1321.33 L445.14,1321.26 L444.71,1321.17 L444.28,1321.07 L443.86,1320.94 L443.45,1320.8 L443.05,1320.65 L442.65,1320.48 L442.27,1320.3 L441.89,1320.1 L441.52,1319.89 L441.15,1319.67 L440.8,1319.44 L440.45,1319.2 L440.12,1318.94 L439.79,1318.68 L439.47,1318.4 L439.16,1318.11 L438.86,1317.81 L438.57,1317.51 L438.29,1317.19 L438.02,1316.86 L437.76,1316.52 L437.52,1316.17 L437.28,1315.81 L437.06,1315.44 L436.85,1315.06 L436.65,1314.67 L436.48,1314.27 L436.31,1313.85 L436.17,1313.42 L436.05,1312.98 L435.97,1312.51 L435.92,1312 L435.96,1311.44 L436.43,1310.53 L435.44,1310.83 L434.88,1310.77 L434.4,1310.64 L433.95,1310.47 L433.53,1310.27 L433.13,1310.06 L432.75,1309.83 L432.39,1309.58 L432.03,1309.32 L431.7,1309.05 L431.37,1308.77 L431.06,1308.47 L430.76,1308.17 L430.47,1307.86 L430.19,1307.53 L429.93,1307.2 L429.67,1306.86 L429.43,1306.52 L429.2,1306.16 L428.98,1305.8 L428.78,1305.43 L428.59,1305.05 L428.41,1304.67 L428.24,1304.28 L428.09,1303.89 L427.95,1303.49 L427.82,1303.08 L427.71,1302.67 L427.61,1302.25 L427.52,1301.83 L427.46,1301.4 L427.41,1300.96 L427.38,1300.52 L427.37,1300.08 L427.38,1299.63 L427.42,1299.17 L427.5,1298.69 L427.63,1298.21 L427.86,1297.69 L428.61,1296.99 L427.58,1296.94 L427.08,1296.69 L426.67,1296.4 L426.3,1296.09 L425.98,1295.76 L425.68,1295.43 L425.4,1295.08 L425.14,1294.72 L424.9,1294.36 L424.67,1293.99 L424.46,1293.61 L424.27,1293.23 L424.09,1292.84 L423.93,1292.44 L423.78,1292.05 L423.64,1291.65 L423.52,1291.24 L423.41,1290.83 L423.32,1290.42 L423.24,1290 L423.17,1289.59 L423.12,1289.17 L423.08,1288.75 L423.05,1288.32 L423.04,1287.9 L423.05,1287.48 L423.07,1287.05 L423.11,1286.62 L423.16,1286.2 L423.22,1285.77 L423.31,1285.35 L423.41,1284.92 L423.53,1284.5 L423.67,1284.08 L423.84,1283.65 L424.04,1283.24 L424.27,1282.82 L424.56,1282.41 L424.95,1282 L425.9,1281.6 L424.95,1281.2 L424.56,1280.79 L424.27,1280.38 L424.04,1279.96 L423.84,1279.55 L423.67,1279.12 L423.53,1278.7 L423.41,1278.28 L423.31,1277.85 L423.22,1277.43 L423.16,1277 L423.11,1276.58 L423.07,1276.15 L423.05,1275.72 L423.04,1275.3 L423.05,1274.88 L423.08,1274.45 L423.12,1274.03 L423.17,1273.61 L423.24,1273.2 L423.32,1272.78 L423.41,1272.37 L423.52,1271.96 L423.64,1271.55 L423.78,1271.15 L423.93,1270.76 L424.09,1270.36 L424.27,1269.97 L424.46,1269.59 L424.67,1269.21 L424.9,1268.84 L425.14,1268.48 L425.4,1268.12 L425.68,1267.77 L425.98,1267.44 L426.3,1267.11 L426.67,1266.8 L427.08,1266.51 L427.58,1266.26 L428.61,1266.21 L427.86,1265.51 L427.63,1264.99 L427.5,1264.51 L427.42,1264.03 L427.38,1263.57 L427.37,1263.12 L427.38,1262.68 L427.41,1262.24 L427.46,1261.8 L427.52,1261.37 L427.61,1260.95 L427.71,1260.53 L427.82,1260.12 L427.95,1259.71 L428.09,1259.31 L428.24,1258.92 L428.41,1258.53 L428.59,1258.15 L428.78,1257.77 L428.98,1257.4 L429.2,1257.04 L429.43,1256.68 L429.67,1256.34 L429.93,1256 L430.19,1255.67 L430.47,1255.34 L430.76,1255.03 L431.06,1254.73 L431.37,1254.43 L431.7,1254.15 L432.03,1253.88 L432.39,1253.62 L432.75,1253.37 L433.13,1253.14 L433.53,1252.93 L433.95,1252.73 L434.4,1252.56 L434.88,1252.43 L435.44,1252.37 L436.43,1252.67 L435.96,1251.76 L435.92,1251.2 L435.97,1250.69 L436.05,1250.22 L436.17,1249.78 L436.31,1249.35 L436.48,1248.93 L436.65,1248.53 L436.85,1248.14 L437.06,1247.76 L437.28,1247.39 L437.52,1247.03 L437.76,1246.68 L438.02,1246.34 L438.29,1246.01 L438.57,1245.69 L438.86,1245.39 L439.16,1245.09 L439.47,1244.8 L439.79,1244.52 L440.12,1244.26 L440.45,1244 L440.8,1243.76 L441.15,1243.53 L441.52,1243.31 L441.89,1243.1 L442.27,1242.9 L442.65,1242.72 L443.05,1242.55 L443.45,1242.4 L443.86,1242.26 L444.28,1242.13 L444.71,1242.03 L445.14,1241.94 L445.59,1241.87 L446.05,1241.83 L446.53,1241.83 L447.03,1241.87 L447.58,1242.01 L448.4,1242.63 L448.27,1241.61 L448.43,1241.07 L448.64,1240.61 L448.89,1240.2 L449.15,1239.82 L449.43,1239.46 L449.72,1239.13 L450.03,1238.81 L450.35,1238.51 L450.67,1238.22 L451.01,1237.95 L451.35,1237.7 L451.7,1237.45 L452.06,1237.22 L452.43,1237.01 L452.8,1236.8 L453.18,1236.61 L453.56,1236.43 L453.95,1236.27 L454.35,1236.12 L454.75,1235.98 L455.15,1235.86 L455.56,1235.75 L455.97,1235.65 L456.39,1235.57 L456.8,1235.5 L457.23,1235.44 L457.65,1235.4 L458.08,1235.38 L458.51,1235.37 L458.95,1235.38 L459.38,1235.41 L459.82,1235.45 L460.26,1235.52 L460.7,1235.61 L461.15,1235.73 L461.6,1235.89 L462.06,1236.11 L462.53,1236.42 L463.09,1237.28 L463.32,1236.28 L463.65,1235.83 L464.01,1235.47 L464.37,1235.17 L464.75,1234.9 L465.14,1234.66 L465.53,1234.45 L465.92,1234.25 L466.32,1234.08 L466.73,1233.92 L467.14,1233.78 L467.55,1233.66 L467.96,1233.55 L468.38,1233.46 L468.79,1233.38 L469.21,1233.31 L469.63,1233.26 L470.06,1233.23 L470.48,1233.21Z" fill="#fff" stroke="#33b0d8" stroke-width="1.15"/>
<path d="M620.6,1233.2 L621.02,1233.21 L621.44,1233.23 L621.87,1233.26 L622.29,1233.31 L622.71,1233.38 L623.12,1233.46 L623.54,1233.55 L623.95,1233.66 L624.36,1233.78 L624.77,1233.92 L625.18,1234.08 L625.58,1234.25 L625.97,1234.45 L626.36,1234.66 L626.75,1234.9 L627.13,1235.17 L627.49,1235.47 L627.85,1235.83 L628.18,1236.28 L628.41,1237.28 L628.97,1236.42 L629.44,1236.11 L629.9,1235.89 L630.35,1235.73 L630.8,1235.61 L631.24,1235.52 L631.68,1235.45 L632.12,1235.41 L632.55,1235.38 L632.99,1235.37 L633.42,1235.38 L633.85,1235.4 L634.27,1235.44 L634.7,1235.5 L635.11,1235.57 L635.53,1235.65 L635.94,1235.75 L636.35,1235.86 L636.75,1235.98 L637.15,1236.12 L637.55,1236.27 L637.94,1236.43 L638.32,1236.61 L638.7,1236.8 L639.07,1237.01 L639.44,1237.22 L639.8,1237.45 L640.15,1237.7 L640.49,1237.95 L640.83,1238.22 L641.15,1238.51 L641.47,1238.81 L641.78,1239.13 L642.07,1239.46 L642.35,1239.82 L642.61,1240.2 L642.86,1240.61 L643.07,1241.07 L643.23,1241.61 L643.1,1242.63 L643.92,1242.01 L644.47,1241.87 L644.97,1241.83 L645.45,1241.83 L645.91,1241.87 L646.36,1241.94 L646.79,1242.03 L647.22,1242.13 L647.64,1242.26 L648.05,1242.4 L648.45,1242.55 L648.85,1242.72 L649.23,1242.9 L649.61,1243.1 L649.98,1243.31 L650.35,1243.53 L650.7,1243.76 L651.05,1244 L651.38,1244.26 L651.71,1244.52 L652.03,1244.8 L652.34,1245.09 L652.64,1245.39 L652.93,1245.69 L653.21,1246.01 L653.48,1246.34 L653.74,1246.68 L653.98,1247.03 L654.22,1247.39 L654.44,1247.76 L654.65,1248.14 L654.85,1248.53 L655.02,1248.93 L655.19,1249.35 L655.33,1249.78 L655.45,1250.22 L655.53,1250.69 L655.58,1251.2 L655.54,1251.76 L655.07,1252.67 L656.06,1252.37 L656.62,1252.43 L657.1,1252.56 L657.55,1252.73 L657.97,1252.93 L658.37,1253.14 L658.75,1253.37 L659.11,1253.62 L659.47,1253.88 L659.8,1254.15 L660.13,1254.43 L660.44,1254.73 L660.74,1255.03 L661.03,1255.34 L661.31,1255.67 L661.57,1256 L661.83,1256.34 L662.07,1256.68 L662.3,1257.04 L662.52,1257.4 L662.72,1257.77 L662.91,1258.15 L663.09,1258.53 L663.26,1258.92 L663.41,1259.31 L663.55,1259.71 L663.68,1260.12 L663.79,1260.53 L663.89,1260.95 L663.98,1261.37 L664.04,1261.8 L664.09,1262.24 L664.12,1262.68 L664.13,1263.12 L664.12,1263.57 L664.08,1264.03 L664,1264.51 L663.87,1264.99 L663.64,1265.51 L662.89,1266.21 L663.92,1266.26 L664.42,1266.51 L664.83,1266.8 L665.2,1267.11 L665.52,1267.44 L665.82,1267.77 L666.1,1268.12 L666.36,1268.48 L666.6,1268.84 L666.83,1269.21 L667.04,1269.59 L667.23,1269.97 L667.41,1270.36 L667.57,1270.76 L667.72,1271.15 L667.86,1271.55 L667.98,1271.96 L668.09,1272.37 L668.18,1272.78 L668.26,1273.2 L668.33,1273.61 L668.38,1274.03 L668.42,1274.45 L668.45,1274.88 L668.46,1275.3 L668.45,1275.72 L668.43,1276.15 L668.39,1276.58 L668.34,1277 L668.28,1277.43 L668.19,1277.85 L668.09,1278.28 L667.97,1278.7 L667.83,1279.12 L667.66,1279.55 L667.46,1279.96 L667.23,1280.38 L666.94,1280.79 L666.55,1281.2 L665.6,1281.6 L666.55,1282 L666.94,1282.41 L667.23,1282.82 L667.46,1283.24 L667.66,1283.65 L667.83,1284.08 L667.97,1284.5 L668.09,1284.92 L668.19,1285.35 L668.28,1285.77 L668.34,1286.2 L668.39,1286.62 L668.43,1287.05 L668.45,1287.48 L668.46,1287.9 L668.45,1288.32 L668.42,1288.75 L668.38,1289.17 L668.33,1289.59 L668.26,1290 L668.18,1290.42 L668.09,1290.83 L667.98,1291.24 L667.86,1291.65 L667.72,1292.05 L667.57,1292.44 L667.41,1292.84 L667.23,1293.23 L667.04,1293.61 L666.83,1293.99 L666.6,1294.36 L666.36,1294.72 L666.1,1295.08 L665.82,1295.43 L665.52,1295.76 L665.2,1296.09 L664.83,1296.4 L664.42,1296.69 L663.92,1296.94 L662.89,1296.99 L663.64,1297.69 L663.87,1298.21 L664,1298.69 L664.08,1299.17 L664.12,1299.63 L664.13,1300.08 L664.12,1300.52 L664.09,1300.96 L664.04,1301.4 L663.98,1301.83 L663.89,1302.25 L663.79,1302.67 L663.68,1303.08 L663.55,1303.49 L663.41,1303.89 L663.26,1304.28 L663.09,1304.67 L662.91,1305.05 L662.72,1305.43 L662.52,1305.8 L662.3,1306.16 L662.07,1306.52 L661.83,1306.86 L661.57,1307.2 L661.31,1307.53 L661.03,1307.86 L660.74,1308.17 L660.44,1308.47 L660.13,1308.77 L659.8,1309.05 L659.47,1309.32 L659.11,1309.58 L658.75,1309.83 L658.37,1310.06 L657.97,1310.27 L657.55,1310.47 L657.1,1310.64 L656.62,1310.77 L656.06,1310.83 L655.07,1310.53 L655.54,1311.44 L655.58,1312 L655.53,1312.51 L655.45,1312.98 L655.33,1313.42 L655.19,1313.85 L655.02,1314.27 L654.85,1314.67 L654.65,1315.06 L654.44,1315.44 L654.22,1315.81 L653.98,1316.17 L653.74,1316.52 L653.48,1316.86 L653.21,1317.19 L652.93,1317.51 L652.64,1317.81 L652.34,1318.11 L652.03,1318.4 L651.71,1318.68 L651.38,1318.94 L651.05,1319.2 L650.7,1319.44 L650.35,1319.67 L649.98,1319.89 L649.61,1320.1 L649.23,1320.3 L648.85,1320.48 L648.45,1320.65 L648.05,1320.8 L647.64,1320.94 L647.22,1321.07 L646.79,1321.17 L646.36,1321.26 L645.91,1321.33 L645.45,1321.37 L644.97,1321.37 L644.47,1321.33 L643.92,1321.19 L643.1,1320.57 L643.23,1321.59 L643.07,1322.13 L642.86,1322.59 L642.61,1323 L642.35,1323.38 L642.07,1323.74 L641.78,1324.07 L641.47,1324.39 L641.15,1324.69 L640.83,1324.98 L640.49,1325.25 L640.15,1325.5 L639.8,1325.75 L639.44,1325.98 L639.07,1326.19 L638.7,1326.4 L638.32,1326.59 L637.94,1326.77 L637.55,1326.93 L637.15,1327.08 L636.75,1327.22 L636.35,1327.34 L635.94,1327.45 L635.53,1327.55 L635.11,1327.63 L634.7,1327.7 L634.27,1327.76 L633.85,1327.8 L633.42,1327.82 L632.99,1327.83 L632.55,1327.82 L632.12,1327.79 L631.68,1327.75 L631.24,1327.68 L630.8,1327.59 L630.35,1327.47 L629.9,1327.31 L629.44,1327.09 L628.97,1326.78 L628.41,1325.92 L628.18,1326.92 L627.85,1327.37 L627.49,1327.73 L627.13,1328.03 L626.75,1328.3 L626.36,1328.54 L625.97,1328.75 L625.58,1328.95 L625.18,1329.12 L624.77,1329.28 L624.36,1329.42 L623.95,1329.54 L623.54,1329.65 L623.12,1329.74 L622.71,1329.82 L622.29,1329.89 L621.87,1329.94 L621.44,1329.97 L621.02,1329.99 L620.6,1330 L620.18,1329.99 L619.76,1329.97 L619.33,1329.94 L618.91,1329.89 L618.49,1329.82 L618.08,1329.74 L617.66,1329.65 L617.25,1329.54 L616.84,1329.42 L616.43,1329.28 L616.02,1329.12 L615.62,1328.95 L615.23,1328.75 L614.84,1328.54 L614.45,1328.3 L614.07,1328.03 L613.71,1327.73 L613.35,1327.37 L613.02,1326.92 L612.79,1325.92 L612.23,1326.78 L611.76,1327.09 L611.3,1327.31 L610.85,1327.47 L610.4,1327.59 L609.96,1327.68 L609.52,1327.75 L609.08,1327.79 L608.65,1327.82 L608.21,1327.83 L607.78,1327.82 L607.35,1327.8 L606.93,1327.76 L606.5,1327.7 L606.09,1327.63 L605.67,1327.55 L605.26,1327.45 L604.85,1327.34 L604.45,1327.22 L604.05,1327.08 L603.65,1326.93 L603.26,1326.77 L602.88,1326.59 L602.5,1326.4 L602.13,1326.19 L601.76,1325.98 L601.4,1325.75 L601.05,1325.5 L600.71,1325.25 L600.37,1324.98 L600.05,1324.69 L599.73,1324.39 L599.42,1324.07 L599.13,1323.74 L598.85,1323.38 L598.59,1323 L598.34,1322.59 L598.13,1322.13 L597.97,1321.59 L598.1,1320.57 L597.28,1321.19 L596.73,1321.33 L596.23,1321.37 L595.75,1321.37 L595.29,1321.33 L594.84,1321.26 L594.41,1321.17 L593.98,1321.07 L593.56,1320.94 L593.15,1320.8 L592.75,1320.65 L592.35,1320.48 L591.97,1320.3 L591.59,1320.1 L591.22,1319.89 L590.85,1319.67 L590.5,1319.44 L590.15,1319.2 L589.82,1318.94 L589.49,1318.68 L589.17,1318.4 L588.86,1318.11 L588.56,1317.81 L588.27,1317.51 L587.99,1317.19 L587.72,1316.86 L587.46,1316.52 L587.22,1316.17 L586.98,1315.81 L586.76,1315.44 L586.55,1315.06 L586.35,1314.67 L586.18,1314.27 L586.01,1313.85 L585.87,1313.42 L585.75,1312.98 L585.67,1312.51 L585.62,1312 L585.66,1311.44 L586.13,1310.53 L585.14,1310.83 L584.58,1310.77 L584.1,1310.64 L583.65,1310.47 L583.23,1310.27 L582.83,1310.06 L582.45,1309.83 L582.09,1309.58 L581.73,1309.32 L581.4,1309.05 L581.07,1308.77 L580.76,1308.47 L580.46,1308.17 L580.17,1307.86 L579.89,1307.53 L579.63,1307.2 L579.37,1306.86 L579.13,1306.52 L578.9,1306.16 L578.68,1305.8 L578.48,1305.43 L578.29,1305.05 L578.11,1304.67 L577.94,1304.28 L577.79,1303.89 L577.65,1303.49 L577.52,1303.08 L577.41,1302.67 L577.31,1302.25 L577.22,1301.83 L577.16,1301.4 L577.11,1300.96 L577.08,1300.52 L577.07,1300.08 L577.08,1299.63 L577.12,1299.17 L577.2,1298.69 L577.33,1298.21 L577.56,1297.69 L578.31,1296.99 L577.28,1296.94 L576.78,1296.69 L576.37,1296.4 L576,1296.09 L575.68,1295.76 L575.38,1295.43 L575.1,1295.08 L574.84,1294.72 L574.6,1294.36 L574.37,1293.99 L574.16,1293.61 L573.97,1293.23 L573.79,1292.84 L573.63,1292.44 L573.48,1292.05 L573.34,1291.65 L573.22,1291.24 L573.11,1290.83 L573.02,1290.42 L572.94,1290 L572.87,1289.59 L572.82,1289.17 L572.78,1288.75 L572.75,1288.32 L572.74,1287.9 L572.75,1287.48 L572.77,1287.05 L572.81,1286.62 L572.86,1286.2 L572.92,1285.77 L573.01,1285.35 L573.11,1284.92 L573.23,1284.5 L573.37,1284.08 L573.54,1283.65 L573.74,1283.24 L573.97,1282.82 L574.26,1282.41 L574.65,1282 L575.6,1281.6 L574.65,1281.2 L574.26,1280.79 L573.97,1280.38 L573.74,1279.96 L573.54,1279.55 L573.37,1279.12 L573.23,1278.7 L573.11,1278.28 L573.01,1277.85 L572.92,1277.43 L572.86,1277 L572.81,1276.58 L572.77,1276.15 L572.75,1275.72 L572.74,1275.3 L572.75,1274.88 L572.78,1274.45 L572.82,1274.03 L572.87,1273.61 L572.94,1273.2 L573.02,1272.78 L573.11,1272.37 L573.22,1271.96 L573.34,1271.55 L573.48,1271.15 L573.63,1270.76 L573.79,1270.36 L573.97,1269.97 L574.16,1269.59 L574.37,1269.21 L574.6,1268.84 L574.84,1268.48 L575.1,1268.12 L575.38,1267.77 L575.68,1267.44 L576,1267.11 L576.37,1266.8 L576.78,1266.51 L577.28,1266.26 L578.31,1266.21 L577.56,1265.51 L577.33,1264.99 L577.2,1264.51 L577.12,1264.03 L577.08,1263.57 L577.07,1263.12 L577.08,1262.68 L577.11,1262.24 L577.16,1261.8 L577.22,1261.37 L577.31,1260.95 L577.41,1260.53 L577.52,1260.12 L577.65,1259.71 L577.79,1259.31 L577.94,1258.92 L578.11,1258.53 L578.29,1258.15 L578.48,1257.77 L578.68,1257.4 L578.9,1257.04 L579.13,1256.68 L579.37,1256.34 L579.63,1256 L579.89,1255.67 L580.17,1255.34 L580.46,1255.03 L580.76,1254.73 L581.07,1254.43 L581.4,1254.15 L581.73,1253.88 L582.09,1253.62 L582.45,1253.37 L582.83,1253.14 L583.23,1252.93 L583.65,1252.73 L584.1,1252.56 L584.58,1252.43 L585.14,1252.37 L586.13,1252.67 L585.66,1251.76 L585.62,1251.2 L585.67,1250.69 L585.75,1250.22 L585.87,1249.78 L586.01,1249.35 L586.18,1248.93 L586.35,1248.53 L586.55,1248.14 L586.76,1247.76 L586.98,1247.39 L587.22,1247.03 L587.46,1246.68 L587.72,1246.34 L587.99,1246.01 L588.27,1245.69 L588.56,1245.39 L588.86,1245.09 L589.17,1244.8 L589.49,1244.52 L589.82,1244.26 L590.15,1244 L590.5,1243.76 L590.85,1243.53 L591.22,1243.31 L591.59,1243.1 L591.97,1242.9 L592.35,1242.72 L592.75,1242.55 L593.15,1242.4 L593.56,1242.26 L593.98,1242.13 L594.41,1242.03 L594.84,1241.94 L595.29,1241.87 L595.75,1241.83 L596.23,1241.83 L596.73,1241.87 L597.28,1242.01 L598.1,1242.63 L597.97,1241.61 L598.13,1241.07 L598.34,1240.61 L598.59,1240.2 L598.85,1239.82 L599.13,1239.46 L599.42,1239.13 L599.73,1238.81 L600.05,1238.51 L600.37,1238.22 L600.71,1237.95 L601.05,1237.7 L601.4,1237.45 L601.76,1237.22 L602.13,1237.01 L602.5,1236.8 L602.88,1236.61 L603.26,1236.43 L603.65,1236.27 L604.05,1236.12 L604.45,1235.98 L604.85,1235.86 L605.26,1235.75 L605.67,1235.65 L606.09,1235.57 L606.5,1235.5 L606.93,1235.44 L607.35,1235.4 L607.78,1235.38 L608.21,1235.37 L608.65,1235.38 L609.08,1235.41 L609.52,1235.45 L609.96,1235.52 L610.4,1235.61 L610.85,1235.73 L611.3,1235.89 L611.76,1236.11 L612.23,1236.42 L612.79,1237.28 L613.02,1236.28 L613.35,1235.83 L613.71,1235.47 L614.07,1235.17 L614.45,1234.9 L614.84,1234.66 L615.23,1234.45 L615.62,1234.25 L616.02,1234.08 L616.43,1233.92 L616.84,1233.78 L617.25,1233.66 L617.66,1233.55 L618.08,1233.46 L618.49,1233.38 L618.91,1233.31 L619.33,1233.26 L619.76,1233.23 L620.18,1233.21Z" fill="#fff" stroke="#33b0d8" stroke-width="1.15"/>
<path d="M619.4,1362.4 L619.61,1362.4 L619.81,1362.41 L620.02,1362.41 L620.22,1362.42 L620.43,1362.43 L620.63,1362.45 L620.84,1362.47 L621.04,1362.49 L621.25,1362.51 L621.45,1362.54 L621.65,1362.56 L621.86,1362.6 L622.06,1362.63 L622.26,1362.67 L622.47,1362.71 L622.67,1362.75 L622.87,1362.8 L623.07,1362.85 L623.27,1362.9 L623.47,1362.96 L623.67,1363.01 L623.87,1363.08 L624.07,1363.14 L624.26,1363.21 L624.46,1363.29 L624.66,1363.36 L624.85,1363.44 L625.04,1363.53 L625.24,1363.62 L625.43,1363.71 L625.62,1363.81 L625.81,1363.92 L625.99,1364.03 L626.18,1364.14 L626.36,1364.27 L626.54,1364.4 L626.72,1364.53 L626.9,1364.68 L627.07,1364.84 L627.24,1365.01 L627.41,1365.2 L627.57,1365.4 L627.73,1365.63 L627.87,1365.91 L628,1366.26 L628.17,1366.37 L628.4,1366.24 L628.62,1366.1 L628.85,1365.97 L629.08,1365.84 L629.31,1365.71 L629.54,1365.58 L629.77,1365.45 L630.01,1365.32 L630.24,1365.2 L630.48,1365.07 L630.71,1364.95 L630.95,1364.83 L631.19,1364.7 L631.44,1364.58 L631.58,1364.81 L631.73,1365.03 L631.88,1365.26 L632.02,1365.48 L632.16,1365.71 L632.3,1365.94 L632.44,1366.16 L632.58,1366.39 L632.71,1366.62 L632.85,1366.85 L632.98,1367.08 L633.11,1367.3 L633.24,1367.53 L633.36,1367.76 L633.57,1367.75 L633.86,1367.51 L634.12,1367.35 L634.37,1367.22 L634.61,1367.13 L634.85,1367.05 L635.08,1366.99 L635.31,1366.94 L635.54,1366.9 L635.77,1366.87 L635.99,1366.85 L636.21,1366.83 L636.43,1366.82 L636.64,1366.82 L636.86,1366.83 L637.07,1366.83 L637.29,1366.85 L637.5,1366.87 L637.71,1366.89 L637.92,1366.92 L638.12,1366.95 L638.33,1366.98 L638.54,1367.02 L638.74,1367.06 L638.94,1367.11 L639.15,1367.16 L639.35,1367.21 L639.55,1367.26 L639.75,1367.32 L639.94,1367.38 L640.14,1367.44 L640.34,1367.51 L640.53,1367.58 L640.72,1367.65 L640.92,1367.73 L641.11,1367.8 L641.3,1367.88 L641.48,1367.96 L641.67,1368.05 L641.86,1368.14 L642.04,1368.23 L642.23,1368.32 L642.41,1368.41 L642.59,1368.51 L642.77,1368.61 L642.95,1368.71 L643.13,1368.81 L643.3,1368.92 L643.48,1369.03 L643.65,1369.14 L643.82,1369.25 L643.99,1369.37 L644.16,1369.49 L644.33,1369.61 L644.49,1369.73 L644.66,1369.85 L644.82,1369.98 L644.98,1370.11 L645.14,1370.24 L645.3,1370.37 L645.45,1370.51 L645.61,1370.65 L645.76,1370.79 L645.91,1370.93 L646.05,1371.08 L646.2,1371.23 L646.34,1371.38 L646.48,1371.53 L646.62,1371.69 L646.76,1371.85 L646.89,1372.01 L647.02,1372.17 L647.15,1372.34 L647.27,1372.51 L647.39,1372.69 L647.51,1372.86 L647.63,1373.04 L647.74,1373.23 L647.85,1373.42 L647.95,1373.61 L648.05,1373.81 L648.14,1374.01 L648.22,1374.22 L648.3,1374.44 L648.38,1374.66 L648.44,1374.89 L648.49,1375.14 L648.53,1375.4 L648.55,1375.67 L648.53,1375.98 L648.47,1376.35 L648.56,1376.54 L648.82,1376.53 L649.09,1376.53 L649.35,1376.53 L649.61,1376.53 L649.88,1376.53 L650.14,1376.53 L650.41,1376.54 L650.67,1376.54 L650.94,1376.55 L651.21,1376.56 L651.48,1376.57 L651.74,1376.59 L652.01,1376.6 L652.28,1376.62 L652.3,1376.89 L652.31,1377.16 L652.33,1377.42 L652.34,1377.69 L652.35,1377.96 L652.36,1378.23 L652.36,1378.49 L652.37,1378.76 L652.37,1379.02 L652.37,1379.29 L652.37,1379.55 L652.37,1379.81 L652.37,1380.08 L652.36,1380.34 L652.55,1380.43 L652.92,1380.37 L653.23,1380.35 L653.5,1380.37 L653.76,1380.41 L654.01,1380.46 L654.24,1380.52 L654.46,1380.6 L654.68,1380.68 L654.89,1380.76 L655.09,1380.85 L655.29,1380.95 L655.48,1381.05 L655.67,1381.16 L655.86,1381.27 L656.04,1381.39 L656.21,1381.51 L656.39,1381.63 L656.56,1381.75 L656.73,1381.88 L656.89,1382.01 L657.05,1382.14 L657.21,1382.28 L657.37,1382.42 L657.52,1382.56 L657.67,1382.7 L657.82,1382.85 L657.97,1382.99 L658.11,1383.14 L658.25,1383.29 L658.39,1383.45 L658.53,1383.6 L658.66,1383.76 L658.79,1383.92 L658.92,1384.08 L659.05,1384.24 L659.17,1384.41 L659.29,1384.57 L659.41,1384.74 L659.53,1384.91 L659.65,1385.08 L659.76,1385.25 L659.87,1385.42 L659.98,1385.6 L660.09,1385.77 L660.19,1385.95 L660.29,1386.13 L660.39,1386.31 L660.49,1386.49 L660.58,1386.67 L660.67,1386.86 L660.76,1387.04 L660.85,1387.23 L660.94,1387.42 L661.02,1387.6 L661.1,1387.79 L661.17,1387.98 L661.25,1388.18 L661.32,1388.37 L661.39,1388.56 L661.46,1388.76 L661.52,1388.96 L661.58,1389.15 L661.64,1389.35 L661.69,1389.55 L661.74,1389.75 L661.79,1389.96 L661.84,1390.16 L661.88,1390.36 L661.92,1390.57 L661.95,1390.78 L661.98,1390.98 L662.01,1391.19 L662.03,1391.4 L662.05,1391.61 L662.07,1391.83 L662.07,1392.04 L662.08,1392.26 L662.08,1392.47 L662.07,1392.69 L662.05,1392.91 L662.03,1393.13 L662,1393.36 L661.96,1393.59 L661.91,1393.82 L661.85,1394.05 L661.77,1394.29 L661.68,1394.53 L661.55,1394.78 L661.39,1395.04 L661.15,1395.33 L661.14,1395.54 L661.37,1395.66 L661.6,1395.79 L661.82,1395.92 L662.05,1396.05 L662.28,1396.19 L662.51,1396.32 L662.74,1396.46 L662.96,1396.6 L663.19,1396.74 L663.42,1396.88 L663.64,1397.02 L663.87,1397.17 L664.09,1397.32 L664.32,1397.46 L664.2,1397.71 L664.07,1397.95 L663.95,1398.19 L663.83,1398.42 L663.7,1398.66 L663.58,1398.89 L663.45,1399.13 L663.32,1399.36 L663.19,1399.59 L663.06,1399.82 L662.93,1400.05 L662.8,1400.28 L662.66,1400.5 L662.53,1400.73 L662.64,1400.9 L662.99,1401.03 L663.27,1401.17 L663.5,1401.33 L663.7,1401.49 L663.89,1401.66 L664.06,1401.83 L664.22,1402 L664.37,1402.18 L664.5,1402.36 L664.63,1402.54 L664.76,1402.72 L664.87,1402.91 L664.98,1403.09 L665.09,1403.28 L665.19,1403.47 L665.28,1403.66 L665.37,1403.86 L665.46,1404.05 L665.54,1404.24 L665.61,1404.44 L665.69,1404.64 L665.76,1404.83 L665.82,1405.03 L665.89,1405.23 L665.94,1405.43 L666,1405.63 L666.05,1405.83 L666.1,1406.03 L666.15,1406.23 L666.19,1406.43 L666.23,1406.64 L666.27,1406.84 L666.3,1407.04 L666.34,1407.25 L666.36,1407.45 L666.39,1407.65 L666.41,1407.86 L666.43,1408.06 L666.45,1408.27 L666.47,1408.47 L666.48,1408.68 L666.49,1408.88 L666.49,1409.09 L666.5,1409.29 L666.5,1409.5 L666.5,1409.71 L666.49,1409.91 L666.49,1410.12 L666.48,1410.32 L666.47,1410.53 L666.45,1410.73 L666.43,1410.94 L666.41,1411.14 L666.39,1411.35 L666.36,1411.55 L666.34,1411.75 L666.3,1411.96 L666.27,1412.16 L666.23,1412.36 L666.19,1412.57 L666.15,1412.77 L666.1,1412.97 L666.05,1413.17 L666,1413.37 L665.94,1413.57 L665.89,1413.77 L665.82,1413.97 L665.76,1414.17 L665.69,1414.36 L665.61,1414.56 L665.54,1414.76 L665.46,1414.95 L665.37,1415.14 L665.28,1415.34 L665.19,1415.53 L665.09,1415.72 L664.98,1415.91 L664.87,1416.09 L664.76,1416.28 L664.63,1416.46 L664.5,1416.64 L664.37,1416.82 L664.22,1417 L664.06,1417.17 L663.89,1417.34 L663.7,1417.51 L663.5,1417.67 L663.27,1417.83 L662.99,1417.97 L662.64,1418.1 L662.53,1418.27 L662.66,1418.5 L662.8,1418.72 L662.93,1418.95 L663.06,1419.18 L663.19,1419.41 L663.32,1419.64 L663.45,1419.87 L663.58,1420.11 L663.7,1420.34 L663.83,1420.58 L663.95,1420.81 L664.07,1421.05 L664.2,1421.29 L664.32,1421.54 L664.09,1421.68 L663.87,1421.83 L663.64,1421.98 L663.42,1422.12 L663.19,1422.26 L662.96,1422.4 L662.74,1422.54 L662.51,1422.68 L662.28,1422.81 L662.05,1422.95 L661.82,1423.08 L661.6,1423.21 L661.37,1423.34 L661.14,1423.46 L661.15,1423.67 L661.39,1423.96 L661.55,1424.22 L661.68,1424.47 L661.77,1424.71 L661.85,1424.95 L661.91,1425.18 L661.96,1425.41 L662,1425.64 L662.03,1425.87 L662.05,1426.09 L662.07,1426.31 L662.08,1426.53 L662.08,1426.74 L662.07,1426.96 L662.07,1427.17 L662.05,1427.39 L662.03,1427.6 L662.01,1427.81 L661.98,1428.02 L661.95,1428.22 L661.92,1428.43 L661.88,1428.64 L661.84,1428.84 L661.79,1429.04 L661.74,1429.25 L661.69,1429.45 L661.64,1429.65 L661.58,1429.85 L661.52,1430.04 L661.46,1430.24 L661.39,1430.44 L661.32,1430.63 L661.25,1430.82 L661.17,1431.02 L661.1,1431.21 L661.02,1431.4 L660.94,1431.58 L660.85,1431.77 L660.76,1431.96 L660.67,1432.14 L660.58,1432.33 L660.49,1432.51 L660.39,1432.69 L660.29,1432.87 L660.19,1433.05 L660.09,1433.23 L659.98,1433.4 L659.87,1433.58 L659.76,1433.75 L659.65,1433.92 L659.53,1434.09 L659.41,1434.26 L659.29,1434.43 L659.17,1434.59 L659.05,1434.76 L658.92,1434.92 L658.79,1435.08 L658.66,1435.24 L658.53,1435.4 L658.39,1435.55 L658.25,1435.71 L658.11,1435.86 L657.97,1436.01 L657.82,1436.15 L657.67,1436.3 L657.52,1436.44 L657.37,1436.58 L657.21,1436.72 L657.05,1436.86 L656.89,1436.99 L656.73,1437.12 L656.56,1437.25 L656.39,1437.37 L656.21,1437.49 L656.04,1437.61 L655.86,1437.73 L655.67,1437.84 L655.48,1437.95 L655.29,1438.05 L655.09,1438.15 L654.89,1438.24 L654.68,1438.32 L654.46,1438.4 L654.24,1438.48 L654.01,1438.54 L653.76,1438.59 L653.5,1438.63 L653.23,1438.65 L652.92,1438.63 L652.55,1438.57 L652.36,1438.66 L652.37,1438.92 L652.37,1439.19 L652.37,1439.45 L652.37,1439.71 L652.37,1439.98 L652.37,1440.24 L652.36,1440.51 L652.36,1440.77 L652.35,1441.04 L652.34,1441.31 L652.33,1441.58 L652.31,1441.84 L652.3,1442.11 L652.28,1442.38 L652.01,1442.4 L651.74,1442.41 L651.48,1442.43 L651.21,1442.44 L650.94,1442.45 L650.67,1442.46 L650.41,1442.46 L650.14,1442.47 L649.88,1442.47 L649.61,1442.47 L649.35,1442.47 L649.09,1442.47 L648.82,1442.47 L648.56,1442.46 L648.47,1442.65 L648.53,1443.02 L648.55,1443.33 L648.53,1443.6 L648.49,1443.86 L648.44,1444.11 L648.38,1444.34 L648.3,1444.56 L648.22,1444.78 L648.14,1444.99 L648.05,1445.19 L647.95,1445.39 L647.85,1445.58 L647.74,1445.77 L647.63,1445.96 L647.51,1446.14 L647.39,1446.31 L647.27,1446.49 L647.15,1446.66 L647.02,1446.83 L646.89,1446.99 L646.76,1447.15 L646.62,1447.31 L646.48,1447.47 L646.34,1447.62 L646.2,1447.77 L646.05,1447.92 L645.91,1448.07 L645.76,1448.21 L645.61,1448.35 L645.45,1448.49 L645.3,1448.63 L645.14,1448.76 L644.98,1448.89 L644.82,1449.02 L644.66,1449.15 L644.49,1449.27 L644.33,1449.39 L644.16,1449.51 L643.99,1449.63 L643.82,1449.75 L643.65,1449.86 L643.48,1449.97 L643.3,1450.08 L643.13,1450.19 L642.95,1450.29 L642.77,1450.39 L642.59,1450.49 L642.41,1450.59 L642.23,1450.68 L642.04,1450.77 L641.86,1450.86 L641.67,1450.95 L641.48,1451.04 L641.3,1451.12 L641.11,1451.2 L640.92,1451.27 L640.72,1451.35 L640.53,1451.42 L640.34,1451.49 L640.14,1451.56 L639.94,1451.62 L639.75,1451.68 L639.55,1451.74 L639.35,1451.79 L639.15,1451.84 L638.94,1451.89 L638.74,1451.94 L638.54,1451.98 L638.33,1452.02 L638.12,1452.05 L637.92,1452.08 L637.71,1452.11 L637.5,1452.13 L637.29,1452.15 L637.07,1452.17 L636.86,1452.17 L636.64,1452.18 L636.43,1452.18 L636.21,1452.17 L635.99,1452.15 L635.77,1452.13 L635.54,1452.1 L635.31,1452.06 L635.08,1452.01 L634.85,1451.95 L634.61,1451.87 L634.37,1451.78 L634.12,1451.65 L633.86,1451.49 L633.57,1451.25 L633.36,1451.24 L633.24,1451.47 L633.11,1451.7 L632.98,1451.92 L632.85,1452.15 L632.71,1452.38 L632.58,1452.61 L632.44,1452.84 L632.3,1453.06 L632.16,1453.29 L632.02,1453.52 L631.88,1453.74 L631.73,1453.97 L631.58,1454.19 L631.44,1454.42 L631.19,1454.3 L630.95,1454.17 L630.71,1454.05 L630.48,1453.93 L630.24,1453.8 L630.01,1453.68 L629.77,1453.55 L629.54,1453.42 L629.31,1453.29 L629.08,1453.16 L628.85,1453.03 L628.62,1452.9 L628.4,1452.76 L628.17,1452.63 L628,1452.74 L627.87,1453.09 L627.73,1453.37 L627.57,1453.6 L627.41,1453.8 L627.24,1453.99 L627.07,1454.16 L626.9,1454.32 L626.72,1454.47 L626.54,1454.6 L626.36,1454.73 L626.18,1454.86 L625.99,1454.97 L625.81,1455.08 L625.62,1455.19 L625.43,1455.29 L625.24,1455.38 L625.04,1455.47 L624.85,1455.56 L624.66,1455.64 L624.46,1455.71 L624.26,1455.79 L624.07,1455.86 L623.87,1455.92 L623.67,1455.99 L623.47,1456.04 L623.27,1456.1 L623.07,1456.15 L622.87,1456.2 L622.67,1456.25 L622.47,1456.29 L622.26,1456.33 L622.06,1456.37 L621.86,1456.4 L621.65,1456.44 L621.45,1456.46 L621.25,1456.49 L621.04,1456.51 L620.84,1456.53 L620.63,1456.55 L620.43,1456.57 L620.22,1456.58 L620.02,1456.59 L619.81,1456.59 L619.61,1456.6 L619.4,1456.6 L619.19,1456.6 L618.99,1456.59 L618.78,1456.59 L618.58,1456.58 L618.37,1456.57 L618.17,1456.55 L617.96,1456.53 L617.76,1456.51 L617.55,1456.49 L617.35,1456.46 L617.15,1456.44 L616.94,1456.4 L616.74,1456.37 L616.54,1456.33 L616.33,1456.29 L616.13,1456.25 L615.93,1456.2 L615.73,1456.15 L615.53,1456.1 L615.33,1456.04 L615.13,1455.99 L614.93,1455.92 L614.73,1455.86 L614.54,1455.79 L614.34,1455.71 L614.14,1455.64 L613.95,1455.56 L613.76,1455.47 L613.56,1455.38 L613.37,1455.29 L613.18,1455.19 L612.99,1455.08 L612.81,1454.97 L612.62,1454.86 L612.44,1454.73 L612.26,1454.6 L612.08,1454.47 L611.9,1454.32 L611.73,1454.16 L611.56,1453.99 L611.39,1453.8 L611.23,1453.6 L611.07,1453.37 L610.93,1453.09 L610.8,1452.74 L610.63,1452.63 L610.4,1452.76 L610.18,1452.9 L609.95,1453.03 L609.72,1453.16 L609.49,1453.29 L609.26,1453.42 L609.03,1453.55 L608.79,1453.68 L608.56,1453.8 L608.32,1453.93 L608.09,1454.05 L607.85,1454.17 L607.61,1454.3 L607.36,1454.42 L607.22,1454.19 L607.07,1453.97 L606.92,1453.74 L606.78,1453.52 L606.64,1453.29 L606.5,1453.06 L606.36,1452.84 L606.22,1452.61 L606.09,1452.38 L605.95,1452.15 L605.82,1451.92 L605.69,1451.7 L605.56,1451.47 L605.44,1451.24 L605.23,1451.25 L604.94,1451.49 L604.68,1451.65 L604.43,1451.78 L604.19,1451.87 L603.95,1451.95 L603.72,1452.01 L603.49,1452.06 L603.26,1452.1 L603.03,1452.13 L602.81,1452.15 L602.59,1452.17 L602.37,1452.18 L602.16,1452.18 L601.94,1452.17 L601.73,1452.17 L601.51,1452.15 L601.3,1452.13 L601.09,1452.11 L600.88,1452.08 L600.68,1452.05 L600.47,1452.02 L600.26,1451.98 L600.06,1451.94 L599.86,1451.89 L599.65,1451.84 L599.45,1451.79 L599.25,1451.74 L599.05,1451.68 L598.86,1451.62 L598.66,1451.56 L598.46,1451.49 L598.27,1451.42 L598.08,1451.35 L597.88,1451.27 L597.69,1451.2 L597.5,1451.12 L597.32,1451.04 L597.13,1450.95 L596.94,1450.86 L596.76,1450.77 L596.57,1450.68 L596.39,1450.59 L596.21,1450.49 L596.03,1450.39 L595.85,1450.29 L595.67,1450.19 L595.5,1450.08 L595.32,1449.97 L595.15,1449.86 L594.98,1449.75 L594.81,1449.63 L594.64,1449.51 L594.47,1449.39 L594.31,1449.27 L594.14,1449.15 L593.98,1449.02 L593.82,1448.89 L593.66,1448.76 L593.5,1448.63 L593.35,1448.49 L593.19,1448.35 L593.04,1448.21 L592.89,1448.07 L592.75,1447.92 L592.6,1447.77 L592.46,1447.62 L592.32,1447.47 L592.18,1447.31 L592.04,1447.15 L591.91,1446.99 L591.78,1446.83 L591.65,1446.66 L591.53,1446.49 L591.41,1446.31 L591.29,1446.14 L591.17,1445.96 L591.06,1445.77 L590.95,1445.58 L590.85,1445.39 L590.75,1445.19 L590.66,1444.99 L590.58,1444.78 L590.5,1444.56 L590.42,1444.34 L590.36,1444.11 L590.31,1443.86 L590.27,1443.6 L590.25,1443.33 L590.27,1443.02 L590.33,1442.65 L590.24,1442.46 L589.98,1442.47 L589.71,1442.47 L589.45,1442.47 L589.19,1442.47 L588.92,1442.47 L588.66,1442.47 L588.39,1442.46 L588.13,1442.46 L587.86,1442.45 L587.59,1442.44 L587.32,1442.43 L587.06,1442.41 L586.79,1442.4 L586.52,1442.38 L586.5,1442.11 L586.49,1441.84 L586.47,1441.58 L586.46,1441.31 L586.45,1441.04 L586.44,1440.77 L586.44,1440.51 L586.43,1440.24 L586.43,1439.98 L586.43,1439.71 L586.43,1439.45 L586.43,1439.19 L586.43,1438.92 L586.44,1438.66 L586.25,1438.57 L585.88,1438.63 L585.57,1438.65 L585.3,1438.63 L585.04,1438.59 L584.79,1438.54 L584.56,1438.48 L584.34,1438.4 L584.12,1438.32 L583.91,1438.24 L583.71,1438.15 L583.51,1438.05 L583.32,1437.95 L583.13,1437.84 L582.94,1437.73 L582.76,1437.61 L582.59,1437.49 L582.41,1437.37 L582.24,1437.25 L582.07,1437.12 L581.91,1436.99 L581.75,1436.86 L581.59,1436.72 L581.43,1436.58 L581.28,1436.44 L581.13,1436.3 L580.98,1436.15 L580.83,1436.01 L580.69,1435.86 L580.55,1435.71 L580.41,1435.55 L580.27,1435.4 L580.14,1435.24 L580.01,1435.08 L579.88,1434.92 L579.75,1434.76 L579.63,1434.59 L579.51,1434.43 L579.39,1434.26 L579.27,1434.09 L579.15,1433.92 L579.04,1433.75 L578.93,1433.58 L578.82,1433.4 L578.71,1433.23 L578.61,1433.05 L578.51,1432.87 L578.41,1432.69 L578.31,1432.51 L578.22,1432.33 L578.13,1432.14 L578.04,1431.96 L577.95,1431.77 L577.86,1431.58 L577.78,1431.4 L577.7,1431.21 L577.63,1431.02 L577.55,1430.82 L577.48,1430.63 L577.41,1430.44 L577.34,1430.24 L577.28,1430.04 L577.22,1429.85 L577.16,1429.65 L577.11,1429.45 L577.06,1429.25 L577.01,1429.04 L576.96,1428.84 L576.92,1428.64 L576.88,1428.43 L576.85,1428.22 L576.82,1428.02 L576.79,1427.81 L576.77,1427.6 L576.75,1427.39 L576.73,1427.17 L576.73,1426.96 L576.72,1426.74 L576.72,1426.53 L576.73,1426.31 L576.75,1426.09 L576.77,1425.87 L576.8,1425.64 L576.84,1425.41 L576.89,1425.18 L576.95,1424.95 L577.03,1424.71 L577.12,1424.47 L577.25,1424.22 L577.41,1423.96 L577.65,1423.67 L577.66,1423.46 L577.43,1423.34 L577.2,1423.21 L576.98,1423.08 L576.75,1422.95 L576.52,1422.81 L576.29,1422.68 L576.06,1422.54 L575.84,1422.4 L575.61,1422.26 L575.38,1422.12 L575.16,1421.98 L574.93,1421.83 L574.71,1421.68 L574.48,1421.54 L574.6,1421.29 L574.73,1421.05 L574.85,1420.81 L574.97,1420.58 L575.1,1420.34 L575.22,1420.11 L575.35,1419.87 L575.48,1419.64 L575.61,1419.41 L575.74,1419.18 L575.87,1418.95 L576,1418.72 L576.14,1418.5 L576.27,1418.27 L576.16,1418.1 L575.81,1417.97 L575.53,1417.83 L575.3,1417.67 L575.1,1417.51 L574.91,1417.34 L574.74,1417.17 L574.58,1417 L574.43,1416.82 L574.3,1416.64 L574.17,1416.46 L574.04,1416.28 L573.93,1416.09 L573.82,1415.91 L573.71,1415.72 L573.61,1415.53 L573.52,1415.34 L573.43,1415.14 L573.34,1414.95 L573.26,1414.76 L573.19,1414.56 L573.11,1414.36 L573.04,1414.17 L572.98,1413.97 L572.91,1413.77 L572.86,1413.57 L572.8,1413.37 L572.75,1413.17 L572.7,1412.97 L572.65,1412.77 L572.61,1412.57 L572.57,1412.36 L572.53,1412.16 L572.5,1411.96 L572.46,1411.75 L572.44,1411.55 L572.41,1411.35 L572.39,1411.14 L572.37,1410.94 L572.35,1410.73 L572.33,1410.53 L572.32,1410.32 L572.31,1410.12 L572.31,1409.91 L572.3,1409.71 L572.3,1409.5 L572.3,1409.29 L572.31,1409.09 L572.31,1408.88 L572.32,1408.68 L572.33,1408.47 L572.35,1408.27 L572.37,1408.06 L572.39,1407.86 L572.41,1407.65 L572.44,1407.45 L572.46,1407.25 L572.5,1407.04 L572.53,1406.84 L572.57,1406.64 L572.61,1406.43 L572.65,1406.23 L572.7,1406.03 L572.75,1405.83 L572.8,1405.63 L572.86,1405.43 L572.91,1405.23 L572.98,1405.03 L573.04,1404.83 L573.11,1404.64 L573.19,1404.44 L573.26,1404.24 L573.34,1404.05 L573.43,1403.86 L573.52,1403.66 L573.61,1403.47 L573.71,1403.28 L573.82,1403.09 L573.93,1402.91 L574.04,1402.72 L574.17,1402.54 L574.3,1402.36 L574.43,1402.18 L574.58,1402 L574.74,1401.83 L574.91,1401.66 L575.1,1401.49 L575.3,1401.33 L575.53,1401.17 L575.81,1401.03 L576.16,1400.9 L576.27,1400.73 L576.14,1400.5 L576,1400.28 L575.87,1400.05 L575.74,1399.82 L575.61,1399.59 L575.48,1399.36 L575.35,1399.13 L575.22,1398.89 L575.1,1398.66 L574.97,1398.42 L574.85,1398.19 L574.73,1397.95 L574.6,1397.71 L574.48,1397.46 L574.71,1397.32 L574.93,1397.17 L575.16,1397.02 L575.38,1396.88 L575.61,1396.74 L575.84,1396.6 L576.06,1396.46 L576.29,1396.32 L576.52,1396.19 L576.75,1396.05 L576.98,1395.92 L577.2,1395.79 L577.43,1395.66 L577.66,1395.54 L577.65,1395.33 L577.41,1395.04 L577.25,1394.78 L577.12,1394.53 L577.03,1394.29 L576.95,1394.05 L576.89,1393.82 L576.84,1393.59 L576.8,1393.36 L576.77,1393.13 L576.75,1392.91 L576.73,1392.69 L576.72,1392.47 L576.72,1392.26 L576.73,1392.04 L576.73,1391.83 L576.75,1391.61 L576.77,1391.4 L576.79,1391.19 L576.82,1390.98 L576.85,1390.78 L576.88,1390.57 L576.92,1390.36 L576.96,1390.16 L577.01,1389.96 L577.06,1389.75 L577.11,1389.55 L577.16,1389.35 L577.22,1389.15 L577.28,1388.96 L577.34,1388.76 L577.41,1388.56 L577.48,1388.37 L577.55,1388.18 L577.63,1387.98 L577.7,1387.79 L577.78,1387.6 L577.86,1387.42 L577.95,1387.23 L578.04,1387.04 L578.13,1386.86 L578.22,1386.67 L578.31,1386.49 L578.41,1386.31 L578.51,1386.13 L578.61,1385.95 L578.71,1385.77 L578.82,1385.6 L578.93,1385.42 L579.04,1385.25 L579.15,1385.08 L579.27,1384.91 L579.39,1384.74 L579.51,1384.57 L579.63,1384.41 L579.75,1384.24 L579.88,1384.08 L580.01,1383.92 L580.14,1383.76 L580.27,1383.6 L580.41,1383.45 L580.55,1383.29 L580.69,1383.14 L580.83,1382.99 L580.98,1382.85 L581.13,1382.7 L581.28,1382.56 L581.43,1382.42 L581.59,1382.28 L581.75,1382.14 L581.91,1382.01 L582.07,1381.88 L582.24,1381.75 L582.41,1381.63 L582.59,1381.51 L582.76,1381.39 L582.94,1381.27 L583.13,1381.16 L583.32,1381.05 L583.51,1380.95 L583.71,1380.85 L583.91,1380.76 L584.12,1380.68 L584.34,1380.6 L584.56,1380.52 L584.79,1380.46 L585.04,1380.41 L585.3,1380.37 L585.57,1380.35 L585.88,1380.37 L586.25,1380.43 L586.44,1380.34 L586.43,1380.08 L586.43,1379.81 L586.43,1379.55 L586.43,1379.29 L586.43,1379.02 L586.43,1378.76 L586.44,1378.49 L586.44,1378.23 L586.45,1377.96 L586.46,1377.69 L586.47,1377.42 L586.49,1377.16 L586.5,1376.89 L586.52,1376.62 L586.79,1376.6 L587.06,1376.59 L587.32,1376.57 L587.59,1376.56 L587.86,1376.55 L588.13,1376.54 L588.39,1376.54 L588.66,1376.53 L588.92,1376.53 L589.19,1376.53 L589.45,1376.53 L589.71,1376.53 L589.98,1376.53 L590.24,1376.54 L590.33,1376.35 L590.27,1375.98 L590.25,1375.67 L590.27,1375.4 L590.31,1375.14 L590.36,1374.89 L590.42,1374.66 L590.5,1374.44 L590.58,1374.22 L590.66,1374.01 L590.75,1373.81 L590.85,1373.61 L590.95,1373.42 L591.06,1373.23 L591.17,1373.04 L591.29,1372.86 L591.41,1372.69 L591.53,1372.51 L591.65,1372.34 L591.78,1372.17 L591.91,1372.01 L592.04,1371.85 L592.18,1371.69 L592.32,1371.53 L592.46,1371.38 L592.6,1371.23 L592.75,1371.08 L592.89,1370.93 L593.04,1370.79 L593.19,1370.65 L593.35,1370.51 L593.5,1370.37 L593.66,1370.24 L593.82,1370.11 L593.98,1369.98 L594.14,1369.85 L594.31,1369.73 L594.47,1369.61 L594.64,1369.49 L594.81,1369.37 L594.98,1369.25 L595.15,1369.14 L595.32,1369.03 L595.5,1368.92 L595.67,1368.81 L595.85,1368.71 L596.03,1368.61 L596.21,1368.51 L596.39,1368.41 L596.57,1368.32 L596.76,1368.23 L596.94,1368.14 L597.13,1368.05 L597.32,1367.96 L597.5,1367.88 L597.69,1367.8 L597.88,1367.73 L598.08,1367.65 L598.27,1367.58 L598.46,1367.51 L598.66,1367.44 L598.86,1367.38 L599.05,1367.32 L599.25,1367.26 L599.45,1367.21 L599.65,1367.16 L599.86,1367.11 L600.06,1367.06 L600.26,1367.02 L600.47,1366.98 L600.68,1366.95 L600.88,1366.92 L601.09,1366.89 L601.3,1366.87 L601.51,1366.85 L601.73,1366.83 L601.94,1366.83 L602.16,1366.82 L602.37,1366.82 L602.59,1366.83 L602.81,1366.85 L603.03,1366.87 L603.26,1366.9 L603.49,1366.94 L603.72,1366.99 L603.95,1367.05 L604.19,1367.13 L604.43,1367.22 L604.68,1367.35 L604.94,1367.51 L605.23,1367.75 L605.44,1367.76 L605.56,1367.53 L605.69,1367.3 L605.82,1367.08 L605.95,1366.85 L606.09,1366.62 L606.22,1366.39 L606.36,1366.16 L606.5,1365.94 L606.64,1365.71 L606.78,1365.48 L606.92,1365.26 L607.07,1365.03 L607.22,1364.81 L607.36,1364.58 L607.61,1364.7 L607.85,1364.83 L608.09,1364.95 L608.32,1365.07 L608.56,1365.2 L608.79,1365.32 L609.03,1365.45 L609.26,1365.58 L609.49,1365.71 L609.72,1365.84 L609.95,1365.97 L610.18,1366.1 L610.4,1366.24 L610.63,1366.37 L610.8,1366.26 L610.93,1365.91 L611.07,1365.63 L611.23,1365.4 L611.39,1365.2 L611.56,1365.01 L611.73,1364.84 L611.9,1364.68 L612.08,1364.53 L612.26,1364.4 L612.44,1364.27 L612.62,1364.14 L612.81,1364.03 L612.99,1363.92 L613.18,1363.81 L613.37,1363.71 L613.56,1363.62 L613.76,1363.53 L613.95,1363.44 L614.14,1363.36 L614.34,1363.29 L614.54,1363.21 L614.73,1363.14 L614.93,1363.08 L615.13,1363.01 L615.33,1362.96 L615.53,1362.9 L615.73,1362.85 L615.93,1362.8 L616.13,1362.75 L616.33,1362.71 L616.54,1362.67 L616.74,1362.63 L616.94,1362.6 L617.15,1362.56 L617.35,1362.54 L617.55,1362.51 L617.76,1362.49 L617.96,1362.47 L618.17,1362.45 L618.37,1362.43 L618.58,1362.42 L618.78,1362.41 L618.99,1362.41 L619.19,1362.4Z" fill="#f3f0eb" stroke="#48b6e0" stroke-width="1"/>
<path d="M781.8,1362.4 L782.01,1362.4 L782.21,1362.41 L782.42,1362.41 L782.62,1362.42 L782.83,1362.43 L783.03,1362.45 L783.24,1362.47 L783.44,1362.49 L783.65,1362.51 L783.85,1362.54 L784.05,1362.56 L784.26,1362.6 L784.46,1362.63 L784.66,1362.67 L784.87,1362.71 L785.07,1362.75 L785.27,1362.8 L785.47,1362.85 L785.67,1362.9 L785.87,1362.96 L786.07,1363.01 L786.27,1363.08 L786.47,1363.14 L786.66,1363.21 L786.86,1363.29 L787.06,1363.36 L787.25,1363.44 L787.44,1363.53 L787.64,1363.62 L787.83,1363.71 L788.02,1363.81 L788.21,1363.92 L788.39,1364.03 L788.58,1364.14 L788.76,1364.27 L788.94,1364.4 L789.12,1364.53 L789.3,1364.68 L789.47,1364.84 L789.64,1365.01 L789.81,1365.2 L789.97,1365.4 L790.13,1365.63 L790.27,1365.91 L790.4,1366.26 L790.57,1366.37 L790.8,1366.24 L791.02,1366.1 L791.25,1365.97 L791.48,1365.84 L791.71,1365.71 L791.94,1365.58 L792.17,1365.45 L792.41,1365.32 L792.64,1365.2 L792.88,1365.07 L793.11,1364.95 L793.35,1364.83 L793.59,1364.7 L793.84,1364.58 L793.98,1364.81 L794.13,1365.03 L794.28,1365.26 L794.42,1365.48 L794.56,1365.71 L794.7,1365.94 L794.84,1366.16 L794.98,1366.39 L795.11,1366.62 L795.25,1366.85 L795.38,1367.08 L795.51,1367.3 L795.64,1367.53 L795.76,1367.76 L795.97,1367.75 L796.26,1367.51 L796.52,1367.35 L796.77,1367.22 L797.01,1367.13 L797.25,1367.05 L797.48,1366.99 L797.71,1366.94 L797.94,1366.9 L798.17,1366.87 L798.39,1366.85 L798.61,1366.83 L798.83,1366.82 L799.04,1366.82 L799.26,1366.83 L799.47,1366.83 L799.69,1366.85 L799.9,1366.87 L800.11,1366.89 L800.32,1366.92 L800.52,1366.95 L800.73,1366.98 L800.94,1367.02 L801.14,1367.06 L801.34,1367.11 L801.55,1367.16 L801.75,1367.21 L801.95,1367.26 L802.15,1367.32 L802.34,1367.38 L802.54,1367.44 L802.74,1367.51 L802.93,1367.58 L803.12,1367.65 L803.32,1367.73 L803.51,1367.8 L803.7,1367.88 L803.88,1367.96 L804.07,1368.05 L804.26,1368.14 L804.44,1368.23 L804.63,1368.32 L804.81,1368.41 L804.99,1368.51 L805.17,1368.61 L805.35,1368.71 L805.53,1368.81 L805.7,1368.92 L805.88,1369.03 L806.05,1369.14 L806.22,1369.25 L806.39,1369.37 L806.56,1369.49 L806.73,1369.61 L806.89,1369.73 L807.06,1369.85 L807.22,1369.98 L807.38,1370.11 L807.54,1370.24 L807.7,1370.37 L807.85,1370.51 L808.01,1370.65 L808.16,1370.79 L808.31,1370.93 L808.45,1371.08 L808.6,1371.23 L808.74,1371.38 L808.88,1371.53 L809.02,1371.69 L809.16,1371.85 L809.29,1372.01 L809.42,1372.17 L809.55,1372.34 L809.67,1372.51 L809.79,1372.69 L809.91,1372.86 L810.03,1373.04 L810.14,1373.23 L810.25,1373.42 L810.35,1373.61 L810.45,1373.81 L810.54,1374.01 L810.62,1374.22 L810.7,1374.44 L810.78,1374.66 L810.84,1374.89 L810.89,1375.14 L810.93,1375.4 L810.95,1375.67 L810.93,1375.98 L810.87,1376.35 L810.96,1376.54 L811.22,1376.53 L811.49,1376.53 L811.75,1376.53 L812.01,1376.53 L812.28,1376.53 L812.54,1376.53 L812.81,1376.54 L813.07,1376.54 L813.34,1376.55 L813.61,1376.56 L813.88,1376.57 L814.14,1376.59 L814.41,1376.6 L814.68,1376.62 L814.7,1376.89 L814.71,1377.16 L814.73,1377.42 L814.74,1377.69 L814.75,1377.96 L814.76,1378.23 L814.76,1378.49 L814.77,1378.76 L814.77,1379.02 L814.77,1379.29 L814.77,1379.55 L814.77,1379.81 L814.77,1380.08 L814.76,1380.34 L814.95,1380.43 L815.32,1380.37 L815.63,1380.35 L815.9,1380.37 L816.16,1380.41 L816.41,1380.46 L816.64,1380.52 L816.86,1380.6 L817.08,1380.68 L817.29,1380.76 L817.49,1380.85 L817.69,1380.95 L817.88,1381.05 L818.07,1381.16 L818.26,1381.27 L818.44,1381.39 L818.61,1381.51 L818.79,1381.63 L818.96,1381.75 L819.13,1381.88 L819.29,1382.01 L819.45,1382.14 L819.61,1382.28 L819.77,1382.42 L819.92,1382.56 L820.07,1382.7 L820.22,1382.85 L820.37,1382.99 L820.51,1383.14 L820.65,1383.29 L820.79,1383.45 L820.93,1383.6 L821.06,1383.76 L821.19,1383.92 L821.32,1384.08 L821.45,1384.24 L821.57,1384.41 L821.69,1384.57 L821.81,1384.74 L821.93,1384.91 L822.05,1385.08 L822.16,1385.25 L822.27,1385.42 L822.38,1385.6 L822.49,1385.77 L822.59,1385.95 L822.69,1386.13 L822.79,1386.31 L822.89,1386.49 L822.98,1386.67 L823.07,1386.86 L823.16,1387.04 L823.25,1387.23 L823.34,1387.42 L823.42,1387.6 L823.5,1387.79 L823.57,1387.98 L823.65,1388.18 L823.72,1388.37 L823.79,1388.56 L823.86,1388.76 L823.92,1388.96 L823.98,1389.15 L824.04,1389.35 L824.09,1389.55 L824.14,1389.75 L824.19,1389.96 L824.24,1390.16 L824.28,1390.36 L824.32,1390.57 L824.35,1390.78 L824.38,1390.98 L824.41,1391.19 L824.43,1391.4 L824.45,1391.61 L824.47,1391.83 L824.47,1392.04 L824.48,1392.26 L824.48,1392.47 L824.47,1392.69 L824.45,1392.91 L824.43,1393.13 L824.4,1393.36 L824.36,1393.59 L824.31,1393.82 L824.25,1394.05 L824.17,1394.29 L824.08,1394.53 L823.95,1394.78 L823.79,1395.04 L823.55,1395.33 L823.54,1395.54 L823.77,1395.66 L824,1395.79 L824.22,1395.92 L824.45,1396.05 L824.68,1396.19 L824.91,1396.32 L825.14,1396.46 L825.36,1396.6 L825.59,1396.74 L825.82,1396.88 L826.04,1397.02 L826.27,1397.17 L826.49,1397.32 L826.72,1397.46 L826.6,1397.71 L826.47,1397.95 L826.35,1398.19 L826.23,1398.42 L826.1,1398.66 L825.98,1398.89 L825.85,1399.13 L825.72,1399.36 L825.59,1399.59 L825.46,1399.82 L825.33,1400.05 L825.2,1400.28 L825.06,1400.5 L824.93,1400.73 L825.04,1400.9 L825.39,1401.03 L825.67,1401.17 L825.9,1401.33 L826.1,1401.49 L826.29,1401.66 L826.46,1401.83 L826.62,1402 L826.77,1402.18 L826.9,1402.36 L827.03,1402.54 L827.16,1402.72 L827.27,1402.91 L827.38,1403.09 L827.49,1403.28 L827.59,1403.47 L827.68,1403.66 L827.77,1403.86 L827.86,1404.05 L827.94,1404.24 L828.01,1404.44 L828.09,1404.64 L828.16,1404.83 L828.22,1405.03 L828.29,1405.23 L828.34,1405.43 L828.4,1405.63 L828.45,1405.83 L828.5,1406.03 L828.55,1406.23 L828.59,1406.43 L828.63,1406.64 L828.67,1406.84 L828.7,1407.04 L828.74,1407.25 L828.76,1407.45 L828.79,1407.65 L828.81,1407.86 L828.83,1408.06 L828.85,1408.27 L828.87,1408.47 L828.88,1408.68 L828.89,1408.88 L828.89,1409.09 L828.9,1409.29 L828.9,1409.5 L828.9,1409.71 L828.89,1409.91 L828.89,1410.12 L828.88,1410.32 L828.87,1410.53 L828.85,1410.73 L828.83,1410.94 L828.81,1411.14 L828.79,1411.35 L828.76,1411.55 L828.74,1411.75 L828.7,1411.96 L828.67,1412.16 L828.63,1412.36 L828.59,1412.57 L828.55,1412.77 L828.5,1412.97 L828.45,1413.17 L828.4,1413.37 L828.34,1413.57 L828.29,1413.77 L828.22,1413.97 L828.16,1414.17 L828.09,1414.36 L828.01,1414.56 L827.94,1414.76 L827.86,1414.95 L827.77,1415.14 L827.68,1415.34 L827.59,1415.53 L827.49,1415.72 L827.38,1415.91 L827.27,1416.09 L827.16,1416.28 L827.03,1416.46 L826.9,1416.64 L826.77,1416.82 L826.62,1417 L826.46,1417.17 L826.29,1417.34 L826.1,1417.51 L825.9,1417.67 L825.67,1417.83 L825.39,1417.97 L825.04,1418.1 L824.93,1418.27 L825.06,1418.5 L825.2,1418.72 L825.33,1418.95 L825.46,1419.18 L825.59,1419.41 L825.72,1419.64 L825.85,1419.87 L825.98,1420.11 L826.1,1420.34 L826.23,1420.58 L826.35,1420.81 L826.47,1421.05 L826.6,1421.29 L826.72,1421.54 L826.49,1421.68 L826.27,1421.83 L826.04,1421.98 L825.82,1422.12 L825.59,1422.26 L825.36,1422.4 L825.14,1422.54 L824.91,1422.68 L824.68,1422.81 L824.45,1422.95 L824.22,1423.08 L824,1423.21 L823.77,1423.34 L823.54,1423.46 L823.55,1423.67 L823.79,1423.96 L823.95,1424.22 L824.08,1424.47 L824.17,1424.71 L824.25,1424.95 L824.31,1425.18 L824.36,1425.41 L824.4,1425.64 L824.43,1425.87 L824.45,1426.09 L824.47,1426.31 L824.48,1426.53 L824.48,1426.74 L824.47,1426.96 L824.47,1427.17 L824.45,1427.39 L824.43,1427.6 L824.41,1427.81 L824.38,1428.02 L824.35,1428.22 L824.32,1428.43 L824.28,1428.64 L824.24,1428.84 L824.19,1429.04 L824.14,1429.25 L824.09,1429.45 L824.04,1429.65 L823.98,1429.85 L823.92,1430.04 L823.86,1430.24 L823.79,1430.44 L823.72,1430.63 L823.65,1430.82 L823.57,1431.02 L823.5,1431.21 L823.42,1431.4 L823.34,1431.58 L823.25,1431.77 L823.16,1431.96 L823.07,1432.14 L822.98,1432.33 L822.89,1432.51 L822.79,1432.69 L822.69,1432.87 L822.59,1433.05 L822.49,1433.23 L822.38,1433.4 L822.27,1433.58 L822.16,1433.75 L822.05,1433.92 L821.93,1434.09 L821.81,1434.26 L821.69,1434.43 L821.57,1434.59 L821.45,1434.76 L821.32,1434.92 L821.19,1435.08 L821.06,1435.24 L820.93,1435.4 L820.79,1435.55 L820.65,1435.71 L820.51,1435.86 L820.37,1436.01 L820.22,1436.15 L820.07,1436.3 L819.92,1436.44 L819.77,1436.58 L819.61,1436.72 L819.45,1436.86 L819.29,1436.99 L819.13,1437.12 L818.96,1437.25 L818.79,1437.37 L818.61,1437.49 L818.44,1437.61 L818.26,1437.73 L818.07,1437.84 L817.88,1437.95 L817.69,1438.05 L817.49,1438.15 L817.29,1438.24 L817.08,1438.32 L816.86,1438.4 L816.64,1438.48 L816.41,1438.54 L816.16,1438.59 L815.9,1438.63 L815.63,1438.65 L815.32,1438.63 L814.95,1438.57 L814.76,1438.66 L814.77,1438.92 L814.77,1439.19 L814.77,1439.45 L814.77,1439.71 L814.77,1439.98 L814.77,1440.24 L814.76,1440.51 L814.76,1440.77 L814.75,1441.04 L814.74,1441.31 L814.73,1441.58 L814.71,1441.84 L814.7,1442.11 L814.68,1442.38 L814.41,1442.4 L814.14,1442.41 L813.88,1442.43 L813.61,1442.44 L813.34,1442.45 L813.07,1442.46 L812.81,1442.46 L812.54,1442.47 L812.28,1442.47 L812.01,1442.47 L811.75,1442.47 L811.49,1442.47 L811.22,1442.47 L810.96,1442.46 L810.87,1442.65 L810.93,1443.02 L810.95,1443.33 L810.93,1443.6 L810.89,1443.86 L810.84,1444.11 L810.78,1444.34 L810.7,1444.56 L810.62,1444.78 L810.54,1444.99 L810.45,1445.19 L810.35,1445.39 L810.25,1445.58 L810.14,1445.77 L810.03,1445.96 L809.91,1446.14 L809.79,1446.31 L809.67,1446.49 L809.55,1446.66 L809.42,1446.83 L809.29,1446.99 L809.16,1447.15 L809.02,1447.31 L808.88,1447.47 L808.74,1447.62 L808.6,1447.77 L808.45,1447.92 L808.31,1448.07 L808.16,1448.21 L808.01,1448.35 L807.85,1448.49 L807.7,1448.63 L807.54,1448.76 L807.38,1448.89 L807.22,1449.02 L807.06,1449.15 L806.89,1449.27 L806.73,1449.39 L806.56,1449.51 L806.39,1449.63 L806.22,1449.75 L806.05,1449.86 L805.88,1449.97 L805.7,1450.08 L805.53,1450.19 L805.35,1450.29 L805.17,1450.39 L804.99,1450.49 L804.81,1450.59 L804.63,1450.68 L804.44,1450.77 L804.26,1450.86 L804.07,1450.95 L803.88,1451.04 L803.7,1451.12 L803.51,1451.2 L803.32,1451.27 L803.12,1451.35 L802.93,1451.42 L802.74,1451.49 L802.54,1451.56 L802.34,1451.62 L802.15,1451.68 L801.95,1451.74 L801.75,1451.79 L801.55,1451.84 L801.34,1451.89 L801.14,1451.94 L800.94,1451.98 L800.73,1452.02 L800.52,1452.05 L800.32,1452.08 L800.11,1452.11 L799.9,1452.13 L799.69,1452.15 L799.47,1452.17 L799.26,1452.17 L799.04,1452.18 L798.83,1452.18 L798.61,1452.17 L798.39,1452.15 L798.17,1452.13 L797.94,1452.1 L797.71,1452.06 L797.48,1452.01 L797.25,1451.95 L797.01,1451.87 L796.77,1451.78 L796.52,1451.65 L796.26,1451.49 L795.97,1451.25 L795.76,1451.24 L795.64,1451.47 L795.51,1451.7 L795.38,1451.92 L795.25,1452.15 L795.11,1452.38 L794.98,1452.61 L794.84,1452.84 L794.7,1453.06 L794.56,1453.29 L794.42,1453.52 L794.28,1453.74 L794.13,1453.97 L793.98,1454.19 L793.84,1454.42 L793.59,1454.3 L793.35,1454.17 L793.11,1454.05 L792.88,1453.93 L792.64,1453.8 L792.41,1453.68 L792.17,1453.55 L791.94,1453.42 L791.71,1453.29 L791.48,1453.16 L791.25,1453.03 L791.02,1452.9 L790.8,1452.76 L790.57,1452.63 L790.4,1452.74 L790.27,1453.09 L790.13,1453.37 L789.97,1453.6 L789.81,1453.8 L789.64,1453.99 L789.47,1454.16 L789.3,1454.32 L789.12,1454.47 L788.94,1454.6 L788.76,1454.73 L788.58,1454.86 L788.39,1454.97 L788.21,1455.08 L788.02,1455.19 L787.83,1455.29 L787.64,1455.38 L787.44,1455.47 L787.25,1455.56 L787.06,1455.64 L786.86,1455.71 L786.66,1455.79 L786.47,1455.86 L786.27,1455.92 L786.07,1455.99 L785.87,1456.04 L785.67,1456.1 L785.47,1456.15 L785.27,1456.2 L785.07,1456.25 L784.87,1456.29 L784.66,1456.33 L784.46,1456.37 L784.26,1456.4 L784.05,1456.44 L783.85,1456.46 L783.65,1456.49 L783.44,1456.51 L783.24,1456.53 L783.03,1456.55 L782.83,1456.57 L782.62,1456.58 L782.42,1456.59 L782.21,1456.59 L782.01,1456.6 L781.8,1456.6 L781.59,1456.6 L781.39,1456.59 L781.18,1456.59 L780.98,1456.58 L780.77,1456.57 L780.57,1456.55 L780.36,1456.53 L780.16,1456.51 L779.95,1456.49 L779.75,1456.46 L779.55,1456.44 L779.34,1456.4 L779.14,1456.37 L778.94,1456.33 L778.73,1456.29 L778.53,1456.25 L778.33,1456.2 L778.13,1456.15 L777.93,1456.1 L777.73,1456.04 L777.53,1455.99 L777.33,1455.92 L777.13,1455.86 L776.94,1455.79 L776.74,1455.71 L776.54,1455.64 L776.35,1455.56 L776.16,1455.47 L775.96,1455.38 L775.77,1455.29 L775.58,1455.19 L775.39,1455.08 L775.21,1454.97 L775.02,1454.86 L774.84,1454.73 L774.66,1454.6 L774.48,1454.47 L774.3,1454.32 L774.13,1454.16 L773.96,1453.99 L773.79,1453.8 L773.63,1453.6 L773.47,1453.37 L773.33,1453.09 L773.2,1452.74 L773.03,1452.63 L772.8,1452.76 L772.58,1452.9 L772.35,1453.03 L772.12,1453.16 L771.89,1453.29 L771.66,1453.42 L771.43,1453.55 L771.19,1453.68 L770.96,1453.8 L770.72,1453.93 L770.49,1454.05 L770.25,1454.17 L770.01,1454.3 L769.76,1454.42 L769.62,1454.19 L769.47,1453.97 L769.32,1453.74 L769.18,1453.52 L769.04,1453.29 L768.9,1453.06 L768.76,1452.84 L768.62,1452.61 L768.49,1452.38 L768.35,1452.15 L768.22,1451.92 L768.09,1451.7 L767.96,1451.47 L767.84,1451.24 L767.63,1451.25 L767.34,1451.49 L767.08,1451.65 L766.83,1451.78 L766.59,1451.87 L766.35,1451.95 L766.12,1452.01 L765.89,1452.06 L765.66,1452.1 L765.43,1452.13 L765.21,1452.15 L764.99,1452.17 L764.77,1452.18 L764.56,1452.18 L764.34,1452.17 L764.13,1452.17 L763.91,1452.15 L763.7,1452.13 L763.49,1452.11 L763.28,1452.08 L763.08,1452.05 L762.87,1452.02 L762.66,1451.98 L762.46,1451.94 L762.26,1451.89 L762.05,1451.84 L761.85,1451.79 L761.65,1451.74 L761.45,1451.68 L761.26,1451.62 L761.06,1451.56 L760.86,1451.49 L760.67,1451.42 L760.48,1451.35 L760.28,1451.27 L760.09,1451.2 L759.9,1451.12 L759.72,1451.04 L759.53,1450.95 L759.34,1450.86 L759.16,1450.77 L758.97,1450.68 L758.79,1450.59 L758.61,1450.49 L758.43,1450.39 L758.25,1450.29 L758.07,1450.19 L757.9,1450.08 L757.72,1449.97 L757.55,1449.86 L757.38,1449.75 L757.21,1449.63 L757.04,1449.51 L756.87,1449.39 L756.71,1449.27 L756.54,1449.15 L756.38,1449.02 L756.22,1448.89 L756.06,1448.76 L755.9,1448.63 L755.75,1448.49 L755.59,1448.35 L755.44,1448.21 L755.29,1448.07 L755.15,1447.92 L755,1447.77 L754.86,1447.62 L754.72,1447.47 L754.58,1447.31 L754.44,1447.15 L754.31,1446.99 L754.18,1446.83 L754.05,1446.66 L753.93,1446.49 L753.81,1446.31 L753.69,1446.14 L753.57,1445.96 L753.46,1445.77 L753.35,1445.58 L753.25,1445.39 L753.15,1445.19 L753.06,1444.99 L752.98,1444.78 L752.9,1444.56 L752.82,1444.34 L752.76,1444.11 L752.71,1443.86 L752.67,1443.6 L752.65,1443.33 L752.67,1443.02 L752.73,1442.65 L752.64,1442.46 L752.38,1442.47 L752.11,1442.47 L751.85,1442.47 L751.59,1442.47 L751.32,1442.47 L751.06,1442.47 L750.79,1442.46 L750.53,1442.46 L750.26,1442.45 L749.99,1442.44 L749.72,1442.43 L749.46,1442.41 L749.19,1442.4 L748.92,1442.38 L748.9,1442.11 L748.89,1441.84 L748.87,1441.58 L748.86,1441.31 L748.85,1441.04 L748.84,1440.77 L748.84,1440.51 L748.83,1440.24 L748.83,1439.98 L748.83,1439.71 L748.83,1439.45 L748.83,1439.19 L748.83,1438.92 L748.84,1438.66 L748.65,1438.57 L748.28,1438.63 L747.97,1438.65 L747.7,1438.63 L747.44,1438.59 L747.19,1438.54 L746.96,1438.48 L746.74,1438.4 L746.52,1438.32 L746.31,1438.24 L746.11,1438.15 L745.91,1438.05 L745.72,1437.95 L745.53,1437.84 L745.34,1437.73 L745.16,1437.61 L744.99,1437.49 L744.81,1437.37 L744.64,1437.25 L744.47,1437.12 L744.31,1436.99 L744.15,1436.86 L743.99,1436.72 L743.83,1436.58 L743.68,1436.44 L743.53,1436.3 L743.38,1436.15 L743.23,1436.01 L743.09,1435.86 L742.95,1435.71 L742.81,1435.55 L742.67,1435.4 L742.54,1435.24 L742.41,1435.08 L742.28,1434.92 L742.15,1434.76 L742.03,1434.59 L741.91,1434.43 L741.79,1434.26 L741.67,1434.09 L741.55,1433.92 L741.44,1433.75 L741.33,1433.58 L741.22,1433.4 L741.11,1433.23 L741.01,1433.05 L740.91,1432.87 L740.81,1432.69 L740.71,1432.51 L740.62,1432.33 L740.53,1432.14 L740.44,1431.96 L740.35,1431.77 L740.26,1431.58 L740.18,1431.4 L740.1,1431.21 L740.03,1431.02 L739.95,1430.82 L739.88,1430.63 L739.81,1430.44 L739.74,1430.24 L739.68,1430.04 L739.62,1429.85 L739.56,1429.65 L739.51,1429.45 L739.46,1429.25 L739.41,1429.04 L739.36,1428.84 L739.32,1428.64 L739.28,1428.43 L739.25,1428.22 L739.22,1428.02 L739.19,1427.81 L739.17,1427.6 L739.15,1427.39 L739.13,1427.17 L739.13,1426.96 L739.12,1426.74 L739.12,1426.53 L739.13,1426.31 L739.15,1426.09 L739.17,1425.87 L739.2,1425.64 L739.24,1425.41 L739.29,1425.18 L739.35,1424.95 L739.43,1424.71 L739.52,1424.47 L739.65,1424.22 L739.81,1423.96 L740.05,1423.67 L740.06,1423.46 L739.83,1423.34 L739.6,1423.21 L739.38,1423.08 L739.15,1422.95 L738.92,1422.81 L738.69,1422.68 L738.46,1422.54 L738.24,1422.4 L738.01,1422.26 L737.78,1422.12 L737.56,1421.98 L737.33,1421.83 L737.11,1421.68 L736.88,1421.54 L737,1421.29 L737.13,1421.05 L737.25,1420.81 L737.37,1420.58 L737.5,1420.34 L737.62,1420.11 L737.75,1419.87 L737.88,1419.64 L738.01,1419.41 L738.14,1419.18 L738.27,1418.95 L738.4,1418.72 L738.54,1418.5 L738.67,1418.27 L738.56,1418.1 L738.21,1417.97 L737.93,1417.83 L737.7,1417.67 L737.5,1417.51 L737.31,1417.34 L737.14,1417.17 L736.98,1417 L736.83,1416.82 L736.7,1416.64 L736.57,1416.46 L736.44,1416.28 L736.33,1416.09 L736.22,1415.91 L736.11,1415.72 L736.01,1415.53 L735.92,1415.34 L735.83,1415.14 L735.74,1414.95 L735.66,1414.76 L735.59,1414.56 L735.51,1414.36 L735.44,1414.17 L735.38,1413.97 L735.31,1413.77 L735.26,1413.57 L735.2,1413.37 L735.15,1413.17 L735.1,1412.97 L735.05,1412.77 L735.01,1412.57 L734.97,1412.36 L734.93,1412.16 L734.9,1411.96 L734.86,1411.75 L734.84,1411.55 L734.81,1411.35 L734.79,1411.14 L734.77,1410.94 L734.75,1410.73 L734.73,1410.53 L734.72,1410.32 L734.71,1410.12 L734.71,1409.91 L734.7,1409.71 L734.7,1409.5 L734.7,1409.29 L734.71,1409.09 L734.71,1408.88 L734.72,1408.68 L734.73,1408.47 L734.75,1408.27 L734.77,1408.06 L734.79,1407.86 L734.81,1407.65 L734.84,1407.45 L734.86,1407.25 L734.9,1407.04 L734.93,1406.84 L734.97,1406.64 L735.01,1406.43 L735.05,1406.23 L735.1,1406.03 L735.15,1405.83 L735.2,1405.63 L735.26,1405.43 L735.31,1405.23 L735.38,1405.03 L735.44,1404.83 L735.51,1404.64 L735.59,1404.44 L735.66,1404.24 L735.74,1404.05 L735.83,1403.86 L735.92,1403.66 L736.01,1403.47 L736.11,1403.28 L736.22,1403.09 L736.33,1402.91 L736.44,1402.72 L736.57,1402.54 L736.7,1402.36 L736.83,1402.18 L736.98,1402 L737.14,1401.83 L737.31,1401.66 L737.5,1401.49 L737.7,1401.33 L737.93,1401.17 L738.21,1401.03 L738.56,1400.9 L738.67,1400.73 L738.54,1400.5 L738.4,1400.28 L738.27,1400.05 L738.14,1399.82 L738.01,1399.59 L737.88,1399.36 L737.75,1399.13 L737.62,1398.89 L737.5,1398.66 L737.37,1398.42 L737.25,1398.19 L737.13,1397.95 L737,1397.71 L736.88,1397.46 L737.11,1397.32 L737.33,1397.17 L737.56,1397.02 L737.78,1396.88 L738.01,1396.74 L738.24,1396.6 L738.46,1396.46 L738.69,1396.32 L738.92,1396.19 L739.15,1396.05 L739.38,1395.92 L739.6,1395.79 L739.83,1395.66 L740.06,1395.54 L740.05,1395.33 L739.81,1395.04 L739.65,1394.78 L739.52,1394.53 L739.43,1394.29 L739.35,1394.05 L739.29,1393.82 L739.24,1393.59 L739.2,1393.36 L739.17,1393.13 L739.15,1392.91 L739.13,1392.69 L739.12,1392.47 L739.12,1392.26 L739.13,1392.04 L739.13,1391.83 L739.15,1391.61 L739.17,1391.4 L739.19,1391.19 L739.22,1390.98 L739.25,1390.78 L739.28,1390.57 L739.32,1390.36 L739.36,1390.16 L739.41,1389.96 L739.46,1389.75 L739.51,1389.55 L739.56,1389.35 L739.62,1389.15 L739.68,1388.96 L739.74,1388.76 L739.81,1388.56 L739.88,1388.37 L739.95,1388.18 L740.03,1387.98 L740.1,1387.79 L740.18,1387.6 L740.26,1387.42 L740.35,1387.23 L740.44,1387.04 L740.53,1386.86 L740.62,1386.67 L740.71,1386.49 L740.81,1386.31 L740.91,1386.13 L741.01,1385.95 L741.11,1385.77 L741.22,1385.6 L741.33,1385.42 L741.44,1385.25 L741.55,1385.08 L741.67,1384.91 L741.79,1384.74 L741.91,1384.57 L742.03,1384.41 L742.15,1384.24 L742.28,1384.08 L742.41,1383.92 L742.54,1383.76 L742.67,1383.6 L742.81,1383.45 L742.95,1383.29 L743.09,1383.14 L743.23,1382.99 L743.38,1382.85 L743.53,1382.7 L743.68,1382.56 L743.83,1382.42 L743.99,1382.28 L744.15,1382.14 L744.31,1382.01 L744.47,1381.88 L744.64,1381.75 L744.81,1381.63 L744.99,1381.51 L745.16,1381.39 L745.34,1381.27 L745.53,1381.16 L745.72,1381.05 L745.91,1380.95 L746.11,1380.85 L746.31,1380.76 L746.52,1380.68 L746.74,1380.6 L746.96,1380.52 L747.19,1380.46 L747.44,1380.41 L747.7,1380.37 L747.97,1380.35 L748.28,1380.37 L748.65,1380.43 L748.84,1380.34 L748.83,1380.08 L748.83,1379.81 L748.83,1379.55 L748.83,1379.29 L748.83,1379.02 L748.83,1378.76 L748.84,1378.49 L748.84,1378.23 L748.85,1377.96 L748.86,1377.69 L748.87,1377.42 L748.89,1377.16 L748.9,1376.89 L748.92,1376.62 L749.19,1376.6 L749.46,1376.59 L749.72,1376.57 L749.99,1376.56 L750.26,1376.55 L750.53,1376.54 L750.79,1376.54 L751.06,1376.53 L751.32,1376.53 L751.59,1376.53 L751.85,1376.53 L752.11,1376.53 L752.38,1376.53 L752.64,1376.54 L752.73,1376.35 L752.67,1375.98 L752.65,1375.67 L752.67,1375.4 L752.71,1375.14 L752.76,1374.89 L752.82,1374.66 L752.9,1374.44 L752.98,1374.22 L753.06,1374.01 L753.15,1373.81 L753.25,1373.61 L753.35,1373.42 L753.46,1373.23 L753.57,1373.04 L753.69,1372.86 L753.81,1372.69 L753.93,1372.51 L754.05,1372.34 L754.18,1372.17 L754.31,1372.01 L754.44,1371.85 L754.58,1371.69 L754.72,1371.53 L754.86,1371.38 L755,1371.23 L755.15,1371.08 L755.29,1370.93 L755.44,1370.79 L755.59,1370.65 L755.75,1370.51 L755.9,1370.37 L756.06,1370.24 L756.22,1370.11 L756.38,1369.98 L756.54,1369.85 L756.71,1369.73 L756.87,1369.61 L757.04,1369.49 L757.21,1369.37 L757.38,1369.25 L757.55,1369.14 L757.72,1369.03 L757.9,1368.92 L758.07,1368.81 L758.25,1368.71 L758.43,1368.61 L758.61,1368.51 L758.79,1368.41 L758.97,1368.32 L759.16,1368.23 L759.34,1368.14 L759.53,1368.05 L759.72,1367.96 L759.9,1367.88 L760.09,1367.8 L760.28,1367.73 L760.48,1367.65 L760.67,1367.58 L760.86,1367.51 L761.06,1367.44 L761.26,1367.38 L761.45,1367.32 L761.65,1367.26 L761.85,1367.21 L762.05,1367.16 L762.26,1367.11 L762.46,1367.06 L762.66,1367.02 L762.87,1366.98 L763.08,1366.95 L763.28,1366.92 L763.49,1366.89 L763.7,1366.87 L763.91,1366.85 L764.13,1366.83 L764.34,1366.83 L764.56,1366.82 L764.77,1366.82 L764.99,1366.83 L765.21,1366.85 L765.43,1366.87 L765.66,1366.9 L765.89,1366.94 L766.12,1366.99 L766.35,1367.05 L766.59,1367.13 L766.83,1367.22 L767.08,1367.35 L767.34,1367.51 L767.63,1367.75 L767.84,1367.76 L767.96,1367.53 L768.09,1367.3 L768.22,1367.08 L768.35,1366.85 L768.49,1366.62 L768.62,1366.39 L768.76,1366.16 L768.9,1365.94 L769.04,1365.71 L769.18,1365.48 L769.32,1365.26 L769.47,1365.03 L769.62,1364.81 L769.76,1364.58 L770.01,1364.7 L770.25,1364.83 L770.49,1364.95 L770.72,1365.07 L770.96,1365.2 L771.19,1365.32 L771.43,1365.45 L771.66,1365.58 L771.89,1365.71 L772.12,1365.84 L772.35,1365.97 L772.58,1366.1 L772.8,1366.24 L773.03,1366.37 L773.2,1366.26 L773.33,1365.91 L773.47,1365.63 L773.63,1365.4 L773.79,1365.2 L773.96,1365.01 L774.13,1364.84 L774.3,1364.68 L774.48,1364.53 L774.66,1364.4 L774.84,1364.27 L775.02,1364.14 L775.21,1364.03 L775.39,1363.92 L775.58,1363.81 L775.77,1363.71 L775.96,1363.62 L776.16,1363.53 L776.35,1363.44 L776.54,1363.36 L776.74,1363.29 L776.94,1363.21 L777.13,1363.14 L777.33,1363.08 L777.53,1363.01 L777.73,1362.96 L777.93,1362.9 L778.13,1362.85 L778.33,1362.8 L778.53,1362.75 L778.73,1362.71 L778.94,1362.67 L779.14,1362.63 L779.34,1362.6 L779.55,1362.56 L779.75,1362.54 L779.95,1362.51 L780.16,1362.49 L780.36,1362.47 L780.57,1362.45 L780.77,1362.43 L780.98,1362.42 L781.18,1362.41 L781.39,1362.41 L781.59,1362.4Z" fill="#f3f0eb" stroke="#48b6e0" stroke-width="1"/>
<text x="619" y="574.2" text-anchor="middle" textLength="96" lengthAdjust="spacingAndGlyphs" style="font-size:17px;fill:#3b3d66;">Shareholders</text>
<text x="620.3" y="712.9" text-anchor="middle" textLength="65.2" lengthAdjust="spacingAndGlyphs" style="font-size:17px;fill:#3b3d66;">Board of</text>
<text x="619.35" y="731.9" text-anchor="middle" textLength="67.1" lengthAdjust="spacingAndGlyphs" style="font-size:17px;fill:#3b3d66;">Directors</text>
<text x="619.65" y="866.8" text-anchor="middle" textLength="43.3" lengthAdjust="spacingAndGlyphs" style="font-size:17px;fill:#3b3d66;">Board</text>
<text x="619.05" y="885.7" text-anchor="middle" textLength="87.1" lengthAdjust="spacingAndGlyphs" style="font-size:17px;fill:#3b3d66;">Committees</text>
<text x="471.05" y="1025" text-anchor="middle" textLength="84.9" lengthAdjust="spacingAndGlyphs" style="font-size:13.8px;fill:#78c6e5;">Remuneration</text>
<text x="470.5" y="1040.7" text-anchor="middle" textLength="66" lengthAdjust="spacingAndGlyphs" style="font-size:13.8px;fill:#78c6e5;">Committee</text>
<text x="618.85" y="1028.7" text-anchor="middle" textLength="71.1" lengthAdjust="spacingAndGlyphs" style="font-size:13.8px;fill:#78c6e5;">Nomination</text>
<text x="619.35" y="1046" text-anchor="middle" textLength="65.9" lengthAdjust="spacingAndGlyphs" style="font-size:13.8px;fill:#78c6e5;">Committee</text>
<text x="767.45" y="1028.9" text-anchor="middle" textLength="31.9" lengthAdjust="spacingAndGlyphs" style="font-size:13.8px;fill:#78c6e5;">Audit</text>
<text x="768.05" y="1046.3" text-anchor="middle" textLength="66.9" lengthAdjust="spacingAndGlyphs" style="font-size:13.8px;fill:#78c6e5;">Committee</text>
<text x="469.9" y="1145" text-anchor="middle" textLength="76.2" lengthAdjust="spacingAndGlyphs" style="font-size:13.8px;fill:#78c6e5;">Management</text>
<text x="470.2" y="1162" text-anchor="middle" textLength="71.6" lengthAdjust="spacingAndGlyphs" style="font-size:13.8px;fill:#78c6e5;">Committees</text>
<text x="472.35" y="1282.6" text-anchor="middle" textLength="78.9" lengthAdjust="spacingAndGlyphs" style="font-size:13.8px;fill:#78c6e5;">Sustainability</text>
<text x="473.25" y="1298.8" text-anchor="middle" textLength="66.5" lengthAdjust="spacingAndGlyphs" style="font-size:13.8px;fill:#78c6e5;">Committee</text>
<text x="620.45" y="1271.7" text-anchor="middle" textLength="37.7" lengthAdjust="spacingAndGlyphs" style="font-size:13.8px;fill:#78c6e5;">Group</text>
<text x="620.7" y="1288.9" text-anchor="middle" textLength="76.6" lengthAdjust="spacingAndGlyphs" style="font-size:13.8px;fill:#78c6e5;">Management</text>
<text x="620.35" y="1304.8" text-anchor="middle" textLength="65.7" lengthAdjust="spacingAndGlyphs" style="font-size:13.8px;fill:#78c6e5;">Committee</text>
<text x="620.9" y="1406" text-anchor="middle" textLength="56.8" lengthAdjust="spacingAndGlyphs" style="font-size:13.8px;fill:#78c6e5;">Employer</text>
<text x="621.25" y="1421.5" text-anchor="middle" textLength="55.3" lengthAdjust="spacingAndGlyphs" style="font-size:13.8px;fill:#78c6e5;">Branding</text>
<text x="783.55" y="1406" text-anchor="middle" textLength="55.1" lengthAdjust="spacingAndGlyphs" style="font-size:13.8px;fill:#78c6e5;">Employer</text>
<text x="784.05" y="1421.5" text-anchor="middle" textLength="54.1" lengthAdjust="spacingAndGlyphs" style="font-size:13.8px;fill:#78c6e5;">Branding</text>
<text x="453.9" y="1679.7" textLength="30" lengthAdjust="spacingAndGlyphs" style="font-size:28.5px;fill:#1d2549;" stroke="#1d2549" stroke-width="0.3">84</text>
<text x="502.3" y="1678.7" textLength="283.8" lengthAdjust="spacingAndGlyphs" style="font-size:20.9px;fill:#5a5a5a;font-style:italic;">Diesel &amp; Motor Engineering PLC</text>
</svg>
</body></html>
